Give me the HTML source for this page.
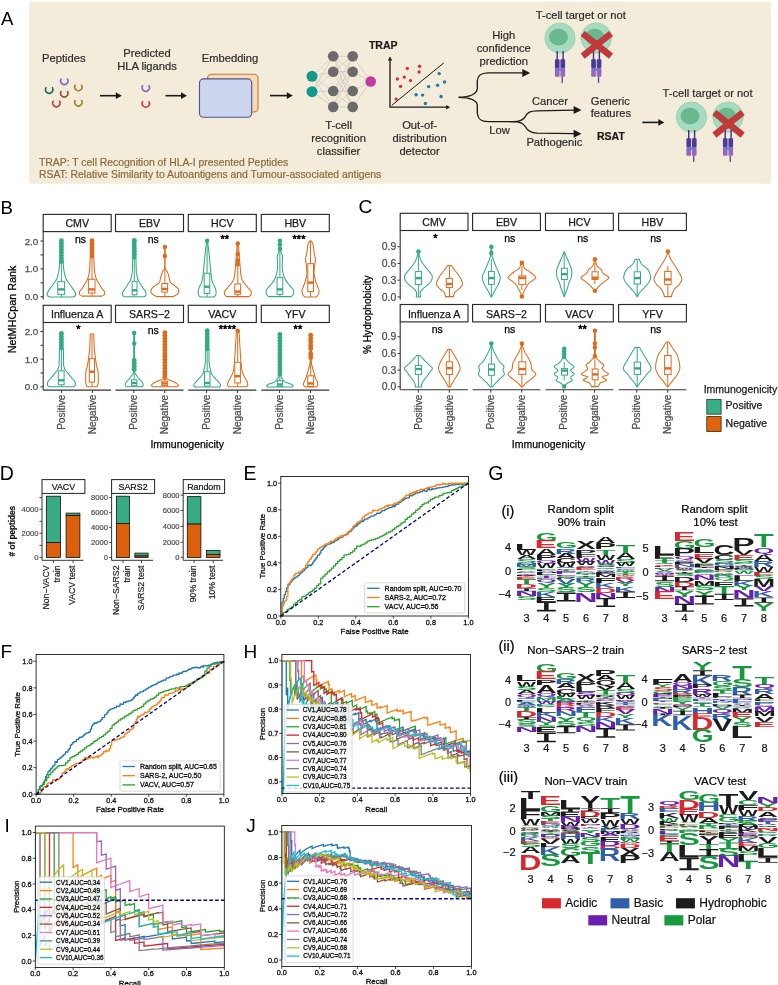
<!DOCTYPE html>
<html><head><meta charset="utf-8"><style>
html,body{margin:0;padding:0;background:#fff;width:778px;height:985px;overflow:hidden}
svg{display:block}
text{font-family:"Liberation Sans", sans-serif}
</style></head><body>
<svg style="will-change:transform" width="778" height="985" viewBox="0 0 778 985">
<text x="0.90" y="24.80" font-size="18.6" fill="#000">A</text>
<rect x="29.2" y="1.6" width="741.9" height="182.2" rx="2.2" fill="#f4ecda"/>
<text x="63.80" y="61.80" font-size="11.2" fill="#2b2b2b" text-anchor="middle" stroke="#2b2b2b" stroke-width="0.2">Peptides</text>
<text x="147.00" y="57.00" font-size="11.2" fill="#2b2b2b" text-anchor="middle" stroke="#2b2b2b" stroke-width="0.2">Predicted</text>
<text x="147.00" y="70.00" font-size="11.2" fill="#2b2b2b" text-anchor="middle" stroke="#2b2b2b" stroke-width="0.2">HLA ligands</text>
<text x="230.00" y="62.00" font-size="11.2" fill="#2b2b2b" text-anchor="middle" stroke="#2b2b2b" stroke-width="0.2">Embedding</text>
<path d="M52.40,87.65 A3.7,3.7 0 1 1 46.00,87.65" fill="none" stroke="#1f6e5a" stroke-width="1.55" stroke-linecap="round"/>
<path d="M67.50,78.95 A3.7,3.7 0 1 1 61.10,78.95" fill="none" stroke="#8a62c2" stroke-width="1.55" stroke-linecap="round"/>
<path d="M81.60,85.05 A3.7,3.7 0 1 1 75.20,85.05" fill="none" stroke="#b37730" stroke-width="1.55" stroke-linecap="round"/>
<path d="M67.50,91.45 A3.7,3.7 0 1 1 61.10,91.45" fill="none" stroke="#99582a" stroke-width="1.55" stroke-linecap="round"/>
<path d="M59.60,101.15 A3.7,3.7 0 1 1 53.20,101.15" fill="none" stroke="#cc3b45" stroke-width="1.55" stroke-linecap="round"/>
<path d="M81.60,100.45 A3.7,3.7 0 1 1 75.20,100.45" fill="none" stroke="#9c8529" stroke-width="1.55" stroke-linecap="round"/>
<path d="M149.00,85.75 A3.7,3.7 0 1 1 142.60,85.75" fill="none" stroke="#8a62c2" stroke-width="1.55" stroke-linecap="round"/>
<path d="M149.00,101.55 A3.7,3.7 0 1 1 142.60,101.55" fill="none" stroke="#cc3b45" stroke-width="1.55" stroke-linecap="round"/>
<line x1="100" y1="95.7" x2="116.3" y2="95.7" stroke="#1a1a1a" stroke-width="1.6"/><path d="M121.8,95.7 L115.8,92.3 L115.8,99.10000000000001 Z" fill="#1a1a1a"/>
<line x1="165.5" y1="95.7" x2="181.5" y2="95.7" stroke="#1a1a1a" stroke-width="1.6"/><path d="M187,95.7 L181,92.3 L181,99.10000000000001 Z" fill="#1a1a1a"/>
<line x1="270" y1="95.6" x2="287.3" y2="95.6" stroke="#1a1a1a" stroke-width="1.6"/><path d="M292.8,95.6 L286.8,92.19999999999999 L286.8,99.0 Z" fill="#1a1a1a"/>
<line x1="642.3" y1="122.4" x2="658.8" y2="122.4" stroke="#1a1a1a" stroke-width="1.6"/><path d="M664.3,122.4 L658.3,119.0 L658.3,125.80000000000001 Z" fill="#1a1a1a"/>
<rect x="207.5" y="74.3" width="50.5" height="37.7" rx="4" fill="#f7dbb5" stroke="#b87a3c" stroke-width="1.1"/>
<rect x="199.5" y="78.9" width="52.2" height="38.3" rx="4" fill="#cdd5ee" stroke="#4a5592" stroke-width="1.1"/>
<line x1="312" y1="76.3" x2="333.2" y2="56.3" stroke="#c4c0bb" stroke-width="0.6"/>
<line x1="312" y1="76.3" x2="333.2" y2="71.7" stroke="#c4c0bb" stroke-width="0.6"/>
<line x1="312" y1="76.3" x2="333.2" y2="91" stroke="#c4c0bb" stroke-width="0.6"/>
<line x1="312" y1="76.3" x2="333.2" y2="106.9" stroke="#c4c0bb" stroke-width="0.6"/>
<line x1="312" y1="91.7" x2="333.2" y2="56.3" stroke="#c4c0bb" stroke-width="0.6"/>
<line x1="312" y1="91.7" x2="333.2" y2="71.7" stroke="#c4c0bb" stroke-width="0.6"/>
<line x1="312" y1="91.7" x2="333.2" y2="91" stroke="#c4c0bb" stroke-width="0.6"/>
<line x1="312" y1="91.7" x2="333.2" y2="106.9" stroke="#c4c0bb" stroke-width="0.6"/>
<line x1="333.2" y1="56.3" x2="352.7" y2="56.3" stroke="#c4c0bb" stroke-width="0.6"/>
<line x1="333.2" y1="56.3" x2="352.7" y2="71.7" stroke="#c4c0bb" stroke-width="0.6"/>
<line x1="333.2" y1="56.3" x2="352.7" y2="91" stroke="#c4c0bb" stroke-width="0.6"/>
<line x1="333.2" y1="56.3" x2="352.7" y2="106.9" stroke="#c4c0bb" stroke-width="0.6"/>
<line x1="333.2" y1="71.7" x2="352.7" y2="56.3" stroke="#c4c0bb" stroke-width="0.6"/>
<line x1="333.2" y1="71.7" x2="352.7" y2="71.7" stroke="#c4c0bb" stroke-width="0.6"/>
<line x1="333.2" y1="71.7" x2="352.7" y2="91" stroke="#c4c0bb" stroke-width="0.6"/>
<line x1="333.2" y1="71.7" x2="352.7" y2="106.9" stroke="#c4c0bb" stroke-width="0.6"/>
<line x1="333.2" y1="91" x2="352.7" y2="56.3" stroke="#c4c0bb" stroke-width="0.6"/>
<line x1="333.2" y1="91" x2="352.7" y2="71.7" stroke="#c4c0bb" stroke-width="0.6"/>
<line x1="333.2" y1="91" x2="352.7" y2="91" stroke="#c4c0bb" stroke-width="0.6"/>
<line x1="333.2" y1="91" x2="352.7" y2="106.9" stroke="#c4c0bb" stroke-width="0.6"/>
<line x1="333.2" y1="106.9" x2="352.7" y2="56.3" stroke="#c4c0bb" stroke-width="0.6"/>
<line x1="333.2" y1="106.9" x2="352.7" y2="71.7" stroke="#c4c0bb" stroke-width="0.6"/>
<line x1="333.2" y1="106.9" x2="352.7" y2="91" stroke="#c4c0bb" stroke-width="0.6"/>
<line x1="333.2" y1="106.9" x2="352.7" y2="106.9" stroke="#c4c0bb" stroke-width="0.6"/>
<line x1="352.7" y1="56.3" x2="370.7" y2="81.5" stroke="#c4c0bb" stroke-width="0.6"/>
<line x1="352.7" y1="71.7" x2="370.7" y2="81.5" stroke="#c4c0bb" stroke-width="0.6"/>
<line x1="352.7" y1="91" x2="370.7" y2="81.5" stroke="#c4c0bb" stroke-width="0.6"/>
<line x1="352.7" y1="106.9" x2="370.7" y2="81.5" stroke="#c4c0bb" stroke-width="0.6"/>
<circle cx="312" cy="76.3" r="5.5" fill="#12998c"/>
<circle cx="312" cy="91.7" r="5.5" fill="#12998c"/>
<circle cx="333.2" cy="56.3" r="5.3" fill="#6b6b6b"/>
<circle cx="333.2" cy="71.7" r="5.3" fill="#6b6b6b"/>
<circle cx="333.2" cy="91" r="5.3" fill="#6b6b6b"/>
<circle cx="333.2" cy="106.9" r="5.3" fill="#6b6b6b"/>
<circle cx="352.7" cy="56.3" r="5.3" fill="#6b6b6b"/>
<circle cx="352.7" cy="71.7" r="5.3" fill="#6b6b6b"/>
<circle cx="352.7" cy="91" r="5.3" fill="#6b6b6b"/>
<circle cx="352.7" cy="106.9" r="5.3" fill="#6b6b6b"/>
<circle cx="370.7" cy="81.5" r="5.3" fill="#c4399f"/>
<text x="338.60" y="129.20" font-size="11.2" fill="#2b2b2b" text-anchor="middle" stroke="#2b2b2b" stroke-width="0.2">T-cell</text>
<text x="338.60" y="141.90" font-size="11.2" fill="#2b2b2b" text-anchor="middle" stroke="#2b2b2b" stroke-width="0.2">recognition</text>
<text x="338.60" y="154.60" font-size="11.2" fill="#2b2b2b" text-anchor="middle" stroke="#2b2b2b" stroke-width="0.2">classifier</text>
<text x="383.20" y="48.90" font-size="10.5" fill="#1a1a1a" text-anchor="middle" font-weight="bold" stroke="#1a1a1a" stroke-width="0.2">TRAP</text>
<path d="M390,59 V107.2 H448" fill="none" stroke="#1a1a1a" stroke-width="1.3"/>
<path d="M390,56.6 l-2.2,4 h4.4 z M450.2,107.2 l-4,-2.2 v4.4 z" fill="#1a1a1a"/>
<line x1="391.8" y1="105.3" x2="443.9" y2="62.8" stroke="#1a1a1a" stroke-width="1"/>
<circle cx="407.3" cy="68.5" r="1.7" fill="#d8303a"/>
<circle cx="419.6" cy="66.2" r="1.7" fill="#d8303a"/>
<circle cx="419.1" cy="72" r="1.7" fill="#d8303a"/>
<circle cx="397.4" cy="79" r="1.7" fill="#d8303a"/>
<circle cx="404.3" cy="77.1" r="1.7" fill="#d8303a"/>
<circle cx="410.5" cy="80.6" r="1.7" fill="#d8303a"/>
<circle cx="400.6" cy="86.4" r="1.7" fill="#d8303a"/>
<circle cx="396.2" cy="99.1" r="1.7" fill="#d8303a"/>
<circle cx="439.2" cy="73.6" r="1.7" fill="#1a78b4"/>
<circle cx="444.6" cy="82" r="1.7" fill="#1a78b4"/>
<circle cx="437.6" cy="85.2" r="1.7" fill="#1a78b4"/>
<circle cx="428.6" cy="86.6" r="1.7" fill="#1a78b4"/>
<circle cx="416.1" cy="94.7" r="1.7" fill="#1a78b4"/>
<circle cx="422.6" cy="95.1" r="1.7" fill="#1a78b4"/>
<circle cx="441.1" cy="96.5" r="1.7" fill="#1a78b4"/>
<circle cx="425.4" cy="103.5" r="1.7" fill="#1a78b4"/>
<text x="419.60" y="129.20" font-size="11.2" fill="#2b2b2b" text-anchor="middle" stroke="#2b2b2b" stroke-width="0.2">Out-of-</text>
<text x="419.60" y="141.90" font-size="11.2" fill="#2b2b2b" text-anchor="middle" stroke="#2b2b2b" stroke-width="0.2">distribution</text>
<text x="419.60" y="154.60" font-size="11.2" fill="#2b2b2b" text-anchor="middle" stroke="#2b2b2b" stroke-width="0.2">detector</text>
<path d="M458.6,97.3 C468,97.1 476.6,95.5 477.3,88.5 L477.3,81 C477.6,75.5 480.5,73.1 488,72.9 L524,72.9" fill="none" stroke="#1a1a1a" stroke-width="1.35"/>
<path d="M530.2,72.9 L522.3,68.9 L522.3,76.9 Z" fill="#1a1a1a"/>
<path d="M458.6,97.3 C468,97.5 476.6,99.2 477.3,105 L477.3,113 C477.8,119.3 481,121.6 488,121.7 L513.3,121.7 C520,121.6 523.5,119.8 525.5,116.3 C527.5,112.5 530,110.9 537,110.8 L575,110.2" fill="none" stroke="#1a1a1a" stroke-width="1.35"/>
<path d="M581.5,110.1 L573.6,106.1 L573.6,114.1 Z" fill="#1a1a1a"/>
<path d="M513.3,121.7 C520,121.8 523.2,123.3 525.2,126.5 C527.3,130.3 530,132.9 537,133.2 L575,133.6" fill="none" stroke="#1a1a1a" stroke-width="1.35"/>
<path d="M581.5,133.7 L573.6,129.7 L573.6,137.7 Z" fill="#1a1a1a"/>
<text x="503.70" y="39.30" font-size="11.2" fill="#2b2b2b" text-anchor="middle" stroke="#2b2b2b" stroke-width="0.2">High</text>
<text x="503.70" y="52.00" font-size="11.2" fill="#2b2b2b" text-anchor="middle" stroke="#2b2b2b" stroke-width="0.2">confidence</text>
<text x="503.70" y="65.20" font-size="11.2" fill="#2b2b2b" text-anchor="middle" stroke="#2b2b2b" stroke-width="0.2">prediction</text>
<text x="532.00" y="104.60" font-size="11.2" fill="#2b2b2b" stroke="#2b2b2b" stroke-width="0.2">Cancer</text>
<text x="489.30" y="134.20" font-size="11.2" fill="#2b2b2b" stroke="#2b2b2b" stroke-width="0.2">Low</text>
<text x="526.40" y="145.80" font-size="11.2" fill="#2b2b2b" stroke="#2b2b2b" stroke-width="0.2">Pathogenic</text>
<text x="590.70" y="104.60" font-size="11.2" fill="#2b2b2b" stroke="#2b2b2b" stroke-width="0.2">Generic</text>
<text x="590.70" y="116.80" font-size="11.2" fill="#2b2b2b" stroke="#2b2b2b" stroke-width="0.2">features</text>
<text x="597.00" y="140.00" font-size="10.5" fill="#1a1a1a" font-weight="bold" stroke="#1a1a1a" stroke-width="0.2">RSAT</text>
<text x="580.80" y="19.00" font-size="11.2" fill="#2b2b2b" text-anchor="middle" stroke="#2b2b2b" stroke-width="0.2">T-cell target or not</text>
<text x="707.60" y="97.40" font-size="11.2" fill="#2b2b2b" text-anchor="middle" stroke="#2b2b2b" stroke-width="0.2">T-cell target or not</text>
<circle cx="560" cy="38.1" r="15.2" fill="#a7dbc0" stroke="#8cc4a8" stroke-width="0.6"/><ellipse cx="558.5" cy="37.1" rx="9.5" ry="8.4" fill="#6ab98e"/><rect x="556.5" y="51.0" width="1.4" height="9" fill="#3d2f85"/><rect x="562.4" y="51.0" width="1.4" height="9" fill="#3d2f85"/><rect x="554.9" y="59.2" width="4.7" height="8.8" rx="0.8" fill="#4b3a98"/><rect x="560.4" y="59.2" width="4.7" height="8.8" rx="0.8" fill="#4b3a98"/><rect x="554.9" y="68.0" width="4.7" height="8.7" rx="0.8" fill="#9468bf"/><rect x="560.4" y="68.0" width="4.7" height="8.7" rx="0.8" fill="#9468bf"/><ellipse cx="560" cy="69.5" rx="2.2" ry="1.2" fill="#3f8fd8"/><rect x="561.6" y="76.7" width="1.3" height="6.2" fill="#5a3e9e"/>
<circle cx="596.3" cy="38.1" r="15.2" fill="#a7dbc0" stroke="#8cc4a8" stroke-width="0.6"/><ellipse cx="594.8" cy="37.1" rx="9.5" ry="8.4" fill="#6ab98e"/><rect x="592.8" y="51.0" width="1.4" height="9" fill="#3d2f85"/><rect x="598.7" y="51.0" width="1.4" height="9" fill="#3d2f85"/><rect x="591.2" y="59.2" width="4.7" height="8.8" rx="0.8" fill="#4b3a98"/><rect x="596.7" y="59.2" width="4.7" height="8.8" rx="0.8" fill="#4b3a98"/><rect x="591.2" y="68.0" width="4.7" height="8.7" rx="0.8" fill="#9468bf"/><rect x="596.7" y="68.0" width="4.7" height="8.7" rx="0.8" fill="#9468bf"/><ellipse cx="596.3" cy="69.5" rx="2.2" ry="1.2" fill="#3f8fd8"/><rect x="597.9" y="76.7" width="1.3" height="6.2" fill="#5a3e9e"/><path d="M582.6999999999999,33.5 L611.0,56.1 M611.0,33.5 L582.6999999999999,56.1" stroke="#c0393b" stroke-width="6.5" stroke-linecap="butt"/>
<circle cx="691.5" cy="117.1" r="15.2" fill="#a7dbc0" stroke="#8cc4a8" stroke-width="0.6"/><ellipse cx="690.0" cy="116.1" rx="9.5" ry="8.4" fill="#6ab98e"/><rect x="688.0" y="130.0" width="1.4" height="9" fill="#3d2f85"/><rect x="693.9" y="130.0" width="1.4" height="9" fill="#3d2f85"/><rect x="686.4" y="138.2" width="4.7" height="8.8" rx="0.8" fill="#4b3a98"/><rect x="691.9" y="138.2" width="4.7" height="8.8" rx="0.8" fill="#4b3a98"/><rect x="686.4" y="147.0" width="4.7" height="8.7" rx="0.8" fill="#9468bf"/><rect x="691.9" y="147.0" width="4.7" height="8.7" rx="0.8" fill="#9468bf"/><ellipse cx="691.5" cy="148.5" rx="2.2" ry="1.2" fill="#3f8fd8"/><rect x="693.1" y="155.7" width="1.3" height="6.2" fill="#5a3e9e"/>
<circle cx="728" cy="117.1" r="15.2" fill="#a7dbc0" stroke="#8cc4a8" stroke-width="0.6"/><ellipse cx="726.5" cy="116.1" rx="9.5" ry="8.4" fill="#6ab98e"/><rect x="724.5" y="130.0" width="1.4" height="9" fill="#3d2f85"/><rect x="730.4" y="130.0" width="1.4" height="9" fill="#3d2f85"/><rect x="722.9" y="138.2" width="4.7" height="8.8" rx="0.8" fill="#4b3a98"/><rect x="728.4" y="138.2" width="4.7" height="8.8" rx="0.8" fill="#4b3a98"/><rect x="722.9" y="147.0" width="4.7" height="8.7" rx="0.8" fill="#9468bf"/><rect x="728.4" y="147.0" width="4.7" height="8.7" rx="0.8" fill="#9468bf"/><ellipse cx="728" cy="148.5" rx="2.2" ry="1.2" fill="#3f8fd8"/><rect x="729.6" y="155.7" width="1.3" height="6.2" fill="#5a3e9e"/><path d="M714.4,112.5 L742.7,135.1 M742.7,112.5 L714.4,135.1" stroke="#c0393b" stroke-width="6.5" stroke-linecap="butt"/>
<text x="39.00" y="166.10" font-size="10.4" fill="#8b6a3a" stroke="#8b6a3a" stroke-width="0.2">TRAP: T cell Recognition of HLA-I presented Peptides</text>
<text x="39.00" y="177.90" font-size="10.4" fill="#8b6a3a" stroke="#8b6a3a" stroke-width="0.2">RSAT: Relative Similarity to Autoantigens and Tumour-associated antigens</text>
<text x="0.50" y="213.50" font-size="18.6" fill="#000">B</text>
<text x="358.60" y="213.20" font-size="19.2" fill="#000">C</text>
<rect x="43.20" y="214.40" width="68.00" height="17.20" fill="#fff" stroke="#2a2a2a" stroke-width="1.15"/>
<text x="77.20" y="227.30" font-size="10.6" fill="#1a1a1a" text-anchor="middle" stroke="#1a1a1a" stroke-width="0.25">CMV</text>
<rect x="43.20" y="305.30" width="68.00" height="17.20" fill="#fff" stroke="#2a2a2a" stroke-width="1.15"/>
<text x="77.20" y="318.20" font-size="10.6" fill="#1a1a1a" text-anchor="middle" stroke="#1a1a1a" stroke-width="0.25">Influenza A</text>
<rect x="115.50" y="214.40" width="68.00" height="17.20" fill="#fff" stroke="#2a2a2a" stroke-width="1.15"/>
<text x="149.50" y="227.30" font-size="10.6" fill="#1a1a1a" text-anchor="middle" stroke="#1a1a1a" stroke-width="0.25">EBV</text>
<rect x="115.50" y="305.30" width="68.00" height="17.20" fill="#fff" stroke="#2a2a2a" stroke-width="1.15"/>
<text x="149.50" y="318.20" font-size="10.6" fill="#1a1a1a" text-anchor="middle" stroke="#1a1a1a" stroke-width="0.25">SARS−2</text>
<rect x="188.30" y="214.40" width="68.00" height="17.20" fill="#fff" stroke="#2a2a2a" stroke-width="1.15"/>
<text x="222.30" y="227.30" font-size="10.6" fill="#1a1a1a" text-anchor="middle" stroke="#1a1a1a" stroke-width="0.25">HCV</text>
<rect x="188.30" y="305.30" width="68.00" height="17.20" fill="#fff" stroke="#2a2a2a" stroke-width="1.15"/>
<text x="222.30" y="318.20" font-size="10.6" fill="#1a1a1a" text-anchor="middle" stroke="#1a1a1a" stroke-width="0.25">VACV</text>
<rect x="261.30" y="214.40" width="68.00" height="17.20" fill="#fff" stroke="#2a2a2a" stroke-width="1.15"/>
<text x="295.30" y="227.30" font-size="10.6" fill="#1a1a1a" text-anchor="middle" stroke="#1a1a1a" stroke-width="0.25">HBV</text>
<rect x="261.30" y="305.30" width="68.00" height="17.20" fill="#fff" stroke="#2a2a2a" stroke-width="1.15"/>
<text x="295.30" y="318.20" font-size="10.6" fill="#1a1a1a" text-anchor="middle" stroke="#1a1a1a" stroke-width="0.25">YFV</text>
<line x1="43.2" y1="231.6" x2="43.2" y2="299.6" stroke="#333" stroke-width="1.1"/>
<line x1="40.5" y1="296.80" x2="43.2" y2="296.80" stroke="#333" stroke-width="1"/>
<text x="38.30" y="300.30" font-size="9.8" fill="#4d4d4d" text-anchor="end" stroke="#4d4d4d" stroke-width="0.25">0.0</text>
<line x1="40.5" y1="282.85" x2="43.2" y2="282.85" stroke="#333" stroke-width="1"/>
<line x1="40.5" y1="268.90" x2="43.2" y2="268.90" stroke="#333" stroke-width="1"/>
<text x="38.30" y="272.40" font-size="9.8" fill="#4d4d4d" text-anchor="end" stroke="#4d4d4d" stroke-width="0.25">1.0</text>
<line x1="40.5" y1="254.95" x2="43.2" y2="254.95" stroke="#333" stroke-width="1"/>
<line x1="40.5" y1="241.00" x2="43.2" y2="241.00" stroke="#333" stroke-width="1"/>
<text x="38.30" y="244.50" font-size="9.8" fill="#4d4d4d" text-anchor="end" stroke="#4d4d4d" stroke-width="0.25">2.0</text>
<line x1="43.2" y1="322.5" x2="43.2" y2="390.1" stroke="#333" stroke-width="1.1"/>
<line x1="40.5" y1="386.80" x2="43.2" y2="386.80" stroke="#333" stroke-width="1"/>
<text x="38.30" y="390.30" font-size="9.8" fill="#4d4d4d" text-anchor="end" stroke="#4d4d4d" stroke-width="0.25">0.0</text>
<line x1="40.5" y1="372.98" x2="43.2" y2="372.98" stroke="#333" stroke-width="1"/>
<line x1="40.5" y1="359.15" x2="43.2" y2="359.15" stroke="#333" stroke-width="1"/>
<text x="38.30" y="362.65" font-size="9.8" fill="#4d4d4d" text-anchor="end" stroke="#4d4d4d" stroke-width="0.25">1.0</text>
<line x1="40.5" y1="345.32" x2="43.2" y2="345.32" stroke="#333" stroke-width="1"/>
<line x1="40.5" y1="331.50" x2="43.2" y2="331.50" stroke="#333" stroke-width="1"/>
<text x="38.30" y="335.00" font-size="9.8" fill="#4d4d4d" text-anchor="end" stroke="#4d4d4d" stroke-width="0.25">2.0</text>
<line x1="43.20" y1="390.1" x2="111.20" y2="390.1" stroke="#333" stroke-width="1.1"/>
<line x1="61.50" y1="390.1" x2="61.50" y2="393" stroke="#333" stroke-width="1"/>
<text x="65.00" y="394.80" font-size="10" fill="#4d4d4d" text-anchor="end" transform="rotate(-90 65.00 394.80)" stroke="#4d4d4d" stroke-width="0.25">Positive</text>
<line x1="92.40" y1="390.1" x2="92.40" y2="393" stroke="#333" stroke-width="1"/>
<text x="95.90" y="394.80" font-size="10" fill="#4d4d4d" text-anchor="end" transform="rotate(-90 95.90 394.80)" stroke="#4d4d4d" stroke-width="0.25">Negative</text>
<line x1="115.50" y1="390.1" x2="183.50" y2="390.1" stroke="#333" stroke-width="1.1"/>
<line x1="133.80" y1="390.1" x2="133.80" y2="393" stroke="#333" stroke-width="1"/>
<text x="137.30" y="394.80" font-size="10" fill="#4d4d4d" text-anchor="end" transform="rotate(-90 137.30 394.80)" stroke="#4d4d4d" stroke-width="0.25">Positive</text>
<line x1="164.70" y1="390.1" x2="164.70" y2="393" stroke="#333" stroke-width="1"/>
<text x="168.20" y="394.80" font-size="10" fill="#4d4d4d" text-anchor="end" transform="rotate(-90 168.20 394.80)" stroke="#4d4d4d" stroke-width="0.25">Negative</text>
<line x1="188.30" y1="390.1" x2="256.30" y2="390.1" stroke="#333" stroke-width="1.1"/>
<line x1="206.60" y1="390.1" x2="206.60" y2="393" stroke="#333" stroke-width="1"/>
<text x="210.10" y="394.80" font-size="10" fill="#4d4d4d" text-anchor="end" transform="rotate(-90 210.10 394.80)" stroke="#4d4d4d" stroke-width="0.25">Positive</text>
<line x1="237.50" y1="390.1" x2="237.50" y2="393" stroke="#333" stroke-width="1"/>
<text x="241.00" y="394.80" font-size="10" fill="#4d4d4d" text-anchor="end" transform="rotate(-90 241.00 394.80)" stroke="#4d4d4d" stroke-width="0.25">Negative</text>
<line x1="261.30" y1="390.1" x2="329.30" y2="390.1" stroke="#333" stroke-width="1.1"/>
<line x1="279.60" y1="390.1" x2="279.60" y2="393" stroke="#333" stroke-width="1"/>
<text x="283.10" y="394.80" font-size="10" fill="#4d4d4d" text-anchor="end" transform="rotate(-90 283.10 394.80)" stroke="#4d4d4d" stroke-width="0.25">Positive</text>
<line x1="310.50" y1="390.1" x2="310.50" y2="393" stroke="#333" stroke-width="1"/>
<text x="314.00" y="394.80" font-size="10" fill="#4d4d4d" text-anchor="end" transform="rotate(-90 314.00 394.80)" stroke="#4d4d4d" stroke-width="0.25">Negative</text>
<text x="16.30" y="309.40" font-size="10.8" fill="#000" text-anchor="middle" transform="rotate(-90 16.30 309.40)" stroke="#000" stroke-width="0.25">NetMHCpan Rank</text>
<text x="187.20" y="448.20" font-size="10.5" fill="#000" text-anchor="middle" stroke="#000" stroke-width="0.25">Immunogenicity</text>
<text x="80.50" y="242.70" font-size="10.5" fill="#000" text-anchor="middle" stroke="#000" stroke-width="0.25">ns</text>
<text x="153.20" y="242.70" font-size="10.5" fill="#000" text-anchor="middle" stroke="#000" stroke-width="0.25">ns</text>
<text x="224.80" y="242.80" font-size="11" fill="#000" text-anchor="middle" stroke="#000" stroke-width="0.55">**</text>
<text x="299.00" y="242.80" font-size="11" fill="#000" text-anchor="middle" stroke="#000" stroke-width="0.55">***</text>
<text x="78.40" y="332.80" font-size="11" fill="#000" text-anchor="middle" stroke="#000" stroke-width="0.55">*</text>
<text x="153.20" y="333.50" font-size="10.5" fill="#000" text-anchor="middle" stroke="#000" stroke-width="0.25">ns</text>
<text x="227.40" y="333.30" font-size="11" fill="#000" text-anchor="middle" stroke="#000" stroke-width="0.55">****</text>
<text x="297.90" y="333.30" font-size="11" fill="#000" text-anchor="middle" stroke="#000" stroke-width="0.55">**</text>
<path d="M61.5,240.8 61.8,242.1 61.8,243.4 61.9,244.6 61.9,245.9 62.0,247.2 62.0,248.5 62.0,249.7 62.0,251.0 62.0,252.3 62.1,253.6 62.1,254.9 62.1,256.1 62.2,257.4 62.3,258.7 62.5,260.0 63.0,261.2 63.2,262.5 63.3,263.8 63.4,265.1 63.5,266.4 63.6,267.6 63.7,268.9 63.9,270.2 64.1,271.5 64.3,272.7 64.6,274.0 64.9,275.3 65.2,276.6 65.6,277.9 66.1,279.1 66.9,280.4 67.8,281.7 68.8,283.0 69.7,284.3 70.6,285.5 71.5,286.8 72.4,288.1 73.2,289.4 74.1,290.6 74.9,291.9 75.4,293.2 75.8,294.5 75.3,295.8 73.1,297.0 49.7,297.0 47.5,295.8 47.0,294.5 47.4,293.2 47.9,291.9 48.7,290.6 49.6,289.4 50.4,288.1 51.3,286.8 52.2,285.5 53.1,284.3 54.0,283.0 55.0,281.7 55.9,280.4 56.7,279.1 57.2,277.9 57.6,276.6 57.9,275.3 58.2,274.0 58.5,272.7 58.7,271.5 58.9,270.2 59.1,268.9 59.2,267.6 59.3,266.4 59.4,265.1 59.5,263.8 59.6,262.5 59.8,261.2 60.3,260.0 60.5,258.7 60.6,257.4 60.7,256.1 60.7,254.9 60.7,253.6 60.8,252.3 60.8,251.0 60.8,249.7 60.8,248.5 60.8,247.2 60.9,245.9 60.9,244.6 61.0,243.4 61.0,242.1 61.3,240.8Z" fill="none" stroke="#33a985" stroke-width="1.05" stroke-linejoin="round"/>
<line x1="61.40" y1="261.50" x2="61.40" y2="281.70" stroke="#33a985" stroke-width="1"/>
<line x1="61.40" y1="294.30" x2="61.40" y2="297.00" stroke="#33a985" stroke-width="1"/>
<rect x="57.80" y="281.70" width="6.80" height="12.60" fill="#fff" stroke="#33a985" stroke-width="1"/>
<line x1="57.80" y1="289.40" x2="64.60" y2="289.40" stroke="#33a985" stroke-width="2.4"/>
<circle cx="61.40" cy="240.80" r="2.45" fill="#33a985"/>
<circle cx="61.40" cy="243.75" r="2.45" fill="#33a985"/>
<circle cx="61.40" cy="246.71" r="2.45" fill="#33a985"/>
<circle cx="61.40" cy="249.67" r="2.45" fill="#33a985"/>
<circle cx="61.40" cy="252.62" r="2.45" fill="#33a985"/>
<circle cx="61.40" cy="255.58" r="2.45" fill="#33a985"/>
<circle cx="61.40" cy="258.54" r="2.45" fill="#33a985"/>
<circle cx="61.40" cy="261.49" r="2.45" fill="#33a985"/>
<path d="M92.1,240.8 92.4,242.1 92.5,243.3 92.5,244.6 92.6,245.8 92.6,247.1 92.6,248.3 92.6,249.6 92.7,250.9 92.7,252.1 92.8,253.4 92.9,254.6 93.3,255.9 93.6,257.1 93.8,258.4 93.9,259.7 94.0,260.9 94.0,262.2 94.1,263.4 94.1,264.7 94.2,265.9 94.3,267.2 94.3,268.5 94.4,269.7 94.6,271.0 94.7,272.2 94.9,273.5 95.2,274.8 95.5,276.0 95.8,277.3 96.2,278.5 96.6,279.8 97.3,281.0 98.1,282.3 98.9,283.6 99.7,284.8 100.4,286.1 101.2,287.3 102.0,288.6 103.1,289.8 104.2,291.1 104.6,292.4 104.6,293.6 104.3,294.9 101.9,296.1 82.1,296.1 79.7,294.9 79.4,293.6 79.4,292.4 79.8,291.1 80.9,289.8 82.0,288.6 82.8,287.3 83.6,286.1 84.3,284.8 85.1,283.6 85.9,282.3 86.7,281.0 87.4,279.8 87.8,278.5 88.2,277.3 88.5,276.0 88.8,274.8 89.1,273.5 89.3,272.2 89.4,271.0 89.6,269.7 89.7,268.5 89.7,267.2 89.8,265.9 89.9,264.7 89.9,263.4 90.0,262.2 90.0,260.9 90.1,259.7 90.2,258.4 90.4,257.1 90.7,255.9 91.1,254.6 91.2,253.4 91.3,252.1 91.3,250.9 91.4,249.6 91.4,248.3 91.4,247.1 91.4,245.8 91.5,244.6 91.5,243.3 91.6,242.1 91.9,240.8Z" fill="none" stroke="#de6a1c" stroke-width="1.05" stroke-linejoin="round"/>
<line x1="92.00" y1="257.00" x2="92.00" y2="279.30" stroke="#de6a1c" stroke-width="1"/>
<line x1="92.00" y1="293.00" x2="92.00" y2="296.10" stroke="#de6a1c" stroke-width="1"/>
<rect x="88.40" y="279.30" width="6.60" height="13.70" fill="#fff" stroke="#de6a1c" stroke-width="1"/>
<line x1="88.40" y1="289.40" x2="95.00" y2="289.40" stroke="#de6a1c" stroke-width="2.4"/>
<circle cx="92.00" cy="240.80" r="2.45" fill="#de6a1c"/>
<circle cx="92.00" cy="243.86" r="2.45" fill="#de6a1c"/>
<circle cx="92.00" cy="246.92" r="2.45" fill="#de6a1c"/>
<circle cx="92.00" cy="249.97" r="2.45" fill="#de6a1c"/>
<circle cx="92.00" cy="253.03" r="2.45" fill="#de6a1c"/>
<circle cx="92.00" cy="256.09" r="2.45" fill="#de6a1c"/>
<path d="M134.4,240.3 134.7,241.6 134.7,242.9 134.8,244.2 134.8,245.5 134.9,246.8 134.9,248.0 134.9,249.3 134.9,250.6 135.0,251.9 135.0,253.2 135.1,254.5 135.1,255.7 135.3,257.0 135.8,258.3 136.0,259.6 136.0,260.9 136.1,262.1 136.1,263.4 136.1,264.7 136.1,266.0 136.2,267.3 136.2,268.6 136.2,269.8 136.3,271.1 136.4,272.4 136.6,273.7 136.8,275.0 137.1,276.2 137.4,277.5 137.7,278.8 138.1,280.1 138.8,281.4 139.7,282.7 140.6,283.9 141.3,285.2 142.1,286.5 142.9,287.8 143.7,289.1 144.7,290.4 145.6,291.6 146.0,292.9 146.0,294.2 145.9,295.5 144.2,296.8 124.4,296.8 122.7,295.5 122.6,294.2 122.6,292.9 123.0,291.6 123.9,290.4 124.9,289.1 125.7,287.8 126.5,286.5 127.3,285.2 128.0,283.9 128.9,282.7 129.8,281.4 130.5,280.1 130.9,278.8 131.2,277.5 131.5,276.2 131.8,275.0 132.0,273.7 132.2,272.4 132.3,271.1 132.4,269.8 132.4,268.6 132.4,267.3 132.5,266.0 132.5,264.7 132.5,263.4 132.5,262.1 132.6,260.9 132.6,259.6 132.8,258.3 133.3,257.0 133.5,255.7 133.5,254.5 133.6,253.2 133.6,251.9 133.7,250.6 133.7,249.3 133.7,248.0 133.7,246.8 133.8,245.5 133.8,244.2 133.9,242.9 133.9,241.6 134.2,240.3Z" fill="none" stroke="#33a985" stroke-width="1.05" stroke-linejoin="round"/>
<line x1="134.30" y1="258.00" x2="134.30" y2="281.30" stroke="#33a985" stroke-width="1"/>
<line x1="134.30" y1="294.80" x2="134.30" y2="296.60" stroke="#33a985" stroke-width="1"/>
<rect x="132.10" y="281.30" width="4.90" height="13.50" fill="#fff" stroke="#33a985" stroke-width="1"/>
<line x1="132.10" y1="290.30" x2="137.00" y2="290.30" stroke="#33a985" stroke-width="2.4"/>
<circle cx="134.30" cy="240.35" r="2.45" fill="#33a985"/>
<circle cx="134.30" cy="243.12" r="2.45" fill="#33a985"/>
<circle cx="134.30" cy="245.90" r="2.45" fill="#33a985"/>
<circle cx="134.30" cy="248.67" r="2.45" fill="#33a985"/>
<circle cx="134.30" cy="251.44" r="2.45" fill="#33a985"/>
<circle cx="134.30" cy="254.22" r="2.45" fill="#33a985"/>
<circle cx="134.30" cy="256.99" r="2.45" fill="#33a985"/>
<path d="M165.0,247.1 165.2,248.2 165.2,249.3 165.2,250.5 165.2,251.6 165.2,252.7 165.2,253.8 165.2,255.0 165.2,256.1 165.1,257.2 165.1,258.3 165.1,259.5 165.1,260.6 165.1,261.7 165.1,262.8 165.1,264.0 165.1,265.1 165.1,266.2 165.1,267.3 165.2,268.5 165.8,269.6 166.6,270.7 167.4,271.8 167.8,273.0 168.2,274.1 168.5,275.2 168.8,276.3 169.1,277.5 169.3,278.6 169.6,279.7 169.8,280.8 170.2,282.0 171.0,283.1 172.6,284.2 174.2,285.3 175.6,286.5 177.0,287.6 178.1,288.7 178.5,289.8 178.8,291.0 178.8,292.1 178.3,293.2 177.1,294.3 175.5,295.5 173.0,296.6 156.8,296.6 154.3,295.5 152.7,294.3 151.5,293.2 151.0,292.1 151.0,291.0 151.3,289.8 151.7,288.7 152.8,287.6 154.2,286.5 155.6,285.3 157.2,284.2 158.8,283.1 159.6,282.0 160.0,280.8 160.2,279.7 160.5,278.6 160.7,277.5 161.0,276.3 161.3,275.2 161.6,274.1 162.0,273.0 162.4,271.8 163.2,270.7 164.0,269.6 164.6,268.5 164.7,267.3 164.7,266.2 164.7,265.1 164.7,264.0 164.7,262.8 164.7,261.7 164.7,260.6 164.7,259.5 164.7,258.3 164.7,257.2 164.6,256.1 164.6,255.0 164.6,253.8 164.6,252.7 164.6,251.6 164.6,250.5 164.6,249.3 164.6,248.2 164.8,247.1Z" fill="none" stroke="#de6a1c" stroke-width="1.05" stroke-linejoin="round"/>
<line x1="164.90" y1="267.80" x2="164.90" y2="283.50" stroke="#de6a1c" stroke-width="1"/>
<line x1="164.90" y1="292.10" x2="164.90" y2="296.60" stroke="#de6a1c" stroke-width="1"/>
<rect x="161.80" y="283.50" width="5.80" height="8.60" fill="#fff" stroke="#de6a1c" stroke-width="1"/>
<line x1="161.80" y1="288.90" x2="167.60" y2="288.90" stroke="#de6a1c" stroke-width="2.4"/>
<circle cx="164.90" cy="247.10" r="2.25" fill="#de6a1c"/>
<circle cx="164.90" cy="256.09" r="2.25" fill="#de6a1c"/>
<path d="M207.5,241.7 207.7,243.0 207.9,244.2 208.1,245.5 208.3,246.7 208.4,248.0 208.6,249.2 208.7,250.5 208.8,251.8 209.0,253.0 209.1,254.3 209.2,255.5 209.3,256.8 209.5,258.0 209.6,259.3 209.7,260.6 209.8,261.8 210.0,263.1 210.1,264.3 210.2,265.6 210.3,266.8 210.4,268.1 210.6,269.4 210.7,270.6 210.8,271.9 210.9,273.1 211.1,274.4 211.2,275.7 211.4,276.9 211.6,278.2 211.8,279.4 212.1,280.7 212.4,281.9 212.9,283.2 213.6,284.5 214.3,285.7 214.8,287.0 215.3,288.2 215.7,289.5 215.9,290.7 216.1,292.0 216.1,293.3 215.8,294.5 215.3,295.8 213.8,297.0 200.4,297.0 198.9,295.8 198.4,294.5 198.1,293.3 198.1,292.0 198.3,290.7 198.5,289.5 198.9,288.2 199.4,287.0 199.9,285.7 200.6,284.5 201.3,283.2 201.8,281.9 202.1,280.7 202.4,279.4 202.6,278.2 202.8,276.9 203.0,275.7 203.1,274.4 203.3,273.1 203.4,271.9 203.5,270.6 203.6,269.4 203.8,268.1 203.9,266.8 204.0,265.6 204.1,264.3 204.2,263.1 204.4,261.8 204.5,260.6 204.6,259.3 204.7,258.0 204.9,256.8 205.0,255.5 205.1,254.3 205.2,253.0 205.4,251.8 205.5,250.5 205.6,249.2 205.8,248.0 205.9,246.7 206.1,245.5 206.3,244.2 206.5,243.0 206.7,241.7Z" fill="none" stroke="#33a985" stroke-width="1.05" stroke-linejoin="round"/>
<line x1="207.10" y1="241.50" x2="207.10" y2="273.20" stroke="#33a985" stroke-width="1"/>
<line x1="207.10" y1="293.40" x2="207.10" y2="297.00" stroke="#33a985" stroke-width="1"/>
<rect x="204.20" y="273.20" width="5.60" height="20.20" fill="#fff" stroke="#33a985" stroke-width="1"/>
<line x1="204.20" y1="286.70" x2="209.80" y2="286.70" stroke="#33a985" stroke-width="2.4"/>
<circle cx="207.10" cy="240.80" r="2.25" fill="#33a985"/>
<path d="M238.5,245.3 238.6,246.5 238.7,247.6 238.7,248.8 238.8,250.0 238.9,251.1 239.0,252.3 239.0,253.5 239.1,254.6 239.2,255.8 239.3,257.0 239.4,258.1 239.5,259.3 239.6,260.4 239.7,261.6 239.8,262.8 239.9,263.9 240.0,265.1 240.1,266.3 240.2,267.4 240.3,268.6 240.4,269.8 240.5,270.9 240.6,272.1 240.7,273.3 240.9,274.4 241.0,275.6 241.3,276.8 241.5,277.9 241.8,279.1 242.3,280.3 242.9,281.4 243.8,282.6 244.8,283.8 245.7,284.9 246.7,286.1 247.6,287.3 248.5,288.4 249.6,289.6 250.7,290.8 251.3,291.9 251.2,293.1 251.0,294.3 250.4,295.4 249.0,296.6 226.6,296.6 225.2,295.4 224.6,294.3 224.4,293.1 224.3,291.9 224.9,290.8 226.0,289.6 227.1,288.4 228.0,287.3 228.9,286.1 229.9,284.9 230.8,283.8 231.8,282.6 232.7,281.4 233.3,280.3 233.8,279.1 234.1,277.9 234.3,276.8 234.6,275.6 234.7,274.4 234.9,273.3 235.0,272.1 235.1,270.9 235.2,269.8 235.3,268.6 235.4,267.4 235.5,266.3 235.6,265.1 235.7,263.9 235.8,262.8 235.9,261.6 236.0,260.4 236.1,259.3 236.2,258.1 236.3,257.0 236.4,255.8 236.5,254.6 236.6,253.5 236.6,252.3 236.7,251.1 236.8,250.0 236.9,248.8 236.9,247.6 237.0,246.5 237.1,245.3Z" fill="none" stroke="#de6a1c" stroke-width="1.05" stroke-linejoin="round"/>
<line x1="237.80" y1="245.00" x2="237.80" y2="284.00" stroke="#de6a1c" stroke-width="1"/>
<line x1="237.80" y1="294.30" x2="237.80" y2="296.60" stroke="#de6a1c" stroke-width="1"/>
<rect x="234.80" y="284.00" width="5.80" height="10.30" fill="#fff" stroke="#de6a1c" stroke-width="1"/>
<line x1="234.80" y1="291.60" x2="240.60" y2="291.60" stroke="#de6a1c" stroke-width="2.4"/>
<circle cx="237.80" cy="243.50" r="2.25" fill="#de6a1c"/>
<circle cx="237.80" cy="254.29" r="2.25" fill="#de6a1c"/>
<circle cx="237.80" cy="260.59" r="2.25" fill="#de6a1c"/>
<circle cx="237.80" cy="264.19" r="2.25" fill="#de6a1c"/>
<path d="M280.0,240.8 280.3,242.1 280.5,243.3 280.6,244.6 280.7,245.9 280.8,247.1 280.8,248.4 280.8,249.7 280.8,250.9 281.1,252.2 281.5,253.5 282.1,254.7 282.5,256.0 282.6,257.3 282.6,258.5 282.5,259.8 282.4,261.1 282.3,262.4 282.2,263.6 282.2,264.9 282.2,266.2 282.2,267.4 282.3,268.7 282.5,270.0 282.7,271.2 282.9,272.5 283.2,273.8 283.5,275.0 283.9,276.3 284.4,277.6 284.9,278.8 285.7,280.1 286.5,281.4 287.4,282.6 288.4,283.9 289.5,285.2 290.5,286.4 291.6,287.7 292.7,289.0 293.6,290.2 293.8,291.5 293.7,292.8 293.5,294.0 292.7,295.3 291.1,296.6 268.7,296.6 267.1,295.3 266.3,294.0 266.1,292.8 266.0,291.5 266.2,290.2 267.1,289.0 268.2,287.7 269.3,286.4 270.3,285.2 271.4,283.9 272.4,282.6 273.3,281.4 274.1,280.1 274.9,278.8 275.4,277.6 275.9,276.3 276.3,275.0 276.6,273.8 276.9,272.5 277.1,271.2 277.3,270.0 277.5,268.7 277.6,267.4 277.6,266.2 277.6,264.9 277.6,263.6 277.5,262.4 277.4,261.1 277.3,259.8 277.2,258.5 277.2,257.3 277.3,256.0 277.7,254.7 278.3,253.5 278.7,252.2 279.0,250.9 279.0,249.7 279.0,248.4 279.0,247.1 279.1,245.9 279.2,244.6 279.3,243.3 279.5,242.1 279.8,240.8Z" fill="none" stroke="#33a985" stroke-width="1.05" stroke-linejoin="round"/>
<line x1="279.90" y1="251.00" x2="279.90" y2="277.70" stroke="#33a985" stroke-width="1"/>
<line x1="279.90" y1="294.30" x2="279.90" y2="296.60" stroke="#33a985" stroke-width="1"/>
<rect x="277.00" y="277.70" width="5.80" height="16.60" fill="#fff" stroke="#33a985" stroke-width="1"/>
<line x1="277.00" y1="289.40" x2="282.80" y2="289.40" stroke="#33a985" stroke-width="2.4"/>
<circle cx="279.90" cy="240.80" r="2.25" fill="#33a985"/>
<circle cx="279.90" cy="244.40" r="2.25" fill="#33a985"/>
<circle cx="279.90" cy="248.90" r="2.25" fill="#33a985"/>
<path d="M310.9,240.8 312.0,242.1 312.7,243.4 313.0,244.6 313.3,245.9 313.4,247.2 313.6,248.5 313.7,249.7 313.9,251.0 314.1,252.3 314.3,253.6 314.6,254.9 314.9,256.1 315.2,257.4 315.4,258.7 315.4,260.0 315.3,261.2 315.1,262.5 314.9,263.8 314.7,265.1 314.5,266.4 314.4,267.6 314.3,268.9 314.2,270.2 314.1,271.5 314.1,272.7 314.1,274.0 314.3,275.3 314.5,276.6 314.8,277.9 315.1,279.1 315.5,280.4 315.8,281.7 316.3,283.0 316.8,284.3 317.3,285.5 317.7,286.8 318.2,288.1 318.7,289.4 319.0,290.6 319.0,291.9 318.7,293.2 318.3,294.5 317.4,295.8 315.9,297.0 305.1,297.0 303.6,295.8 302.7,294.5 302.3,293.2 302.0,291.9 302.0,290.6 302.3,289.4 302.8,288.1 303.3,286.8 303.7,285.5 304.2,284.3 304.7,283.0 305.2,281.7 305.5,280.4 305.9,279.1 306.2,277.9 306.5,276.6 306.7,275.3 306.9,274.0 306.9,272.7 306.9,271.5 306.8,270.2 306.7,268.9 306.6,267.6 306.5,266.4 306.3,265.1 306.1,263.8 305.9,262.5 305.7,261.2 305.6,260.0 305.6,258.7 305.8,257.4 306.1,256.1 306.4,254.9 306.7,253.6 306.9,252.3 307.1,251.0 307.3,249.7 307.4,248.5 307.6,247.2 307.7,245.9 308.0,244.6 308.3,243.4 309.0,242.1 310.1,240.8Z" fill="none" stroke="#de6a1c" stroke-width="1.05" stroke-linejoin="round"/>
<line x1="310.50" y1="241.50" x2="310.50" y2="263.70" stroke="#de6a1c" stroke-width="1"/>
<line x1="310.50" y1="291.60" x2="310.50" y2="296.80" stroke="#de6a1c" stroke-width="1"/>
<rect x="307.80" y="263.70" width="5.70" height="27.90" fill="#fff" stroke="#de6a1c" stroke-width="1"/>
<line x1="307.80" y1="282.60" x2="313.50" y2="282.60" stroke="#de6a1c" stroke-width="2.4"/>
<path d="M61.5,333.5 61.8,334.7 61.8,335.9 61.9,337.1 61.9,338.3 62.0,339.5 62.0,340.8 62.0,342.0 62.0,343.2 62.1,344.4 62.2,345.6 62.2,346.8 62.5,348.0 63.3,349.2 63.4,350.4 63.4,351.7 63.5,352.9 63.5,354.1 63.5,355.3 63.5,356.5 63.5,357.7 63.5,358.9 63.5,360.1 63.6,361.3 63.6,362.6 63.6,363.8 63.6,365.0 63.8,366.2 64.2,367.4 64.6,368.6 65.2,369.8 66.0,371.0 67.0,372.2 68.1,373.4 69.1,374.7 70.1,375.9 71.1,377.1 72.0,378.3 73.1,379.5 74.2,380.7 75.0,381.9 75.3,383.1 75.3,384.3 75.2,385.6 73.5,386.8 49.3,386.8 47.6,385.6 47.5,384.3 47.5,383.1 47.8,381.9 48.6,380.7 49.7,379.5 50.8,378.3 51.7,377.1 52.7,375.9 53.7,374.7 54.7,373.4 55.8,372.2 56.8,371.0 57.6,369.8 58.2,368.6 58.6,367.4 59.0,366.2 59.2,365.0 59.2,363.8 59.2,362.6 59.2,361.3 59.3,360.1 59.3,358.9 59.3,357.7 59.3,356.5 59.3,355.3 59.3,354.1 59.3,352.9 59.4,351.7 59.4,350.4 59.5,349.2 60.3,348.0 60.6,346.8 60.6,345.6 60.7,344.4 60.8,343.2 60.8,342.0 60.8,340.8 60.8,339.5 60.9,338.3 60.9,337.1 61.0,335.9 61.0,334.7 61.3,333.5Z" fill="none" stroke="#33a985" stroke-width="1.05" stroke-linejoin="round"/>
<line x1="61.40" y1="349.00" x2="61.40" y2="370.80" stroke="#33a985" stroke-width="1"/>
<line x1="61.40" y1="384.80" x2="61.40" y2="386.60" stroke="#33a985" stroke-width="1"/>
<rect x="58.30" y="370.80" width="5.80" height="14.00" fill="#fff" stroke="#33a985" stroke-width="1"/>
<line x1="58.30" y1="380.30" x2="64.10" y2="380.30" stroke="#33a985" stroke-width="2.4"/>
<circle cx="61.40" cy="333.50" r="2.45" fill="#33a985"/>
<circle cx="61.40" cy="336.38" r="2.45" fill="#33a985"/>
<circle cx="61.40" cy="339.25" r="2.45" fill="#33a985"/>
<circle cx="61.40" cy="342.13" r="2.45" fill="#33a985"/>
<circle cx="61.40" cy="345.01" r="2.45" fill="#33a985"/>
<circle cx="61.40" cy="347.89" r="2.45" fill="#33a985"/>
<path d="M93.8,333.9 93.8,335.1 93.8,336.3 93.8,337.5 93.9,338.7 93.9,339.9 94.0,341.1 94.0,342.3 94.1,343.5 94.1,344.7 94.2,346.0 94.3,347.2 94.3,348.4 94.4,349.6 94.5,350.8 94.7,352.0 94.8,353.2 95.0,354.4 95.1,355.6 95.2,356.8 95.4,358.0 95.6,359.2 95.7,360.4 95.9,361.6 96.1,362.8 96.3,364.0 96.5,365.2 96.8,366.4 97.1,367.6 97.4,368.8 97.7,370.0 98.0,371.2 98.2,372.4 98.3,373.6 98.3,374.8 98.3,376.0 98.3,377.2 98.3,378.4 98.3,379.6 98.3,380.8 98.3,382.0 98.1,383.2 97.9,384.4 97.6,385.6 96.9,386.8 87.1,386.8 86.4,385.6 86.1,384.4 85.9,383.2 85.7,382.0 85.7,380.8 85.7,379.6 85.7,378.4 85.7,377.2 85.7,376.0 85.7,374.8 85.7,373.6 85.8,372.4 86.0,371.2 86.3,370.0 86.6,368.8 86.9,367.6 87.2,366.4 87.5,365.2 87.7,364.0 87.9,362.8 88.1,361.6 88.3,360.4 88.4,359.2 88.6,358.0 88.8,356.8 88.9,355.6 89.0,354.4 89.2,353.2 89.3,352.0 89.5,350.8 89.6,349.6 89.7,348.4 89.7,347.2 89.8,346.0 89.9,344.7 89.9,343.5 90.0,342.3 90.0,341.1 90.1,339.9 90.1,338.7 90.2,337.5 90.2,336.3 90.2,335.1 90.2,333.9Z" fill="none" stroke="#de6a1c" stroke-width="1.05" stroke-linejoin="round"/>
<line x1="92.00" y1="334.50" x2="92.00" y2="358.70" stroke="#de6a1c" stroke-width="1"/>
<line x1="92.00" y1="382.10" x2="92.00" y2="386.60" stroke="#de6a1c" stroke-width="1"/>
<rect x="89.30" y="358.70" width="5.20" height="23.40" fill="#fff" stroke="#de6a1c" stroke-width="1"/>
<line x1="89.30" y1="371.70" x2="94.50" y2="371.70" stroke="#de6a1c" stroke-width="2.4"/>
<path d="M134.3,333.0 134.5,334.3 134.5,335.5 134.5,336.7 134.6,337.9 134.6,339.2 134.6,340.4 134.6,341.6 134.6,342.8 134.6,344.0 134.6,345.3 134.6,346.5 134.6,347.7 134.6,348.9 134.6,350.1 134.6,351.4 134.6,352.6 134.6,353.8 134.6,355.0 134.6,356.2 134.6,357.5 134.6,358.7 134.6,359.9 134.6,361.1 134.6,362.3 134.6,363.6 134.6,364.8 134.6,366.0 134.6,367.2 134.6,368.5 134.6,369.7 134.6,370.9 134.6,372.1 135.0,373.3 135.9,374.6 136.9,375.8 137.8,377.0 138.7,378.2 139.6,379.4 140.8,380.7 142.1,381.9 142.8,383.1 143.1,384.3 143.1,385.5 142.3,386.8 126.1,386.8 125.3,385.5 125.3,384.3 125.6,383.1 126.3,381.9 127.6,380.7 128.8,379.4 129.7,378.2 130.6,377.0 131.5,375.8 132.5,374.6 133.4,373.3 133.8,372.1 133.8,370.9 133.8,369.7 133.8,368.5 133.8,367.2 133.8,366.0 133.8,364.8 133.8,363.6 133.8,362.3 133.8,361.1 133.8,359.9 133.8,358.7 133.8,357.5 133.8,356.2 133.8,355.0 133.8,353.8 133.8,352.6 133.8,351.4 133.8,350.1 133.8,348.9 133.8,347.7 133.8,346.5 133.8,345.3 133.8,344.0 133.8,342.8 133.8,341.6 133.8,340.4 133.8,339.2 133.8,337.9 133.9,336.7 133.9,335.5 133.9,334.3 134.1,333.0Z" fill="none" stroke="#33a985" stroke-width="1.05" stroke-linejoin="round"/>
<line x1="134.20" y1="333.00" x2="134.20" y2="379.80" stroke="#33a985" stroke-width="1"/>
<line x1="134.20" y1="385.70" x2="134.20" y2="386.60" stroke="#33a985" stroke-width="1"/>
<rect x="131.60" y="379.80" width="5.30" height="5.90" fill="#fff" stroke="#33a985" stroke-width="1"/>
<line x1="131.60" y1="383.00" x2="136.90" y2="383.00" stroke="#33a985" stroke-width="2.4"/>
<circle cx="134.20" cy="333.05" r="2.25" fill="#33a985"/>
<circle cx="134.20" cy="343.39" r="2.25" fill="#33a985"/>
<circle cx="134.20" cy="360.49" r="2.45" fill="#33a985"/>
<circle cx="134.20" cy="363.49" r="2.45" fill="#33a985"/>
<circle cx="134.20" cy="366.49" r="2.45" fill="#33a985"/>
<circle cx="134.20" cy="369.49" r="2.45" fill="#33a985"/>
<path d="M165.0,332.6 165.2,333.8 165.2,335.1 165.2,336.3 165.3,337.5 165.3,338.8 165.3,340.0 165.3,341.2 165.3,342.4 165.3,343.7 165.3,344.9 165.3,346.1 165.3,347.4 165.3,348.6 165.3,349.8 165.3,351.1 165.3,352.3 165.3,353.5 165.3,354.8 165.3,356.0 165.3,357.2 165.3,358.4 165.3,359.7 165.3,360.9 165.3,362.1 165.3,363.4 165.3,364.6 165.3,365.8 165.3,367.1 165.3,368.3 165.3,369.5 165.3,370.8 165.3,372.0 165.3,373.2 165.3,374.5 165.3,375.7 165.3,376.9 165.6,378.1 167.8,379.4 170.8,380.6 173.5,381.8 176.3,383.1 177.8,384.3 178.4,385.5 177.0,386.8 152.8,386.8 151.4,385.5 152.0,384.3 153.5,383.1 156.3,381.8 159.0,380.6 162.0,379.4 164.2,378.1 164.5,376.9 164.5,375.7 164.5,374.5 164.5,373.2 164.5,372.0 164.5,370.8 164.5,369.5 164.5,368.3 164.5,367.1 164.5,365.8 164.5,364.6 164.5,363.4 164.5,362.1 164.5,360.9 164.5,359.7 164.5,358.4 164.5,357.2 164.5,356.0 164.5,354.8 164.5,353.5 164.5,352.3 164.5,351.1 164.5,349.8 164.5,348.6 164.5,347.4 164.5,346.1 164.5,344.9 164.5,343.7 164.5,342.4 164.5,341.2 164.5,340.0 164.5,338.8 164.5,337.5 164.6,336.3 164.6,335.1 164.6,333.8 164.8,332.6Z" fill="none" stroke="#de6a1c" stroke-width="1.05" stroke-linejoin="round"/>
<line x1="164.90" y1="378.00" x2="164.90" y2="381.20" stroke="#de6a1c" stroke-width="1"/>
<line x1="164.90" y1="385.70" x2="164.90" y2="386.60" stroke="#de6a1c" stroke-width="1"/>
<rect x="161.80" y="381.20" width="5.80" height="4.50" fill="#fff" stroke="#de6a1c" stroke-width="1"/>
<line x1="161.80" y1="383.50" x2="167.60" y2="383.50" stroke="#de6a1c" stroke-width="2.4"/>
<circle cx="164.90" cy="332.60" r="2.45" fill="#de6a1c"/>
<circle cx="164.90" cy="335.60" r="2.45" fill="#de6a1c"/>
<circle cx="164.90" cy="338.60" r="2.45" fill="#de6a1c"/>
<circle cx="164.90" cy="341.59" r="2.45" fill="#de6a1c"/>
<circle cx="164.90" cy="344.59" r="2.45" fill="#de6a1c"/>
<circle cx="164.90" cy="347.59" r="2.45" fill="#de6a1c"/>
<circle cx="164.90" cy="350.59" r="2.45" fill="#de6a1c"/>
<circle cx="164.90" cy="353.59" r="2.45" fill="#de6a1c"/>
<circle cx="164.90" cy="356.59" r="2.45" fill="#de6a1c"/>
<circle cx="164.90" cy="359.59" r="2.45" fill="#de6a1c"/>
<circle cx="164.90" cy="362.59" r="2.45" fill="#de6a1c"/>
<circle cx="164.90" cy="365.59" r="2.45" fill="#de6a1c"/>
<circle cx="164.90" cy="368.59" r="2.45" fill="#de6a1c"/>
<circle cx="164.90" cy="371.59" r="2.45" fill="#de6a1c"/>
<circle cx="164.90" cy="374.59" r="2.45" fill="#de6a1c"/>
<circle cx="164.90" cy="377.59" r="2.45" fill="#de6a1c"/>
<path d="M207.3,330.8 207.6,332.1 207.6,333.4 207.7,334.6 207.7,335.9 207.8,337.2 207.8,338.5 207.8,339.7 207.8,341.0 207.8,342.3 207.9,343.6 207.9,344.9 208.0,346.1 208.1,347.4 208.6,348.7 209.0,350.0 209.0,351.2 209.0,352.5 209.0,353.8 209.0,355.1 209.0,356.4 209.0,357.6 209.0,358.9 209.0,360.2 209.0,361.5 209.1,362.7 209.3,364.0 209.5,365.3 209.7,366.6 210.0,367.9 210.3,369.1 210.6,370.4 210.9,371.7 211.3,373.0 211.8,374.3 212.7,375.5 213.8,376.8 215.0,378.1 216.1,379.4 217.3,380.6 218.5,381.9 219.5,383.2 220.4,384.5 220.6,385.8 219.3,387.0 195.1,387.0 193.8,385.8 194.0,384.5 194.9,383.2 195.9,381.9 197.1,380.6 198.3,379.4 199.4,378.1 200.6,376.8 201.7,375.5 202.6,374.3 203.1,373.0 203.5,371.7 203.8,370.4 204.1,369.1 204.4,367.9 204.7,366.6 204.9,365.3 205.1,364.0 205.3,362.7 205.4,361.5 205.4,360.2 205.4,358.9 205.4,357.6 205.4,356.4 205.4,355.1 205.4,353.8 205.4,352.5 205.4,351.2 205.4,350.0 205.8,348.7 206.3,347.4 206.4,346.1 206.5,344.9 206.5,343.6 206.6,342.3 206.6,341.0 206.6,339.7 206.6,338.5 206.6,337.2 206.7,335.9 206.7,334.6 206.8,333.4 206.8,332.1 207.1,330.8Z" fill="none" stroke="#33a985" stroke-width="1.05" stroke-linejoin="round"/>
<line x1="207.20" y1="349.00" x2="207.20" y2="371.70" stroke="#33a985" stroke-width="1"/>
<line x1="207.20" y1="386.10" x2="207.20" y2="386.80" stroke="#33a985" stroke-width="1"/>
<rect x="204.50" y="371.70" width="5.50" height="14.40" fill="#fff" stroke="#33a985" stroke-width="1"/>
<line x1="204.50" y1="383.00" x2="210.00" y2="383.00" stroke="#33a985" stroke-width="2.4"/>
<circle cx="207.20" cy="330.80" r="2.45" fill="#33a985"/>
<circle cx="207.20" cy="333.80" r="2.45" fill="#33a985"/>
<circle cx="207.20" cy="336.80" r="2.45" fill="#33a985"/>
<circle cx="207.20" cy="339.79" r="2.45" fill="#33a985"/>
<circle cx="207.20" cy="342.79" r="2.45" fill="#33a985"/>
<circle cx="207.20" cy="345.79" r="2.45" fill="#33a985"/>
<circle cx="207.20" cy="348.79" r="2.45" fill="#33a985"/>
<path d="M239.0,331.7 239.1,332.9 239.2,334.2 239.3,335.5 239.3,336.7 239.4,338.0 239.5,339.2 239.6,340.5 239.6,341.7 239.7,343.0 239.8,344.2 239.9,345.5 239.9,346.7 240.0,348.0 240.1,349.2 240.2,350.5 240.2,351.7 240.3,353.0 240.4,354.2 240.5,355.5 240.6,356.7 240.7,358.0 240.7,359.2 240.8,360.5 240.9,361.7 241.0,363.0 241.1,364.2 241.3,365.5 241.4,366.7 241.5,368.0 241.7,369.2 242.0,370.5 242.3,371.7 242.7,373.0 243.2,374.2 243.8,375.5 244.4,376.8 245.1,378.0 245.8,379.3 246.5,380.5 247.2,381.8 247.6,383.0 247.7,384.3 247.8,385.5 246.7,386.8 228.7,386.8 227.6,385.5 227.7,384.3 227.8,383.0 228.2,381.8 228.9,380.5 229.6,379.3 230.3,378.0 231.0,376.8 231.6,375.5 232.2,374.2 232.7,373.0 233.1,371.7 233.4,370.5 233.7,369.2 233.9,368.0 234.0,366.7 234.1,365.5 234.3,364.2 234.4,363.0 234.5,361.7 234.6,360.5 234.7,359.2 234.7,358.0 234.8,356.7 234.9,355.5 235.0,354.2 235.1,353.0 235.2,351.7 235.2,350.5 235.3,349.2 235.4,348.0 235.5,346.7 235.5,345.5 235.6,344.2 235.7,343.0 235.8,341.7 235.8,340.5 235.9,339.2 236.0,338.0 236.1,336.7 236.1,335.5 236.2,334.2 236.3,332.9 236.4,331.7Z" fill="none" stroke="#de6a1c" stroke-width="1.05" stroke-linejoin="round"/>
<line x1="237.70" y1="332.00" x2="237.70" y2="362.30" stroke="#de6a1c" stroke-width="1"/>
<line x1="237.70" y1="383.00" x2="237.70" y2="386.60" stroke="#de6a1c" stroke-width="1"/>
<rect x="234.80" y="362.30" width="5.60" height="20.70" fill="#fff" stroke="#de6a1c" stroke-width="1"/>
<line x1="234.80" y1="376.20" x2="240.40" y2="376.20" stroke="#de6a1c" stroke-width="2.4"/>
<circle cx="237.70" cy="330.80" r="2.25" fill="#de6a1c"/>
<path d="M280.0,334.4 280.2,335.6 280.2,336.8 280.2,338.0 280.3,339.2 280.3,340.4 280.3,341.6 280.3,342.8 280.3,344.0 280.3,345.2 280.3,346.4 280.3,347.6 280.3,348.8 280.3,349.9 280.3,351.1 280.3,352.3 280.3,353.5 280.3,354.7 280.3,355.9 280.3,357.1 280.3,358.3 280.3,359.5 280.3,360.7 280.3,361.9 280.3,363.1 280.3,364.3 280.3,365.5 280.3,366.7 280.3,367.9 280.3,369.1 280.3,370.3 280.3,371.5 280.3,372.7 280.3,373.9 280.5,375.1 281.0,376.3 281.6,377.5 282.2,378.7 283.0,379.9 284.1,381.1 285.6,382.2 289.2,383.4 292.1,384.6 293.4,385.8 292.0,387.0 267.8,387.0 266.4,385.8 267.7,384.6 270.6,383.4 274.2,382.2 275.7,381.1 276.8,379.9 277.6,378.7 278.2,377.5 278.8,376.3 279.3,375.1 279.5,373.9 279.5,372.7 279.5,371.5 279.5,370.3 279.5,369.1 279.5,367.9 279.5,366.7 279.5,365.5 279.5,364.3 279.5,363.1 279.5,361.9 279.5,360.7 279.5,359.5 279.5,358.3 279.5,357.1 279.5,355.9 279.5,354.7 279.5,353.5 279.5,352.3 279.5,351.1 279.5,349.9 279.5,348.8 279.5,347.6 279.5,346.4 279.5,345.2 279.5,344.0 279.5,342.8 279.5,341.6 279.5,340.4 279.5,339.2 279.6,338.0 279.6,336.8 279.6,335.6 279.8,334.4Z" fill="none" stroke="#33a985" stroke-width="1.05" stroke-linejoin="round"/>
<line x1="279.90" y1="374.00" x2="279.90" y2="380.70" stroke="#33a985" stroke-width="1"/>
<line x1="279.90" y1="386.50" x2="279.90" y2="387.00" stroke="#33a985" stroke-width="1"/>
<rect x="277.20" y="380.70" width="5.40" height="5.80" fill="#fff" stroke="#33a985" stroke-width="1"/>
<line x1="277.20" y1="384.50" x2="282.60" y2="384.50" stroke="#33a985" stroke-width="2.4"/>
<circle cx="279.90" cy="334.40" r="2.45" fill="#33a985"/>
<circle cx="279.90" cy="337.44" r="2.45" fill="#33a985"/>
<circle cx="279.90" cy="340.49" r="2.45" fill="#33a985"/>
<circle cx="279.90" cy="343.53" r="2.45" fill="#33a985"/>
<circle cx="279.90" cy="346.58" r="2.45" fill="#33a985"/>
<circle cx="279.90" cy="349.62" r="2.45" fill="#33a985"/>
<circle cx="279.90" cy="352.67" r="2.45" fill="#33a985"/>
<circle cx="279.90" cy="355.71" r="2.45" fill="#33a985"/>
<circle cx="279.90" cy="358.76" r="2.45" fill="#33a985"/>
<circle cx="279.90" cy="361.80" r="2.45" fill="#33a985"/>
<circle cx="279.90" cy="364.85" r="2.45" fill="#33a985"/>
<circle cx="279.90" cy="367.90" r="2.45" fill="#33a985"/>
<circle cx="279.90" cy="370.94" r="2.45" fill="#33a985"/>
<circle cx="279.90" cy="373.99" r="2.45" fill="#33a985"/>
<path d="M310.8,335.3 311.0,336.5 311.0,337.6 311.1,338.8 311.1,340.0 311.1,341.2 311.1,342.4 311.1,343.5 311.1,344.7 311.1,345.9 311.1,347.1 311.1,348.2 311.1,349.4 311.1,350.6 311.1,351.8 311.1,352.9 311.1,354.1 311.1,355.3 311.1,356.5 311.1,357.6 311.1,358.8 311.1,360.0 311.2,361.2 311.3,362.3 311.5,363.5 311.7,364.7 312.0,365.9 312.3,367.0 312.6,368.2 312.9,369.4 313.2,370.6 313.6,371.7 314.0,372.9 314.3,374.1 314.7,375.3 315.0,376.5 315.3,377.6 315.8,378.8 316.4,380.0 317.1,381.2 317.5,382.3 317.8,383.5 317.9,384.7 317.4,385.9 316.1,387.0 305.3,387.0 304.0,385.9 303.5,384.7 303.6,383.5 303.9,382.3 304.3,381.2 305.0,380.0 305.6,378.8 306.1,377.6 306.4,376.5 306.7,375.3 307.1,374.1 307.4,372.9 307.8,371.7 308.2,370.6 308.5,369.4 308.8,368.2 309.1,367.0 309.4,365.9 309.7,364.7 309.9,363.5 310.1,362.3 310.2,361.2 310.3,360.0 310.3,358.8 310.3,357.6 310.3,356.5 310.3,355.3 310.3,354.1 310.3,352.9 310.3,351.8 310.3,350.6 310.3,349.4 310.3,348.2 310.3,347.1 310.3,345.9 310.3,344.7 310.3,343.5 310.3,342.4 310.3,341.2 310.3,340.0 310.3,338.8 310.4,337.6 310.4,336.5 310.6,335.3Z" fill="none" stroke="#de6a1c" stroke-width="1.05" stroke-linejoin="round"/>
<line x1="310.70" y1="360.00" x2="310.70" y2="375.80" stroke="#de6a1c" stroke-width="1"/>
<line x1="310.70" y1="386.50" x2="310.70" y2="387.00" stroke="#de6a1c" stroke-width="1"/>
<rect x="307.80" y="375.80" width="5.80" height="10.70" fill="#fff" stroke="#de6a1c" stroke-width="1"/>
<line x1="307.80" y1="383.40" x2="313.60" y2="383.40" stroke="#de6a1c" stroke-width="2.4"/>
<circle cx="310.70" cy="335.30" r="2.45" fill="#de6a1c"/>
<circle cx="310.70" cy="338.67" r="2.45" fill="#de6a1c"/>
<circle cx="310.70" cy="342.04" r="2.45" fill="#de6a1c"/>
<circle cx="310.70" cy="345.42" r="2.45" fill="#de6a1c"/>
<circle cx="310.70" cy="348.79" r="2.45" fill="#de6a1c"/>
<circle cx="310.7" cy="353.29" r="2.3" fill="#de6a1c"/>
<circle cx="310.7" cy="355.54" r="2.3" fill="#de6a1c"/>
<circle cx="310.7" cy="357.79" r="2.3" fill="#de6a1c"/>
<rect x="400.20" y="213.30" width="67.80" height="17.20" fill="#fff" stroke="#2a2a2a" stroke-width="1.15"/>
<text x="434.10" y="226.20" font-size="10.6" fill="#1a1a1a" text-anchor="middle" stroke="#1a1a1a" stroke-width="0.25">CMV</text>
<rect x="400.20" y="304.50" width="67.80" height="17.40" fill="#fff" stroke="#2a2a2a" stroke-width="1.15"/>
<text x="434.10" y="317.50" font-size="10.6" fill="#1a1a1a" text-anchor="middle" stroke="#1a1a1a" stroke-width="0.25">Influenza A</text>
<rect x="472.60" y="213.30" width="67.80" height="17.20" fill="#fff" stroke="#2a2a2a" stroke-width="1.15"/>
<text x="506.50" y="226.20" font-size="10.6" fill="#1a1a1a" text-anchor="middle" stroke="#1a1a1a" stroke-width="0.25">EBV</text>
<rect x="472.60" y="304.50" width="67.80" height="17.40" fill="#fff" stroke="#2a2a2a" stroke-width="1.15"/>
<text x="506.50" y="317.50" font-size="10.6" fill="#1a1a1a" text-anchor="middle" stroke="#1a1a1a" stroke-width="0.25">SARS−2</text>
<rect x="545.50" y="213.30" width="67.80" height="17.20" fill="#fff" stroke="#2a2a2a" stroke-width="1.15"/>
<text x="579.40" y="226.20" font-size="10.6" fill="#1a1a1a" text-anchor="middle" stroke="#1a1a1a" stroke-width="0.25">HCV</text>
<rect x="545.50" y="304.50" width="67.80" height="17.40" fill="#fff" stroke="#2a2a2a" stroke-width="1.15"/>
<text x="579.40" y="317.50" font-size="10.6" fill="#1a1a1a" text-anchor="middle" stroke="#1a1a1a" stroke-width="0.25">VACV</text>
<rect x="618.60" y="213.30" width="67.80" height="17.20" fill="#fff" stroke="#2a2a2a" stroke-width="1.15"/>
<text x="652.50" y="226.20" font-size="10.6" fill="#1a1a1a" text-anchor="middle" stroke="#1a1a1a" stroke-width="0.25">HBV</text>
<rect x="618.60" y="304.50" width="67.80" height="17.40" fill="#fff" stroke="#2a2a2a" stroke-width="1.15"/>
<text x="652.50" y="317.50" font-size="10.6" fill="#1a1a1a" text-anchor="middle" stroke="#1a1a1a" stroke-width="0.25">YFV</text>
<line x1="400.2" y1="230.5" x2="400.2" y2="299.7" stroke="#333" stroke-width="1.1"/>
<line x1="397.5" y1="296.90" x2="400.2" y2="296.90" stroke="#333" stroke-width="1"/>
<text x="396.30" y="300.50" font-size="10.4" fill="#4d4d4d" text-anchor="end" stroke="#4d4d4d" stroke-width="0.25">0.0</text>
<line x1="397.5" y1="280.16" x2="400.2" y2="280.16" stroke="#333" stroke-width="1"/>
<text x="396.30" y="283.76" font-size="10.4" fill="#4d4d4d" text-anchor="end" stroke="#4d4d4d" stroke-width="0.25">0.3</text>
<line x1="397.5" y1="263.42" x2="400.2" y2="263.42" stroke="#333" stroke-width="1"/>
<text x="396.30" y="267.02" font-size="10.4" fill="#4d4d4d" text-anchor="end" stroke="#4d4d4d" stroke-width="0.25">0.6</text>
<line x1="397.5" y1="246.68" x2="400.2" y2="246.68" stroke="#333" stroke-width="1"/>
<text x="396.30" y="250.28" font-size="10.4" fill="#4d4d4d" text-anchor="end" stroke="#4d4d4d" stroke-width="0.25">0.9</text>
<line x1="400.2" y1="321.9" x2="400.2" y2="389.8" stroke="#333" stroke-width="1.1"/>
<line x1="397.5" y1="386.80" x2="400.2" y2="386.80" stroke="#333" stroke-width="1"/>
<text x="396.30" y="390.40" font-size="10.4" fill="#4d4d4d" text-anchor="end" stroke="#4d4d4d" stroke-width="0.25">0.0</text>
<line x1="397.5" y1="370.12" x2="400.2" y2="370.12" stroke="#333" stroke-width="1"/>
<text x="396.30" y="373.72" font-size="10.4" fill="#4d4d4d" text-anchor="end" stroke="#4d4d4d" stroke-width="0.25">0.3</text>
<line x1="397.5" y1="353.44" x2="400.2" y2="353.44" stroke="#333" stroke-width="1"/>
<text x="396.30" y="357.04" font-size="10.4" fill="#4d4d4d" text-anchor="end" stroke="#4d4d4d" stroke-width="0.25">0.6</text>
<line x1="397.5" y1="336.76" x2="400.2" y2="336.76" stroke="#333" stroke-width="1"/>
<text x="396.30" y="340.36" font-size="10.4" fill="#4d4d4d" text-anchor="end" stroke="#4d4d4d" stroke-width="0.25">0.9</text>
<line x1="400.20" y1="389.8" x2="468.00" y2="389.8" stroke="#333" stroke-width="1.1"/>
<line x1="418.40" y1="389.8" x2="418.40" y2="392.7" stroke="#333" stroke-width="1"/>
<text x="421.90" y="394.60" font-size="10" fill="#4d4d4d" text-anchor="end" transform="rotate(-90 421.90 394.60)" stroke="#4d4d4d" stroke-width="0.25">Positive</text>
<line x1="449.30" y1="389.8" x2="449.30" y2="392.7" stroke="#333" stroke-width="1"/>
<text x="452.80" y="394.60" font-size="10" fill="#4d4d4d" text-anchor="end" transform="rotate(-90 452.80 394.60)" stroke="#4d4d4d" stroke-width="0.25">Negative</text>
<line x1="472.60" y1="389.8" x2="540.40" y2="389.8" stroke="#333" stroke-width="1.1"/>
<line x1="490.80" y1="389.8" x2="490.80" y2="392.7" stroke="#333" stroke-width="1"/>
<text x="494.30" y="394.60" font-size="10" fill="#4d4d4d" text-anchor="end" transform="rotate(-90 494.30 394.60)" stroke="#4d4d4d" stroke-width="0.25">Positive</text>
<line x1="521.70" y1="389.8" x2="521.70" y2="392.7" stroke="#333" stroke-width="1"/>
<text x="525.20" y="394.60" font-size="10" fill="#4d4d4d" text-anchor="end" transform="rotate(-90 525.20 394.60)" stroke="#4d4d4d" stroke-width="0.25">Negative</text>
<line x1="545.50" y1="389.8" x2="613.30" y2="389.8" stroke="#333" stroke-width="1.1"/>
<line x1="563.70" y1="389.8" x2="563.70" y2="392.7" stroke="#333" stroke-width="1"/>
<text x="567.20" y="394.60" font-size="10" fill="#4d4d4d" text-anchor="end" transform="rotate(-90 567.20 394.60)" stroke="#4d4d4d" stroke-width="0.25">Positive</text>
<line x1="594.60" y1="389.8" x2="594.60" y2="392.7" stroke="#333" stroke-width="1"/>
<text x="598.10" y="394.60" font-size="10" fill="#4d4d4d" text-anchor="end" transform="rotate(-90 598.10 394.60)" stroke="#4d4d4d" stroke-width="0.25">Negative</text>
<line x1="618.60" y1="389.8" x2="686.40" y2="389.8" stroke="#333" stroke-width="1.1"/>
<line x1="636.80" y1="389.8" x2="636.80" y2="392.7" stroke="#333" stroke-width="1"/>
<text x="640.30" y="394.60" font-size="10" fill="#4d4d4d" text-anchor="end" transform="rotate(-90 640.30 394.60)" stroke="#4d4d4d" stroke-width="0.25">Positive</text>
<line x1="667.70" y1="389.8" x2="667.70" y2="392.7" stroke="#333" stroke-width="1"/>
<text x="671.20" y="394.60" font-size="10" fill="#4d4d4d" text-anchor="end" transform="rotate(-90 671.20 394.60)" stroke="#4d4d4d" stroke-width="0.25">Negative</text>
<text x="370.60" y="314.70" font-size="10.1" fill="#000" text-anchor="middle" transform="rotate(-90 370.60 314.70)" stroke="#000" stroke-width="0.25">% Hydrophobicity</text>
<text x="548.60" y="447.90" font-size="10.5" fill="#000" text-anchor="middle" stroke="#000" stroke-width="0.25">Immunogenicity</text>
<text x="435.30" y="241.60" font-size="11" fill="#000" text-anchor="middle" stroke="#000" stroke-width="0.55">*</text>
<text x="509.80" y="241.80" font-size="10.5" fill="#000" text-anchor="middle" stroke="#000" stroke-width="0.25">ns</text>
<text x="582.70" y="241.80" font-size="10.5" fill="#000" text-anchor="middle" stroke="#000" stroke-width="0.25">ns</text>
<text x="655.80" y="241.80" font-size="10.5" fill="#000" text-anchor="middle" stroke="#000" stroke-width="0.25">ns</text>
<text x="437.30" y="333.00" font-size="10.5" fill="#000" text-anchor="middle" stroke="#000" stroke-width="0.25">ns</text>
<text x="509.80" y="333.00" font-size="10.5" fill="#000" text-anchor="middle" stroke="#000" stroke-width="0.25">ns</text>
<text x="655.80" y="333.00" font-size="10.5" fill="#000" text-anchor="middle" stroke="#000" stroke-width="0.25">ns</text>
<text x="582.50" y="332.80" font-size="11" fill="#000" text-anchor="middle" stroke="#000" stroke-width="0.55">**</text>
<path d="M418.8,253.4 419.1,254.4 419.3,255.4 419.6,256.4 419.9,257.4 420.2,258.4 420.6,259.3 421.0,260.3 421.5,261.3 422.0,262.3 422.7,263.3 423.4,264.3 424.2,265.3 424.9,266.3 425.7,267.3 426.5,268.3 427.4,269.3 428.1,270.3 428.9,271.2 429.7,272.2 430.6,273.2 431.3,274.2 431.9,275.2 432.3,276.2 432.3,277.2 432.2,278.2 431.9,279.2 431.5,280.2 431.1,281.2 430.4,282.2 429.5,283.1 428.4,284.1 427.2,285.1 426.1,286.1 425.0,287.1 423.7,288.1 422.6,289.1 421.7,290.1 421.0,291.1 420.4,292.1 420.2,293.1 420.2,294.1 420.3,295.0 420.4,296.0 420.6,297.0 416.2,297.0 416.4,296.0 416.5,295.0 416.6,294.1 416.6,293.1 416.4,292.1 415.8,291.1 415.1,290.1 414.2,289.1 413.1,288.1 411.8,287.1 410.7,286.1 409.6,285.1 408.4,284.1 407.3,283.1 406.4,282.2 405.7,281.2 405.3,280.2 404.9,279.2 404.6,278.2 404.5,277.2 404.5,276.2 404.9,275.2 405.5,274.2 406.2,273.2 407.1,272.2 407.9,271.2 408.7,270.3 409.4,269.3 410.3,268.3 411.1,267.3 411.9,266.3 412.6,265.3 413.4,264.3 414.1,263.3 414.8,262.3 415.3,261.3 415.8,260.3 416.2,259.3 416.6,258.4 416.9,257.4 417.2,256.4 417.5,255.4 417.7,254.4 418.0,253.4Z" fill="none" stroke="#33a985" stroke-width="1.05" stroke-linejoin="round"/>
<line x1="418.40" y1="253.50" x2="418.40" y2="271.60" stroke="#33a985" stroke-width="1"/>
<line x1="418.40" y1="284.40" x2="418.40" y2="297.00" stroke="#33a985" stroke-width="1"/>
<rect x="415.30" y="271.60" width="6.30" height="12.80" fill="#fff" stroke="#33a985" stroke-width="1"/>
<line x1="415.30" y1="278.10" x2="421.60" y2="278.10" stroke="#33a985" stroke-width="2.4"/>
<circle cx="418.40" cy="251.59" r="2.25" fill="#33a985"/>
<path d="M451.3,265.4 451.8,266.1 452.2,266.8 452.7,267.5 453.2,268.2 453.7,268.9 454.3,269.6 454.8,270.3 455.3,271.0 455.9,271.7 456.5,272.5 457.1,273.2 457.7,273.9 458.2,274.6 458.7,275.3 459.2,276.0 459.7,276.7 460.1,277.4 460.5,278.1 460.9,278.8 461.2,279.6 461.5,280.3 461.8,281.0 462.1,281.7 462.3,282.4 462.5,283.1 462.5,283.8 462.5,284.5 462.2,285.2 461.7,285.9 461.1,286.6 460.4,287.4 459.8,288.1 459.1,288.8 458.3,289.5 457.4,290.2 456.4,290.9 455.6,291.6 454.9,292.3 454.4,293.0 454.2,293.7 453.9,294.5 453.7,295.2 453.6,295.9 453.5,296.6 445.5,296.6 445.4,295.9 445.3,295.2 445.1,294.5 444.8,293.7 444.6,293.0 444.1,292.3 443.4,291.6 442.6,290.9 441.6,290.2 440.7,289.5 439.9,288.8 439.2,288.1 438.6,287.4 437.9,286.6 437.3,285.9 436.8,285.2 436.5,284.5 436.5,283.8 436.5,283.1 436.7,282.4 436.9,281.7 437.2,281.0 437.5,280.3 437.8,279.6 438.1,278.8 438.5,278.1 438.9,277.4 439.3,276.7 439.8,276.0 440.3,275.3 440.8,274.6 441.3,273.9 441.9,273.2 442.5,272.5 443.1,271.7 443.7,271.0 444.2,270.3 444.7,269.6 445.3,268.9 445.8,268.2 446.3,267.5 446.8,266.8 447.2,266.1 447.7,265.4Z" fill="none" stroke="#de6a1c" stroke-width="1.05" stroke-linejoin="round"/>
<line x1="449.50" y1="265.40" x2="449.50" y2="278.40" stroke="#de6a1c" stroke-width="1"/>
<line x1="449.50" y1="287.60" x2="449.50" y2="296.60" stroke="#de6a1c" stroke-width="1"/>
<rect x="446.30" y="278.40" width="6.10" height="9.20" fill="#fff" stroke="#de6a1c" stroke-width="1"/>
<line x1="446.30" y1="284.00" x2="452.40" y2="284.00" stroke="#de6a1c" stroke-width="2.4"/>
<path d="M491.4,246.6 491.6,247.8 491.7,248.9 491.7,250.1 491.7,251.2 491.7,252.4 491.7,253.5 491.8,254.7 492.0,255.8 492.4,257.0 492.8,258.1 493.2,259.2 493.6,260.4 494.1,261.5 494.5,262.7 494.9,263.8 495.4,265.0 495.8,266.1 496.3,267.3 496.8,268.4 497.4,269.5 497.9,270.7 498.3,271.8 498.8,273.0 499.3,274.1 499.8,275.3 500.1,276.4 500.3,277.6 500.2,278.7 500.0,279.9 499.6,281.0 499.2,282.1 498.8,283.3 498.3,284.4 497.7,285.6 497.1,286.7 496.4,287.9 495.6,289.0 495.0,290.2 494.4,291.3 493.8,292.5 493.2,293.6 492.7,294.7 492.1,295.9 491.5,297.0 491.1,297.0 490.5,295.9 489.9,294.7 489.4,293.6 488.8,292.5 488.2,291.3 487.6,290.2 487.0,289.0 486.2,287.9 485.5,286.7 484.9,285.6 484.3,284.4 483.8,283.3 483.4,282.1 483.0,281.0 482.6,279.9 482.4,278.7 482.3,277.6 482.5,276.4 482.8,275.3 483.3,274.1 483.8,273.0 484.3,271.8 484.7,270.7 485.2,269.5 485.8,268.4 486.3,267.3 486.8,266.1 487.2,265.0 487.7,263.8 488.1,262.7 488.5,261.5 489.0,260.4 489.4,259.2 489.8,258.1 490.2,257.0 490.6,255.8 490.8,254.7 490.9,253.5 490.9,252.4 490.9,251.2 490.9,250.1 490.9,248.9 491.0,247.8 491.2,246.6Z" fill="none" stroke="#33a985" stroke-width="1.05" stroke-linejoin="round"/>
<line x1="491.30" y1="259.00" x2="491.30" y2="271.40" stroke="#33a985" stroke-width="1"/>
<line x1="491.30" y1="284.40" x2="491.30" y2="296.50" stroke="#33a985" stroke-width="1"/>
<rect x="488.50" y="271.40" width="5.80" height="13.00" fill="#fff" stroke="#33a985" stroke-width="1"/>
<line x1="488.50" y1="278.10" x2="494.30" y2="278.10" stroke="#33a985" stroke-width="2.4"/>
<circle cx="491.30" cy="246.65" r="2.25" fill="#33a985"/>
<circle cx="491.30" cy="252.94" r="2.25" fill="#33a985"/>
<path d="M523.2,264.2 523.3,264.9 523.4,265.7 523.6,266.4 523.9,267.1 524.2,267.9 524.8,268.6 525.8,269.3 527.0,270.1 528.3,270.8 529.3,271.6 530.3,272.3 531.3,273.0 532.2,273.8 533.1,274.5 533.9,275.2 534.7,276.0 535.4,276.7 535.8,277.4 535.7,278.2 534.9,278.9 533.7,279.7 532.7,280.4 531.7,281.1 530.7,281.9 529.7,282.6 528.8,283.3 528.1,284.1 527.6,284.8 527.1,285.5 526.7,286.3 526.3,287.0 525.9,287.7 525.5,288.5 525.1,289.2 524.7,290.0 524.3,290.7 523.9,291.4 523.6,292.2 523.3,292.9 523.0,293.6 522.8,294.4 522.6,295.1 522.5,295.8 522.3,296.6 521.5,296.6 521.3,295.8 521.2,295.1 521.0,294.4 520.8,293.6 520.5,292.9 520.2,292.2 519.9,291.4 519.5,290.7 519.1,290.0 518.7,289.2 518.3,288.5 517.9,287.7 517.5,287.0 517.1,286.3 516.7,285.5 516.2,284.8 515.7,284.1 515.0,283.3 514.1,282.6 513.1,281.9 512.1,281.1 511.1,280.4 510.1,279.7 508.9,278.9 508.1,278.2 508.0,277.4 508.4,276.7 509.1,276.0 509.9,275.2 510.7,274.5 511.6,273.8 512.5,273.0 513.5,272.3 514.5,271.6 515.5,270.8 516.8,270.1 518.0,269.3 519.0,268.6 519.6,267.9 519.9,267.1 520.2,266.4 520.4,265.7 520.5,264.9 520.6,264.2Z" fill="none" stroke="#de6a1c" stroke-width="1.05" stroke-linejoin="round"/>
<line x1="521.90" y1="266.00" x2="521.90" y2="275.90" stroke="#de6a1c" stroke-width="1"/>
<line x1="521.90" y1="284.40" x2="521.90" y2="290.00" stroke="#de6a1c" stroke-width="1"/>
<rect x="518.80" y="275.90" width="7.00" height="8.50" fill="#fff" stroke="#de6a1c" stroke-width="1"/>
<line x1="518.80" y1="277.90" x2="525.80" y2="277.90" stroke="#de6a1c" stroke-width="2.4"/>
<circle cx="521.90" cy="262.84" r="2.25" fill="#de6a1c"/>
<circle cx="521.90" cy="296.58" r="2.25" fill="#de6a1c"/>
<path d="M564.5,252.0 564.9,253.1 565.3,254.1 565.7,255.1 566.1,256.1 566.5,257.1 566.9,258.1 567.4,259.1 567.9,260.1 568.3,261.2 568.8,262.2 569.2,263.2 569.6,264.2 570.0,265.2 570.4,266.2 570.8,267.2 571.2,268.2 571.5,269.3 571.8,270.3 571.8,271.3 571.8,272.3 571.8,273.3 571.7,274.3 571.6,275.3 571.5,276.3 571.3,277.4 570.9,278.4 570.5,279.4 569.9,280.4 569.5,281.4 569.1,282.4 568.8,283.4 568.5,284.4 568.2,285.4 567.9,286.5 567.7,287.5 567.3,288.5 567.0,289.5 566.6,290.5 566.2,291.5 565.8,292.5 565.4,293.5 565.0,294.6 564.7,295.6 564.4,296.6 564.0,296.6 563.7,295.6 563.4,294.6 563.0,293.5 562.6,292.5 562.2,291.5 561.8,290.5 561.4,289.5 561.1,288.5 560.7,287.5 560.5,286.5 560.2,285.4 559.9,284.4 559.6,283.4 559.3,282.4 558.9,281.4 558.5,280.4 557.9,279.4 557.5,278.4 557.1,277.4 556.9,276.3 556.8,275.3 556.7,274.3 556.6,273.3 556.6,272.3 556.6,271.3 556.6,270.3 556.9,269.3 557.2,268.2 557.6,267.2 558.0,266.2 558.4,265.2 558.8,264.2 559.2,263.2 559.6,262.2 560.1,261.2 560.5,260.1 561.0,259.1 561.5,258.1 561.9,257.1 562.3,256.1 562.7,255.1 563.1,254.1 563.5,253.1 563.9,252.0Z" fill="none" stroke="#33a985" stroke-width="1.05" stroke-linejoin="round"/>
<line x1="564.20" y1="253.00" x2="564.20" y2="268.20" stroke="#33a985" stroke-width="1"/>
<line x1="564.20" y1="279.50" x2="564.20" y2="296.00" stroke="#33a985" stroke-width="1"/>
<rect x="561.50" y="268.20" width="5.80" height="11.30" fill="#fff" stroke="#33a985" stroke-width="1"/>
<line x1="561.50" y1="274.10" x2="567.30" y2="274.10" stroke="#33a985" stroke-width="2.4"/>
<path d="M595.3,259.7 595.4,260.4 595.5,261.1 595.6,261.8 595.8,262.6 596.0,263.3 596.3,264.0 596.6,264.7 596.9,265.4 597.2,266.1 597.9,266.8 598.8,267.6 599.8,268.3 600.7,269.0 601.3,269.7 601.7,270.4 602.0,271.1 602.3,271.9 602.6,272.6 603.1,273.3 603.9,274.0 605.0,274.7 606.3,275.4 607.5,276.2 608.4,276.9 608.8,277.6 608.6,278.3 608.0,279.0 607.0,279.7 605.9,280.4 604.9,281.2 604.1,281.9 603.2,282.6 602.3,283.3 601.4,284.0 600.5,284.7 599.7,285.5 599.0,286.2 598.3,286.9 597.7,287.6 597.1,288.3 596.5,289.0 596.0,289.8 595.6,290.5 595.2,291.2 594.6,291.2 594.2,290.5 593.8,289.8 593.3,289.0 592.7,288.3 592.1,287.6 591.5,286.9 590.8,286.2 590.1,285.5 589.3,284.7 588.4,284.0 587.5,283.3 586.6,282.6 585.7,281.9 584.9,281.2 583.9,280.4 582.8,279.7 581.8,279.0 581.2,278.3 581.0,277.6 581.4,276.9 582.3,276.2 583.5,275.4 584.8,274.7 585.9,274.0 586.7,273.3 587.2,272.6 587.5,271.9 587.8,271.1 588.1,270.4 588.5,269.7 589.1,269.0 590.0,268.3 591.0,267.6 591.9,266.8 592.6,266.1 592.9,265.4 593.2,264.7 593.5,264.0 593.8,263.3 594.0,262.6 594.2,261.8 594.3,261.1 594.4,260.4 594.5,259.7Z" fill="none" stroke="#de6a1c" stroke-width="1.05" stroke-linejoin="round"/>
<line x1="594.90" y1="263.00" x2="594.90" y2="271.80" stroke="#de6a1c" stroke-width="1"/>
<line x1="594.90" y1="279.50" x2="594.90" y2="284.00" stroke="#de6a1c" stroke-width="1"/>
<rect x="592.00" y="271.80" width="6.10" height="7.70" fill="#fff" stroke="#de6a1c" stroke-width="1"/>
<line x1="592.00" y1="277.70" x2="598.10" y2="277.70" stroke="#de6a1c" stroke-width="2.4"/>
<circle cx="594.90" cy="259.24" r="2.25" fill="#de6a1c"/>
<circle cx="594.90" cy="290.73" r="2.25" fill="#de6a1c"/>
<path d="M639.4,259.2 639.6,260.1 639.9,260.9 640.2,261.8 640.7,262.6 641.2,263.5 641.8,264.3 642.6,265.2 643.7,266.0 645.0,266.9 646.1,267.7 647.0,268.6 647.7,269.4 648.3,270.3 648.8,271.1 649.3,272.0 649.7,272.8 649.9,273.7 650.2,274.5 650.4,275.4 650.6,276.2 650.7,277.1 650.7,277.9 650.5,278.8 650.2,279.6 649.8,280.5 649.4,281.3 648.9,282.2 648.4,283.0 647.8,283.9 647.0,284.7 646.3,285.6 645.5,286.4 644.7,287.2 643.9,288.1 643.1,288.9 642.3,289.8 641.5,290.6 640.7,291.5 639.9,292.3 639.3,293.2 638.8,294.0 638.2,294.9 637.8,295.7 637.4,296.6 637.0,296.6 636.6,295.7 636.2,294.9 635.6,294.0 635.1,293.2 634.5,292.3 633.7,291.5 632.9,290.6 632.1,289.8 631.3,288.9 630.5,288.1 629.7,287.2 628.9,286.4 628.1,285.6 627.4,284.7 626.6,283.9 626.0,283.0 625.5,282.2 625.0,281.3 624.6,280.5 624.2,279.6 623.9,278.8 623.7,277.9 623.7,277.1 623.8,276.2 624.0,275.4 624.2,274.5 624.5,273.7 624.7,272.8 625.1,272.0 625.6,271.1 626.1,270.3 626.7,269.4 627.4,268.6 628.3,267.7 629.4,266.9 630.7,266.0 631.8,265.2 632.6,264.3 633.2,263.5 633.7,262.6 634.2,261.8 634.5,260.9 634.8,260.1 635.0,259.2Z" fill="none" stroke="#33a985" stroke-width="1.05" stroke-linejoin="round"/>
<line x1="637.20" y1="259.50" x2="637.20" y2="271.80" stroke="#33a985" stroke-width="1"/>
<line x1="637.20" y1="284.00" x2="637.20" y2="296.50" stroke="#33a985" stroke-width="1"/>
<rect x="634.20" y="271.80" width="6.30" height="12.20" fill="#fff" stroke="#33a985" stroke-width="1"/>
<line x1="634.20" y1="278.10" x2="640.50" y2="278.10" stroke="#33a985" stroke-width="2.4"/>
<path d="M668.3,253.4 668.7,254.4 669.1,255.4 669.5,256.3 669.9,257.3 670.4,258.3 670.9,259.3 671.4,260.3 672.0,261.2 672.6,262.2 673.3,263.2 673.9,264.2 674.6,265.2 675.2,266.2 675.8,267.1 676.4,268.1 677.0,269.1 677.6,270.1 678.1,271.1 678.7,272.0 679.3,273.0 679.9,274.0 680.4,275.0 680.9,276.0 681.3,277.0 681.6,277.9 681.8,278.9 681.8,279.9 681.5,280.9 681.0,281.9 680.4,282.8 679.7,283.8 678.9,284.8 677.9,285.8 676.8,286.8 675.7,287.7 674.9,288.7 674.2,289.7 673.5,290.7 673.0,291.7 672.5,292.7 672.2,293.6 671.9,294.6 671.6,295.6 671.5,296.6 664.3,296.6 664.2,295.6 663.9,294.6 663.6,293.6 663.3,292.7 662.8,291.7 662.3,290.7 661.6,289.7 660.9,288.7 660.1,287.7 659.0,286.8 657.9,285.8 656.9,284.8 656.1,283.8 655.4,282.8 654.8,281.9 654.3,280.9 654.0,279.9 654.0,278.9 654.2,277.9 654.5,277.0 654.9,276.0 655.4,275.0 655.9,274.0 656.5,273.0 657.1,272.0 657.7,271.1 658.2,270.1 658.8,269.1 659.4,268.1 660.0,267.1 660.6,266.2 661.2,265.2 661.9,264.2 662.5,263.2 663.2,262.2 663.8,261.2 664.4,260.3 664.9,259.3 665.4,258.3 665.9,257.3 666.3,256.3 666.7,255.4 667.1,254.4 667.5,253.4Z" fill="none" stroke="#de6a1c" stroke-width="1.05" stroke-linejoin="round"/>
<line x1="667.90" y1="266.00" x2="667.90" y2="271.40" stroke="#de6a1c" stroke-width="1"/>
<line x1="667.90" y1="284.40" x2="667.90" y2="296.60" stroke="#de6a1c" stroke-width="1"/>
<rect x="664.60" y="271.40" width="6.50" height="13.00" fill="#fff" stroke="#de6a1c" stroke-width="1"/>
<line x1="664.60" y1="279.50" x2="671.10" y2="279.50" stroke="#de6a1c" stroke-width="2.4"/>
<circle cx="667.90" cy="251.59" r="2.25" fill="#de6a1c"/>
<path d="M420.2,355.5 420.8,356.3 421.4,357.0 422.1,357.7 422.7,358.4 423.4,359.1 424.0,359.8 424.7,360.6 425.5,361.3 426.2,362.0 426.9,362.7 427.6,363.4 428.3,364.1 429.1,364.8 429.9,365.6 430.8,366.3 431.5,367.0 432.1,367.7 432.3,368.4 432.2,369.1 431.8,369.9 431.1,370.6 430.4,371.3 429.8,372.0 429.3,372.7 428.9,373.4 428.4,374.1 428.0,374.9 427.5,375.6 427.0,376.3 426.4,377.0 425.8,377.7 425.2,378.4 424.6,379.2 424.1,379.9 423.6,380.6 423.1,381.3 422.6,382.0 422.2,382.7 421.9,383.5 421.6,384.2 421.5,384.9 421.5,385.6 421.5,386.3 421.5,387.0 415.3,387.0 415.3,386.3 415.3,385.6 415.3,384.9 415.2,384.2 414.9,383.5 414.6,382.7 414.2,382.0 413.7,381.3 413.2,380.6 412.7,379.9 412.2,379.2 411.6,378.4 411.0,377.7 410.4,377.0 409.8,376.3 409.3,375.6 408.8,374.9 408.4,374.1 407.9,373.4 407.5,372.7 407.0,372.0 406.4,371.3 405.7,370.6 405.0,369.9 404.6,369.1 404.5,368.4 404.7,367.7 405.3,367.0 406.0,366.3 406.9,365.6 407.7,364.8 408.5,364.1 409.2,363.4 409.9,362.7 410.6,362.0 411.3,361.3 412.1,360.6 412.8,359.8 413.4,359.1 414.1,358.4 414.7,357.7 415.4,357.0 416.0,356.3 416.6,355.5Z" fill="none" stroke="#33a985" stroke-width="1.05" stroke-linejoin="round"/>
<line x1="418.40" y1="355.50" x2="418.40" y2="365.40" stroke="#33a985" stroke-width="1"/>
<line x1="418.40" y1="374.40" x2="418.40" y2="386.80" stroke="#33a985" stroke-width="1"/>
<rect x="415.30" y="365.40" width="6.30" height="9.00" fill="#fff" stroke="#33a985" stroke-width="1"/>
<line x1="415.30" y1="369.00" x2="421.60" y2="369.00" stroke="#33a985" stroke-width="2.4"/>
<path d="M450.6,349.2 451.2,350.1 451.7,351.0 452.2,351.8 452.7,352.7 453.2,353.5 453.8,354.4 454.3,355.3 454.8,356.1 455.3,357.0 455.8,357.8 456.4,358.7 456.9,359.5 457.4,360.4 457.9,361.3 458.2,362.1 458.6,363.0 458.9,363.8 459.2,364.7 459.5,365.6 459.8,366.4 460.0,367.3 460.1,368.1 460.1,369.0 459.9,369.9 459.6,370.7 459.2,371.6 458.7,372.4 458.2,373.3 457.8,374.1 457.3,375.0 456.8,375.9 456.2,376.7 455.7,377.6 455.1,378.4 454.5,379.3 454.0,380.2 453.4,381.0 453.0,381.9 452.5,382.7 452.0,383.6 451.5,384.5 451.1,385.3 450.6,386.2 450.2,387.0 448.4,387.0 448.0,386.2 447.5,385.3 447.1,384.5 446.6,383.6 446.1,382.7 445.6,381.9 445.2,381.0 444.6,380.2 444.1,379.3 443.5,378.4 442.9,377.6 442.4,376.7 441.8,375.9 441.3,375.0 440.8,374.1 440.4,373.3 439.9,372.4 439.4,371.6 439.0,370.7 438.7,369.9 438.5,369.0 438.5,368.1 438.6,367.3 438.8,366.4 439.1,365.6 439.4,364.7 439.7,363.8 440.0,363.0 440.4,362.1 440.7,361.3 441.2,360.4 441.7,359.5 442.2,358.7 442.8,357.8 443.3,357.0 443.8,356.1 444.3,355.3 444.8,354.4 445.4,353.5 445.9,352.7 446.4,351.8 446.9,351.0 447.4,350.1 448.0,349.2Z" fill="none" stroke="#de6a1c" stroke-width="1.05" stroke-linejoin="round"/>
<line x1="449.30" y1="349.20" x2="449.30" y2="361.80" stroke="#de6a1c" stroke-width="1"/>
<line x1="449.30" y1="374.40" x2="449.30" y2="386.80" stroke="#de6a1c" stroke-width="1"/>
<rect x="446.30" y="361.80" width="6.30" height="12.60" fill="#fff" stroke="#de6a1c" stroke-width="1"/>
<line x1="446.30" y1="368.10" x2="452.60" y2="368.10" stroke="#de6a1c" stroke-width="2.4"/>
<path d="M491.7,345.2 492.0,346.1 492.3,347.1 492.6,348.0 492.9,349.0 493.3,349.9 493.7,350.9 494.1,351.8 494.6,352.8 495.0,353.8 495.6,354.7 496.1,355.7 496.6,356.6 497.1,357.6 497.6,358.5 498.2,359.5 498.8,360.4 499.4,361.4 500.2,362.3 501.2,363.3 502.2,364.2 503.2,365.2 503.8,366.1 503.9,367.1 503.7,368.0 503.3,369.0 503.0,369.9 503.1,370.9 503.5,371.8 504.0,372.8 504.3,373.7 504.2,374.7 503.5,375.6 502.5,376.6 501.3,377.5 500.3,378.5 499.4,379.4 498.4,380.4 497.4,381.3 496.5,382.3 495.6,383.2 494.7,384.2 493.8,385.1 493.0,386.1 492.2,387.0 490.4,387.0 489.6,386.1 488.8,385.1 487.9,384.2 487.0,383.2 486.1,382.3 485.2,381.3 484.2,380.4 483.2,379.4 482.3,378.5 481.3,377.5 480.1,376.6 479.1,375.6 478.4,374.7 478.3,373.7 478.6,372.8 479.1,371.8 479.5,370.9 479.6,369.9 479.3,369.0 478.9,368.0 478.7,367.1 478.8,366.1 479.4,365.2 480.4,364.2 481.4,363.3 482.4,362.3 483.2,361.4 483.8,360.4 484.4,359.5 485.0,358.5 485.5,357.6 486.0,356.6 486.5,355.7 487.0,354.7 487.6,353.8 488.0,352.8 488.5,351.8 488.9,350.9 489.3,349.9 489.7,349.0 490.0,348.0 490.3,347.1 490.6,346.1 490.9,345.2Z" fill="none" stroke="#33a985" stroke-width="1.05" stroke-linejoin="round"/>
<line x1="491.30" y1="345.00" x2="491.30" y2="364.10" stroke="#33a985" stroke-width="1"/>
<line x1="491.30" y1="375.30" x2="491.30" y2="386.80" stroke="#33a985" stroke-width="1"/>
<rect x="488.50" y="364.10" width="6.00" height="11.20" fill="#fff" stroke="#33a985" stroke-width="1"/>
<line x1="488.50" y1="369.50" x2="494.50" y2="369.50" stroke="#33a985" stroke-width="2.4"/>
<circle cx="491.30" cy="343.39" r="2.25" fill="#33a985"/>
<path d="M522.3,345.2 522.6,346.1 522.9,347.1 523.2,348.0 523.6,349.0 523.9,349.9 524.3,350.9 524.8,351.8 525.2,352.8 525.8,353.8 526.4,354.7 527.0,355.7 527.5,356.6 528.1,357.6 528.6,358.5 529.2,359.5 529.7,360.4 530.2,361.4 530.6,362.3 530.9,363.3 531.1,364.2 531.2,365.2 531.3,366.1 531.4,367.1 531.5,368.0 531.7,369.0 532.0,369.9 532.9,370.9 534.1,371.8 535.2,372.8 535.8,373.7 535.7,374.7 535.0,375.6 534.0,376.6 532.9,377.5 531.8,378.5 530.7,379.4 529.4,380.4 528.0,381.3 526.8,382.3 525.7,383.2 524.7,384.2 523.9,385.1 523.1,386.1 522.3,387.0 521.5,387.0 520.7,386.1 519.9,385.1 519.1,384.2 518.1,383.2 517.0,382.3 515.8,381.3 514.4,380.4 513.1,379.4 512.0,378.5 510.9,377.5 509.8,376.6 508.8,375.6 508.1,374.7 508.0,373.7 508.6,372.8 509.7,371.8 510.9,370.9 511.8,369.9 512.1,369.0 512.3,368.0 512.4,367.1 512.5,366.1 512.6,365.2 512.7,364.2 512.9,363.3 513.2,362.3 513.6,361.4 514.1,360.4 514.6,359.5 515.2,358.5 515.7,357.6 516.3,356.6 516.8,355.7 517.4,354.7 518.0,353.8 518.6,352.8 519.0,351.8 519.5,350.9 519.9,349.9 520.2,349.0 520.6,348.0 520.9,347.1 521.2,346.1 521.5,345.2Z" fill="none" stroke="#de6a1c" stroke-width="1.05" stroke-linejoin="round"/>
<line x1="521.90" y1="345.00" x2="521.90" y2="361.80" stroke="#de6a1c" stroke-width="1"/>
<line x1="521.90" y1="374.40" x2="521.90" y2="386.80" stroke="#de6a1c" stroke-width="1"/>
<rect x="518.80" y="361.80" width="7.00" height="12.60" fill="#fff" stroke="#de6a1c" stroke-width="1"/>
<line x1="518.80" y1="369.00" x2="525.80" y2="369.00" stroke="#de6a1c" stroke-width="2.4"/>
<circle cx="521.90" cy="343.39" r="2.25" fill="#de6a1c"/>
<path d="M564.3,348.8 564.5,349.6 564.6,350.5 564.6,351.3 564.6,352.1 564.6,353.0 564.6,353.8 564.6,354.7 564.6,355.5 564.6,356.3 564.7,357.2 565.1,358.0 565.8,358.9 566.5,359.7 567.2,360.5 567.9,361.4 568.6,362.2 569.5,363.0 570.5,363.9 571.9,364.7 573.2,365.6 574.0,366.4 573.9,367.2 573.0,368.1 571.8,368.9 570.8,369.8 570.5,370.6 571.2,371.4 572.4,372.3 573.6,373.1 574.1,373.9 573.6,374.8 572.5,375.6 571.3,376.5 570.6,377.3 570.7,378.1 571.4,379.0 572.2,379.8 572.1,380.7 570.8,381.5 569.0,382.3 567.5,383.2 566.5,384.0 565.5,384.8 564.6,385.7 563.8,385.7 562.9,384.8 561.9,384.0 560.9,383.2 559.4,382.3 557.6,381.5 556.3,380.7 556.2,379.8 557.0,379.0 557.7,378.1 557.8,377.3 557.1,376.5 555.9,375.6 554.8,374.8 554.3,373.9 554.8,373.1 556.0,372.3 557.2,371.4 557.9,370.6 557.6,369.8 556.6,368.9 555.4,368.1 554.5,367.2 554.4,366.4 555.2,365.6 556.5,364.7 557.9,363.9 558.9,363.0 559.8,362.2 560.5,361.4 561.2,360.5 561.9,359.7 562.6,358.9 563.3,358.0 563.7,357.2 563.8,356.3 563.8,355.5 563.8,354.7 563.8,353.8 563.8,353.0 563.8,352.1 563.8,351.3 563.8,350.5 563.9,349.6 564.1,348.8Z" fill="none" stroke="#33a985" stroke-width="1.05" stroke-linejoin="round"/>
<line x1="564.20" y1="362.00" x2="564.20" y2="368.60" stroke="#33a985" stroke-width="1"/>
<line x1="564.20" y1="375.10" x2="564.20" y2="380.00" stroke="#33a985" stroke-width="1"/>
<rect x="561.50" y="368.60" width="6.00" height="6.50" fill="#fff" stroke="#33a985" stroke-width="1"/>
<line x1="561.50" y1="370.60" x2="567.50" y2="370.60" stroke="#33a985" stroke-width="2.4"/>
<circle cx="564.20" cy="348.79" r="2.25" fill="#33a985"/>
<circle cx="564.20" cy="351.49" r="2.25" fill="#33a985"/>
<circle cx="564.20" cy="354.19" r="2.25" fill="#33a985"/>
<circle cx="564.20" cy="356.89" r="2.25" fill="#33a985"/>
<circle cx="564.20" cy="386.58" r="2.25" fill="#33a985"/>
<path d="M595.0,330.8 595.2,332.1 595.2,333.3 595.3,334.6 595.3,335.9 595.3,337.1 595.3,338.4 595.3,339.7 595.3,340.9 595.3,342.2 595.3,343.5 595.3,344.7 595.3,346.0 595.3,347.3 595.3,348.5 595.3,349.8 595.3,351.1 595.3,352.4 595.3,353.6 595.4,354.9 595.8,356.2 596.4,357.4 597.3,358.7 598.2,360.0 599.3,361.2 600.8,362.5 602.9,363.8 603.9,365.0 603.4,366.3 602.5,367.6 602.1,368.8 603.3,370.1 604.9,371.4 606.9,372.6 608.6,373.9 607.2,375.2 602.3,376.4 603.0,377.7 605.2,379.0 606.6,380.2 604.1,381.5 600.5,382.8 599.5,384.0 598.8,385.3 598.5,386.6 591.3,386.6 591.0,385.3 590.3,384.0 589.3,382.8 585.7,381.5 583.2,380.2 584.6,379.0 586.8,377.7 587.5,376.4 582.6,375.2 581.2,373.9 582.9,372.6 584.9,371.4 586.5,370.1 587.7,368.8 587.3,367.6 586.4,366.3 585.9,365.0 586.9,363.8 589.0,362.5 590.5,361.2 591.6,360.0 592.5,358.7 593.4,357.4 594.0,356.2 594.4,354.9 594.5,353.6 594.5,352.4 594.5,351.1 594.5,349.8 594.5,348.5 594.5,347.3 594.5,346.0 594.5,344.7 594.5,343.5 594.5,342.2 594.5,340.9 594.5,339.7 594.5,338.4 594.5,337.1 594.5,335.9 594.5,334.6 594.6,333.3 594.6,332.1 594.8,330.8Z" fill="none" stroke="#de6a1c" stroke-width="1.05" stroke-linejoin="round"/>
<line x1="594.90" y1="356.00" x2="594.90" y2="369.00" stroke="#de6a1c" stroke-width="1"/>
<line x1="594.90" y1="379.80" x2="594.90" y2="386.50" stroke="#de6a1c" stroke-width="1"/>
<rect x="592.20" y="369.00" width="5.90" height="10.80" fill="#fff" stroke="#de6a1c" stroke-width="1"/>
<line x1="592.20" y1="374.40" x2="598.10" y2="374.40" stroke="#de6a1c" stroke-width="2.4"/>
<circle cx="594.90" cy="330.80" r="2.25" fill="#de6a1c"/>
<circle cx="594.90" cy="343.39" r="2.25" fill="#de6a1c"/>
<circle cx="594.90" cy="347.44" r="2.25" fill="#de6a1c"/>
<circle cx="594.90" cy="355.99" r="2.25" fill="#de6a1c"/>
<path d="M639.4,347.4 640.0,348.3 640.5,349.2 641.1,350.1 641.6,351.0 642.2,351.9 642.7,352.8 643.2,353.7 643.8,354.6 644.3,355.5 644.8,356.4 645.3,357.3 645.9,358.2 646.4,359.1 646.9,360.0 647.3,360.9 647.9,361.8 648.5,362.7 649.1,363.6 649.7,364.5 650.2,365.4 650.6,366.3 650.9,367.2 651.1,368.1 651.1,369.0 650.7,369.9 650.0,370.8 649.2,371.7 648.3,372.6 647.5,373.5 646.7,374.4 646.0,375.3 645.3,376.2 644.6,377.1 643.9,378.0 643.1,378.9 642.4,379.8 641.6,380.7 640.9,381.6 640.2,382.5 639.6,383.4 639.0,384.3 638.4,385.2 637.9,386.1 637.4,387.0 637.0,387.0 636.5,386.1 636.0,385.2 635.4,384.3 634.8,383.4 634.2,382.5 633.5,381.6 632.8,380.7 632.0,379.8 631.3,378.9 630.5,378.0 629.8,377.1 629.1,376.2 628.4,375.3 627.7,374.4 626.9,373.5 626.1,372.6 625.2,371.7 624.4,370.8 623.7,369.9 623.3,369.0 623.3,368.1 623.5,367.2 623.8,366.3 624.2,365.4 624.7,364.5 625.3,363.6 625.9,362.7 626.5,361.8 627.1,360.9 627.5,360.0 628.0,359.1 628.5,358.2 629.1,357.3 629.6,356.4 630.1,355.5 630.6,354.6 631.2,353.7 631.7,352.8 632.2,351.9 632.8,351.0 633.3,350.1 633.9,349.2 634.4,348.3 635.0,347.4Z" fill="none" stroke="#33a985" stroke-width="1.05" stroke-linejoin="round"/>
<line x1="637.20" y1="347.40" x2="637.20" y2="362.10" stroke="#33a985" stroke-width="1"/>
<line x1="637.20" y1="374.40" x2="637.20" y2="386.80" stroke="#33a985" stroke-width="1"/>
<rect x="634.20" y="362.10" width="6.30" height="12.30" fill="#fff" stroke="#33a985" stroke-width="1"/>
<line x1="634.20" y1="368.40" x2="640.50" y2="368.40" stroke="#33a985" stroke-width="2.4"/>
<path d="M669.0,342.0 669.7,343.1 670.3,344.1 670.9,345.1 671.5,346.1 672.1,347.2 672.7,348.2 673.4,349.2 674.1,350.2 674.8,351.2 675.5,352.3 676.2,353.3 676.9,354.3 677.4,355.3 677.7,356.4 678.0,357.4 678.3,358.4 678.6,359.4 678.9,360.4 679.1,361.5 679.3,362.5 679.5,363.5 679.6,364.5 679.7,365.6 679.8,366.6 679.8,367.6 679.8,368.6 679.5,369.7 679.2,370.7 678.7,371.7 678.2,372.7 677.7,373.7 677.2,374.8 676.5,375.8 675.8,376.8 674.9,377.8 674.1,378.9 673.2,379.9 672.4,380.9 671.7,381.9 670.9,382.9 670.1,384.0 669.4,385.0 668.6,386.0 667.9,387.0 667.5,387.0 666.8,386.0 666.0,385.0 665.3,384.0 664.5,382.9 663.7,381.9 663.0,380.9 662.2,379.9 661.3,378.9 660.5,377.8 659.6,376.8 658.9,375.8 658.2,374.8 657.7,373.7 657.2,372.7 656.7,371.7 656.2,370.7 655.9,369.7 655.6,368.6 655.6,367.6 655.6,366.6 655.7,365.6 655.8,364.5 655.9,363.5 656.1,362.5 656.3,361.5 656.5,360.4 656.8,359.4 657.1,358.4 657.4,357.4 657.7,356.4 658.0,355.3 658.5,354.3 659.2,353.3 659.9,352.3 660.6,351.2 661.3,350.2 662.0,349.2 662.7,348.2 663.3,347.2 663.9,346.1 664.5,345.1 665.1,344.1 665.7,343.1 666.4,342.0Z" fill="none" stroke="#de6a1c" stroke-width="1.05" stroke-linejoin="round"/>
<line x1="667.70" y1="342.00" x2="667.70" y2="355.50" stroke="#de6a1c" stroke-width="1"/>
<line x1="667.70" y1="374.40" x2="667.70" y2="386.80" stroke="#de6a1c" stroke-width="1"/>
<rect x="664.60" y="355.50" width="6.50" height="18.90" fill="#fff" stroke="#de6a1c" stroke-width="1"/>
<line x1="664.60" y1="368.40" x2="671.10" y2="368.40" stroke="#de6a1c" stroke-width="2.4"/>
<text x="703.70" y="392.60" font-size="10.5" fill="#1a1a1a" stroke="#1a1a1a" stroke-width="0.25">Immunogenicity</text>
<rect x="706.8" y="399.4" width="14.3" height="14.8" fill="#37ae86" stroke="#2d4a3e" stroke-width="0.9"/>
<rect x="706.8" y="416.6" width="14.3" height="14.8" fill="#e0650f" stroke="#4a2c18" stroke-width="0.9"/>
<text x="725.60" y="409.40" font-size="10.5" fill="#1a1a1a" stroke="#1a1a1a" stroke-width="0.25">Positive</text>
<text x="725.60" y="426.80" font-size="10.5" fill="#1a1a1a" stroke="#1a1a1a" stroke-width="0.25">Negative</text>
<text x="-0.20" y="479.80" font-size="19.5" fill="#000">D</text>
<rect x="42.0" y="479.6" width="42.9" height="13.8" fill="#fff" stroke="#222" stroke-width="1"/>
<text x="63.45" y="489.80" font-size="8.9" fill="#111" text-anchor="middle" stroke="#111" stroke-width="0.2">VACV</text>
<line x1="42.0" y1="493.4" x2="42.0" y2="560.3" stroke="#333" stroke-width="1"/>
<line x1="42.0" y1="560.3" x2="83.4" y2="560.3" stroke="#333" stroke-width="1"/>
<line x1="39.5" y1="557.4" x2="42.0" y2="557.4" stroke="#333" stroke-width="0.9"/>
<text x="38.40" y="560.10" font-size="7.6" fill="#4d4d4d" text-anchor="end" stroke="#4d4d4d" stroke-width="0.2">0</text>
<line x1="39.5" y1="533.3" x2="42.0" y2="533.3" stroke="#333" stroke-width="0.9"/>
<text x="38.40" y="536.00" font-size="7.6" fill="#4d4d4d" text-anchor="end" stroke="#4d4d4d" stroke-width="0.2">2000</text>
<line x1="39.5" y1="509.3" x2="42.0" y2="509.3" stroke="#333" stroke-width="0.9"/>
<text x="38.40" y="512.00" font-size="7.6" fill="#4d4d4d" text-anchor="end" stroke="#4d4d4d" stroke-width="0.2">4000</text>
<line x1="39.5" y1="545.4" x2="42.0" y2="545.4" stroke="#333" stroke-width="0.9"/>
<line x1="39.5" y1="521.3" x2="42.0" y2="521.3" stroke="#333" stroke-width="0.9"/>
<line x1="39.5" y1="497.6" x2="42.0" y2="497.6" stroke="#333" stroke-width="0.9"/>
<rect x="46.4" y="496.2" width="14.0" height="46.3" fill="#37ab84" stroke="#111" stroke-width="0.8"/>
<rect x="46.4" y="542.5" width="14.0" height="15.1" fill="#dc5f0c" stroke="#111" stroke-width="0.8"/>
<line x1="53.4" y1="560.3" x2="53.4" y2="563" stroke="#333" stroke-width="0.9"/>
<rect x="66.1" y="513.1" width="13.8" height="2.4" fill="#37ab84" stroke="#111" stroke-width="0.8"/>
<rect x="66.1" y="515.5" width="13.8" height="42.1" fill="#dc5f0c" stroke="#111" stroke-width="0.8"/>
<line x1="73.0" y1="560.3" x2="73.0" y2="563" stroke="#333" stroke-width="0.9"/>
<text x="49.10" y="565.50" font-size="8.7" fill="#222" text-anchor="end" transform="rotate(-90 49.10 565.50)" stroke="#222" stroke-width="0.2">Non−VACV</text>
<text x="59.90" y="565.50" font-size="8.7" fill="#222" text-anchor="end" transform="rotate(-90 59.90 565.50)" stroke="#222" stroke-width="0.2">train</text>
<text x="75.00" y="565.50" font-size="8.7" fill="#222" text-anchor="end" transform="rotate(-90 75.00 565.50)" stroke="#222" stroke-width="0.2">VACV test</text>
<rect x="111.6" y="479.6" width="43.0" height="13.8" fill="#fff" stroke="#222" stroke-width="1"/>
<text x="133.10" y="489.80" font-size="8.9" fill="#111" text-anchor="middle" stroke="#111" stroke-width="0.2">SARS2</text>
<line x1="111.6" y1="493.4" x2="111.6" y2="560.3" stroke="#333" stroke-width="1"/>
<line x1="111.6" y1="560.3" x2="153.1" y2="560.3" stroke="#333" stroke-width="1"/>
<line x1="109.1" y1="557.4" x2="111.6" y2="557.4" stroke="#333" stroke-width="0.9"/>
<text x="108.00" y="560.10" font-size="7.6" fill="#4d4d4d" text-anchor="end" stroke="#4d4d4d" stroke-width="0.2">0</text>
<line x1="109.1" y1="542.4" x2="111.6" y2="542.4" stroke="#333" stroke-width="0.9"/>
<text x="108.00" y="545.10" font-size="7.6" fill="#4d4d4d" text-anchor="end" stroke="#4d4d4d" stroke-width="0.2">2000</text>
<line x1="109.1" y1="527.3" x2="111.6" y2="527.3" stroke="#333" stroke-width="0.9"/>
<text x="108.00" y="530.00" font-size="7.6" fill="#4d4d4d" text-anchor="end" stroke="#4d4d4d" stroke-width="0.2">4000</text>
<line x1="109.1" y1="512.7" x2="111.6" y2="512.7" stroke="#333" stroke-width="0.9"/>
<text x="108.00" y="515.40" font-size="7.6" fill="#4d4d4d" text-anchor="end" stroke="#4d4d4d" stroke-width="0.2">6000</text>
<line x1="109.1" y1="497.6" x2="111.6" y2="497.6" stroke="#333" stroke-width="0.9"/>
<text x="108.00" y="500.30" font-size="7.6" fill="#4d4d4d" text-anchor="end" stroke="#4d4d4d" stroke-width="0.2">8000</text>
<rect x="116.5" y="496.2" width="13.0" height="27.2" fill="#37ab84" stroke="#111" stroke-width="0.8"/>
<rect x="116.5" y="523.4" width="13.0" height="34.2" fill="#dc5f0c" stroke="#111" stroke-width="0.8"/>
<line x1="123.0" y1="560.3" x2="123.0" y2="563" stroke="#333" stroke-width="0.9"/>
<rect x="134.9" y="553.1" width="13.2" height="2.9" fill="#37ab84" stroke="#111" stroke-width="0.8"/>
<rect x="134.9" y="556.0" width="13.2" height="1.6" fill="#dc5f0c" stroke="#111" stroke-width="0.8"/>
<line x1="141.5" y1="560.3" x2="141.5" y2="563" stroke="#333" stroke-width="0.9"/>
<text x="118.70" y="565.50" font-size="8.7" fill="#222" text-anchor="end" transform="rotate(-90 118.70 565.50)" stroke="#222" stroke-width="0.2">Non−SARS2</text>
<text x="129.50" y="565.50" font-size="8.7" fill="#222" text-anchor="end" transform="rotate(-90 129.50 565.50)" stroke="#222" stroke-width="0.2">train</text>
<text x="143.50" y="565.50" font-size="8.7" fill="#222" text-anchor="end" transform="rotate(-90 143.50 565.50)" stroke="#222" stroke-width="0.2">SARS2 test</text>
<rect x="183.2" y="479.6" width="41.4" height="13.8" fill="#fff" stroke="#222" stroke-width="1"/>
<text x="203.90" y="489.80" font-size="8.9" fill="#111" text-anchor="middle" stroke="#111" stroke-width="0.2">Random</text>
<line x1="183.2" y1="493.4" x2="183.2" y2="560.3" stroke="#333" stroke-width="1"/>
<line x1="183.2" y1="560.3" x2="223.1" y2="560.3" stroke="#333" stroke-width="1"/>
<line x1="180.7" y1="557.3" x2="183.2" y2="557.3" stroke="#333" stroke-width="0.9"/>
<text x="179.60" y="560.00" font-size="7.6" fill="#4d4d4d" text-anchor="end" stroke="#4d4d4d" stroke-width="0.2">0</text>
<line x1="180.7" y1="542.3" x2="183.2" y2="542.3" stroke="#333" stroke-width="0.9"/>
<text x="179.60" y="545.00" font-size="7.6" fill="#4d4d4d" text-anchor="end" stroke="#4d4d4d" stroke-width="0.2">2000</text>
<line x1="180.7" y1="526.5" x2="183.2" y2="526.5" stroke="#333" stroke-width="0.9"/>
<text x="179.60" y="529.20" font-size="7.6" fill="#4d4d4d" text-anchor="end" stroke="#4d4d4d" stroke-width="0.2">4000</text>
<line x1="180.7" y1="510.5" x2="183.2" y2="510.5" stroke="#333" stroke-width="0.9"/>
<text x="179.60" y="513.20" font-size="7.6" fill="#4d4d4d" text-anchor="end" stroke="#4d4d4d" stroke-width="0.2">6000</text>
<line x1="180.7" y1="495.2" x2="183.2" y2="495.2" stroke="#333" stroke-width="0.9"/>
<text x="179.60" y="497.90" font-size="7.6" fill="#4d4d4d" text-anchor="end" stroke="#4d4d4d" stroke-width="0.2">8000</text>
<rect x="187.3" y="496.6" width="13.6" height="27.5" fill="#37ab84" stroke="#111" stroke-width="0.8"/>
<rect x="187.3" y="524.1" width="13.6" height="33.5" fill="#dc5f0c" stroke="#111" stroke-width="0.8"/>
<line x1="194.10000000000002" y1="560.3" x2="194.10000000000002" y2="563" stroke="#333" stroke-width="0.9"/>
<rect x="206.5" y="550.6" width="13.5" height="3.9" fill="#37ab84" stroke="#111" stroke-width="0.8"/>
<rect x="206.5" y="554.5" width="13.5" height="3.1" fill="#dc5f0c" stroke="#111" stroke-width="0.8"/>
<line x1="213.25" y1="560.3" x2="213.25" y2="563" stroke="#333" stroke-width="0.9"/>
<text x="196.10" y="565.50" font-size="8.7" fill="#222" text-anchor="end" transform="rotate(-90 196.10 565.50)" stroke="#222" stroke-width="0.2">90% train</text>
<text x="215.20" y="565.50" font-size="8.7" fill="#222" text-anchor="end" transform="rotate(-90 215.20 565.50)" stroke="#222" stroke-width="0.2">10% test</text>
<text x="14.90" y="531.20" font-size="8.2" fill="#111" text-anchor="middle" font-weight="bold" transform="rotate(-90 14.90 531.20)" stroke="#111" stroke-width="0.2"># of peptides</text>
<text x="243.60" y="479.90" font-size="19.5" fill="#000">E</text>
<rect x="280.8" y="476.5" width="187.60" height="139.50" fill="#fff"/>
<path d="M280.8,616.0 282.0,616.0 282.0,602.0 283.2,602.0 283.2,598.3 284.3,598.3 284.3,594.7 285.5,594.7 285.5,591.6 286.7,591.6 286.7,587.6 287.9,587.6 287.9,585.2 289.1,585.2 289.1,584.2 290.2,584.2 290.2,582.2 291.4,582.2 291.4,580.8 292.6,580.8 292.6,579.3 293.8,579.3 293.8,578.5 295.0,578.5 295.0,577.3 296.1,577.3 296.1,577.0 297.3,577.0 297.3,575.9 298.5,575.9 298.5,575.1 299.7,575.1 299.7,573.5 300.9,573.5 300.9,572.6 302.0,572.6 302.0,571.5 303.2,571.5 303.2,570.6 304.4,570.6 304.4,569.2 305.6,569.2 305.6,568.1 306.8,568.1 306.8,567.3 307.9,567.3 307.9,565.6 309.1,565.6 309.1,564.8 310.3,564.8 310.3,565.6 311.5,565.6 311.5,564.3 312.7,564.3 312.7,562.3 313.8,562.3 313.8,560.9 315.0,560.9 315.0,559.1 316.2,559.1 316.2,557.6 317.4,557.6 317.4,555.2 318.6,555.2 318.6,555.1 319.7,555.1 319.7,553.1 320.9,553.1 320.9,550.4 322.1,550.4 322.1,549.4 323.3,549.4 323.3,547.7 324.5,547.7 324.5,546.7 325.6,546.7 325.6,545.7 326.8,545.7 326.8,544.4 328.0,544.4 328.0,544.0 329.2,544.0 329.2,544.1 330.4,544.1 330.4,543.4 331.5,543.4 331.5,542.7 332.7,542.7 332.7,542.6 333.9,542.6 333.9,541.5 335.1,541.5 335.1,540.7 336.3,540.7 336.3,540.0 337.4,540.0 337.4,539.6 338.6,539.6 338.6,538.3 339.8,538.3 339.8,537.5 341.0,537.5 341.0,537.0 342.2,537.0 342.2,536.9 343.3,536.9 343.3,535.4 344.5,535.4 344.5,535.3 345.7,535.3 345.7,534.0 346.9,534.0 346.9,534.2 348.1,534.2 348.1,532.3 349.2,532.3 349.2,531.6 350.4,531.6 350.4,531.1 351.6,531.1 351.6,529.5 352.8,529.5 352.8,528.2 354.0,528.2 354.0,526.9 355.1,526.9 355.1,526.3 356.3,526.3 356.3,525.5 357.5,525.5 357.5,524.0 358.7,524.0 358.7,523.4 359.9,523.4 359.9,522.1 361.0,522.1 361.0,521.0 362.2,521.0 362.2,521.5 363.4,521.5 363.4,520.1 364.6,520.1 364.6,519.1 365.8,519.1 365.8,519.2 366.9,519.2 366.9,518.8 368.1,518.8 368.1,517.5 369.3,517.5 369.3,517.1 370.5,517.1 370.5,516.2 371.7,516.2 371.7,516.2 372.8,516.2 372.8,516.1 374.0,516.1 374.0,514.9 375.2,514.9 375.2,514.5 376.4,514.5 376.4,513.4 377.5,513.4 377.5,513.1 378.7,513.1 378.7,513.4 379.9,513.4 379.9,512.6 381.1,512.6 381.1,511.1 382.3,511.1 382.3,510.6 383.4,510.6 383.4,510.6 384.6,510.6 384.6,509.8 385.8,509.8 385.8,509.0 387.0,509.0 387.0,508.5 388.2,508.5 388.2,507.8 389.3,507.8 389.3,507.6 390.5,507.6 390.5,507.3 391.7,507.3 391.7,506.9 392.9,506.9 392.9,505.6 394.1,505.6 394.1,506.5 395.2,506.5 395.2,504.8 396.4,504.8 396.4,504.0 397.6,504.0 397.6,504.0 398.8,504.0 398.8,502.4 400.0,502.4 400.0,502.2 401.1,502.2 401.1,500.8 402.3,500.8 402.3,500.5 403.5,500.5 403.5,499.4 404.7,499.4 404.7,498.5 405.9,498.5 405.9,498.2 407.0,498.2 407.0,498.0 408.2,498.0 408.2,497.7 409.4,497.7 409.4,495.6 410.6,495.6 410.6,495.9 411.8,495.9 411.8,495.5 412.9,495.5 412.9,494.6 414.1,494.6 414.1,494.1 415.3,494.1 415.3,493.1 416.5,493.1 416.5,493.1 417.7,493.1 417.7,492.6 418.8,492.6 418.8,492.5 420.0,492.5 420.0,491.5 421.2,491.5 421.2,491.7 422.4,491.7 422.4,490.6 423.6,490.6 423.6,489.9 424.7,489.9 424.7,491.1 425.9,491.1 425.9,491.3 427.1,491.3 427.1,489.7 428.3,489.7 428.3,488.5 429.5,488.5 429.5,489.9 430.6,489.9 430.6,489.8 431.8,489.8 431.8,488.7 433.0,488.7 433.0,489.2 434.2,489.2 434.2,488.8 435.4,488.8 435.4,488.5 436.5,488.5 436.5,487.8 437.7,487.8 437.7,488.0 438.9,488.0 438.9,487.5 440.1,487.5 440.1,487.5 441.3,487.5 441.3,487.5 442.4,487.5 442.4,487.1 443.6,487.1 443.6,487.1 444.8,487.1 444.8,486.4 446.0,486.4 446.0,486.7 447.2,486.7 447.2,486.4 448.3,486.4 448.3,485.0 449.5,485.0 449.5,485.5 450.7,485.5 450.7,485.2 451.9,485.2 451.9,484.7 453.1,484.7 453.1,485.0 454.2,485.0 454.2,484.8 455.4,484.8 455.4,484.3 456.6,484.3 456.6,484.2 457.8,484.2 457.8,484.7 459.0,484.7 459.0,483.7 460.1,483.7 460.1,484.2 461.3,484.2 461.3,484.3 462.5,484.3 462.5,484.1 463.7,484.1 463.7,483.8 464.9,483.8 464.9,483.1 466.0,483.1 466.0,483.9 467.2,483.9 467.2,483.2 468.4,483.2 468.4,483.1" fill="none" stroke="#1f77b4" stroke-width="1.25" stroke-linejoin="round"/>
<path d="M280.8,616.0 282.0,616.0 282.0,606.6 283.2,606.6 283.2,603.9 284.3,603.9 284.3,601.1 285.5,601.1 285.5,600.2 286.7,600.2 286.7,596.3 287.9,596.3 287.9,584.2 289.1,584.2 289.1,583.2 290.2,583.2 290.2,581.0 291.4,581.0 291.4,579.6 292.6,579.6 292.6,578.3 293.8,578.3 293.8,575.4 295.0,575.4 295.0,573.7 296.1,573.7 296.1,573.2 297.3,573.2 297.3,573.0 298.5,573.0 298.5,572.1 299.7,572.1 299.7,571.9 300.9,571.9 300.9,570.8 302.0,570.8 302.0,570.2 303.2,570.2 303.2,568.7 304.4,568.7 304.4,568.0 305.6,568.0 305.6,565.4 306.8,565.4 306.8,563.8 307.9,563.8 307.9,561.7 309.1,561.7 309.1,559.8 310.3,559.8 310.3,558.9 311.5,558.9 311.5,556.5 312.7,556.5 312.7,554.3 313.8,554.3 313.8,554.5 315.0,554.5 315.0,552.9 316.2,552.9 316.2,551.3 317.4,551.3 317.4,549.2 318.6,549.2 318.6,548.7 319.7,548.7 319.7,547.5 320.9,547.5 320.9,546.8 322.1,546.8 322.1,546.2 323.3,546.2 323.3,545.4 324.5,545.4 324.5,544.9 325.6,544.9 325.6,543.8 326.8,543.8 326.8,544.1 328.0,544.1 328.0,543.2 329.2,543.2 329.2,542.3 330.4,542.3 330.4,541.0 331.5,541.0 331.5,541.5 332.7,541.5 332.7,541.0 333.9,541.0 333.9,540.1 335.1,540.1 335.1,538.7 336.3,538.7 336.3,538.6 337.4,538.6 337.4,537.3 338.6,537.3 338.6,538.1 339.8,538.1 339.8,536.0 341.0,536.0 341.0,535.6 342.2,535.6 342.2,536.5 343.3,536.5 343.3,535.4 344.5,535.4 344.5,534.7 345.7,534.7 345.7,534.9 346.9,534.9 346.9,533.4 348.1,533.4 348.1,531.4 349.2,531.4 349.2,531.0 350.4,531.0 350.4,529.8 351.6,529.8 351.6,528.6 352.8,528.6 352.8,526.6 354.0,526.6 354.0,525.7 355.1,525.7 355.1,524.6 356.3,524.6 356.3,523.4 357.5,523.4 357.5,522.0 358.7,522.0 358.7,521.7 359.9,521.7 359.9,520.8 361.0,520.8 361.0,520.2 362.2,520.2 362.2,517.5 363.4,517.5 363.4,517.0 364.6,517.0 364.6,515.3 365.8,515.3 365.8,515.0 366.9,515.0 366.9,514.3 368.1,514.3 368.1,513.1 369.3,513.1 369.3,512.8 370.5,512.8 370.5,512.8 371.7,512.8 371.7,512.0 372.8,512.0 372.8,510.2 374.0,510.2 374.0,510.7 375.2,510.7 375.2,510.4 376.4,510.4 376.4,510.6 377.5,510.6 377.5,510.5 378.7,510.5 378.7,509.2 379.9,509.2 379.9,509.0 381.1,509.0 381.1,508.7 382.3,508.7 382.3,507.8 383.4,507.8 383.4,507.6 384.6,507.6 384.6,506.5 385.8,506.5 385.8,505.7 387.0,505.7 387.0,506.3 388.2,506.3 388.2,504.9 389.3,504.9 389.3,505.5 390.5,505.5 390.5,504.8 391.7,504.8 391.7,504.9 392.9,504.9 392.9,504.2 394.1,504.2 394.1,503.4 395.2,503.4 395.2,503.1 396.4,503.1 396.4,502.6 397.6,502.6 397.6,502.0 398.8,502.0 398.8,501.4 400.0,501.4 400.0,501.1 401.1,501.1 401.1,499.7 402.3,499.7 402.3,498.6 403.5,498.6 403.5,497.5 404.7,497.5 404.7,496.8 405.9,496.8 405.9,495.2 407.0,495.2 407.0,495.4 408.2,495.4 408.2,495.1 409.4,495.1 409.4,493.4 410.6,493.4 410.6,494.2 411.8,494.2 411.8,492.7 412.9,492.7 412.9,492.9 414.1,492.9 414.1,491.7 415.3,491.7 415.3,492.4 416.5,492.4 416.5,490.7 417.7,490.7 417.7,490.9 418.8,490.9 418.8,490.9 420.0,490.9 420.0,489.3 421.2,489.3 421.2,489.4 422.4,489.4 422.4,489.3 423.6,489.3 423.6,489.3 424.7,489.3 424.7,488.7 425.9,488.7 425.9,488.3 427.1,488.3 427.1,487.6 428.3,487.6 428.3,487.2 429.5,487.2 429.5,487.5 430.6,487.5 430.6,487.1 431.8,487.1 431.8,486.7 433.0,486.7 433.0,486.7 434.2,486.7 434.2,486.0 435.4,486.0 435.4,485.4 436.5,485.4 436.5,484.7 437.7,484.7 437.7,484.3 438.9,484.3 438.9,485.1 440.1,485.1 440.1,484.3 441.3,484.3 441.3,484.6 442.4,484.6 442.4,483.3 443.6,483.3 443.6,484.1 444.8,484.1 444.8,483.7 446.0,483.7 446.0,484.3 447.2,484.3 447.2,484.1 448.3,484.1 448.3,483.4 449.5,483.4 449.5,483.6 450.7,483.6 450.7,483.1 451.9,483.1 451.9,483.9 453.1,483.9 453.1,483.1 454.2,483.1 454.2,483.6 455.4,483.6 455.4,483.1 456.6,483.1 456.6,483.3 457.8,483.3 457.8,483.1 459.0,483.1 459.0,483.8 460.1,483.8 460.1,483.1 461.3,483.1 461.3,483.6 462.5,483.6 462.5,483.4 463.7,483.4 463.7,483.1 464.9,483.1 464.9,483.3 466.0,483.3 466.0,483.1 467.2,483.1 467.2,483.1 468.4,483.1 468.4,483.1" fill="none" stroke="#ff7f0e" stroke-width="1.25" stroke-linejoin="round"/>
<path d="M280.8,616.0 282.9,616.0 282.9,612.7 285.0,612.7 285.0,611.8 287.1,611.8 287.1,609.5 289.2,609.5 289.2,608.3 291.3,608.3 291.3,606.8 293.4,606.8 293.4,604.4 295.6,604.4 295.6,602.6 297.7,602.6 297.7,600.6 299.8,600.6 299.8,599.3 301.9,599.3 301.9,596.7 304.0,596.7 304.0,596.0 306.1,596.0 306.1,594.5 308.2,594.5 308.2,592.9 310.3,592.9 310.3,591.5 312.4,591.5 312.4,590.1 314.5,590.1 314.5,588.1 316.6,588.1 316.6,585.7 318.7,585.7 318.7,583.8 320.8,583.8 320.8,578.1 323.0,578.1 323.0,576.1 325.1,576.1 325.1,574.2 327.2,574.2 327.2,571.9 329.3,571.9 329.3,570.0 331.4,570.0 331.4,568.1 333.5,568.1 333.5,565.9 335.6,565.9 335.6,563.7 337.7,563.7 337.7,561.2 339.8,561.2 339.8,559.7 341.9,559.7 341.9,557.5 344.0,557.5 344.0,555.0 346.1,555.0 346.1,554.7 348.3,554.7 348.3,554.1 350.4,554.1 350.4,552.6 352.5,552.6 352.5,551.2 354.6,551.2 354.6,548.7 356.7,548.7 356.7,546.0 358.8,546.0 358.8,546.4 360.9,546.4 360.9,544.8 363.0,544.8 363.0,544.0 365.1,544.0 365.1,542.9 367.2,542.9 367.2,541.1 369.3,541.1 369.3,540.3 371.4,540.3 371.4,539.8 373.5,539.8 373.5,539.3 375.7,539.3 375.7,538.4 377.8,538.4 377.8,537.9 379.9,537.9 379.9,536.7 382.0,536.7 382.0,535.5 384.1,535.5 384.1,534.4 386.2,534.4 386.2,532.9 388.3,532.9 388.3,532.0 390.4,532.0 390.4,531.0 392.5,531.0 392.5,529.3 394.6,529.3 394.6,527.8 396.7,527.8 396.7,526.4 398.8,526.4 398.8,525.1 400.9,525.1 400.9,523.1 403.1,523.1 403.1,522.0 405.2,522.0 405.2,519.3 407.3,519.3 407.3,517.5 409.4,517.5 409.4,516.3 411.5,516.3 411.5,514.0 413.6,514.0 413.6,512.5 415.7,512.5 415.7,510.2 417.8,510.2 417.8,508.9 419.9,508.9 419.9,506.5 422.0,506.5 422.0,504.6 424.1,504.6 424.1,503.2 426.2,503.2 426.2,502.8 428.4,502.8 428.4,501.0 430.5,501.0 430.5,499.4 432.6,499.4 432.6,498.4 434.7,498.4 434.7,497.1 436.8,497.1 436.8,497.0 438.9,497.0 438.9,495.7 441.0,495.7 441.0,495.0 443.1,495.0 443.1,493.3 445.2,493.3 445.2,493.0 447.3,493.0 447.3,492.5 449.4,492.5 449.4,492.4 451.5,492.4 451.5,490.5 453.6,490.5 453.6,489.7 455.8,489.7 455.8,488.6 457.9,488.6 457.9,487.4 460.0,487.4 460.0,486.6 462.1,486.6 462.1,485.9 464.2,485.9 464.2,485.1 466.3,485.1 466.3,484.2 468.4,484.2 468.4,483.1" fill="none" stroke="#2ca02c" stroke-width="1.25" stroke-linejoin="round"/>
<path d="M280.8,616.0 468.4,483.1" fill="none" stroke="#00007f" stroke-width="1.3" stroke-linejoin="round" stroke-dasharray="3.6,2.2"/>
<rect x="364.6" y="582.7" width="100.2" height="30.3" rx="1.8" fill="#fff" fill-opacity="0.8" stroke="#d0d0d0" stroke-width="0.8"/>
<line x1="367.1" y1="588.30" x2="379.6" y2="588.30" stroke="#1f77b4" stroke-width="1.3"/>
<text x="384.60" y="590.80" font-size="7.0" fill="#111" stroke="#111" stroke-width="0.3">Random split, AUC=0.70</text>
<line x1="367.1" y1="597.50" x2="379.6" y2="597.50" stroke="#ff7f0e" stroke-width="1.3"/>
<text x="384.60" y="600.00" font-size="7.0" fill="#111" stroke="#111" stroke-width="0.3">SARS-2, AUC=0.72</text>
<line x1="367.1" y1="606.70" x2="379.6" y2="606.70" stroke="#2ca02c" stroke-width="1.3"/>
<text x="384.60" y="609.20" font-size="7.0" fill="#111" stroke="#111" stroke-width="0.3">VACV, AUC=0.56</text>
<rect x="280.8" y="476.5" width="187.60" height="139.50" fill="none" stroke="#000" stroke-width="0.8"/>
<line x1="280.80" y1="616.0" x2="280.80" y2="618.6" stroke="#000" stroke-width="0.7"/>
<text x="280.80" y="624.60" font-size="7.3" fill="#111" text-anchor="middle" stroke="#111" stroke-width="0.3">0.0</text>
<line x1="278.2" y1="616.00" x2="280.8" y2="616.00" stroke="#000" stroke-width="0.7"/>
<text x="277.20" y="618.70" font-size="7.3" fill="#111" text-anchor="end" stroke="#111" stroke-width="0.3">0.0</text>
<line x1="318.32" y1="616.0" x2="318.32" y2="618.6" stroke="#000" stroke-width="0.7"/>
<text x="318.32" y="624.60" font-size="7.3" fill="#111" text-anchor="middle" stroke="#111" stroke-width="0.3">0.2</text>
<line x1="278.2" y1="589.43" x2="280.8" y2="589.43" stroke="#000" stroke-width="0.7"/>
<text x="277.20" y="592.13" font-size="7.3" fill="#111" text-anchor="end" stroke="#111" stroke-width="0.3">0.2</text>
<line x1="355.84" y1="616.0" x2="355.84" y2="618.6" stroke="#000" stroke-width="0.7"/>
<text x="355.84" y="624.60" font-size="7.3" fill="#111" text-anchor="middle" stroke="#111" stroke-width="0.3">0.4</text>
<line x1="278.2" y1="562.86" x2="280.8" y2="562.86" stroke="#000" stroke-width="0.7"/>
<text x="277.20" y="565.56" font-size="7.3" fill="#111" text-anchor="end" stroke="#111" stroke-width="0.3">0.4</text>
<line x1="393.36" y1="616.0" x2="393.36" y2="618.6" stroke="#000" stroke-width="0.7"/>
<text x="393.36" y="624.60" font-size="7.3" fill="#111" text-anchor="middle" stroke="#111" stroke-width="0.3">0.6</text>
<line x1="278.2" y1="536.29" x2="280.8" y2="536.29" stroke="#000" stroke-width="0.7"/>
<text x="277.20" y="538.99" font-size="7.3" fill="#111" text-anchor="end" stroke="#111" stroke-width="0.3">0.6</text>
<line x1="430.88" y1="616.0" x2="430.88" y2="618.6" stroke="#000" stroke-width="0.7"/>
<text x="430.88" y="624.60" font-size="7.3" fill="#111" text-anchor="middle" stroke="#111" stroke-width="0.3">0.8</text>
<line x1="278.2" y1="509.71" x2="280.8" y2="509.71" stroke="#000" stroke-width="0.7"/>
<text x="277.20" y="512.41" font-size="7.3" fill="#111" text-anchor="end" stroke="#111" stroke-width="0.3">0.8</text>
<line x1="468.40" y1="616.0" x2="468.40" y2="618.6" stroke="#000" stroke-width="0.7"/>
<text x="468.40" y="624.60" font-size="7.3" fill="#111" text-anchor="middle" stroke="#111" stroke-width="0.3">1.0</text>
<line x1="278.2" y1="483.14" x2="280.8" y2="483.14" stroke="#000" stroke-width="0.7"/>
<text x="277.20" y="485.84" font-size="7.3" fill="#111" text-anchor="end" stroke="#111" stroke-width="0.3">1.0</text>
<text x="264.50" y="546.25" font-size="7.9" fill="#111" text-anchor="middle" transform="rotate(-90 264.50 546.25)" stroke="#111" stroke-width="0.3">True Positive Rate</text>
<text x="374.60" y="633.60" font-size="7.9" fill="#111" text-anchor="middle" stroke="#111" stroke-width="0.3">False Positive Rate</text>
<text x="0.60" y="657.90" font-size="19" fill="#000">F</text>
<path d="M36.1,794.2 37.3,794.2 37.3,792.1 38.5,792.1 38.5,789.4 39.6,789.4 39.6,786.6 40.8,786.6 40.8,785.5 42.0,785.5 42.0,785.0 43.2,785.0 43.2,782.7 44.4,782.7 44.4,780.2 45.5,780.2 45.5,776.7 46.7,776.7 46.7,774.5 47.9,774.5 47.9,771.9 49.1,771.9 49.1,770.7 50.3,770.7 50.3,768.9 51.5,768.9 51.5,767.9 52.6,767.9 52.6,766.1 53.8,766.1 53.8,765.2 55.0,765.2 55.0,761.7 56.2,761.7 56.2,762.3 57.4,762.3 57.4,759.6 58.5,759.6 58.5,759.0 59.7,759.0 59.7,758.0 60.9,758.0 60.9,757.0 62.1,757.0 62.1,756.1 63.3,756.1 63.3,754.8 64.4,754.8 64.4,754.0 65.6,754.0 65.6,751.9 66.8,751.9 66.8,752.0 68.0,752.0 68.0,749.8 69.2,749.8 69.2,748.3 70.4,748.3 70.4,745.2 71.5,745.2 71.5,744.1 72.7,744.1 72.7,742.6 73.9,742.6 73.9,741.6 75.1,741.6 75.1,741.6 76.3,741.6 76.3,739.7 77.4,739.7 77.4,739.3 78.6,739.3 78.6,738.1 79.8,738.1 79.8,737.2 81.0,737.2 81.0,737.3 82.2,737.3 82.2,736.3 83.3,736.3 83.3,735.2 84.5,735.2 84.5,734.0 85.7,734.0 85.7,733.2 86.9,733.2 86.9,733.2 88.1,733.2 88.1,732.4 89.3,732.4 89.3,731.7 90.4,731.7 90.4,729.0 91.6,729.0 91.6,726.1 92.8,726.1 92.8,724.3 94.0,724.3 94.0,722.8 95.2,722.8 95.2,723.4 96.3,723.4 96.3,722.7 97.5,722.7 97.5,721.8 98.7,721.8 98.7,721.9 99.9,721.9 99.9,720.9 101.1,720.9 101.1,719.4 102.2,719.4 102.2,717.7 103.4,717.7 103.4,717.3 104.6,717.3 104.6,714.7 105.8,714.7 105.8,714.1 107.0,714.1 107.0,712.4 108.1,712.4 108.1,710.7 109.3,710.7 109.3,709.9 110.5,709.9 110.5,709.1 111.7,709.1 111.7,708.9 112.9,708.9 112.9,708.4 114.1,708.4 114.1,707.7 115.2,707.7 115.2,707.7 116.4,707.7 116.4,706.1 117.6,706.1 117.6,706.4 118.8,706.4 118.8,706.0 120.0,706.0 120.0,703.9 121.1,703.9 121.1,704.3 122.3,704.3 122.3,704.2 123.5,704.2 123.5,702.2 124.7,702.2 124.7,702.6 125.9,702.6 125.9,701.4 127.0,701.4 127.0,701.7 128.2,701.7 128.2,700.8 129.4,700.8 129.4,700.9 130.6,700.9 130.6,700.4 131.8,700.4 131.8,699.4 133.0,699.4 133.0,698.2 134.1,698.2 134.1,696.7 135.3,696.7 135.3,694.9 136.5,694.9 136.5,695.4 137.7,695.4 137.7,693.4 138.9,693.4 138.9,693.1 140.0,693.1 140.0,691.9 141.2,691.9 141.2,691.9 142.4,691.9 142.4,691.3 143.6,691.3 143.6,690.4 144.8,690.4 144.8,690.0 145.9,690.0 145.9,688.9 147.1,688.9 147.1,688.6 148.3,688.6 148.3,687.1 149.5,687.1 149.5,687.0 150.7,687.0 150.7,686.4 151.9,686.4 151.9,685.4 153.0,685.4 153.0,685.1 154.2,685.1 154.2,684.7 155.4,684.7 155.4,684.2 156.6,684.2 156.6,683.6 157.8,683.6 157.8,682.4 158.9,682.4 158.9,682.0 160.1,682.0 160.1,681.6 161.3,681.6 161.3,680.8 162.5,680.8 162.5,680.8 163.7,680.8 163.7,679.8 164.8,679.8 164.8,680.1 166.0,680.1 166.0,678.2 167.2,678.2 167.2,678.2 168.4,678.2 168.4,677.6 169.6,677.6 169.6,676.9 170.7,676.9 170.7,676.7 171.9,676.7 171.9,676.3 173.1,676.3 173.1,675.1 174.3,675.1 174.3,675.1 175.5,675.1 175.5,675.1 176.7,675.1 176.7,674.0 177.8,674.0 177.8,674.7 179.0,674.7 179.0,672.8 180.2,672.8 180.2,673.3 181.4,673.3 181.4,672.8 182.6,672.8 182.6,671.5 183.7,671.5 183.7,671.2 184.9,671.2 184.9,671.6 186.1,671.6 186.1,670.8 187.3,670.8 187.3,670.0 188.5,670.0 188.5,669.1 189.6,669.1 189.6,669.4 190.8,669.4 190.8,668.6 192.0,668.6 192.0,667.7 193.2,667.7 193.2,667.9 194.4,667.9 194.4,667.4 195.6,667.4 195.6,667.2 196.7,667.2 196.7,667.8 197.9,667.8 197.9,667.5 199.1,667.5 199.1,668.1 200.3,668.1 200.3,666.8 201.5,666.8 201.5,666.0 202.6,666.0 202.6,667.0 203.8,667.0 203.8,665.7 205.0,665.7 205.0,665.7 206.2,665.7 206.2,666.1 207.4,666.1 207.4,665.7 208.5,665.7 208.5,665.2 209.7,665.2 209.7,665.2 210.9,665.2 210.9,664.4 212.1,664.4 212.1,663.8 213.3,663.8 213.3,663.1 214.5,663.1 214.5,662.6 215.6,662.6 215.6,663.1 216.8,663.1 216.8,662.2 218.0,662.2 218.0,662.7 219.2,662.7 219.2,662.2 220.4,662.2 220.4,661.7 221.5,661.7 221.5,661.7 222.7,661.7 222.7,661.5 223.9,661.5 223.9,661.2" fill="none" stroke="#1f77b4" stroke-width="1.25" stroke-linejoin="round"/>
<path d="M36.1,794.2 37.3,794.2 37.3,794.2 38.5,794.2 38.5,794.2 39.6,794.2 39.6,793.2 40.8,793.2 40.8,791.7 42.0,791.7 42.0,788.9 43.2,788.9 43.2,787.2 44.4,787.2 44.4,786.6 45.5,786.6 45.5,786.0 46.7,786.0 46.7,784.2 47.9,784.2 47.9,782.8 49.1,782.8 49.1,782.9 50.3,782.9 50.3,783.1 51.5,783.1 51.5,782.1 52.6,782.1 52.6,779.7 53.8,779.7 53.8,780.2 55.0,780.2 55.0,781.0 56.2,781.0 56.2,779.4 57.4,779.4 57.4,779.7 58.5,779.7 58.5,778.8 59.7,778.8 59.7,778.2 60.9,778.2 60.9,776.3 62.1,776.3 62.1,773.4 63.3,773.4 63.3,772.3 64.4,772.3 64.4,771.6 65.6,771.6 65.6,769.9 66.8,769.9 66.8,768.6 68.0,768.6 68.0,769.2 69.2,769.2 69.2,767.4 70.4,767.4 70.4,767.1 71.5,767.1 71.5,765.8 72.7,765.8 72.7,765.7 73.9,765.7 73.9,764.3 75.1,764.3 75.1,763.9 76.3,763.9 76.3,763.5 77.4,763.5 77.4,763.6 78.6,763.6 78.6,762.6 79.8,762.6 79.8,762.6 81.0,762.6 81.0,762.0 82.2,762.0 82.2,759.8 83.3,759.8 83.3,759.5 84.5,759.5 84.5,757.6 85.7,757.6 85.7,757.7 86.9,757.7 86.9,759.2 88.1,759.2 88.1,757.4 89.3,757.4 89.3,758.0 90.4,758.0 90.4,757.1 91.6,757.1 91.6,757.0 92.8,757.0 92.8,758.2 94.0,758.2 94.0,757.0 95.2,757.0 95.2,756.9 96.3,756.9 96.3,756.0 97.5,756.0 97.5,757.3 98.7,757.3 98.7,755.5 99.9,755.5 99.9,755.8 101.1,755.8 101.1,754.3 102.2,754.3 102.2,753.6 103.4,753.6 103.4,751.6 104.6,751.6 104.6,751.9 105.8,751.9 105.8,750.3 107.0,750.3 107.0,751.2 108.1,751.2 108.1,750.8 109.3,750.8 109.3,748.5 110.5,748.5 110.5,745.4 111.7,745.4 111.7,740.9 112.9,740.9 112.9,739.7 114.1,739.7 114.1,740.5 115.2,740.5 115.2,739.8 116.4,739.8 116.4,739.7 117.6,739.7 117.6,739.0 118.8,739.0 118.8,739.0 120.0,739.0 120.0,738.3 121.1,738.3 121.1,737.4 122.3,737.4 122.3,737.0 123.5,737.0 123.5,736.9 124.7,736.9 124.7,733.9 125.9,733.9 125.9,733.6 127.0,733.6 127.0,732.4 128.2,732.4 128.2,731.9 129.4,731.9 129.4,729.9 130.6,729.9 130.6,729.6 131.8,729.6 131.8,728.9 133.0,728.9 133.0,727.1 134.1,727.1 134.1,723.3 135.3,723.3 135.3,721.5 136.5,721.5 136.5,718.9 137.7,718.9 137.7,716.4 138.9,716.4 138.9,717.0 140.0,717.0 140.0,715.8 141.2,715.8 141.2,715.0 142.4,715.0 142.4,714.7 143.6,714.7 143.6,713.7 144.8,713.7 144.8,712.0 145.9,712.0 145.9,712.4 147.1,712.4 147.1,712.1 148.3,712.1 148.3,711.4 149.5,711.4 149.5,709.1 150.7,709.1 150.7,708.1 151.9,708.1 151.9,706.6 153.0,706.6 153.0,706.3 154.2,706.3 154.2,705.6 155.4,705.6 155.4,705.0 156.6,705.0 156.6,704.1 157.8,704.1 157.8,702.9 158.9,702.9 158.9,701.9 160.1,701.9 160.1,700.2 161.3,700.2 161.3,697.7 162.5,697.7 162.5,697.3 163.7,697.3 163.7,697.5 164.8,697.5 164.8,694.6 166.0,694.6 166.0,695.0 167.2,695.0 167.2,695.2 168.4,695.2 168.4,693.4 169.6,693.4 169.6,693.4 170.7,693.4 170.7,693.3 171.9,693.3 171.9,692.9 173.1,692.9 173.1,692.6 174.3,692.6 174.3,691.5 175.5,691.5 175.5,690.3 176.7,690.3 176.7,690.8 177.8,690.8 177.8,689.9 179.0,689.9 179.0,688.6 180.2,688.6 180.2,690.3 181.4,690.3 181.4,688.9 182.6,688.9 182.6,689.0 183.7,689.0 183.7,689.1 184.9,689.1 184.9,688.5 186.1,688.5 186.1,687.2 187.3,687.2 187.3,686.2 188.5,686.2 188.5,686.1 189.6,686.1 189.6,685.0 190.8,685.0 190.8,683.9 192.0,683.9 192.0,683.4 193.2,683.4 193.2,682.2 194.4,682.2 194.4,681.6 195.6,681.6 195.6,680.8 196.7,680.8 196.7,679.1 197.9,679.1 197.9,679.1 199.1,679.1 199.1,678.6 200.3,678.6 200.3,677.5 201.5,677.5 201.5,677.8 202.6,677.8 202.6,676.7 203.8,676.7 203.8,675.2 205.0,675.2 205.0,674.6 206.2,674.6 206.2,673.3 207.4,673.3 207.4,673.3 208.5,673.3 208.5,673.1 209.7,673.1 209.7,669.6 210.9,669.6 210.9,669.0 212.1,669.0 212.1,669.3 213.3,669.3 213.3,666.5 214.5,666.5 214.5,666.5 215.6,666.5 215.6,667.1 216.8,667.1 216.8,665.5 218.0,665.5 218.0,664.9 219.2,664.9 219.2,662.8 220.4,662.8 220.4,663.8 221.5,663.8 221.5,662.7 222.7,662.7 222.7,662.1 223.9,662.1 223.9,661.2" fill="none" stroke="#ff7f0e" stroke-width="1.25" stroke-linejoin="round"/>
<path d="M36.1,794.2 38.2,794.2 38.2,789.6 40.3,789.6 40.3,786.0 42.4,786.0 42.4,784.4 44.5,784.4 44.5,780.8 46.7,780.8 46.7,777.6 48.8,777.6 48.8,774.6 50.9,774.6 50.9,772.2 53.0,772.2 53.0,769.9 55.1,769.9 55.1,768.1 57.2,768.1 57.2,766.0 59.3,766.0 59.3,765.6 61.4,765.6 61.4,765.5 63.5,765.5 63.5,765.0 65.6,765.0 65.6,762.8 67.8,762.8 67.8,760.7 69.9,760.7 69.9,757.8 72.0,757.8 72.0,756.6 74.1,756.6 74.1,755.5 76.2,755.5 76.2,754.4 78.3,754.4 78.3,752.3 80.4,752.3 80.4,751.2 82.5,751.2 82.5,749.6 84.6,749.6 84.6,747.8 86.7,747.8 86.7,746.2 88.9,746.2 88.9,745.2 91.0,745.2 91.0,743.7 93.1,743.7 93.1,741.7 95.2,741.7 95.2,740.7 97.3,740.7 97.3,738.8 99.4,738.8 99.4,737.7 101.5,737.7 101.5,736.4 103.6,736.4 103.6,734.8 105.7,734.8 105.7,732.8 107.8,732.8 107.8,731.2 110.0,731.2 110.0,728.3 112.1,728.3 112.1,725.1 114.2,725.1 114.2,723.5 116.3,723.5 116.3,722.1 118.4,722.1 118.4,720.2 120.5,720.2 120.5,718.9 122.6,718.9 122.6,717.8 124.7,717.8 124.7,716.0 126.8,716.0 126.8,715.2 128.9,715.2 128.9,713.7 131.1,713.7 131.1,712.1 133.2,712.1 133.2,710.4 135.3,710.4 135.3,709.8 137.4,709.8 137.4,708.6 139.5,708.6 139.5,707.7 141.6,707.7 141.6,706.3 143.7,706.3 143.7,703.8 145.8,703.8 145.8,701.8 147.9,701.8 147.9,700.5 150.0,700.5 150.0,699.2 152.2,699.2 152.2,698.3 154.3,698.3 154.3,697.1 156.4,697.1 156.4,695.1 158.5,695.1 158.5,693.1 160.6,693.1 160.6,692.4 162.7,692.4 162.7,691.6 164.8,691.6 164.8,690.8 166.9,690.8 166.9,690.4 169.0,690.4 169.0,689.7 171.1,689.7 171.1,688.8 173.3,688.8 173.3,688.9 175.4,688.9 175.4,687.8 177.5,687.8 177.5,688.0 179.6,688.0 179.6,686.9 181.7,686.9 181.7,686.6 183.8,686.6 183.8,686.3 185.9,686.3 185.9,685.6 188.0,685.6 188.0,684.2 190.1,684.2 190.1,683.3 192.2,683.3 192.2,682.0 194.4,682.0 194.4,681.0 196.5,681.0 196.5,679.3 198.6,679.3 198.6,678.4 200.7,678.4 200.7,677.0 202.8,677.0 202.8,675.7 204.9,675.7 204.9,671.0 207.0,671.0 207.0,668.2 209.1,668.2 209.1,666.2 211.2,666.2 211.2,664.2 213.3,664.2 213.3,664.1 215.5,664.1 215.5,663.8 217.6,663.8 217.6,662.8 219.7,662.8 219.7,662.4 221.8,662.4 221.8,661.6 223.9,661.6 223.9,661.2" fill="none" stroke="#2ca02c" stroke-width="1.25" stroke-linejoin="round"/>
<path d="M36.1,794.2 223.9,661.2" fill="none" stroke="#00007f" stroke-width="1.3" stroke-linejoin="round" stroke-dasharray="3.6,2.2"/>
<rect x="120.0" y="760.9" width="100.2" height="30.3" rx="1.8" fill="#fff" fill-opacity="0.8" stroke="#d0d0d0" stroke-width="0.8"/>
<line x1="122.5" y1="766.50" x2="135.0" y2="766.50" stroke="#1f77b4" stroke-width="1.3"/>
<text x="140.00" y="769.00" font-size="7.0" fill="#111" stroke="#111" stroke-width="0.3">Random split, AUC=0.65</text>
<line x1="122.5" y1="775.70" x2="135.0" y2="775.70" stroke="#ff7f0e" stroke-width="1.3"/>
<text x="140.00" y="778.20" font-size="7.0" fill="#111" stroke="#111" stroke-width="0.3">SARS-2, AUC=0.50</text>
<line x1="122.5" y1="784.90" x2="135.0" y2="784.90" stroke="#2ca02c" stroke-width="1.3"/>
<text x="140.00" y="787.40" font-size="7.0" fill="#111" stroke="#111" stroke-width="0.3">VACV, AUC=0.57</text>
<rect x="36.1" y="654.6" width="187.80" height="139.60" fill="none" stroke="#000" stroke-width="0.8"/>
<line x1="36.10" y1="794.2" x2="36.10" y2="796.8000000000001" stroke="#000" stroke-width="0.7"/>
<text x="36.10" y="802.80" font-size="7.3" fill="#111" text-anchor="middle" stroke="#111" stroke-width="0.3">0.0</text>
<line x1="33.5" y1="794.20" x2="36.1" y2="794.20" stroke="#000" stroke-width="0.7"/>
<text x="32.50" y="796.90" font-size="7.3" fill="#111" text-anchor="end" stroke="#111" stroke-width="0.3">0.0</text>
<line x1="73.66" y1="794.2" x2="73.66" y2="796.8000000000001" stroke="#000" stroke-width="0.7"/>
<text x="73.66" y="802.80" font-size="7.3" fill="#111" text-anchor="middle" stroke="#111" stroke-width="0.3">0.2</text>
<line x1="33.5" y1="767.61" x2="36.1" y2="767.61" stroke="#000" stroke-width="0.7"/>
<text x="32.50" y="770.31" font-size="7.3" fill="#111" text-anchor="end" stroke="#111" stroke-width="0.3">0.2</text>
<line x1="111.22" y1="794.2" x2="111.22" y2="796.8000000000001" stroke="#000" stroke-width="0.7"/>
<text x="111.22" y="802.80" font-size="7.3" fill="#111" text-anchor="middle" stroke="#111" stroke-width="0.3">0.4</text>
<line x1="33.5" y1="741.02" x2="36.1" y2="741.02" stroke="#000" stroke-width="0.7"/>
<text x="32.50" y="743.72" font-size="7.3" fill="#111" text-anchor="end" stroke="#111" stroke-width="0.3">0.4</text>
<line x1="148.78" y1="794.2" x2="148.78" y2="796.8000000000001" stroke="#000" stroke-width="0.7"/>
<text x="148.78" y="802.80" font-size="7.3" fill="#111" text-anchor="middle" stroke="#111" stroke-width="0.3">0.6</text>
<line x1="33.5" y1="714.43" x2="36.1" y2="714.43" stroke="#000" stroke-width="0.7"/>
<text x="32.50" y="717.13" font-size="7.3" fill="#111" text-anchor="end" stroke="#111" stroke-width="0.3">0.6</text>
<line x1="186.34" y1="794.2" x2="186.34" y2="796.8000000000001" stroke="#000" stroke-width="0.7"/>
<text x="186.34" y="802.80" font-size="7.3" fill="#111" text-anchor="middle" stroke="#111" stroke-width="0.3">0.8</text>
<line x1="33.5" y1="687.84" x2="36.1" y2="687.84" stroke="#000" stroke-width="0.7"/>
<text x="32.50" y="690.54" font-size="7.3" fill="#111" text-anchor="end" stroke="#111" stroke-width="0.3">0.8</text>
<line x1="223.90" y1="794.2" x2="223.90" y2="796.8000000000001" stroke="#000" stroke-width="0.7"/>
<text x="223.90" y="802.80" font-size="7.3" fill="#111" text-anchor="middle" stroke="#111" stroke-width="0.3">1.0</text>
<line x1="33.5" y1="661.25" x2="36.1" y2="661.25" stroke="#000" stroke-width="0.7"/>
<text x="32.50" y="663.95" font-size="7.3" fill="#111" text-anchor="end" stroke="#111" stroke-width="0.3">1.0</text>
<text x="19.80" y="724.40" font-size="7.9" fill="#111" text-anchor="middle" transform="rotate(-90 19.80 724.40)" stroke="#111" stroke-width="0.3">True Positive Rate</text>
<text x="130.00" y="811.80" font-size="7.9" fill="#111" text-anchor="middle" stroke="#111" stroke-width="0.3">False Positive Rate</text>
<text x="488.20" y="479.60" font-size="19.5" fill="#000">G</text>
<text x="501.50" y="515.70" font-size="14.5" fill="#000" stroke="#000" stroke-width="0.2">(i)</text>
<text x="498.40" y="651.10" font-size="14.5" fill="#000" stroke="#000" stroke-width="0.2">(ii)</text>
<text x="498.70" y="782.10" font-size="14.5" fill="#000" stroke="#000" stroke-width="0.2">(iii)</text>
<text x="580.70" y="513.20" font-size="11.4" fill="#000" text-anchor="middle" stroke="#000" stroke-width="0.2">Random split</text>
<text x="581.50" y="525.80" font-size="11.4" fill="#000" text-anchor="middle" stroke="#000" stroke-width="0.2">90% train</text>
<text x="714.40" y="513.20" font-size="11.4" fill="#000" text-anchor="middle" stroke="#000" stroke-width="0.2">Random split</text>
<text x="715.50" y="525.80" font-size="11.4" fill="#000" text-anchor="middle" stroke="#000" stroke-width="0.2">10% test</text>
<text x="575.70" y="653.70" font-size="11.4" fill="#000" text-anchor="middle" stroke="#000" stroke-width="0.2">Non−SARS−2 train</text>
<text x="714.40" y="653.70" font-size="11.4" fill="#000" text-anchor="middle" stroke="#000" stroke-width="0.2">SARS−2 test</text>
<text x="585.90" y="784.90" font-size="11.4" fill="#000" text-anchor="middle" stroke="#000" stroke-width="0.2">Non−VACV train</text>
<text x="720.20" y="784.70" font-size="11.4" fill="#000" text-anchor="middle" stroke="#000" stroke-width="0.2">VACV test</text>
<text font-size="1000" font-weight="bold" fill="#1c1a1a" transform="matrix(0.03683 0 0 0.00916 514.6 550.2)">L</text>
<text font-size="1000" font-weight="bold" fill="#1c1a1a" transform="matrix(0.02007 0 0 0.00727 517.1 555.2)">W</text>
<text font-size="1000" font-weight="bold" fill="#1c1a1a" transform="matrix(0.02817 0 0 0.00581 516.4 559.2)">A</text>
<text font-size="1000" font-weight="bold" fill="#17993d" transform="matrix(0.03155 0 0 0.00508 516.2 562.8)">S</text>
<text font-size="1000" font-weight="bold" fill="#2f5fa8" transform="matrix(0.03215 0 0 0.00233 514.9 564.4)">N</text>
<text font-size="1000" font-weight="bold" fill="#1c1a1a" transform="matrix(0.02703 0 0 0.00140 515.3 565.4)">M</text>
<text font-size="1000" font-weight="bold" fill="#2f5fa8" transform="matrix(0.02703 0 0 0.00290 515.3 567.4)">M</text>
<text font-size="1000" font-weight="bold" fill="#17993d" transform="matrix(0.03155 0 0 0.00265 516.2 569.2)">S</text>
<text font-size="1000" font-weight="bold" fill="#1c1a1a" transform="matrix(0.03683 0 0 0.00158 514.6 570.3)">L</text>
<text font-size="1000" font-weight="bold" fill="#17993d" transform="matrix(0.02893 0 0 0.00191 516.9 571.6)">V</text>
<text font-size="1000" font-weight="bold" fill="#2f5fa8" transform="matrix(0.03082 0 0 0.00216 515.0 573.1)">D</text>
<text font-size="1000" font-weight="bold" fill="#d8282e" transform="matrix(0.02982 0 0 0.00232 516.6 574.7)">Y</text>
<path d="M517.10,574.71h18.90v0.30h-7.18v0.34h7.18v0.30h-18.90v-0.30h7.18v-0.34h-7.18z" fill="#6a1fb0"/>
<text font-size="1000" font-weight="bold" fill="#1c1a1a" transform="matrix(0.02977 0 0 0.00097 515.1 576.3)">R</text>
<text font-size="1000" font-weight="bold" fill="#d8282e" transform="matrix(0.02982 0 0 0.00127 516.6 577.2)">Y</text>
<text font-size="1000" font-weight="bold" fill="#d8282e" transform="matrix(0.03369 0 0 0.00392 514.8 579.9)">E</text>
<text font-size="1000" font-weight="bold" fill="#17993d" transform="matrix(0.03210 0 0 0.00654 516.7 584.4)">T</text>
<text font-size="1000" font-weight="bold" fill="#d8282e" transform="matrix(0.03082 0 0 0.00567 515.0 588.3)">D</text>
<path d="M517.10,588.30h18.90v0.46h-7.18v1.97h7.18v0.46h-18.90v-0.46h7.18v-1.97h-7.18z" fill="#1c1a1a"/>
<text font-size="1000" font-weight="bold" fill="#6a1fb0" transform="matrix(0.03215 0 0 0.00712 514.9 596.1)">N</text>
<text font-size="1000" font-weight="bold" fill="#17993d" transform="matrix(0.03155 0 0 0.00579 516.2 600.1)">S</text>
<text font-size="1000" font-weight="bold" fill="#17993d" transform="matrix(0.02801 0 0 0.01088 535.8 540.7)">G</text>
<text font-size="1000" font-weight="bold" fill="#d8282e" transform="matrix(0.03369 0 0 0.01105 534.6 548.4)">E</text>
<text font-size="1000" font-weight="bold" fill="#1c1a1a" transform="matrix(0.02817 0 0 0.00916 536.2 554.7)">A</text>
<text font-size="1000" font-weight="bold" fill="#1c1a1a" transform="matrix(0.03340 0 0 0.00785 534.7 560.1)">P</text>
<text font-size="1000" font-weight="bold" fill="#6a1fb0" transform="matrix(0.02720 0 0 0.00402 535.8 562.9)">Q</text>
<text font-size="1000" font-weight="bold" fill="#1c1a1a" transform="matrix(0.02007 0 0 0.00654 536.9 568.2)">W</text>
<text font-size="1000" font-weight="bold" fill="#17993d" transform="matrix(0.03369 0 0 0.00234 534.6 569.8)">E</text>
<text font-size="1000" font-weight="bold" fill="#1c1a1a" transform="matrix(0.03683 0 0 0.00203 534.4 571.2)">L</text>
<text font-size="1000" font-weight="bold" fill="#6a1fb0" transform="matrix(0.02817 0 0 0.00132 536.2 572.1)">A</text>
<text font-size="1000" font-weight="bold" fill="#1c1a1a" transform="matrix(0.03215 0 0 0.00134 534.7 573.0)">N</text>
<text font-size="1000" font-weight="bold" fill="#1c1a1a" transform="matrix(0.03683 0 0 0.00280 534.4 575.0)">L</text>
<text font-size="1000" font-weight="bold" fill="#17993d" transform="matrix(0.02982 0 0 0.00149 536.4 576.0)">Y</text>
<path d="M536.90,575.99h18.90v0.31h-7.18v1.33h7.18v0.31h-18.90v-0.31h7.18v-1.33h-7.18z" fill="#6a1fb0"/>
<text font-size="1000" font-weight="bold" fill="#17993d" transform="matrix(0.03369 0 0 0.00154 534.6 579.0)">E</text>
<text font-size="1000" font-weight="bold" fill="#6a1fb0" transform="matrix(0.02720 0 0 0.00402 535.8 581.8)">Q</text>
<text font-size="1000" font-weight="bold" fill="#17993d" transform="matrix(0.02982 0 0 0.00785 536.4 588.0)">Y</text>
<text font-size="1000" font-weight="bold" fill="#17993d" transform="matrix(0.03155 0 0 0.00551 536.0 591.8)">S</text>
<text font-size="1000" font-weight="bold" fill="#2f5fa8" transform="matrix(0.02926 0 0 0.00741 534.9 597.0)">K</text>
<text font-size="1000" font-weight="bold" fill="#1c1a1a" transform="matrix(0.03369 0 0 0.00654 534.6 601.5)">E</text>
<path d="M536.90,601.50h18.90v1.58h-7.18v6.73h7.18v1.58h-18.90v-1.58h7.18v-6.73h-7.18z" fill="#1c1a1a"/>
<text font-size="1000" font-weight="bold" fill="#17993d" transform="matrix(0.02801 0 0 0.00890 555.6 548.3)">G</text>
<text font-size="1000" font-weight="bold" fill="#2f5fa8" transform="matrix(0.02977 0 0 0.00785 554.7 553.8)">R</text>
<text font-size="1000" font-weight="bold" fill="#1c1a1a" transform="matrix(0.02817 0 0 0.00654 556.0 558.3)">A</text>
<text font-size="1000" font-weight="bold" fill="#1c1a1a" transform="matrix(0.02891 0 0 0.00636 555.5 562.7)">C</text>
<text font-size="1000" font-weight="bold" fill="#1c1a1a" transform="matrix(0.02007 0 0 0.00654 556.7 567.3)">W</text>
<text font-size="1000" font-weight="bold" fill="#2f5fa8" transform="matrix(0.02720 0 0 0.00158 555.6 568.4)">Q</text>
<text font-size="1000" font-weight="bold" fill="#1c1a1a" transform="matrix(0.02801 0 0 0.00166 555.6 569.9)">G</text>
<text font-size="1000" font-weight="bold" fill="#17993d" transform="matrix(0.03210 0 0 0.00177 556.3 571.1)">T</text>
<text font-size="1000" font-weight="bold" fill="#17993d" transform="matrix(0.03683 0 0 0.00122 554.2 572.0)">L</text>
<text font-size="1000" font-weight="bold" fill="#6a1fb0" transform="matrix(0.03725 0 0 0.00315 554.2 574.1)">F</text>
<text font-size="1000" font-weight="bold" fill="#6a1fb0" transform="matrix(0.03369 0 0 0.00228 554.4 575.7)">E</text>
<text font-size="1000" font-weight="bold" fill="#17993d" transform="matrix(0.02801 0 0 0.00119 555.6 576.5)">G</text>
<text font-size="1000" font-weight="bold" fill="#1c1a1a" transform="matrix(0.03155 0 0 0.00139 555.8 577.5)">S</text>
<text font-size="1000" font-weight="bold" fill="#1c1a1a" transform="matrix(0.02926 0 0 0.00217 554.7 579.0)">K</text>
<text font-size="1000" font-weight="bold" fill="#2f5fa8" transform="matrix(0.02893 0 0 0.00654 556.5 583.5)">V</text>
<text font-size="1000" font-weight="bold" fill="#17993d" transform="matrix(0.02982 0 0 0.00654 556.2 588.0)">Y</text>
<text font-size="1000" font-weight="bold" fill="#17993d" transform="matrix(0.03155 0 0 0.00636 555.8 592.4)">S</text>
<path d="M556.70,592.50h18.90v1.44h-7.18v6.12h7.18v1.44h-18.90v-1.44h7.18v-6.12h-7.18z" fill="#1c1a1a"/>
<text font-size="1000" font-weight="bold" fill="#1c1a1a" transform="matrix(0.02910 0 0 0.01047 576.2 549.3)">X</text>
<text font-size="1000" font-weight="bold" fill="#1c1a1a" transform="matrix(0.03340 0 0 0.00610 574.3 553.5)">P</text>
<text font-size="1000" font-weight="bold" fill="#1c1a1a" transform="matrix(0.03725 0 0 0.00581 574.0 557.5)">F</text>
<text font-size="1000" font-weight="bold" fill="#6a1fb0" transform="matrix(0.02007 0 0 0.00581 576.5 561.5)">W</text>
<text font-size="1000" font-weight="bold" fill="#1c1a1a" transform="matrix(0.02007 0 0 0.00509 576.5 565.0)">W</text>
<text font-size="1000" font-weight="bold" fill="#2f5fa8" transform="matrix(0.03155 0 0 0.00237 575.6 566.7)">S</text>
<text font-size="1000" font-weight="bold" fill="#1c1a1a" transform="matrix(0.02893 0 0 0.00241 576.3 568.3)">V</text>
<text font-size="1000" font-weight="bold" fill="#d8282e" transform="matrix(0.03369 0 0 0.00284 574.2 570.3)">E</text>
<text font-size="1000" font-weight="bold" fill="#1c1a1a" transform="matrix(0.02982 0 0 0.00220 576.0 571.8)">Y</text>
<text font-size="1000" font-weight="bold" fill="#17993d" transform="matrix(0.03340 0 0 0.00132 574.3 572.7)">P</text>
<text font-size="1000" font-weight="bold" fill="#2f5fa8" transform="matrix(0.02703 0 0 0.00129 574.7 573.6)">M</text>
<text font-size="1000" font-weight="bold" fill="#17993d" transform="matrix(0.03210 0 0 0.00236 576.1 575.2)">T</text>
<text font-size="1000" font-weight="bold" fill="#1c1a1a" transform="matrix(0.03210 0 0 0.00183 576.1 576.5)">T</text>
<text font-size="1000" font-weight="bold" fill="#17993d" transform="matrix(0.02982 0 0 0.00096 576.0 577.1)">Y</text>
<path d="M576.50,577.14h18.90v0.30h-7.18v0.26h7.18v0.30h-18.90v-0.30h7.18v-0.26h-7.18z" fill="#17993d"/>
<text font-size="1000" font-weight="bold" fill="#2f5fa8" transform="matrix(0.02977 0 0 0.00538 574.5 581.7)">R</text>
<text font-size="1000" font-weight="bold" fill="#17993d" transform="matrix(0.02982 0 0 0.00785 576.0 587.1)">Y</text>
<text font-size="1000" font-weight="bold" fill="#17993d" transform="matrix(0.03155 0 0 0.00763 575.6 592.4)">S</text>
<text font-size="1000" font-weight="bold" fill="#6a1fb0" transform="matrix(0.03215 0 0 0.01308 574.3 601.5)">N</text>
<text font-size="1000" font-weight="bold" fill="#1c1a1a" transform="matrix(0.02817 0 0 0.00843 595.6 543.0)">A</text>
<text font-size="1000" font-weight="bold" fill="#1c1a1a" transform="matrix(0.03340 0 0 0.00916 594.1 549.3)">P</text>
<text font-size="1000" font-weight="bold" fill="#17993d" transform="matrix(0.03210 0 0 0.00785 595.9 554.7)">T</text>
<text font-size="1000" font-weight="bold" fill="#1c1a1a" transform="matrix(0.02007 0 0 0.00785 596.3 560.1)">W</text>
<text font-size="1000" font-weight="bold" fill="#6a1fb0" transform="matrix(0.02007 0 0 0.00654 596.3 564.6)">W</text>
<text font-size="1000" font-weight="bold" fill="#17993d" transform="matrix(0.03155 0 0 0.00255 595.4 566.4)">S</text>
<text font-size="1000" font-weight="bold" fill="#1c1a1a" transform="matrix(0.03155 0 0 0.00092 595.4 567.0)">S</text>
<text font-size="1000" font-weight="bold" fill="#17993d" transform="matrix(0.02720 0 0 0.00240 595.2 568.7)">Q</text>
<text font-size="1000" font-weight="bold" fill="#2f5fa8" transform="matrix(0.02801 0 0 0.00203 595.2 570.6)">G</text>
<text font-size="1000" font-weight="bold" fill="#6a1fb0" transform="matrix(0.02720 0 0 0.00129 595.2 571.5)">Q</text>
<text font-size="1000" font-weight="bold" fill="#17993d" transform="matrix(0.03210 0 0 0.00170 595.9 573.0)">T</text>
<text font-size="1000" font-weight="bold" fill="#1c1a1a" transform="matrix(0.03725 0 0 0.00265 593.8 574.8)">F</text>
<text font-size="1000" font-weight="bold" fill="#1c1a1a" transform="matrix(0.02703 0 0 0.00304 594.5 576.9)">M</text>
<text font-size="1000" font-weight="bold" fill="#1c1a1a" transform="matrix(0.03340 0 0 0.00047 594.1 577.2)">P</text>
<text font-size="1000" font-weight="bold" fill="#1c1a1a" transform="matrix(0.03725 0 0 0.00785 593.8 582.6)">F</text>
<text font-size="1000" font-weight="bold" fill="#2f5fa8" transform="matrix(0.02926 0 0 0.00785 594.3 588.0)">K</text>
<text font-size="1000" font-weight="bold" fill="#d8282e" transform="matrix(0.03082 0 0 0.00654 594.2 592.5)">D</text>
<text font-size="1000" font-weight="bold" fill="#6a1fb0" transform="matrix(0.03215 0 0 0.00785 594.1 597.9)">N</text>
<path d="M596.30,597.90h18.90v1.44h-7.18v6.12h7.18v1.44h-18.90v-1.44h7.18v-6.12h-7.18z" fill="#1c1a1a"/>
<text font-size="1000" font-weight="bold" fill="#17993d" transform="matrix(0.03210 0 0 0.01047 615.7 552.9)">T</text>
<text font-size="1000" font-weight="bold" fill="#1c1a1a" transform="matrix(0.02817 0 0 0.00916 615.4 559.2)">A</text>
<text font-size="1000" font-weight="bold" fill="#17993d" transform="matrix(0.03155 0 0 0.00508 615.2 562.8)">S</text>
<text font-size="1000" font-weight="bold" fill="#1c1a1a" transform="matrix(0.02007 0 0 0.00523 616.1 566.4)">W</text>
<text font-size="1000" font-weight="bold" fill="#2f5fa8" transform="matrix(0.03725 0 0 0.00185 613.6 567.7)">F</text>
<path d="M616.10,567.67h18.90v0.30h-7.18v0.02h7.18v0.30h-18.90v-0.30h7.18v-0.02h-7.18z" fill="#2f5fa8"/>
<text font-size="1000" font-weight="bold" fill="#6a1fb0" transform="matrix(0.02801 0 0 0.00201 615.0 569.7)">G</text>
<text font-size="1000" font-weight="bold" fill="#17993d" transform="matrix(0.02007 0 0 0.00140 616.1 570.7)">W</text>
<text font-size="1000" font-weight="bold" fill="#17993d" transform="matrix(0.02007 0 0 0.00129 616.1 571.6)">W</text>
<path d="M616.10,571.56h18.90v0.34h-7.18v1.44h7.18v0.34h-18.90v-0.34h7.18v-1.44h-7.18z" fill="#17993d"/>
<text font-size="1000" font-weight="bold" fill="#d8282e" transform="matrix(0.03210 0 0 0.00150 615.7 574.7)">T</text>
<text font-size="1000" font-weight="bold" fill="#17993d" transform="matrix(0.02007 0 0 0.00191 616.1 576.0)">W</text>
<text font-size="1000" font-weight="bold" fill="#2f5fa8" transform="matrix(0.02982 0 0 0.00171 615.6 577.2)">Y</text>
<text font-size="1000" font-weight="bold" fill="#d8282e" transform="matrix(0.02977 0 0 0.00392 614.1 579.9)">R</text>
<text font-size="1000" font-weight="bold" fill="#6a1fb0" transform="matrix(0.02893 0 0 0.00392 615.9 582.6)">V</text>
<text font-size="1000" font-weight="bold" fill="#17993d" transform="matrix(0.02982 0 0 0.00523 615.6 586.2)">Y</text>
<text font-size="1000" font-weight="bold" fill="#2f5fa8" transform="matrix(0.02926 0 0 0.00785 614.1 591.6)">K</text>
<path d="M616.10,591.60h18.90v1.01h-7.18v4.28h7.18v1.01h-18.90v-1.01h7.18v-4.28h-7.18z" fill="#1c1a1a"/>
<text x="511.00" y="551.40" font-size="11" fill="#111" text-anchor="end" stroke="#111" stroke-width="0.2">4</text>
<text x="511.00" y="575.30" font-size="11" fill="#111" text-anchor="end" stroke="#111" stroke-width="0.2">0</text>
<text x="511.00" y="598.20" font-size="11" fill="#111" text-anchor="end" stroke="#111" stroke-width="0.2">−4</text>
<text x="526.55" y="622.00" font-size="11" fill="#111" text-anchor="middle" stroke="#111" stroke-width="0.2">3</text>
<text x="546.35" y="622.00" font-size="11" fill="#111" text-anchor="middle" stroke="#111" stroke-width="0.2">4</text>
<text x="566.15" y="622.00" font-size="11" fill="#111" text-anchor="middle" stroke="#111" stroke-width="0.2">5</text>
<text x="585.95" y="622.00" font-size="11" fill="#111" text-anchor="middle" stroke="#111" stroke-width="0.2">6</text>
<text x="605.75" y="622.00" font-size="11" fill="#111" text-anchor="middle" stroke="#111" stroke-width="0.2">7</text>
<text x="625.55" y="622.00" font-size="11" fill="#111" text-anchor="middle" stroke="#111" stroke-width="0.2">8</text>
<text font-size="1000" font-weight="bold" fill="#1c1a1a" transform="matrix(0.03702 0 0 0.01250 652.6 555.1)">L</text>
<text font-size="1000" font-weight="bold" fill="#1c1a1a" transform="matrix(0.03387 0 0 0.00523 652.8 558.7)">E</text>
<text font-size="1000" font-weight="bold" fill="#17993d" transform="matrix(0.03227 0 0 0.00260 654.7 560.5)">T</text>
<text font-size="1000" font-weight="bold" fill="#17993d" transform="matrix(0.03227 0 0 0.00291 654.7 562.5)">T</text>
<text font-size="1000" font-weight="bold" fill="#17993d" transform="matrix(0.02735 0 0 0.00232 654.0 564.1)">Q</text>
<text font-size="1000" font-weight="bold" fill="#d8282e" transform="matrix(0.02735 0 0 0.00160 654.0 565.7)">Q</text>
<text font-size="1000" font-weight="bold" fill="#6a1fb0" transform="matrix(0.03745 0 0 0.00146 652.6 567.0)">F</text>
<text font-size="1000" font-weight="bold" fill="#6a1fb0" transform="matrix(0.03745 0 0 0.00254 652.6 568.8)">F</text>
<text font-size="1000" font-weight="bold" fill="#17993d" transform="matrix(0.02908 0 0 0.00313 654.9 570.9)">V</text>
<text font-size="1000" font-weight="bold" fill="#1c1a1a" transform="matrix(0.02908 0 0 0.00134 654.9 571.8)">V</text>
<text font-size="1000" font-weight="bold" fill="#2f5fa8" transform="matrix(0.02908 0 0 0.00137 654.9 572.8)">V</text>
<text font-size="1000" font-weight="bold" fill="#6a1fb0" transform="matrix(0.02717 0 0 0.00113 653.3 573.5)">M</text>
<text font-size="1000" font-weight="bold" fill="#6a1fb0" transform="matrix(0.02017 0 0 0.00199 655.1 574.9)">W</text>
<text font-size="1000" font-weight="bold" fill="#d8282e" transform="matrix(0.03227 0 0 0.00128 654.7 575.8)">T</text>
<path d="M655.10,575.80h19.00v0.86h-7.22v3.67h7.22v0.86h-19.00v-0.86h7.22v-3.67h-7.22z" fill="#1c1a1a"/>
<text font-size="1000" font-weight="bold" fill="#17993d" transform="matrix(0.03171 0 0 0.00763 654.2 586.5)">S</text>
<text font-size="1000" font-weight="bold" fill="#6a1fb0" transform="matrix(0.03232 0 0 0.00785 652.9 592.0)">N</text>
<text font-size="1000" font-weight="bold" fill="#d8282e" transform="matrix(0.03387 0 0 0.01047 652.8 599.2)">E</text>
<text font-size="1000" font-weight="bold" fill="#d8282e" transform="matrix(0.03387 0 0 0.01192 672.7 541.2)">E</text>
<text font-size="1000" font-weight="bold" fill="#17993d" transform="matrix(0.02816 0 0 0.01073 673.8 548.7)">G</text>
<text font-size="1000" font-weight="bold" fill="#1c1a1a" transform="matrix(0.03357 0 0 0.01047 672.7 556.0)">P</text>
<text font-size="1000" font-weight="bold" fill="#6a1fb0" transform="matrix(0.02735 0 0 0.00402 673.8 558.8)">Q</text>
<text font-size="1000" font-weight="bold" fill="#6a1fb0" transform="matrix(0.02832 0 0 0.00196 674.2 560.9)">A</text>
<text font-size="1000" font-weight="bold" fill="#1c1a1a" transform="matrix(0.02816 0 0 0.00126 673.8 561.8)">G</text>
<text font-size="1000" font-weight="bold" fill="#2f5fa8" transform="matrix(0.03171 0 0 0.00178 674.0 563.1)">S</text>
<text font-size="1000" font-weight="bold" fill="#1c1a1a" transform="matrix(0.03357 0 0 0.00257 672.7 564.9)">P</text>
<text font-size="1000" font-weight="bold" fill="#2f5fa8" transform="matrix(0.03232 0 0 0.00300 672.8 566.9)">N</text>
<text font-size="1000" font-weight="bold" fill="#d8282e" transform="matrix(0.03745 0 0 0.00209 672.4 568.4)">F</text>
<text font-size="1000" font-weight="bold" fill="#1c1a1a" transform="matrix(0.02017 0 0 0.00098 674.9 569.0)">W</text>
<text font-size="1000" font-weight="bold" fill="#1c1a1a" transform="matrix(0.03171 0 0 0.00142 674.0 570.0)">S</text>
<text font-size="1000" font-weight="bold" fill="#1c1a1a" transform="matrix(0.02998 0 0 0.00131 674.4 570.9)">Y</text>
<text font-size="1000" font-weight="bold" fill="#1c1a1a" transform="matrix(0.03227 0 0 0.00225 674.6 572.5)">T</text>
<text font-size="1000" font-weight="bold" fill="#1c1a1a" transform="matrix(0.02735 0 0 0.00188 673.8 573.8)">Q</text>
<text font-size="1000" font-weight="bold" fill="#17993d" transform="matrix(0.03171 0 0 0.00297 674.0 576.2)">S</text>
<text font-size="1000" font-weight="bold" fill="#6a1fb0" transform="matrix(0.02941 0 0 0.00193 673.0 577.6)">K</text>
<text font-size="1000" font-weight="bold" fill="#1c1a1a" transform="matrix(0.03098 0 0 0.00654 672.9 582.1)">D</text>
<text font-size="1000" font-weight="bold" fill="#d8282e" transform="matrix(0.03098 0 0 0.00654 672.9 586.6)">D</text>
<path d="M674.95,586.60h19.00v0.58h-7.22v2.45h7.22v0.58h-19.00v-0.58h7.22v-2.45h-7.22z" fill="#1c1a1a"/>
<text font-size="1000" font-weight="bold" fill="#17993d" transform="matrix(0.02998 0 0 0.00916 674.4 596.5)">Y</text>
<text font-size="1000" font-weight="bold" fill="#6a1fb0" transform="matrix(0.03232 0 0 0.01047 672.8 603.7)">N</text>
<path d="M674.95,603.70h19.00v1.30h-7.22v5.51h7.22v1.30h-19.00v-1.30h7.22v-5.51h-7.22z" fill="#1c1a1a"/>
<text font-size="1000" font-weight="bold" fill="#17993d" transform="matrix(0.02816 0 0 0.01017 693.6 546.9)">G</text>
<text font-size="1000" font-weight="bold" fill="#1c1a1a" transform="matrix(0.03702 0 0 0.00916 692.3 553.3)">L</text>
<text font-size="1000" font-weight="bold" fill="#d8282e" transform="matrix(0.03387 0 0 0.00785 692.5 558.7)">E</text>
<text font-size="1000" font-weight="bold" fill="#1c1a1a" transform="matrix(0.02908 0 0 0.00654 694.6 563.2)">V</text>
<text font-size="1000" font-weight="bold" fill="#17993d" transform="matrix(0.02816 0 0 0.00128 693.6 564.1)">G</text>
<text font-size="1000" font-weight="bold" fill="#d8282e" transform="matrix(0.02832 0 0 0.00096 694.1 564.8)">A</text>
<text font-size="1000" font-weight="bold" fill="#1c1a1a" transform="matrix(0.03745 0 0 0.00286 692.3 566.7)">F</text>
<path d="M694.80,566.74h19.00v0.30h-7.22v0.54h7.22v0.30h-19.00v-0.30h7.22v-0.54h-7.22z" fill="#1c1a1a"/>
<text font-size="1000" font-weight="bold" fill="#2f5fa8" transform="matrix(0.02908 0 0 0.00233 694.6 569.5)">V</text>
<text font-size="1000" font-weight="bold" fill="#2f5fa8" transform="matrix(0.02816 0 0 0.00156 693.6 570.6)">G</text>
<path d="M694.80,570.58h19.00v0.30h-7.22v0.21h7.22v0.30h-19.00v-0.30h7.22v-0.21h-7.22z" fill="#2f5fa8"/>
<text font-size="1000" font-weight="bold" fill="#17993d" transform="matrix(0.03387 0 0 0.00292 692.5 573.4)">E</text>
<text font-size="1000" font-weight="bold" fill="#6a1fb0" transform="matrix(0.02017 0 0 0.00218 694.8 574.9)">W</text>
<text font-size="1000" font-weight="bold" fill="#6a1fb0" transform="matrix(0.03232 0 0 0.00785 692.6 580.3)">N</text>
<text font-size="1000" font-weight="bold" fill="#1c1a1a" transform="matrix(0.02717 0 0 0.00785 693.0 585.7)">M</text>
<text font-size="1000" font-weight="bold" fill="#17993d" transform="matrix(0.03171 0 0 0.00636 693.9 590.1)">S</text>
<text font-size="1000" font-weight="bold" fill="#17993d" transform="matrix(0.02998 0 0 0.00785 694.3 595.6)">Y</text>
<path d="M694.80,595.60h19.00v1.44h-7.22v6.12h7.22v1.44h-19.00v-1.44h7.22v-6.12h-7.22z" fill="#1c1a1a"/>
<text font-size="1000" font-weight="bold" fill="#1c1a1a" transform="matrix(0.02906 0 0 0.01525 713.5 555.0)">C</text>
<text font-size="1000" font-weight="bold" fill="#1c1a1a" transform="matrix(0.02906 0 0 0.00636 713.5 559.5)">C</text>
<text font-size="1000" font-weight="bold" fill="#17993d" transform="matrix(0.03171 0 0 0.00508 713.7 563.2)">S</text>
<text font-size="1000" font-weight="bold" fill="#6a1fb0" transform="matrix(0.03387 0 0 0.00110 712.4 564.0)">E</text>
<text font-size="1000" font-weight="bold" fill="#2f5fa8" transform="matrix(0.02816 0 0 0.00271 713.5 565.8)">G</text>
<text font-size="1000" font-weight="bold" fill="#2f5fa8" transform="matrix(0.02735 0 0 0.00126 713.5 566.7)">Q</text>
<text font-size="1000" font-weight="bold" fill="#1c1a1a" transform="matrix(0.03232 0 0 0.00295 712.5 569.0)">N</text>
<text font-size="1000" font-weight="bold" fill="#1c1a1a" transform="matrix(0.03387 0 0 0.00093 712.4 569.7)">E</text>
<text font-size="1000" font-weight="bold" fill="#d8282e" transform="matrix(0.02816 0 0 0.00212 713.5 571.1)">G</text>
<text font-size="1000" font-weight="bold" fill="#17993d" transform="matrix(0.02993 0 0 0.00175 712.6 572.4)">R</text>
<text font-size="1000" font-weight="bold" fill="#1c1a1a" transform="matrix(0.02832 0 0 0.00240 713.9 574.0)">A</text>
<path d="M714.65,574.03h19.00v0.30h-7.22v0.61h7.22v0.30h-19.00v-0.30h7.22v-0.61h-7.22z" fill="#6a1fb0"/>
<text font-size="1000" font-weight="bold" fill="#17993d" transform="matrix(0.02993 0 0 0.00280 712.6 577.2)">R</text>
<text font-size="1000" font-weight="bold" fill="#1c1a1a" transform="matrix(0.02816 0 0 0.00061 713.5 577.6)">G</text>
<text font-size="1000" font-weight="bold" fill="#17993d" transform="matrix(0.02735 0 0 0.00402 713.5 580.4)">Q</text>
<text font-size="1000" font-weight="bold" fill="#1c1a1a" transform="matrix(0.03387 0 0 0.00785 712.4 586.6)">E</text>
<text font-size="1000" font-weight="bold" fill="#17993d" transform="matrix(0.03227 0 0 0.01047 714.3 593.8)">T</text>
<path d="M714.65,593.80h19.00v1.01h-7.22v4.28h7.22v1.01h-19.00v-1.01h7.22v-4.28h-7.22z" fill="#1c1a1a"/>
<text font-size="1000" font-weight="bold" fill="#1c1a1a" transform="matrix(0.03357 0 0 0.01701 732.3 549.7)">P</text>
<text font-size="1000" font-weight="bold" fill="#1c1a1a" transform="matrix(0.02908 0 0 0.00785 734.3 555.1)">V</text>
<text font-size="1000" font-weight="bold" fill="#d8282e" transform="matrix(0.03387 0 0 0.00654 732.2 559.6)">E</text>
<text font-size="1000" font-weight="bold" fill="#17993d" transform="matrix(0.03171 0 0 0.00508 733.6 563.2)">S</text>
<text font-size="1000" font-weight="bold" fill="#17993d" transform="matrix(0.03098 0 0 0.00145 732.4 564.2)">D</text>
<text font-size="1000" font-weight="bold" fill="#2f5fa8" transform="matrix(0.03227 0 0 0.00194 734.1 565.5)">T</text>
<text font-size="1000" font-weight="bold" fill="#1c1a1a" transform="matrix(0.02735 0 0 0.00171 733.4 566.7)">Q</text>
<text font-size="1000" font-weight="bold" fill="#1c1a1a" transform="matrix(0.02017 0 0 0.00105 734.5 567.8)">W</text>
<text font-size="1000" font-weight="bold" fill="#1c1a1a" transform="matrix(0.03357 0 0 0.00118 732.3 568.6)">P</text>
<text font-size="1000" font-weight="bold" fill="#1c1a1a" transform="matrix(0.03357 0 0 0.00106 732.3 569.3)">P</text>
<text font-size="1000" font-weight="bold" fill="#2f5fa8" transform="matrix(0.02717 0 0 0.00158 732.7 570.4)">M</text>
<path d="M734.50,570.41h19.00v0.30h-7.22v0.99h7.22v0.30h-19.00v-0.30h7.22v-0.99h-7.22z" fill="#17993d"/>
<text font-size="1000" font-weight="bold" fill="#17993d" transform="matrix(0.02017 0 0 0.00293 734.5 574.0)">W</text>
<text font-size="1000" font-weight="bold" fill="#6a1fb0" transform="matrix(0.03387 0 0 0.00253 732.2 575.8)">E</text>
<text font-size="1000" font-weight="bold" fill="#1c1a1a" transform="matrix(0.03702 0 0 0.00785 732.0 581.2)">L</text>
<text font-size="1000" font-weight="bold" fill="#2f5fa8" transform="matrix(0.02941 0 0 0.00654 732.5 585.7)">K</text>
<text font-size="1000" font-weight="bold" fill="#17993d" transform="matrix(0.02998 0 0 0.00654 734.0 590.2)">Y</text>
<text font-size="1000" font-weight="bold" fill="#6a1fb0" transform="matrix(0.03232 0 0 0.01177 732.3 598.3)">N</text>
<path d="M734.50,598.30h19.00v1.30h-7.22v5.51h7.22v1.30h-19.00v-1.30h7.22v-5.51h-7.22z" fill="#1c1a1a"/>
<text font-size="1000" font-weight="bold" fill="#17993d" transform="matrix(0.03227 0 0 0.01890 754.0 547.0)">T</text>
<text font-size="1000" font-weight="bold" fill="#6a1fb0" transform="matrix(0.02735 0 0 0.00804 753.2 552.6)">Q</text>
<text font-size="1000" font-weight="bold" fill="#1c1a1a" transform="matrix(0.02832 0 0 0.00916 753.6 560.5)">A</text>
<text font-size="1000" font-weight="bold" fill="#2f5fa8" transform="matrix(0.02993 0 0 0.00916 752.3 566.8)">R</text>
<text font-size="1000" font-weight="bold" fill="#1c1a1a" transform="matrix(0.02017 0 0 0.00785 754.3 572.2)">W</text>
<text font-size="1000" font-weight="bold" fill="#d8282e" transform="matrix(0.03745 0 0 0.00523 751.8 575.8)">F</text>
<text font-size="1000" font-weight="bold" fill="#17993d" transform="matrix(0.03171 0 0 0.00508 753.4 579.4)">S</text>
<text font-size="1000" font-weight="bold" fill="#1c1a1a" transform="matrix(0.02717 0 0 0.01047 752.5 586.6)">M</text>
<text font-size="1000" font-weight="bold" fill="#6a1fb0" transform="matrix(0.02908 0 0 0.00654 754.2 591.1)">V</text>
<text font-size="1000" font-weight="bold" fill="#2f5fa8" transform="matrix(0.02941 0 0 0.00916 752.4 597.4)">K</text>
<path d="M754.35,597.40h19.00v0.86h-7.22v3.67h7.22v0.86h-19.00v-0.86h7.22v-3.67h-7.22z" fill="#1c1a1a"/>
<text font-size="1000" font-weight="bold" fill="#17993d" transform="matrix(0.02998 0 0 0.01177 753.8 610.9)">Y</text>
<text x="648.60" y="551.80" font-size="11" fill="#111" text-anchor="end" stroke="#111" stroke-width="0.2">5</text>
<text x="648.60" y="576.10" font-size="11" fill="#111" text-anchor="end" stroke="#111" stroke-width="0.2">0</text>
<text x="648.60" y="600.40" font-size="11" fill="#111" text-anchor="end" stroke="#111" stroke-width="0.2">−5</text>
<text x="664.60" y="622.00" font-size="11" fill="#111" text-anchor="middle" stroke="#111" stroke-width="0.2">3</text>
<text x="684.45" y="622.00" font-size="11" fill="#111" text-anchor="middle" stroke="#111" stroke-width="0.2">4</text>
<text x="704.30" y="622.00" font-size="11" fill="#111" text-anchor="middle" stroke="#111" stroke-width="0.2">5</text>
<text x="724.15" y="622.00" font-size="11" fill="#111" text-anchor="middle" stroke="#111" stroke-width="0.2">6</text>
<text x="744.00" y="622.00" font-size="11" fill="#111" text-anchor="middle" stroke="#111" stroke-width="0.2">7</text>
<text x="763.85" y="622.00" font-size="11" fill="#111" text-anchor="middle" stroke="#111" stroke-width="0.2">8</text>
<text font-size="1000" font-weight="bold" fill="#1c1a1a" transform="matrix(0.03683 0 0 0.00858 514.6 681.1)">L</text>
<text font-size="1000" font-weight="bold" fill="#1c1a1a" transform="matrix(0.02007 0 0 0.00785 517.1 686.5)">W</text>
<text font-size="1000" font-weight="bold" fill="#17993d" transform="matrix(0.03155 0 0 0.00508 516.2 690.1)">S</text>
<text font-size="1000" font-weight="bold" fill="#1c1a1a" transform="matrix(0.02817 0 0 0.00523 516.4 693.7)">A</text>
<text font-size="1000" font-weight="bold" fill="#6a1fb0" transform="matrix(0.02720 0 0 0.00402 516.0 696.5)">Q</text>
<text font-size="1000" font-weight="bold" fill="#2f5fa8" transform="matrix(0.02720 0 0 0.00206 516.0 698.7)">Q</text>
<text font-size="1000" font-weight="bold" fill="#1c1a1a" transform="matrix(0.03683 0 0 0.00244 514.6 700.8)">L</text>
<text font-size="1000" font-weight="bold" fill="#2f5fa8" transform="matrix(0.03683 0 0 0.00208 514.6 702.3)">L</text>
<text font-size="1000" font-weight="bold" fill="#17993d" transform="matrix(0.02893 0 0 0.00132 516.9 703.2)">V</text>
<text font-size="1000" font-weight="bold" fill="#2f5fa8" transform="matrix(0.02817 0 0 0.00261 516.4 705.0)">A</text>
<path d="M517.10,704.95h18.90v0.30h-7.18v0.20h7.18v0.30h-18.90v-0.30h7.18v-0.20h-7.18z" fill="#2f5fa8"/>
<text font-size="1000" font-weight="bold" fill="#6a1fb0" transform="matrix(0.02007 0 0 0.00210 517.1 707.2)">W</text>
<text font-size="1000" font-weight="bold" fill="#17993d" transform="matrix(0.03210 0 0 0.00523 516.7 710.8)">T</text>
<text font-size="1000" font-weight="bold" fill="#d8282e" transform="matrix(0.03082 0 0 0.00916 515.0 717.1)">D</text>
<path d="M517.10,717.10h18.90v0.43h-7.18v1.84h7.18v0.43h-18.90v-0.43h7.18v-1.84h-7.18z" fill="#1c1a1a"/>
<text font-size="1000" font-weight="bold" fill="#17993d" transform="matrix(0.03155 0 0 0.00636 516.2 724.2)">S</text>
<text font-size="1000" font-weight="bold" fill="#17993d" transform="matrix(0.03155 0 0 0.00381 516.2 727.0)">S</text>
<text font-size="1000" font-weight="bold" fill="#6a1fb0" transform="matrix(0.03215 0 0 0.00654 514.9 731.5)">N</text>
<text font-size="1000" font-weight="bold" fill="#17993d" transform="matrix(0.02801 0 0 0.01144 535.8 672.0)">G</text>
<text font-size="1000" font-weight="bold" fill="#d8282e" transform="matrix(0.03369 0 0 0.01047 534.6 679.3)">E</text>
<text font-size="1000" font-weight="bold" fill="#1c1a1a" transform="matrix(0.03340 0 0 0.00785 534.7 684.7)">P</text>
<text font-size="1000" font-weight="bold" fill="#1c1a1a" transform="matrix(0.02817 0 0 0.01177 536.2 692.8)">A</text>
<text font-size="1000" font-weight="bold" fill="#6a1fb0" transform="matrix(0.02720 0 0 0.00413 535.8 695.7)">Q</text>
<text font-size="1000" font-weight="bold" fill="#2f5fa8" transform="matrix(0.02801 0 0 0.00310 535.8 698.7)">G</text>
<text font-size="1000" font-weight="bold" fill="#17993d" transform="matrix(0.02703 0 0 0.00268 535.1 700.5)">M</text>
<text font-size="1000" font-weight="bold" fill="#2f5fa8" transform="matrix(0.02007 0 0 0.00236 536.9 702.2)">W</text>
<text font-size="1000" font-weight="bold" fill="#6a1fb0" transform="matrix(0.02007 0 0 0.00263 536.9 704.0)">W</text>
<text font-size="1000" font-weight="bold" fill="#17993d" transform="matrix(0.02977 0 0 0.00191 534.9 705.3)">R</text>
<text font-size="1000" font-weight="bold" fill="#2f5fa8" transform="matrix(0.03683 0 0 0.00095 534.4 705.9)">L</text>
<text font-size="1000" font-weight="bold" fill="#17993d" transform="matrix(0.02720 0 0 0.00141 535.8 706.9)">Q</text>
<text font-size="1000" font-weight="bold" fill="#1c1a1a" transform="matrix(0.03683 0 0 0.00785 534.4 712.6)">L</text>
<text font-size="1000" font-weight="bold" fill="#2f5fa8" transform="matrix(0.02926 0 0 0.00654 534.9 717.1)">K</text>
<text font-size="1000" font-weight="bold" fill="#6a1fb0" transform="matrix(0.03215 0 0 0.00654 534.7 721.6)">N</text>
<text font-size="1000" font-weight="bold" fill="#17993d" transform="matrix(0.02982 0 0 0.00523 536.4 725.2)">Y</text>
<text font-size="1000" font-weight="bold" fill="#17993d" transform="matrix(0.03155 0 0 0.00381 536.0 727.9)">S</text>
<text font-size="1000" font-weight="bold" fill="#1c1a1a" transform="matrix(0.03369 0 0 0.00654 534.6 732.4)">E</text>
<path d="M536.90,732.40h18.90v1.58h-7.18v6.73h7.18v1.58h-18.90v-1.58h7.18v-6.73h-7.18z" fill="#1c1a1a"/>
<text font-size="1000" font-weight="bold" fill="#17993d" transform="matrix(0.02801 0 0 0.00946 555.6 679.2)">G</text>
<text font-size="1000" font-weight="bold" fill="#2f5fa8" transform="matrix(0.02977 0 0 0.00654 554.7 683.8)">R</text>
<text font-size="1000" font-weight="bold" fill="#1c1a1a" transform="matrix(0.02817 0 0 0.00654 556.0 688.3)">A</text>
<text font-size="1000" font-weight="bold" fill="#1c1a1a" transform="matrix(0.02891 0 0 0.00763 555.5 693.6)">C</text>
<text font-size="1000" font-weight="bold" fill="#1c1a1a" transform="matrix(0.02007 0 0 0.00523 556.7 697.3)">W</text>
<text font-size="1000" font-weight="bold" fill="#17993d" transform="matrix(0.03683 0 0 0.00255 554.2 699.1)">L</text>
<text font-size="1000" font-weight="bold" fill="#17993d" transform="matrix(0.02817 0 0 0.00280 556.0 701.0)">A</text>
<text font-size="1000" font-weight="bold" fill="#2f5fa8" transform="matrix(0.02703 0 0 0.00119 554.9 701.8)">M</text>
<text font-size="1000" font-weight="bold" fill="#6a1fb0" transform="matrix(0.02977 0 0 0.00318 554.7 704.0)">R</text>
<text font-size="1000" font-weight="bold" fill="#d8282e" transform="matrix(0.02977 0 0 0.00279 554.7 705.9)">R</text>
<text font-size="1000" font-weight="bold" fill="#d8282e" transform="matrix(0.02926 0 0 0.00116 554.7 706.7)">K</text>
<text font-size="1000" font-weight="bold" fill="#1c1a1a" transform="matrix(0.02720 0 0 0.00055 555.6 707.1)">Q</text>
<text font-size="1000" font-weight="bold" fill="#6a1fb0" transform="matrix(0.02977 0 0 0.00523 554.7 710.8)">R</text>
<text font-size="1000" font-weight="bold" fill="#2f5fa8" transform="matrix(0.03215 0 0 0.00785 554.5 716.2)">N</text>
<text font-size="1000" font-weight="bold" fill="#17993d" transform="matrix(0.02982 0 0 0.00785 556.2 721.6)">Y</text>
<text font-size="1000" font-weight="bold" fill="#17993d" transform="matrix(0.03155 0 0 0.00636 555.8 726.0)">S</text>
<path d="M556.70,726.10h18.90v1.15h-7.18v4.90h7.18v1.15h-18.90v-1.15h7.18v-4.90h-7.18z" fill="#1c1a1a"/>
<text font-size="1000" font-weight="bold" fill="#1c1a1a" transform="matrix(0.02910 0 0 0.01177 576.2 682.0)">X</text>
<text font-size="1000" font-weight="bold" fill="#1c1a1a" transform="matrix(0.03340 0 0 0.00654 574.3 686.5)">P</text>
<text font-size="1000" font-weight="bold" fill="#1c1a1a" transform="matrix(0.03683 0 0 0.00785 574.0 691.9)">L</text>
<text font-size="1000" font-weight="bold" fill="#6a1fb0" transform="matrix(0.03155 0 0 0.00508 575.6 695.5)">S</text>
<text font-size="1000" font-weight="bold" fill="#1c1a1a" transform="matrix(0.02007 0 0 0.00523 576.5 699.1)">W</text>
<text font-size="1000" font-weight="bold" fill="#2f5fa8" transform="matrix(0.02982 0 0 0.00221 576.0 700.6)">Y</text>
<text font-size="1000" font-weight="bold" fill="#d8282e" transform="matrix(0.03369 0 0 0.00132 574.2 701.5)">E</text>
<path d="M576.50,701.52h18.90v0.30h-7.18v0.35h7.18v0.30h-18.90v-0.30h7.18v-0.35h-7.18z" fill="#1c1a1a"/>
<text font-size="1000" font-weight="bold" fill="#1c1a1a" transform="matrix(0.03340 0 0 0.00197 574.3 703.8)">P</text>
<text font-size="1000" font-weight="bold" fill="#6a1fb0" transform="matrix(0.02926 0 0 0.00160 574.5 704.9)">K</text>
<text font-size="1000" font-weight="bold" fill="#1c1a1a" transform="matrix(0.02893 0 0 0.00193 576.3 706.3)">V</text>
<text font-size="1000" font-weight="bold" fill="#d8282e" transform="matrix(0.02893 0 0 0.00137 576.3 707.2)">V</text>
<text font-size="1000" font-weight="bold" fill="#2f5fa8" transform="matrix(0.03725 0 0 0.00654 574.0 711.7)">F</text>
<text font-size="1000" font-weight="bold" fill="#17993d" transform="matrix(0.03210 0 0 0.00785 576.1 717.1)">T</text>
<text font-size="1000" font-weight="bold" fill="#17993d" transform="matrix(0.02720 0 0 0.00603 575.4 721.3)">Q</text>
<text font-size="1000" font-weight="bold" fill="#17993d" transform="matrix(0.03155 0 0 0.00508 575.6 726.1)">S</text>
<text font-size="1000" font-weight="bold" fill="#6a1fb0" transform="matrix(0.03215 0 0 0.00916 574.3 732.4)">N</text>
<text font-size="1000" font-weight="bold" fill="#1c1a1a" transform="matrix(0.03340 0 0 0.00916 594.1 675.7)">P</text>
<text font-size="1000" font-weight="bold" fill="#1c1a1a" transform="matrix(0.02817 0 0 0.00654 595.6 680.2)">A</text>
<text font-size="1000" font-weight="bold" fill="#1c1a1a" transform="matrix(0.02720 0 0 0.00704 595.2 685.1)">Q</text>
<text font-size="1000" font-weight="bold" fill="#1c1a1a" transform="matrix(0.02893 0 0 0.00523 596.1 690.1)">V</text>
<text font-size="1000" font-weight="bold" fill="#17993d" transform="matrix(0.03210 0 0 0.00523 595.9 693.7)">T</text>
<path d="M596.30,693.70h18.90v0.30h-7.18v0.39h7.18v0.30h-18.90v-0.30h7.18v-0.39h-7.18z" fill="#17993d"/>
<text font-size="1000" font-weight="bold" fill="#1c1a1a" transform="matrix(0.03082 0 0 0.00140 594.2 695.7)">D</text>
<text font-size="1000" font-weight="bold" fill="#1c1a1a" transform="matrix(0.02977 0 0 0.00204 594.3 697.1)">R</text>
<text font-size="1000" font-weight="bold" fill="#17993d" transform="matrix(0.03210 0 0 0.00128 595.9 697.9)">T</text>
<path d="M596.30,697.95h18.90v0.30h-7.18v0.29h7.18v0.30h-18.90v-0.30h7.18v-0.29h-7.18z" fill="#6a1fb0"/>
<text font-size="1000" font-weight="bold" fill="#1c1a1a" transform="matrix(0.02817 0 0 0.00149 595.6 699.9)">A</text>
<text font-size="1000" font-weight="bold" fill="#6a1fb0" transform="matrix(0.03082 0 0 0.00207 594.2 701.3)">D</text>
<text font-size="1000" font-weight="bold" fill="#2f5fa8" transform="matrix(0.02982 0 0 0.00212 595.8 702.7)">Y</text>
<text font-size="1000" font-weight="bold" fill="#1c1a1a" transform="matrix(0.02926 0 0 0.00290 594.3 704.7)">K</text>
<text font-size="1000" font-weight="bold" fill="#d8282e" transform="matrix(0.03683 0 0 0.00119 593.8 705.6)">L</text>
<text font-size="1000" font-weight="bold" fill="#1c1a1a" transform="matrix(0.02977 0 0 0.00306 594.3 707.7)">R</text>
<text font-size="1000" font-weight="bold" fill="#17993d" transform="matrix(0.03725 0 0 0.00062 593.8 708.1)">F</text>
<text font-size="1000" font-weight="bold" fill="#1c1a1a" transform="matrix(0.03725 0 0 0.00523 593.8 711.7)">F</text>
<text font-size="1000" font-weight="bold" fill="#d8282e" transform="matrix(0.03082 0 0 0.00785 594.2 717.1)">D</text>
<text font-size="1000" font-weight="bold" fill="#2f5fa8" transform="matrix(0.02926 0 0 0.00654 594.3 721.6)">K</text>
<text font-size="1000" font-weight="bold" fill="#6a1fb0" transform="matrix(0.03215 0 0 0.00916 594.1 727.9)">N</text>
<path d="M596.30,727.90h18.90v1.58h-7.18v6.73h7.18v1.58h-18.90v-1.58h7.18v-6.73h-7.18z" fill="#1c1a1a"/>
<text font-size="1000" font-weight="bold" fill="#17993d" transform="matrix(0.03210 0 0 0.01047 615.7 682.9)">T</text>
<text font-size="1000" font-weight="bold" fill="#1c1a1a" transform="matrix(0.02817 0 0 0.00916 615.4 689.2)">A</text>
<text font-size="1000" font-weight="bold" fill="#17993d" transform="matrix(0.03155 0 0 0.00508 615.2 692.8)">S</text>
<text font-size="1000" font-weight="bold" fill="#6a1fb0" transform="matrix(0.02720 0 0 0.00302 615.0 694.9)">Q</text>
<text font-size="1000" font-weight="bold" fill="#1c1a1a" transform="matrix(0.02007 0 0 0.00523 616.1 699.1)">W</text>
<text font-size="1000" font-weight="bold" fill="#d8282e" transform="matrix(0.02007 0 0 0.00203 616.1 700.5)">W</text>
<text font-size="1000" font-weight="bold" fill="#6a1fb0" transform="matrix(0.03340 0 0 0.00097 613.9 701.2)">P</text>
<text font-size="1000" font-weight="bold" fill="#1c1a1a" transform="matrix(0.02893 0 0 0.00103 615.9 701.9)">V</text>
<path d="M616.10,701.87h18.90v0.30h-7.18v0.74h7.18v0.30h-18.90v-0.30h7.18v-0.74h-7.18z" fill="#2f5fa8"/>
<path d="M616.10,703.21h18.90v0.31h-7.18v1.31h7.18v0.31h-18.90v-0.31h7.18v-1.31h-7.18z" fill="#2f5fa8"/>
<text font-size="1000" font-weight="bold" fill="#6a1fb0" transform="matrix(0.02893 0 0 0.00252 615.9 706.9)">V</text>
<path d="M616.10,706.87h18.90v0.30h-7.18v-0.27h7.18v0.30h-18.90v-0.30h7.18v0.27h-7.18z" fill="#1c1a1a"/>
<text font-size="1000" font-weight="bold" fill="#d8282e" transform="matrix(0.03369 0 0 0.00392 613.8 709.9)">E</text>
<text font-size="1000" font-weight="bold" fill="#6a1fb0" transform="matrix(0.02893 0 0 0.00654 615.9 714.4)">V</text>
<text font-size="1000" font-weight="bold" fill="#17993d" transform="matrix(0.02982 0 0 0.00523 615.6 718.0)">Y</text>
<text font-size="1000" font-weight="bold" fill="#2f5fa8" transform="matrix(0.02926 0 0 0.00916 614.1 724.3)">K</text>
<path d="M616.10,724.30h18.90v1.01h-7.18v4.28h7.18v1.01h-18.90v-1.01h7.18v-4.28h-7.18z" fill="#1c1a1a"/>
<text x="511.00" y="683.50" font-size="11" fill="#111" text-anchor="end" stroke="#111" stroke-width="0.2">4</text>
<text x="511.00" y="705.70" font-size="11" fill="#111" text-anchor="end" stroke="#111" stroke-width="0.2">0</text>
<text x="511.00" y="728.40" font-size="11" fill="#111" text-anchor="end" stroke="#111" stroke-width="0.2">−4</text>
<text x="526.55" y="752.20" font-size="11" fill="#111" text-anchor="middle" stroke="#111" stroke-width="0.2">3</text>
<text x="546.35" y="752.20" font-size="11" fill="#111" text-anchor="middle" stroke="#111" stroke-width="0.2">4</text>
<text x="566.15" y="752.20" font-size="11" fill="#111" text-anchor="middle" stroke="#111" stroke-width="0.2">5</text>
<text x="585.95" y="752.20" font-size="11" fill="#111" text-anchor="middle" stroke="#111" stroke-width="0.2">6</text>
<text x="605.75" y="752.20" font-size="11" fill="#111" text-anchor="middle" stroke="#111" stroke-width="0.2">7</text>
<text x="625.55" y="752.20" font-size="11" fill="#111" text-anchor="middle" stroke="#111" stroke-width="0.2">8</text>
<text font-size="1000" font-weight="bold" fill="#1c1a1a" transform="matrix(0.03745 0 0 0.00916 650.8 684.7)">F</text>
<text font-size="1000" font-weight="bold" fill="#17993d" transform="matrix(0.02998 0 0 0.00392 652.8 687.4)">Y</text>
<text font-size="1000" font-weight="bold" fill="#d8282e" transform="matrix(0.03171 0 0 0.00508 652.4 691.0)">S</text>
<text font-size="1000" font-weight="bold" fill="#17993d" transform="matrix(0.02816 0 0 0.00381 652.1 693.7)">G</text>
<text font-size="1000" font-weight="bold" fill="#1c1a1a" transform="matrix(0.02735 0 0 0.00097 652.2 694.4)">Q</text>
<text font-size="1000" font-weight="bold" fill="#6a1fb0" transform="matrix(0.03357 0 0 0.00301 651.1 696.6)">P</text>
<path d="M653.30,696.64h19.00v0.30h-7.22v0.53h7.22v0.30h-19.00v-0.30h7.22v-0.53h-7.22z" fill="#1c1a1a"/>
<text font-size="1000" font-weight="bold" fill="#1c1a1a" transform="matrix(0.02717 0 0 0.00207 651.5 699.2)">M</text>
<text font-size="1000" font-weight="bold" fill="#2f5fa8" transform="matrix(0.03702 0 0 0.00312 650.8 701.3)">L</text>
<text font-size="1000" font-weight="bold" fill="#2f5fa8" transform="matrix(0.03227 0 0 0.00153 652.9 702.4)">T</text>
<text font-size="1000" font-weight="bold" fill="#d8282e" transform="matrix(0.03745 0 0 0.00251 650.8 704.1)">F</text>
<text font-size="1000" font-weight="bold" fill="#17993d" transform="matrix(0.02816 0 0 0.00183 652.1 705.4)">G</text>
<text font-size="1000" font-weight="bold" fill="#17993d" transform="matrix(0.02832 0 0 0.00248 652.6 707.1)">A</text>
<path d="M653.30,707.11h19.00v0.30h-7.22v1.07h7.22v0.30h-19.00v-0.30h7.22v-1.07h-7.22z" fill="#1c1a1a"/>
<text font-size="1000" font-weight="bold" fill="#1c1a1a" transform="matrix(0.03098 0 0 0.00032 651.2 709.0)">D</text>
<text font-size="1000" font-weight="bold" fill="#6a1fb0" transform="matrix(0.03232 0 0 0.00654 651.1 713.5)">N</text>
<path d="M653.30,713.50h19.00v0.30h-7.22v1.20h7.22v0.30h-19.00v-0.30h7.22v-1.20h-7.22z" fill="#1c1a1a"/>
<text font-size="1000" font-weight="bold" fill="#2f5fa8" transform="matrix(0.02941 0 0 0.01570 651.3 726.1)">K</text>
<text font-size="1000" font-weight="bold" fill="#1c1a1a" transform="matrix(0.02832 0 0 0.01047 672.4 682.0)">A</text>
<text font-size="1000" font-weight="bold" fill="#6a1fb0" transform="matrix(0.02735 0 0 0.00402 672.0 684.8)">Q</text>
<text font-size="1000" font-weight="bold" fill="#6a1fb0" transform="matrix(0.03232 0 0 0.00523 671.0 689.2)">N</text>
<text font-size="1000" font-weight="bold" fill="#2f5fa8" transform="matrix(0.02993 0 0 0.00654 671.1 693.7)">R</text>
<text font-size="1000" font-weight="bold" fill="#d8282e" transform="matrix(0.03387 0 0 0.00392 670.9 696.4)">E</text>
<text font-size="1000" font-weight="bold" fill="#1c1a1a" transform="matrix(0.03357 0 0 0.00256 670.9 698.2)">P</text>
<text font-size="1000" font-weight="bold" fill="#17993d" transform="matrix(0.03357 0 0 0.00310 670.9 700.3)">P</text>
<text font-size="1000" font-weight="bold" fill="#17993d" transform="matrix(0.03387 0 0 0.00255 670.9 702.1)">E</text>
<text font-size="1000" font-weight="bold" fill="#17993d" transform="matrix(0.02998 0 0 0.00257 672.6 703.8)">Y</text>
<text font-size="1000" font-weight="bold" fill="#d8282e" transform="matrix(0.02735 0 0 0.00167 672.0 705.0)">Q</text>
<text font-size="1000" font-weight="bold" fill="#6a1fb0" transform="matrix(0.02717 0 0 0.00096 671.3 706.0)">M</text>
<text font-size="1000" font-weight="bold" fill="#1c1a1a" transform="matrix(0.03387 0 0 0.00178 670.9 707.2)">E</text>
<text font-size="1000" font-weight="bold" fill="#17993d" transform="matrix(0.02998 0 0 0.00523 672.6 710.8)">Y</text>
<path d="M673.15,710.80h19.00v0.72h-7.22v3.06h7.22v0.72h-19.00v-0.72h7.22v-3.06h-7.22z" fill="#1c1a1a"/>
<text font-size="1000" font-weight="bold" fill="#2f5fa8" transform="matrix(0.02941 0 0 0.02093 671.2 729.7)">K</text>
<text font-size="1000" font-weight="bold" fill="#17993d" transform="matrix(0.02998 0 0 0.01177 692.5 670.3)">Y</text>
<path d="M693.00,670.30h19.00v0.86h-7.22v3.67h7.22v0.86h-19.00v-0.86h7.22v-3.67h-7.22z" fill="#1c1a1a"/>
<text font-size="1000" font-weight="bold" fill="#2f5fa8" transform="matrix(0.02941 0 0 0.01308 691.0 684.7)">K</text>
<text font-size="1000" font-weight="bold" fill="#1c1a1a" transform="matrix(0.03357 0 0 0.00523 690.8 688.3)">P</text>
<text font-size="1000" font-weight="bold" fill="#6a1fb0" transform="matrix(0.02993 0 0 0.00785 691.0 693.7)">R</text>
<text font-size="1000" font-weight="bold" fill="#1c1a1a" transform="matrix(0.02908 0 0 0.00225 692.8 695.2)">V</text>
<text font-size="1000" font-weight="bold" fill="#1c1a1a" transform="matrix(0.02017 0 0 0.00292 693.0 697.3)">W</text>
<path d="M693.00,697.26h19.00v0.30h-7.22v0.73h7.22v0.30h-19.00v-0.30h7.22v-0.73h-7.22z" fill="#6a1fb0"/>
<text font-size="1000" font-weight="bold" fill="#2f5fa8" transform="matrix(0.03357 0 0 0.00216 690.8 700.1)">P</text>
<text font-size="1000" font-weight="bold" fill="#2f5fa8" transform="matrix(0.03745 0 0 0.00196 690.5 701.4)">F</text>
<text font-size="1000" font-weight="bold" fill="#6a1fb0" transform="matrix(0.02816 0 0 0.00238 691.8 703.1)">G</text>
<text font-size="1000" font-weight="bold" fill="#17993d" transform="matrix(0.02735 0 0 0.00140 691.9 704.1)">Q</text>
<text font-size="1000" font-weight="bold" fill="#17993d" transform="matrix(0.03227 0 0 0.00260 692.6 706.1)">T</text>
<text font-size="1000" font-weight="bold" fill="#17993d" transform="matrix(0.02735 0 0 0.00119 691.9 707.0)">Q</text>
<text font-size="1000" font-weight="bold" fill="#2f5fa8" transform="matrix(0.03232 0 0 0.00916 690.8 713.5)">H</text>
<text font-size="1000" font-weight="bold" fill="#d8282e" transform="matrix(0.03387 0 0 0.00523 690.7 717.1)">E</text>
<text font-size="1000" font-weight="bold" fill="#d8282e" transform="matrix(0.03098 0 0 0.01831 690.9 729.7)">D</text>
<text font-size="1000" font-weight="bold" fill="#17993d" transform="matrix(0.02816 0 0 0.01780 691.8 742.1)">G</text>
<text font-size="1000" font-weight="bold" fill="#2f5fa8" transform="matrix(0.02993 0 0 0.00916 710.8 681.1)">R</text>
<text font-size="1000" font-weight="bold" fill="#17993d" transform="matrix(0.02816 0 0 0.00763 711.7 686.4)">G</text>
<text font-size="1000" font-weight="bold" fill="#17993d" transform="matrix(0.03171 0 0 0.00508 711.9 690.1)">S</text>
<path d="M712.85,690.10h19.00v0.58h-7.22v2.45h7.22v0.58h-19.00v-0.58h7.22v-2.45h-7.22z" fill="#17993d"/>
<text font-size="1000" font-weight="bold" fill="#1c1a1a" transform="matrix(0.03702 0 0 0.00523 710.4 697.3)">L</text>
<text font-size="1000" font-weight="bold" fill="#2f5fa8" transform="matrix(0.03357 0 0 0.00166 710.6 698.4)">P</text>
<text font-size="1000" font-weight="bold" fill="#2f5fa8" transform="matrix(0.03702 0 0 0.00176 710.4 699.7)">L</text>
<path d="M712.85,699.65h19.00v0.30h-7.22v0.72h7.22v0.30h-19.00v-0.30h7.22v-0.72h-7.22z" fill="#6a1fb0"/>
<text font-size="1000" font-weight="bold" fill="#2f5fa8" transform="matrix(0.03232 0 0 0.00095 710.7 701.6)">N</text>
<text font-size="1000" font-weight="bold" fill="#17993d" transform="matrix(0.02941 0 0 0.00222 710.9 703.1)">K</text>
<text font-size="1000" font-weight="bold" fill="#6a1fb0" transform="matrix(0.03357 0 0 0.00242 710.6 704.8)">P</text>
<text font-size="1000" font-weight="bold" fill="#1c1a1a" transform="matrix(0.03232 0 0 0.00185 710.7 706.1)">N</text>
<text font-size="1000" font-weight="bold" fill="#17993d" transform="matrix(0.02816 0 0 0.00151 711.7 707.1)">G</text>
<text font-size="1000" font-weight="bold" fill="#17993d" transform="matrix(0.02908 0 0 0.00268 712.7 709.0)">V</text>
<text font-size="1000" font-weight="bold" fill="#6a1fb0" transform="matrix(0.02735 0 0 0.00503 711.7 712.5)">Q</text>
<text font-size="1000" font-weight="bold" fill="#2f5fa8" transform="matrix(0.02993 0 0 0.00916 710.8 719.8)">R</text>
<text font-size="1000" font-weight="bold" fill="#1c1a1a" transform="matrix(0.02908 0 0 0.01570 712.7 730.6)">V</text>
<text font-size="1000" font-weight="bold" fill="#17993d" transform="matrix(0.03227 0 0 0.01962 732.3 680.2)">T</text>
<text font-size="1000" font-weight="bold" fill="#17993d" transform="matrix(0.03171 0 0 0.01017 731.8 687.3)">S</text>
<text font-size="1000" font-weight="bold" fill="#2f5fa8" transform="matrix(0.02993 0 0 0.01047 730.7 694.6)">R</text>
<path d="M732.70,694.60h19.00v0.58h-7.22v2.45h7.22v0.58h-19.00v-0.58h7.22v-2.45h-7.22z" fill="#1c1a1a"/>
<text font-size="1000" font-weight="bold" fill="#6a1fb0" transform="matrix(0.02717 0 0 0.00191 730.9 699.5)">M</text>
<text font-size="1000" font-weight="bold" fill="#2f5fa8" transform="matrix(0.03702 0 0 0.00308 730.2 701.6)">L</text>
<text font-size="1000" font-weight="bold" fill="#2f5fa8" transform="matrix(0.03702 0 0 0.00175 730.2 702.8)">L</text>
<text font-size="1000" font-weight="bold" fill="#6a1fb0" transform="matrix(0.02832 0 0 0.00202 732.0 704.2)">A</text>
<text font-size="1000" font-weight="bold" fill="#1c1a1a" transform="matrix(0.02832 0 0 0.00104 732.0 704.9)">A</text>
<path d="M732.70,704.94h19.00v0.30h-7.22v0.79h7.22v0.30h-19.00v-0.30h7.22v-0.79h-7.22z" fill="#1c1a1a"/>
<text font-size="1000" font-weight="bold" fill="#2f5fa8" transform="matrix(0.02908 0 0 0.00185 732.5 707.6)">V</text>
<text font-size="1000" font-weight="bold" fill="#2f5fa8" transform="matrix(0.03745 0 0 0.00197 730.2 709.0)">F</text>
<text font-size="1000" font-weight="bold" fill="#1c1a1a" transform="matrix(0.02717 0 0 0.00523 730.9 712.6)">M</text>
<text font-size="1000" font-weight="bold" fill="#d8282e" transform="matrix(0.03387 0 0 0.00654 730.4 717.1)">E</text>
<text font-size="1000" font-weight="bold" fill="#17993d" transform="matrix(0.02998 0 0 0.00654 732.2 721.6)">Y</text>
<text font-size="1000" font-weight="bold" fill="#17993d" transform="matrix(0.03171 0 0 0.00763 731.8 726.9)">S</text>
<text font-size="1000" font-weight="bold" fill="#1c1a1a" transform="matrix(0.03702 0 0 0.01570 730.2 737.8)">L</text>
<text font-size="1000" font-weight="bold" fill="#17993d" transform="matrix(0.03227 0 0 0.01047 754.6 684.7)">T</text>
<text font-size="1000" font-weight="bold" fill="#6a1fb0" transform="matrix(0.02735 0 0 0.00503 753.9 688.2)">Q</text>
<text font-size="1000" font-weight="bold" fill="#2f5fa8" transform="matrix(0.02993 0 0 0.00654 753.0 693.7)">R</text>
<text font-size="1000" font-weight="bold" fill="#1c1a1a" transform="matrix(0.02832 0 0 0.00785 754.3 699.1)">A</text>
<text font-size="1000" font-weight="bold" fill="#17993d" transform="matrix(0.03745 0 0 0.00194 752.5 700.4)">F</text>
<text font-size="1000" font-weight="bold" fill="#1c1a1a" transform="matrix(0.03702 0 0 0.00134 752.5 701.4)">L</text>
<text font-size="1000" font-weight="bold" fill="#1c1a1a" transform="matrix(0.03745 0 0 0.00252 752.5 703.1)">F</text>
<text font-size="1000" font-weight="bold" fill="#2f5fa8" transform="matrix(0.03357 0 0 0.00258 752.8 704.9)">P</text>
<text font-size="1000" font-weight="bold" fill="#6a1fb0" transform="matrix(0.02832 0 0 0.00191 754.3 706.2)">A</text>
<text font-size="1000" font-weight="bold" fill="#6a1fb0" transform="matrix(0.02735 0 0 0.00111 753.9 706.9)">Q</text>
<text font-size="1000" font-weight="bold" fill="#6a1fb0" transform="matrix(0.02717 0 0 0.00654 753.2 711.7)">M</text>
<text font-size="1000" font-weight="bold" fill="#1c1a1a" transform="matrix(0.02717 0 0 0.00654 753.2 716.2)">M</text>
<text font-size="1000" font-weight="bold" fill="#1c1a1a" transform="matrix(0.02908 0 0 0.00785 754.8 721.6)">V</text>
<text font-size="1000" font-weight="bold" fill="#d8282e" transform="matrix(0.03387 0 0 0.00785 752.7 727.0)">E</text>
<text x="647.60" y="683.20" font-size="11" fill="#111" text-anchor="end" stroke="#111" stroke-width="0.2">4</text>
<text x="647.60" y="705.70" font-size="11" fill="#111" text-anchor="end" stroke="#111" stroke-width="0.2">0</text>
<text x="647.60" y="728.20" font-size="11" fill="#111" text-anchor="end" stroke="#111" stroke-width="0.2">−4</text>
<text x="662.80" y="752.20" font-size="11" fill="#111" text-anchor="middle" stroke="#111" stroke-width="0.2">3</text>
<text x="682.65" y="752.20" font-size="11" fill="#111" text-anchor="middle" stroke="#111" stroke-width="0.2">4</text>
<text x="702.50" y="752.20" font-size="11" fill="#111" text-anchor="middle" stroke="#111" stroke-width="0.2">5</text>
<text x="722.35" y="752.20" font-size="11" fill="#111" text-anchor="middle" stroke="#111" stroke-width="0.2">6</text>
<text x="742.20" y="752.20" font-size="11" fill="#111" text-anchor="middle" stroke="#111" stroke-width="0.2">7</text>
<text x="764.50" y="752.20" font-size="11" fill="#111" text-anchor="middle" stroke="#111" stroke-width="0.2">8</text>
<text font-size="1000" font-weight="bold" fill="#1c1a1a" transform="matrix(0.03227 0 0 0.01090 520.7 798.9)">T</text>
<text font-size="1000" font-weight="bold" fill="#1c1a1a" transform="matrix(0.03702 0 0 0.01628 518.6 810.1)">L</text>
<text font-size="1000" font-weight="bold" fill="#1c1a1a" transform="matrix(0.03745 0 0 0.01221 518.6 818.5)">F</text>
<text font-size="1000" font-weight="bold" fill="#1c1a1a" transform="matrix(0.02017 0 0 0.00945 521.1 825.0)">W</text>
<text font-size="1000" font-weight="bold" fill="#1c1a1a" transform="matrix(0.02832 0 0 0.00175 520.4 826.2)">A</text>
<text font-size="1000" font-weight="bold" fill="#17993d" transform="matrix(0.02816 0 0 0.00192 519.9 827.5)">G</text>
<text font-size="1000" font-weight="bold" fill="#d8282e" transform="matrix(0.02993 0 0 0.00234 519.1 829.2)">R</text>
<text font-size="1000" font-weight="bold" fill="#1c1a1a" transform="matrix(0.02017 0 0 0.00154 521.1 830.2)">W</text>
<text font-size="1000" font-weight="bold" fill="#17993d" transform="matrix(0.02941 0 0 0.00147 519.1 831.2)">K</text>
<text font-size="1000" font-weight="bold" fill="#6a1fb0" transform="matrix(0.02735 0 0 0.00205 520.0 832.7)">Q</text>
<text font-size="1000" font-weight="bold" fill="#17993d" transform="matrix(0.02993 0 0 0.00133 519.1 834.0)">R</text>
<text font-size="1000" font-weight="bold" fill="#17993d" transform="matrix(0.02993 0 0 0.00266 519.1 835.8)">R</text>
<text font-size="1000" font-weight="bold" fill="#6a1fb0" transform="matrix(0.02908 0 0 0.00185 520.9 837.1)">V</text>
<text font-size="1000" font-weight="bold" fill="#2f5fa8" transform="matrix(0.02941 0 0 0.00538 519.1 840.8)">K</text>
<text font-size="1000" font-weight="bold" fill="#d8282e" transform="matrix(0.03387 0 0 0.00407 518.8 843.6)">E</text>
<text font-size="1000" font-weight="bold" fill="#17993d" transform="matrix(0.03171 0 0 0.00523 520.2 847.2)">S</text>
<text font-size="1000" font-weight="bold" fill="#1c1a1a" transform="matrix(0.02832 0 0 0.00814 520.4 852.9)">A</text>
<text font-size="1000" font-weight="bold" fill="#d8282e" transform="matrix(0.03098 0 0 0.02297 519.0 869.7)">D</text>
<text font-size="1000" font-weight="bold" fill="#d8282e" transform="matrix(0.03387 0 0 0.01352 538.7 805.4)">E</text>
<text font-size="1000" font-weight="bold" fill="#17993d" transform="matrix(0.02816 0 0 0.00918 539.8 811.8)">G</text>
<text font-size="1000" font-weight="bold" fill="#1c1a1a" transform="matrix(0.02717 0 0 0.00552 539.2 815.7)">M</text>
<text font-size="1000" font-weight="bold" fill="#17993d" transform="matrix(0.03171 0 0 0.00523 540.1 819.3)">S</text>
<text font-size="1000" font-weight="bold" fill="#17993d" transform="matrix(0.03227 0 0 0.00262 540.6 821.2)">T</text>
<text font-size="1000" font-weight="bold" fill="#d8282e" transform="matrix(0.03387 0 0 0.00407 538.7 824.0)">E</text>
<text font-size="1000" font-weight="bold" fill="#2f5fa8" transform="matrix(0.02816 0 0 0.00258 539.8 825.8)">G</text>
<text font-size="1000" font-weight="bold" fill="#17993d" transform="matrix(0.02017 0 0 0.00167 541.0 827.0)">W</text>
<text font-size="1000" font-weight="bold" fill="#1c1a1a" transform="matrix(0.02832 0 0 0.00201 540.3 828.4)">A</text>
<text font-size="1000" font-weight="bold" fill="#1c1a1a" transform="matrix(0.02832 0 0 0.00190 540.3 829.7)">A</text>
<text font-size="1000" font-weight="bold" fill="#1c1a1a" transform="matrix(0.02816 0 0 0.00116 539.8 830.5)">G</text>
<path d="M541.00,830.49h19.00v0.30h-7.22v0.45h7.22v0.30h-19.00v-0.30h7.22v-0.45h-7.22z" fill="#1c1a1a"/>
<text font-size="1000" font-weight="bold" fill="#1c1a1a" transform="matrix(0.02998 0 0 0.00130 540.5 832.4)">Y</text>
<path d="M541.00,832.44h19.00v0.30h-7.22v0.76h7.22v0.30h-19.00v-0.30h7.22v-0.76h-7.22z" fill="#17993d"/>
<text font-size="1000" font-weight="bold" fill="#1c1a1a" transform="matrix(0.03171 0 0 0.00122 540.1 834.6)">S</text>
<text font-size="1000" font-weight="bold" fill="#6a1fb0" transform="matrix(0.03098 0 0 0.00272 538.9 836.5)">D</text>
<text font-size="1000" font-weight="bold" fill="#17993d" transform="matrix(0.02017 0 0 0.00182 541.0 837.8)">W</text>
<text font-size="1000" font-weight="bold" fill="#d8282e" transform="matrix(0.03232 0 0 0.00178 538.8 839.0)">N</text>
<text font-size="1000" font-weight="bold" fill="#1c1a1a" transform="matrix(0.02908 0 0 0.00669 540.8 843.6)">V</text>
<text font-size="1000" font-weight="bold" fill="#1c1a1a" transform="matrix(0.03702 0 0 0.00538 538.5 847.3)">L</text>
<text font-size="1000" font-weight="bold" fill="#2f5fa8" transform="matrix(0.02941 0 0 0.01090 539.0 854.8)">K</text>
<text font-size="1000" font-weight="bold" fill="#17993d" transform="matrix(0.03171 0 0 0.01582 540.1 865.8)">S</text>
<text font-size="1000" font-weight="bold" fill="#1c1a1a" transform="matrix(0.03702 0 0 0.01352 558.4 809.1)">L</text>
<path d="M560.90,809.10h19.00v0.45h-7.22v1.90h7.22v0.45h-19.00v-0.45h7.22v-1.90h-7.22z" fill="#1c1a1a"/>
<text font-size="1000" font-weight="bold" fill="#1c1a1a" transform="matrix(0.03387 0 0 0.00683 558.6 816.6)">E</text>
<text font-size="1000" font-weight="bold" fill="#6a1fb0" transform="matrix(0.03232 0 0 0.00814 558.7 822.2)">N</text>
<text font-size="1000" font-weight="bold" fill="#1c1a1a" transform="matrix(0.02017 0 0 0.00538 560.9 825.9)">W</text>
<text font-size="1000" font-weight="bold" fill="#6a1fb0" transform="matrix(0.02993 0 0 0.00295 558.9 827.9)">R</text>
<text font-size="1000" font-weight="bold" fill="#6a1fb0" transform="matrix(0.03171 0 0 0.00096 560.0 828.6)">S</text>
<text font-size="1000" font-weight="bold" fill="#1c1a1a" transform="matrix(0.02816 0 0 0.00259 559.7 830.4)">G</text>
<text font-size="1000" font-weight="bold" fill="#1c1a1a" transform="matrix(0.03171 0 0 0.00300 560.0 832.5)">S</text>
<path d="M560.90,832.57h19.00v0.30h-7.22v0.50h7.22v0.30h-19.00v-0.30h7.22v-0.50h-7.22z" fill="#1c1a1a"/>
<text font-size="1000" font-weight="bold" fill="#d8282e" transform="matrix(0.03232 0 0 0.00091 558.7 834.3)">N</text>
<text font-size="1000" font-weight="bold" fill="#2f5fa8" transform="matrix(0.03232 0 0 0.00683 558.7 839.0)">H</text>
<text font-size="1000" font-weight="bold" fill="#1c1a1a" transform="matrix(0.02017 0 0 0.00669 560.9 843.6)">W</text>
<text font-size="1000" font-weight="bold" fill="#17993d" transform="matrix(0.03171 0 0 0.00664 560.0 848.2)">S</text>
<text font-size="1000" font-weight="bold" fill="#17993d" transform="matrix(0.02816 0 0 0.01045 559.7 855.6)">G</text>
<text font-size="1000" font-weight="bold" fill="#1c1a1a" transform="matrix(0.02832 0 0 0.01090 560.2 863.2)">A</text>
<text font-size="1000" font-weight="bold" fill="#1c1a1a" transform="matrix(0.02998 0 0 0.01628 580.3 808.2)">Y</text>
<path d="M580.80,808.20h19.00v0.45h-7.22v1.90h7.22v0.45h-19.00v-0.45h7.22v-1.90h-7.22z" fill="#1c1a1a"/>
<text font-size="1000" font-weight="bold" fill="#d8282e" transform="matrix(0.03098 0 0 0.00814 578.7 816.6)">D</text>
<text font-size="1000" font-weight="bold" fill="#1c1a1a" transform="matrix(0.02906 0 0 0.00395 579.6 819.4)">C</text>
<text font-size="1000" font-weight="bold" fill="#1c1a1a" transform="matrix(0.02017 0 0 0.00538 580.8 823.1)">W</text>
<text font-size="1000" font-weight="bold" fill="#6a1fb0" transform="matrix(0.02717 0 0 0.00230 579.0 824.7)">M</text>
<text font-size="1000" font-weight="bold" fill="#d8282e" transform="matrix(0.03702 0 0 0.00245 578.3 826.4)">L</text>
<text font-size="1000" font-weight="bold" fill="#17993d" transform="matrix(0.03227 0 0 0.00229 580.4 827.9)">T</text>
<text font-size="1000" font-weight="bold" fill="#6a1fb0" transform="matrix(0.02832 0 0 0.00206 580.1 829.4)">A</text>
<text font-size="1000" font-weight="bold" fill="#17993d" transform="matrix(0.03171 0 0 0.00242 579.9 831.0)">S</text>
<text font-size="1000" font-weight="bold" fill="#17993d" transform="matrix(0.02998 0 0 0.00285 580.3 833.0)">Y</text>
<text font-size="1000" font-weight="bold" fill="#1c1a1a" transform="matrix(0.03357 0 0 0.00054 578.6 833.4)">P</text>
<text font-size="1000" font-weight="bold" fill="#6a1fb0" transform="matrix(0.03232 0 0 0.00538 578.6 837.1)">N</text>
<text font-size="1000" font-weight="bold" fill="#17993d" transform="matrix(0.03171 0 0 0.00650 579.9 841.6)">S</text>
<text font-size="1000" font-weight="bold" fill="#17993d" transform="matrix(0.02816 0 0 0.00664 579.6 846.3)">G</text>
<text font-size="1000" font-weight="bold" fill="#17993d" transform="matrix(0.03171 0 0 0.00918 579.9 852.8)">S</text>
<text font-size="1000" font-weight="bold" fill="#17993d" transform="matrix(0.03227 0 0 0.01628 580.4 864.1)">T</text>
<text font-size="1000" font-weight="bold" fill="#17993d" transform="matrix(0.03227 0 0 0.01483 600.3 808.2)">T</text>
<path d="M600.70,808.20h19.00v0.75h-7.22v3.20h7.22v0.75h-19.00v-0.75h7.22v-3.20h-7.22z" fill="#1c1a1a"/>
<text font-size="1000" font-weight="bold" fill="#1c1a1a" transform="matrix(0.03357 0 0 0.00945 598.5 819.4)">P</text>
<text font-size="1000" font-weight="bold" fill="#1c1a1a" transform="matrix(0.02017 0 0 0.00945 600.7 825.9)">W</text>
<text font-size="1000" font-weight="bold" fill="#17993d" transform="matrix(0.02832 0 0 0.00130 600.0 826.8)">A</text>
<text font-size="1000" font-weight="bold" fill="#1c1a1a" transform="matrix(0.02908 0 0 0.00303 600.5 828.9)">V</text>
<text font-size="1000" font-weight="bold" fill="#2f5fa8" transform="matrix(0.03357 0 0 0.00296 598.5 830.9)">P</text>
<text font-size="1000" font-weight="bold" fill="#1c1a1a" transform="matrix(0.03232 0 0 0.00181 598.5 832.2)">N</text>
<text font-size="1000" font-weight="bold" fill="#1c1a1a" transform="matrix(0.02717 0 0 0.00270 598.9 834.0)">M</text>
<text font-size="1000" font-weight="bold" fill="#6a1fb0" transform="matrix(0.02832 0 0 0.00273 600.0 835.9)">A</text>
<text font-size="1000" font-weight="bold" fill="#d8282e" transform="matrix(0.02832 0 0 0.00043 600.0 836.2)">A</text>
<text font-size="1000" font-weight="bold" fill="#1c1a1a" transform="matrix(0.03387 0 0 0.00799 598.4 841.7)">E</text>
<text font-size="1000" font-weight="bold" fill="#6a1fb0" transform="matrix(0.03098 0 0 0.00683 598.6 846.4)">D</text>
<text font-size="1000" font-weight="bold" fill="#d8282e" transform="matrix(0.03098 0 0 0.00407 598.6 849.2)">D</text>
<text font-size="1000" font-weight="bold" fill="#2f5fa8" transform="matrix(0.02993 0 0 0.01759 598.7 861.3)">R</text>
<text font-size="1000" font-weight="bold" fill="#17993d" transform="matrix(0.03227 0 0 0.02311 620.2 812.9)">T</text>
<text font-size="1000" font-weight="bold" fill="#2f5fa8" transform="matrix(0.02993 0 0 0.00814 618.6 818.5)">R</text>
<text font-size="1000" font-weight="bold" fill="#1c1a1a" transform="matrix(0.02017 0 0 0.00799 620.6 824.0)">W</text>
<text font-size="1000" font-weight="bold" fill="#6a1fb0" transform="matrix(0.03098 0 0 0.00683 618.5 828.7)">D</text>
<text font-size="1000" font-weight="bold" fill="#6a1fb0" transform="matrix(0.02832 0 0 0.00150 619.9 829.7)">A</text>
<text font-size="1000" font-weight="bold" fill="#1c1a1a" transform="matrix(0.02908 0 0 0.00117 620.4 830.5)">V</text>
<text font-size="1000" font-weight="bold" fill="#1c1a1a" transform="matrix(0.03745 0 0 0.00207 618.1 832.0)">F</text>
<text font-size="1000" font-weight="bold" fill="#1c1a1a" transform="matrix(0.02993 0 0 0.00215 618.6 833.4)">R</text>
<path d="M620.60,833.44h19.00v0.30h-7.22v0.44h7.22v0.30h-19.00v-0.30h7.22v-0.44h-7.22z" fill="#2f5fa8"/>
<text font-size="1000" font-weight="bold" fill="#6a1fb0" transform="matrix(0.02717 0 0 0.00229 618.8 836.1)">M</text>
<text font-size="1000" font-weight="bold" fill="#2f5fa8" transform="matrix(0.02908 0 0 0.00193 620.4 837.4)">V</text>
<text font-size="1000" font-weight="bold" fill="#6a1fb0" transform="matrix(0.03232 0 0 0.00155 618.4 838.5)">N</text>
<text font-size="1000" font-weight="bold" fill="#17993d" transform="matrix(0.03357 0 0 0.00259 618.4 840.2)">P</text>
<text font-size="1000" font-weight="bold" fill="#17993d" transform="matrix(0.02017 0 0 0.00256 620.6 842.0)">W</text>
<text font-size="1000" font-weight="bold" fill="#d8282e" transform="matrix(0.03232 0 0 0.00093 618.4 842.6)">N</text>
<text font-size="1000" font-weight="bold" fill="#6a1fb0" transform="matrix(0.02832 0 0 0.00253 619.9 844.4)">A</text>
<text font-size="1000" font-weight="bold" fill="#17993d" transform="matrix(0.02017 0 0 0.00018 620.6 844.5)">W</text>
<text font-size="1000" font-weight="bold" fill="#d8282e" transform="matrix(0.03098 0 0 0.00552 618.5 848.3)">D</text>
<text font-size="1000" font-weight="bold" fill="#1c1a1a" transform="matrix(0.02926 0 0 0.01076 620.3 855.7)">X</text>
<text font-size="1000" font-weight="bold" fill="#1c1a1a" transform="matrix(0.03357 0 0 0.01090 618.4 863.2)">P</text>
<text x="515.50" y="812.10" font-size="11" fill="#111" text-anchor="end" stroke="#111" stroke-width="0.2">2</text>
<text x="515.50" y="834.50" font-size="11" fill="#111" text-anchor="end" stroke="#111" stroke-width="0.2">0</text>
<text x="515.50" y="855.90" font-size="11" fill="#111" text-anchor="end" stroke="#111" stroke-width="0.2">−2</text>
<text x="530.60" y="882.60" font-size="11" fill="#111" text-anchor="middle" stroke="#111" stroke-width="0.2">3</text>
<text x="550.50" y="882.60" font-size="11" fill="#111" text-anchor="middle" stroke="#111" stroke-width="0.2">4</text>
<text x="570.40" y="882.60" font-size="11" fill="#111" text-anchor="middle" stroke="#111" stroke-width="0.2">5</text>
<text x="590.30" y="882.60" font-size="11" fill="#111" text-anchor="middle" stroke="#111" stroke-width="0.2">6</text>
<text x="610.20" y="882.60" font-size="11" fill="#111" text-anchor="middle" stroke="#111" stroke-width="0.2">7</text>
<text x="630.10" y="882.60" font-size="11" fill="#111" text-anchor="middle" stroke="#111" stroke-width="0.2">8</text>
<text font-size="1000" font-weight="bold" fill="#6a1fb0" transform="matrix(0.02763 0 0 0.00503 658.7 804.8)">Q</text>
<text font-size="1000" font-weight="bold" fill="#d8282e" transform="matrix(0.03025 0 0 0.00407 657.8 808.6)">R</text>
<text font-size="1000" font-weight="bold" fill="#2f5fa8" transform="matrix(0.03422 0 0 0.00538 657.5 812.3)">E</text>
<text font-size="1000" font-weight="bold" fill="#1c1a1a" transform="matrix(0.02972 0 0 0.00799 657.8 817.8)">K</text>
<text font-size="1000" font-weight="bold" fill="#17993d" transform="matrix(0.02038 0 0 0.00538 659.8 821.5)">W</text>
<text font-size="1000" font-weight="bold" fill="#1c1a1a" transform="matrix(0.02972 0 0 0.00287 657.8 823.5)">K</text>
<text font-size="1000" font-weight="bold" fill="#1c1a1a" transform="matrix(0.03422 0 0 0.00158 657.5 824.6)">E</text>
<text font-size="1000" font-weight="bold" fill="#1c1a1a" transform="matrix(0.03260 0 0 0.00138 659.4 825.5)">T</text>
<text font-size="1000" font-weight="bold" fill="#17993d" transform="matrix(0.02862 0 0 0.00102 659.1 826.2)">A</text>
<text font-size="1000" font-weight="bold" fill="#d8282e" transform="matrix(0.03741 0 0 0.00137 657.3 827.2)">L</text>
<text font-size="1000" font-weight="bold" fill="#17993d" transform="matrix(0.03393 0 0 0.00151 657.5 828.2)">P</text>
<text font-size="1000" font-weight="bold" fill="#1c1a1a" transform="matrix(0.03131 0 0 0.00205 657.7 829.6)">D</text>
<text font-size="1000" font-weight="bold" fill="#17993d" transform="matrix(0.02763 0 0 0.00225 658.7 831.2)">Q</text>
<text font-size="1000" font-weight="bold" fill="#6a1fb0" transform="matrix(0.03741 0 0 0.00274 657.3 833.5)">L</text>
<text font-size="1000" font-weight="bold" fill="#2f5fa8" transform="matrix(0.02763 0 0 0.00222 658.7 835.1)">Q</text>
<text font-size="1000" font-weight="bold" fill="#17993d" transform="matrix(0.03422 0 0 0.00089 657.5 836.1)">E</text>
<text font-size="1000" font-weight="bold" fill="#1c1a1a" transform="matrix(0.03131 0 0 0.00014 657.7 836.2)">D</text>
<text font-size="1000" font-weight="bold" fill="#d8282e" transform="matrix(0.03422 0 0 0.00669 657.5 840.8)">E</text>
<text font-size="1000" font-weight="bold" fill="#1c1a1a" transform="matrix(0.03260 0 0 0.00392 659.4 843.5)">T</text>
<text font-size="1000" font-weight="bold" fill="#17993d" transform="matrix(0.03260 0 0 0.01206 659.4 851.8)">T</text>
<text font-size="1000" font-weight="bold" fill="#1c1a1a" transform="matrix(0.02862 0 0 0.01337 659.1 861.0)">A</text>
<text font-size="1000" font-weight="bold" fill="#17993d" transform="matrix(0.02845 0 0 0.01299 678.3 800.2)">G</text>
<text font-size="1000" font-weight="bold" fill="#d8282e" transform="matrix(0.03131 0 0 0.01206 677.4 808.6)">D</text>
<text font-size="1000" font-weight="bold" fill="#d8282e" transform="matrix(0.03422 0 0 0.00930 677.2 815.0)">E</text>
<text font-size="1000" font-weight="bold" fill="#1c1a1a" transform="matrix(0.02038 0 0 0.01076 679.5 822.4)">W</text>
<text font-size="1000" font-weight="bold" fill="#17993d" transform="matrix(0.02939 0 0 0.00149 679.3 823.4)">V</text>
<text font-size="1000" font-weight="bold" fill="#d8282e" transform="matrix(0.03785 0 0 0.00193 677.0 824.7)">F</text>
<text font-size="1000" font-weight="bold" fill="#17993d" transform="matrix(0.02972 0 0 0.00162 677.5 825.9)">K</text>
<text font-size="1000" font-weight="bold" fill="#1c1a1a" transform="matrix(0.03205 0 0 0.00119 678.6 826.7)">S</text>
<text font-size="1000" font-weight="bold" fill="#17993d" transform="matrix(0.02862 0 0 0.00219 678.8 828.2)">A</text>
<text font-size="1000" font-weight="bold" fill="#17993d" transform="matrix(0.03029 0 0 0.00238 679.0 829.9)">Y</text>
<text font-size="1000" font-weight="bold" fill="#6a1fb0" transform="matrix(0.03266 0 0 0.00220 677.3 831.4)">N</text>
<text font-size="1000" font-weight="bold" fill="#17993d" transform="matrix(0.03393 0 0 0.00274 677.2 833.2)">P</text>
<text font-size="1000" font-weight="bold" fill="#17993d" transform="matrix(0.03422 0 0 0.00022 677.2 833.4)">E</text>
<text font-size="1000" font-weight="bold" fill="#17993d" transform="matrix(0.03205 0 0 0.01695 678.6 845.2)">S</text>
<text font-size="1000" font-weight="bold" fill="#1c1a1a" transform="matrix(0.03741 0 0 0.01730 677.0 857.3)">L</text>
<path d="M679.50,857.30h19.20v2.06h-7.30v8.77h7.30v2.06h-19.20v-2.06h7.30v-8.77h-7.30z" fill="#1c1a1a"/>
<text font-size="1000" font-weight="bold" fill="#17993d" transform="matrix(0.02845 0 0 0.01299 698.0 803.0)">G</text>
<text font-size="1000" font-weight="bold" fill="#2f5fa8" transform="matrix(0.03266 0 0 0.01206 697.0 811.4)">H</text>
<text font-size="1000" font-weight="bold" fill="#d8282e" transform="matrix(0.03131 0 0 0.00930 697.1 817.8)">D</text>
<text font-size="1000" font-weight="bold" fill="#1c1a1a" transform="matrix(0.02862 0 0 0.00799 698.5 823.3)">A</text>
<text font-size="1000" font-weight="bold" fill="#6a1fb0" transform="matrix(0.03260 0 0 0.00126 698.8 824.2)">T</text>
<text font-size="1000" font-weight="bold" fill="#17993d" transform="matrix(0.03260 0 0 0.00277 698.8 826.1)">T</text>
<text font-size="1000" font-weight="bold" fill="#17993d" transform="matrix(0.03025 0 0 0.00258 697.2 827.8)">R</text>
<text font-size="1000" font-weight="bold" fill="#17993d" transform="matrix(0.03393 0 0 0.00150 696.9 828.9)">P</text>
<text font-size="1000" font-weight="bold" fill="#17993d" transform="matrix(0.03741 0 0 0.00247 696.7 830.6)">L</text>
<text font-size="1000" font-weight="bold" fill="#d8282e" transform="matrix(0.03785 0 0 0.00112 696.7 831.3)">F</text>
<text font-size="1000" font-weight="bold" fill="#1c1a1a" transform="matrix(0.03785 0 0 0.00111 696.7 832.1)">F</text>
<text font-size="1000" font-weight="bold" fill="#d8282e" transform="matrix(0.03260 0 0 0.00128 698.8 833.0)">T</text>
<path d="M699.20,832.99h19.20v0.30h-7.30v0.07h7.30v0.30h-19.20v-0.30h7.30v-0.07h-7.30z" fill="#17993d"/>
<text font-size="1000" font-weight="bold" fill="#d8282e" transform="matrix(0.03422 0 0 0.00132 696.9 834.6)">E</text>
<text font-size="1000" font-weight="bold" fill="#1c1a1a" transform="matrix(0.03422 0 0 0.00104 696.9 835.3)">E</text>
<text font-size="1000" font-weight="bold" fill="#2f5fa8" transform="matrix(0.03029 0 0 0.00134 698.7 836.2)">Y</text>
<text font-size="1000" font-weight="bold" fill="#1c1a1a" transform="matrix(0.03029 0 0 0.01061 698.7 843.5)">Y</text>
<text font-size="1000" font-weight="bold" fill="#17993d" transform="matrix(0.03260 0 0 0.00799 698.8 849.0)">T</text>
<path d="M699.20,849.00h19.20v1.18h-7.30v5.03h7.30v1.18h-19.20v-1.18h7.30v-5.03h-7.30z" fill="#1c1a1a"/>
<text font-size="1000" font-weight="bold" fill="#17993d" transform="matrix(0.03205 0 0 0.01822 698.3 869.1)">S</text>
<text font-size="1000" font-weight="bold" fill="#1c1a1a" transform="matrix(0.03260 0 0 0.01730 718.5 805.8)">T</text>
<text font-size="1000" font-weight="bold" fill="#1c1a1a" transform="matrix(0.02038 0 0 0.01206 718.9 814.1)">W</text>
<text font-size="1000" font-weight="bold" fill="#17993d" transform="matrix(0.02937 0 0 0.00523 717.7 817.7)">C</text>
<text font-size="1000" font-weight="bold" fill="#17993d" transform="matrix(0.02845 0 0 0.00650 717.7 822.3)">G</text>
<text font-size="1000" font-weight="bold" fill="#1c1a1a" transform="matrix(0.03131 0 0 0.00189 716.8 823.7)">D</text>
<text font-size="1000" font-weight="bold" fill="#2f5fa8" transform="matrix(0.03260 0 0 0.00169 718.5 824.9)">T</text>
<text font-size="1000" font-weight="bold" fill="#2f5fa8" transform="matrix(0.03029 0 0 0.00114 718.4 825.7)">Y</text>
<path d="M718.90,825.65h19.20v0.30h-7.30v0.50h7.30v0.30h-19.20v-0.30h7.30v-0.50h-7.30z" fill="#1c1a1a"/>
<text font-size="1000" font-weight="bold" fill="#1c1a1a" transform="matrix(0.03785 0 0 0.00290 716.4 828.7)">F</text>
<text font-size="1000" font-weight="bold" fill="#17993d" transform="matrix(0.03260 0 0 0.00193 718.5 830.1)">T</text>
<text font-size="1000" font-weight="bold" fill="#1c1a1a" transform="matrix(0.02845 0 0 0.00122 717.7 830.9)">G</text>
<text font-size="1000" font-weight="bold" fill="#1c1a1a" transform="matrix(0.03029 0 0 0.00153 718.4 832.0)">Y</text>
<text font-size="1000" font-weight="bold" fill="#17993d" transform="matrix(0.03205 0 0 0.00114 718.0 832.8)">S</text>
<text font-size="1000" font-weight="bold" fill="#1c1a1a" transform="matrix(0.02972 0 0 0.00087 716.9 833.4)">K</text>
<text font-size="1000" font-weight="bold" fill="#1c1a1a" transform="matrix(0.03422 0 0 0.00669 716.6 838.0)">E</text>
<text font-size="1000" font-weight="bold" fill="#17993d" transform="matrix(0.03029 0 0 0.00669 718.4 842.6)">Y</text>
<path d="M718.90,842.60h19.20v1.02h-7.30v4.35h7.30v1.02h-19.20v-1.02h7.30v-4.35h-7.30z" fill="#17993d"/>
<text font-size="1000" font-weight="bold" fill="#17993d" transform="matrix(0.03205 0 0 0.01045 718.0 856.3)">S</text>
<text font-size="1000" font-weight="bold" fill="#6a1fb0" transform="matrix(0.03266 0 0 0.01599 716.7 867.4)">N</text>
<text font-size="1000" font-weight="bold" fill="#1c1a1a" transform="matrix(0.02939 0 0 0.01250 738.4 800.3)">V</text>
<text font-size="1000" font-weight="bold" fill="#17993d" transform="matrix(0.02937 0 0 0.00650 737.4 804.8)">C</text>
<text font-size="1000" font-weight="bold" fill="#1c1a1a" transform="matrix(0.03785 0 0 0.00799 736.1 810.4)">F</text>
<text font-size="1000" font-weight="bold" fill="#1c1a1a" transform="matrix(0.02038 0 0 0.00814 738.6 816.0)">W</text>
<text font-size="1000" font-weight="bold" fill="#2f5fa8" transform="matrix(0.03025 0 0 0.00669 736.6 820.6)">R</text>
<text font-size="1000" font-weight="bold" fill="#17993d" transform="matrix(0.03260 0 0 0.00095 738.2 821.3)">T</text>
<text font-size="1000" font-weight="bold" fill="#17993d" transform="matrix(0.03393 0 0 0.00263 736.3 823.1)">P</text>
<text font-size="1000" font-weight="bold" fill="#17993d" transform="matrix(0.02862 0 0 0.00263 737.9 824.9)">A</text>
<text font-size="1000" font-weight="bold" fill="#1c1a1a" transform="matrix(0.03131 0 0 0.00294 736.5 826.9)">D</text>
<text font-size="1000" font-weight="bold" fill="#1c1a1a" transform="matrix(0.02746 0 0 0.00258 736.8 828.7)">M</text>
<text font-size="1000" font-weight="bold" fill="#6a1fb0" transform="matrix(0.03029 0 0 0.00120 738.1 829.5)">Y</text>
<text font-size="1000" font-weight="bold" fill="#1c1a1a" transform="matrix(0.02972 0 0 0.00305 736.6 831.6)">K</text>
<text font-size="1000" font-weight="bold" fill="#1c1a1a" transform="matrix(0.03785 0 0 0.00253 736.1 833.3)">F</text>
<text font-size="1000" font-weight="bold" fill="#6a1fb0" transform="matrix(0.03422 0 0 0.00313 736.3 835.5)">E</text>
<text font-size="1000" font-weight="bold" fill="#1c1a1a" transform="matrix(0.03025 0 0 0.00117 736.6 836.3)">R</text>
<text font-size="1000" font-weight="bold" fill="#17993d" transform="matrix(0.02746 0 0 0.00109 736.8 837.0)">M</text>
<text font-size="1000" font-weight="bold" fill="#d8282e" transform="matrix(0.02746 0 0 0.00140 736.8 838.0)">M</text>
<text font-size="1000" font-weight="bold" fill="#2f5fa8" transform="matrix(0.02972 0 0 0.00669 736.6 842.6)">K</text>
<text font-size="1000" font-weight="bold" fill="#d8282e" transform="matrix(0.03422 0 0 0.00538 736.3 846.3)">E</text>
<text font-size="1000" font-weight="bold" fill="#1c1a1a" transform="matrix(0.02746 0 0 0.00669 736.8 850.9)">M</text>
<text font-size="1000" font-weight="bold" fill="#17993d" transform="matrix(0.03205 0 0 0.00523 737.7 854.5)">S</text>
<text font-size="1000" font-weight="bold" fill="#1c1a1a" transform="matrix(0.03741 0 0 0.01061 736.1 861.9)">L</text>
<text font-size="1000" font-weight="bold" fill="#17993d" transform="matrix(0.03260 0 0 0.01076 738.2 869.3)">T</text>
<text font-size="1000" font-weight="bold" fill="#6a1fb0" transform="matrix(0.03266 0 0 0.00930 756.1 803.1)">N</text>
<text font-size="1000" font-weight="bold" fill="#17993d" transform="matrix(0.03029 0 0 0.00669 757.8 807.7)">Y</text>
<text font-size="1000" font-weight="bold" fill="#d8282e" transform="matrix(0.03131 0 0 0.00538 756.2 811.4)">D</text>
<text font-size="1000" font-weight="bold" fill="#1c1a1a" transform="matrix(0.02862 0 0 0.00799 757.6 816.9)">A</text>
<text font-size="1000" font-weight="bold" fill="#1c1a1a" transform="matrix(0.03205 0 0 0.00223 757.4 818.5)">S</text>
<text font-size="1000" font-weight="bold" fill="#17993d" transform="matrix(0.02746 0 0 0.00219 756.5 820.0)">M</text>
<text font-size="1000" font-weight="bold" fill="#6a1fb0" transform="matrix(0.03422 0 0 0.00259 756.0 821.8)">E</text>
<text font-size="1000" font-weight="bold" fill="#2f5fa8" transform="matrix(0.03260 0 0 0.00319 757.9 824.0)">T</text>
<text font-size="1000" font-weight="bold" fill="#2f5fa8" transform="matrix(0.03025 0 0 0.00183 756.3 825.2)">R</text>
<text font-size="1000" font-weight="bold" fill="#1c1a1a" transform="matrix(0.02763 0 0 0.00226 757.2 826.8)">Q</text>
<text font-size="1000" font-weight="bold" fill="#d8282e" transform="matrix(0.03029 0 0 0.00193 757.8 828.6)">Y</text>
<text font-size="1000" font-weight="bold" fill="#d8282e" transform="matrix(0.03266 0 0 0.00307 756.1 830.7)">N</text>
<text font-size="1000" font-weight="bold" fill="#17993d" transform="matrix(0.03741 0 0 0.00182 755.8 831.9)">L</text>
<text font-size="1000" font-weight="bold" fill="#17993d" transform="matrix(0.02763 0 0 0.00202 757.2 833.3)">Q</text>
<text font-size="1000" font-weight="bold" fill="#17993d" transform="matrix(0.03422 0 0 0.00177 756.0 835.0)">E</text>
<text font-size="1000" font-weight="bold" fill="#2f5fa8" transform="matrix(0.03025 0 0 0.00120 756.3 835.8)">R</text>
<text font-size="1000" font-weight="bold" fill="#6a1fb0" transform="matrix(0.02763 0 0 0.00046 757.2 836.1)">Q</text>
<text font-size="1000" font-weight="bold" fill="#1c1a1a" transform="matrix(0.02939 0 0 0.00930 758.1 842.6)">V</text>
<text font-size="1000" font-weight="bold" fill="#17993d" transform="matrix(0.02845 0 0 0.00777 757.1 848.0)">G</text>
<text font-size="1000" font-weight="bold" fill="#1c1a1a" transform="matrix(0.03741 0 0 0.01337 755.8 857.3)">L</text>
<path d="M758.30,857.30h19.20v0.88h-7.30v3.74h7.30v0.88h-19.20v-0.88h7.30v-3.74h-7.30z" fill="#1c1a1a"/>
<text x="654.00" y="810.70" font-size="11" fill="#111" text-anchor="end" stroke="#111" stroke-width="0.2">3</text>
<text x="654.00" y="833.60" font-size="11" fill="#111" text-anchor="end" stroke="#111" stroke-width="0.2">0</text>
<text x="654.00" y="856.60" font-size="11" fill="#111" text-anchor="end" stroke="#111" stroke-width="0.2">−3</text>
<text x="669.40" y="882.60" font-size="11" fill="#111" text-anchor="middle" stroke="#111" stroke-width="0.2">3</text>
<text x="689.10" y="882.60" font-size="11" fill="#111" text-anchor="middle" stroke="#111" stroke-width="0.2">4</text>
<text x="708.80" y="882.60" font-size="11" fill="#111" text-anchor="middle" stroke="#111" stroke-width="0.2">5</text>
<text x="728.50" y="882.60" font-size="11" fill="#111" text-anchor="middle" stroke="#111" stroke-width="0.2">6</text>
<text x="748.20" y="882.60" font-size="11" fill="#111" text-anchor="middle" stroke="#111" stroke-width="0.2">7</text>
<text x="767.90" y="882.60" font-size="11" fill="#111" text-anchor="middle" stroke="#111" stroke-width="0.2">8</text>
<rect x="542.0" y="898.2" width="18.9" height="10.2" fill="#d8282e"/>
<text x="565.30" y="907.00" font-size="12" fill="#111" stroke="#111" stroke-width="0.2">Acidic</text>
<rect x="610.5" y="898.2" width="18.9" height="10.2" fill="#2f5fa8"/>
<text x="633.80" y="907.00" font-size="12" fill="#111" stroke="#111" stroke-width="0.2">Basic</text>
<rect x="676.0" y="898.2" width="18.9" height="10.2" fill="#1c1a1a"/>
<text x="699.30" y="907.00" font-size="12" fill="#111" stroke="#111" stroke-width="0.2">Hydrophobic</text>
<rect x="588.3" y="915.2" width="18.9" height="10.2" fill="#6a1fb0"/>
<text x="611.60" y="924.00" font-size="12" fill="#111" stroke="#111" stroke-width="0.2">Neutral</text>
<rect x="664.4" y="915.2" width="18.9" height="10.2" fill="#17993d"/>
<text x="687.70" y="924.00" font-size="12" fill="#111" stroke="#111" stroke-width="0.2">Polar</text>
<text x="243.40" y="657.90" font-size="19" fill="#000">H</text>
<svg x="281.9" y="654.4" width="188.70" height="139.20" overflow="hidden"><g transform="translate(-281.9,-654.4)">
<path d="M281.9,660.7L282.6,660.7L283.4,660.7L284.1,660.7L284.8,660.7L285.5,660.7L286.3,660.7L286.3,695.3L287.0,691.0L287.7,687.6L287.7,709.2L288.4,704.8L289.2,701.1L289.9,698.0L290.6,695.3L291.3,693.0L292.1,691.0L292.8,689.2L293.5,687.6L294.2,686.2L295.0,685.0L295.0,695.3L295.7,693.8L296.4,692.3L297.1,691.0L297.9,689.8L297.9,698.0L298.6,696.6L299.3,695.3L300.0,694.1L300.0,701.1L300.8,699.8L301.5,698.6L302.2,697.4L302.9,696.3L303.7,695.3L304.4,694.4L305.1,693.5L305.9,692.6L306.6,691.8L307.3,691.0L308.0,690.3L308.8,689.6L309.5,688.9L310.2,688.3L310.2,693.0L310.9,692.3L310.9,696.8L311.7,696.0L312.4,695.3L313.1,694.6L313.8,694.0L313.8,698.0L313.8,701.9L314.6,701.1L315.3,700.4L316.0,699.6L316.0,703.2L316.7,702.5L317.5,701.8L318.2,701.1L318.9,700.4L319.6,699.8L320.4,699.2L321.1,698.6L321.8,698.0L322.5,697.4L322.5,700.5L322.5,703.5L323.3,702.8L324.0,702.2L324.7,701.7L324.7,704.5L324.7,707.2L325.4,706.5L326.2,705.9L326.9,705.3L327.6,704.8L328.3,704.2L329.1,703.6L329.8,703.1L329.8,705.6L330.5,705.0L331.3,704.5L332.0,704.0L332.7,703.5L332.7,705.8L333.4,705.3L334.2,704.8L334.9,704.3L335.6,703.8L336.3,703.3L337.1,702.8L337.8,702.4L337.8,704.5L337.8,706.6L337.8,708.7L337.8,710.7L337.8,712.6L338.5,712.1L339.2,711.6L340.0,711.1L340.7,710.6L341.4,710.1L342.1,709.6L342.1,711.5L342.1,713.3L342.9,712.8L343.6,712.3L344.3,711.8L344.3,713.6L344.3,715.3L345.0,714.8L345.8,714.3L346.5,713.8L347.2,713.4L347.9,712.9L348.7,712.5L348.7,714.1L348.7,715.7L348.7,717.2L349.4,716.8L350.1,716.3L350.8,715.9L351.6,715.4L352.3,715.0L353.0,714.5L353.8,714.1L354.5,713.7L355.2,713.3L355.2,714.7L355.9,714.3L356.7,713.9L357.4,713.5L358.1,713.1L358.8,712.7L358.8,714.1L358.8,715.5L358.8,716.9L358.8,718.2L358.8,719.5L359.6,719.1L360.3,718.7L361.0,718.3L361.7,717.9L361.7,719.2L361.7,720.4L361.7,721.7L362.5,721.3L363.2,720.9L363.9,720.5L364.6,720.1L365.4,719.7L366.1,719.3L366.1,720.5L366.1,721.7L366.1,722.8L366.8,722.4L367.5,722.0L368.3,721.6L369.0,721.3L369.7,720.9L370.4,720.5L370.4,721.6L371.2,721.3L371.9,720.9L372.6,720.5L373.3,720.2L374.1,719.8L374.8,719.5L375.5,719.1L375.5,720.2L375.5,721.3L376.2,720.9L377.0,720.6L377.0,721.6L377.0,722.6L377.0,723.7L377.0,724.7L377.0,725.7L377.0,726.6L377.0,727.6L377.0,728.6L377.0,729.5L377.0,730.5L377.7,730.1L378.4,729.7L379.2,729.4L379.9,729.0L380.6,728.6L381.3,728.3L382.1,727.9L382.8,727.6L383.5,727.2L384.2,726.9L385.0,726.5L385.7,726.2L386.4,725.9L386.4,726.8L386.4,727.7L387.1,727.3L387.9,727.0L388.6,726.7L389.3,726.3L390.0,726.0L390.0,726.9L390.0,727.7L390.0,728.6L390.0,729.4L390.0,730.2L390.0,731.1L390.0,731.9L390.0,732.7L390.8,732.3L391.5,732.0L392.2,731.7L392.9,731.4L393.7,731.0L394.4,730.7L395.1,730.4L395.8,730.1L396.6,729.8L397.3,729.4L398.0,729.1L398.7,728.8L399.5,728.5L400.2,728.2L400.9,727.9L401.7,727.6L402.4,727.3L403.1,727.1L403.1,727.8L403.1,728.6L403.1,729.3L403.1,730.1L403.1,730.8L403.1,731.5L403.1,732.2L403.1,733.0L403.1,733.7L403.8,733.4L404.6,733.1L405.3,732.8L406.0,732.5L406.7,732.2L407.5,731.9L408.2,731.6L408.9,731.3L409.6,731.0L410.4,730.7L411.1,730.5L411.8,730.2L412.5,729.9L413.3,729.6L414.0,729.4L414.7,729.1L414.7,729.8L414.7,730.4L414.7,731.1L414.7,731.8L414.7,732.4L414.7,733.1L414.7,733.7L414.7,734.4L414.7,735.0L414.7,735.7L415.4,735.4L416.2,735.1L416.9,734.8L417.6,734.5L418.3,734.3L419.1,734.0L419.8,733.7L420.5,733.5L420.5,734.1L420.5,734.7L420.5,735.3L420.5,735.9L421.2,735.6L422.0,735.4L422.7,735.1L423.4,734.8L423.4,735.4L423.4,736.0L423.4,736.6L423.4,737.2L424.2,736.9L424.9,736.7L424.9,737.2L424.9,737.8L424.9,738.4L424.9,738.9L424.9,739.5L425.6,739.2L426.3,739.0L426.3,739.5L427.1,739.3L427.8,739.0L428.5,738.7L428.5,739.3L428.5,739.8L429.2,739.6L430.0,739.3L430.7,739.0L431.4,738.8L432.1,738.5L432.9,738.3L433.6,738.0L434.3,737.8L435.0,737.5L435.8,737.3L435.8,737.8L435.8,738.3L435.8,738.9L435.8,739.4L436.5,739.1L437.2,738.9L437.9,738.6L437.9,739.2L437.9,739.7L437.9,740.2L437.9,740.7L438.7,740.4L439.4,740.2L440.1,739.9L440.8,739.7L441.6,739.5L442.3,739.2L443.0,739.0L443.7,738.7L444.5,738.5L444.5,739.0L444.5,739.5L444.5,740.0L444.5,740.5L444.5,741.0L444.5,741.4L444.5,741.9L444.5,742.4L444.5,742.9L444.5,743.3L444.5,743.8L444.5,744.3L444.5,744.7L444.5,745.2L444.5,745.6L444.5,746.1L444.5,746.6L444.5,747.0L444.5,747.5L444.5,747.9L444.5,748.3L444.5,748.8L444.5,749.2L444.5,749.6L444.5,750.1L445.2,749.8L445.9,749.6L446.6,749.3L447.4,749.1L448.1,748.8L448.8,748.6L449.6,748.3L450.3,748.1L451.0,747.9L451.7,747.6L452.5,747.4L453.2,747.2L453.2,747.6L453.2,748.0L453.2,748.4L453.2,748.8L453.2,749.2L453.2,749.7L453.2,750.1L453.2,750.5L453.2,750.9L453.2,751.3L453.9,751.0L454.6,750.8L455.4,750.6L456.1,750.3L456.8,750.1L457.5,749.9L458.3,749.6L458.3,750.0L458.3,750.4L458.3,750.8L458.3,751.2L458.3,751.6L458.3,752.0L458.3,752.4L459.0,752.1L459.7,751.9L460.4,751.7L461.2,751.4L461.9,751.2L462.6,751.0L463.3,750.8L464.1,750.5L464.8,750.3L465.5,750.1L466.2,749.9L466.2,750.2L466.2,750.6L466.2,751.0L466.2,751.4L466.2,751.7L467.0,751.5L467.7,751.3L468.4,751.1L469.1,750.9L469.1,751.2L469.1,751.6L469.1,752.0L469.1,752.3L469.1,752.7L469.1,753.0L469.1,753.4L469.1,753.8L469.1,754.1L469.1,754.5L469.1,754.8L469.9,754.6L470.6,754.4" fill="none" stroke="#1f77b4" stroke-width="1.3" stroke-linejoin="miter"/>
<path d="M281.9,660.7L282.6,660.7L283.4,660.7L284.1,660.7L284.8,660.7L285.5,660.7L286.3,660.7L287.0,660.7L287.7,660.7L288.4,660.7L289.2,660.7L289.9,660.7L290.6,660.7L291.3,660.7L292.1,660.7L292.8,660.7L293.5,660.7L294.2,660.7L295.0,660.7L295.7,660.7L296.4,660.7L297.1,660.7L297.9,660.7L298.6,660.7L299.3,660.7L300.0,660.7L300.8,660.7L301.5,660.7L301.5,669.4L301.5,677.4L302.2,676.9L302.9,676.4L303.7,675.9L303.7,682.8L304.4,682.1L305.1,681.5L305.9,680.9L306.6,680.4L307.3,679.9L308.0,679.4L308.8,678.9L309.5,678.5L310.2,678.0L310.9,677.6L311.7,677.2L312.4,676.9L313.1,676.5L313.8,676.2L314.6,675.9L315.3,675.6L316.0,675.3L316.0,679.7L316.7,679.4L316.7,683.6L316.7,687.6L317.5,687.2L318.2,686.7L318.9,686.2L319.6,685.8L320.4,685.4L321.1,685.0L321.8,684.6L322.5,684.2L323.3,683.8L324.0,683.4L324.7,683.1L325.4,682.8L326.2,682.4L326.9,682.1L327.6,681.8L328.3,681.5L328.3,684.6L329.1,684.3L329.1,687.3L329.1,690.2L329.8,689.8L330.5,689.4L331.3,689.0L332.0,688.7L332.0,691.4L332.7,691.0L332.7,693.6L333.4,693.2L334.2,692.8L334.9,692.4L335.6,692.1L336.3,691.7L337.1,691.4L337.8,691.0L338.5,690.7L339.2,690.3L339.2,692.7L340.0,692.3L340.7,692.0L341.4,691.6L342.1,691.3L342.9,691.0L343.6,690.7L344.3,690.4L344.3,692.5L344.3,694.6L344.3,696.7L345.0,696.3L345.8,696.0L346.5,695.7L347.2,695.3L347.9,695.0L348.7,694.7L349.4,694.4L350.1,694.1L350.8,693.8L351.6,693.5L351.6,695.3L351.6,697.2L352.3,696.8L353.0,696.5L353.8,696.2L354.5,695.9L355.2,695.6L355.2,697.4L355.2,699.1L355.2,700.8L355.9,700.4L356.7,700.1L357.4,699.8L358.1,699.5L358.8,699.2L359.6,698.9L360.3,698.6L361.0,698.3L361.7,698.0L362.5,697.7L363.2,697.4L363.9,697.1L364.6,696.9L365.4,696.6L365.4,698.1L365.4,699.6L365.4,701.1L365.4,702.5L366.1,702.2L366.8,701.9L367.5,701.7L368.3,701.4L369.0,701.1L369.7,700.8L370.4,700.5L371.2,700.3L371.2,701.6L371.9,701.4L371.9,702.7L371.9,704.0L371.9,705.3L372.6,705.0L373.3,704.8L374.1,704.5L374.8,704.2L375.5,703.9L376.2,703.6L377.0,703.4L377.0,704.6L377.0,705.9L377.0,707.1L377.0,708.3L377.7,708.0L378.4,707.7L379.2,707.4L379.9,707.1L380.6,706.9L380.6,708.0L381.3,707.7L382.1,707.5L382.8,707.2L383.5,706.9L384.2,706.7L385.0,706.4L385.7,706.1L386.4,705.9L387.1,705.6L387.1,706.7L387.1,707.8L387.1,708.9L387.1,710.0L387.1,711.0L387.1,712.1L387.1,713.1L387.9,712.8L388.6,712.5L389.3,712.3L390.0,712.0L390.8,711.7L391.5,711.4L392.2,711.2L392.9,710.9L393.7,710.7L394.4,710.4L395.1,710.1L395.8,709.9L396.6,709.6L397.3,709.4L397.3,710.4L397.3,711.3L398.0,711.1L398.7,710.8L399.5,710.6L400.2,710.3L400.2,711.3L400.9,711.0L401.7,710.8L402.4,710.6L403.1,710.3L403.1,711.2L403.1,712.1L403.1,713.0L403.1,713.9L403.8,713.7L404.6,713.4L405.3,713.2L406.0,712.9L406.7,712.7L407.5,712.5L408.2,712.2L408.9,712.0L409.6,711.8L410.4,711.5L410.4,712.4L411.1,712.2L411.1,713.0L411.1,713.8L411.1,714.7L411.1,715.5L411.1,716.3L411.1,717.1L411.1,717.9L411.1,718.7L411.1,719.5L411.1,720.2L411.1,721.0L411.8,720.8L412.5,720.5L413.3,720.3L414.0,720.0L414.0,720.8L414.7,720.5L415.4,720.3L416.2,720.0L416.9,719.8L417.6,719.5L418.3,719.3L419.1,719.1L419.8,718.8L420.5,718.6L421.2,718.4L422.0,718.2L422.7,717.9L423.4,717.7L424.2,717.5L424.9,717.3L424.9,718.0L425.6,717.8L426.3,717.5L427.1,717.3L427.1,718.0L427.1,718.7L427.8,718.5L427.8,719.2L427.8,719.9L427.8,720.6L427.8,721.3L427.8,721.9L427.8,722.6L427.8,723.3L427.8,723.9L427.8,724.6L427.8,725.2L428.5,725.0L429.2,724.8L430.0,724.5L430.7,724.3L431.4,724.1L432.1,723.9L432.9,723.6L433.6,723.4L434.3,723.2L435.0,723.0L435.8,722.8L436.5,722.5L437.2,722.3L437.9,722.1L438.7,721.9L439.4,721.7L440.1,721.5L440.1,722.1L440.1,722.7L440.1,723.3L440.1,723.9L440.1,724.5L440.1,725.1L440.8,724.9L441.6,724.7L442.3,724.5L443.0,724.3L443.7,724.1L444.5,723.9L445.2,723.7L445.2,724.2L445.2,724.8L445.2,725.4L445.2,726.0L445.2,726.6L445.2,727.1L445.2,727.7L445.2,728.2L445.9,728.0L446.6,727.8L447.4,727.6L448.1,727.4L448.8,727.2L448.8,727.7L449.6,727.5L450.3,727.3L450.3,727.9L450.3,728.4L450.3,728.9L450.3,729.5L450.3,730.0L450.3,730.5L450.3,731.1L450.3,731.6L450.3,732.1L450.3,732.6L451.0,732.4L451.7,732.2L452.5,732.0L453.2,731.8L453.9,731.6L454.6,731.4L455.4,731.1L456.1,730.9L456.1,731.4L456.1,731.9L456.1,732.4L456.1,732.9L456.1,733.4L456.1,733.9L456.1,734.4L456.1,734.9L456.1,735.4L456.1,735.9L456.1,736.4L456.1,736.8L456.1,737.3L456.1,737.8L456.1,738.2L456.1,738.7L456.1,739.2L456.1,739.6L456.1,740.1L456.1,740.5L456.8,740.3L457.5,740.1L458.3,739.9L459.0,739.7L459.7,739.4L460.4,739.2L461.2,739.0L461.9,738.8L462.6,738.6L463.3,738.4L463.3,738.8L463.3,739.3L463.3,739.7L463.3,740.1L463.3,740.6L463.3,741.0L463.3,741.4L463.3,741.9L463.3,742.3L464.1,742.1L464.8,741.9L465.5,741.7L466.2,741.4L467.0,741.2L467.7,741.0L468.4,740.8L469.1,740.6L469.9,740.4L470.6,740.2" fill="none" stroke="#ff7f0e" stroke-width="1.3" stroke-linejoin="miter"/>
<path d="M281.9,660.7L282.6,660.7L283.4,660.7L284.1,660.7L284.8,660.7L285.5,660.7L286.3,660.7L287.0,660.7L287.7,660.7L288.4,660.7L289.2,660.7L289.9,660.7L289.9,680.9L290.6,679.4L290.6,695.3L291.3,693.0L292.1,691.0L292.8,689.2L293.5,687.6L294.2,686.2L295.0,685.0L295.0,695.3L295.7,693.8L296.4,692.3L297.1,691.0L297.9,689.8L298.6,688.7L299.3,687.6L300.0,686.7L300.8,685.8L301.5,685.0L302.2,684.2L302.9,683.4L302.9,690.1L303.7,689.2L304.4,688.4L305.1,687.6L305.9,686.9L306.6,686.2L307.3,685.6L308.0,685.0L308.8,684.4L309.5,683.8L310.2,683.3L310.2,688.3L310.2,693.0L310.9,692.3L311.7,691.6L312.4,691.0L313.1,690.4L313.8,689.8L314.6,689.2L315.3,688.7L316.0,688.1L316.7,687.6L317.5,687.2L318.2,686.7L318.9,686.2L319.6,685.8L320.4,685.4L320.4,689.0L321.1,688.5L321.8,688.1L322.5,687.6L323.3,687.2L324.0,686.8L324.7,686.4L324.7,689.6L325.4,689.2L326.2,688.8L326.2,691.9L326.9,691.4L327.6,691.0L328.3,690.6L328.3,693.5L329.1,693.0L329.8,692.6L330.5,692.2L331.3,691.8L331.3,694.5L331.3,697.1L331.3,699.6L331.3,702.1L331.3,704.5L332.0,704.0L332.7,703.5L333.4,703.0L334.2,702.5L334.9,702.0L335.6,701.5L336.3,701.1L337.1,700.6L337.8,700.2L338.5,699.8L339.2,699.4L340.0,699.0L340.7,698.6L341.4,698.2L341.4,700.3L341.4,702.3L341.4,704.3L342.1,703.9L342.9,703.5L343.6,703.0L344.3,702.6L345.0,702.2L345.8,701.9L346.5,701.5L346.5,703.3L347.2,702.9L347.9,702.6L348.7,702.2L349.4,701.8L350.1,701.4L350.8,701.1L351.6,700.7L352.3,700.4L352.3,702.1L352.3,703.8L352.3,705.5L352.3,707.1L353.0,706.8L353.8,706.4L354.5,706.0L355.2,705.6L355.9,705.3L356.7,704.9L356.7,706.5L356.7,708.0L356.7,709.5L357.4,709.2L358.1,708.8L358.8,708.4L359.6,708.1L360.3,707.7L360.3,709.2L361.0,708.8L361.7,708.5L362.5,708.1L363.2,707.8L363.9,707.4L364.6,707.1L365.4,706.8L366.1,706.5L366.1,707.8L366.1,709.2L366.1,710.5L366.1,711.8L366.8,711.5L367.5,711.1L367.5,712.4L367.5,713.6L368.3,713.3L369.0,713.0L369.7,712.6L369.7,713.8L370.4,713.5L371.2,713.2L371.9,712.8L372.6,712.5L373.3,712.2L374.1,711.9L374.8,711.6L374.8,712.7L374.8,713.9L374.8,715.0L375.5,714.7L376.2,714.4L377.0,714.1L377.0,715.2L377.0,716.3L377.0,717.4L377.0,718.4L377.0,719.5L377.0,720.6L377.0,721.6L377.0,722.6L377.0,723.7L377.7,723.3L378.4,723.0L379.2,722.6L379.9,722.3L380.6,721.9L381.3,721.6L382.1,721.3L382.8,720.9L383.5,720.6L384.2,720.3L385.0,720.0L385.7,719.7L386.4,719.4L387.1,719.0L387.9,718.7L388.6,718.4L389.3,718.1L390.0,717.9L390.8,717.6L391.5,717.3L392.2,717.0L392.2,717.9L392.2,718.8L392.9,718.6L393.7,718.3L394.4,718.0L394.4,718.9L394.4,719.8L394.4,720.7L395.1,720.4L395.8,720.1L396.6,719.8L397.3,719.5L398.0,719.3L398.7,719.0L398.7,719.8L399.5,719.6L399.5,720.4L399.5,721.3L399.5,722.1L399.5,722.9L399.5,723.8L399.5,724.6L399.5,725.4L399.5,726.2L399.5,727.0L399.5,727.7L399.5,728.5L399.5,729.3L399.5,730.1L399.5,730.8L400.2,730.5L400.9,730.2L401.7,729.9L402.4,729.6L403.1,729.3L403.1,730.1L403.1,730.8L403.8,730.5L404.6,730.2L405.3,729.9L406.0,729.6L406.7,729.3L407.5,729.0L408.2,728.8L408.9,728.5L409.6,728.2L410.4,727.9L411.1,727.7L411.8,727.4L412.5,727.1L413.3,726.9L414.0,726.6L414.7,726.3L415.4,726.1L415.4,726.8L415.4,727.5L415.4,728.1L415.4,728.8L415.4,729.5L415.4,730.2L415.4,730.8L416.2,730.6L416.2,731.2L416.2,731.9L416.2,732.5L416.2,733.2L416.2,733.8L416.2,734.5L416.2,735.1L416.2,735.7L416.9,735.4L417.6,735.2L418.3,734.9L419.1,734.6L419.8,734.3L420.5,734.1L421.2,733.8L422.0,733.5L422.7,733.3L423.4,733.0L424.2,732.8L424.9,732.5L424.9,733.1L424.9,733.7L424.9,734.3L424.9,734.9L424.9,735.5L424.9,736.1L424.9,736.7L424.9,737.2L424.9,737.8L424.9,738.4L424.9,738.9L424.9,739.5L424.9,740.1L425.6,739.8L426.3,739.5L427.1,739.3L427.8,739.0L428.5,738.7L429.2,738.5L430.0,738.2L430.7,738.0L431.4,737.7L432.1,737.4L432.9,737.2L433.6,736.9L434.3,736.7L434.3,737.2L434.3,737.8L434.3,738.3L434.3,738.8L434.3,739.4L434.3,739.9L434.3,740.4L434.3,740.9L434.3,741.4L435.0,741.2L435.8,740.9L436.5,740.7L437.2,740.4L437.9,740.2L438.7,739.9L439.4,739.7L440.1,739.4L440.8,739.2L441.6,739.0L442.3,738.7L443.0,738.5L443.7,738.2L444.5,738.0L445.2,737.8L445.9,737.5L445.9,738.0L445.9,738.5L445.9,739.0L445.9,739.5L445.9,740.0L445.9,740.5L445.9,741.0L445.9,741.4L445.9,741.9L445.9,742.4L445.9,742.9L445.9,743.3L445.9,743.8L446.6,743.5L447.4,743.3L448.1,743.1L448.8,742.8L449.6,742.6L450.3,742.4L451.0,742.1L451.7,741.9L452.5,741.7L453.2,741.4L453.9,741.2L454.6,741.0L455.4,740.8L455.4,741.2L455.4,741.7L455.4,742.1L455.4,742.6L455.4,743.0L455.4,743.4L456.1,743.2L456.8,743.0L457.5,742.8L458.3,742.5L459.0,742.3L459.7,742.1L460.4,741.9L461.2,741.7L461.9,741.4L462.6,741.2L462.6,741.7L463.3,741.4L463.3,741.9L464.1,741.7L464.8,741.4L464.8,741.9L465.5,741.7L466.2,741.4L466.2,741.9L466.2,742.3L466.2,742.7L466.2,743.1L466.2,743.5L466.2,743.9L466.2,744.4L466.2,744.8L466.2,745.2L466.2,745.6L466.2,746.0L466.2,746.4L466.2,746.8L466.2,747.2L466.2,747.6L466.2,747.9L466.2,748.3L466.2,748.7L466.2,749.1L466.2,749.5L466.2,749.9L466.2,750.2L466.2,750.6L466.2,751.0L466.2,751.4L466.2,751.7L466.2,752.1L466.2,752.5L466.2,752.9L466.2,753.2L466.2,753.6L466.2,753.9L466.2,754.3L466.2,754.7L466.2,755.0L467.0,754.8L467.7,754.6L468.4,754.3L469.1,754.1L469.9,753.9L470.6,753.7" fill="none" stroke="#2ca02c" stroke-width="1.3" stroke-linejoin="miter"/>
<path d="M281.9,660.7L282.6,660.7L283.4,660.7L284.1,660.7L284.8,660.7L285.5,660.7L286.3,660.7L287.0,660.7L287.7,660.7L288.4,660.7L289.2,660.7L289.9,660.7L290.6,660.7L291.3,660.7L292.1,660.7L292.8,660.7L293.5,660.7L294.2,660.7L295.0,660.7L295.7,660.7L296.4,660.7L297.1,660.7L297.9,660.7L298.6,660.7L299.3,660.7L300.0,660.7L300.8,660.7L301.5,660.7L302.2,660.7L302.9,660.7L303.7,660.7L304.4,660.7L305.1,660.7L305.9,660.7L306.6,660.7L307.3,660.7L308.0,660.7L308.8,660.7L309.5,660.7L310.2,660.7L310.9,660.7L311.7,660.7L311.7,666.5L311.7,672.0L312.4,671.7L313.1,671.5L313.8,671.3L313.8,676.2L313.8,680.9L313.8,685.4L314.6,685.0L315.3,684.5L316.0,684.0L316.7,683.6L317.5,683.2L318.2,682.8L318.9,682.4L318.9,686.2L319.6,685.8L320.4,685.4L321.1,685.0L321.8,684.6L321.8,688.1L322.5,687.6L323.3,687.2L324.0,686.8L324.0,690.1L324.0,693.3L324.7,692.8L325.4,692.3L326.2,691.9L326.9,691.4L326.9,694.4L327.6,693.9L328.3,693.5L329.1,693.0L329.8,692.6L330.5,692.2L331.3,691.8L332.0,691.4L332.0,694.0L332.7,693.6L333.4,693.2L334.2,692.8L334.2,695.3L334.9,694.9L335.6,694.5L336.3,694.1L336.3,696.5L336.3,698.8L336.3,701.1L337.1,700.6L337.8,700.2L338.5,699.8L339.2,699.4L340.0,699.0L340.7,698.6L341.4,698.2L342.1,697.8L342.1,699.9L342.9,699.5L342.9,701.5L342.9,703.5L342.9,705.4L342.9,707.3L342.9,709.2L343.6,708.7L344.3,708.3L345.0,707.8L345.8,707.4L346.5,707.0L347.2,706.5L347.9,706.1L348.7,705.7L348.7,707.5L348.7,709.2L348.7,710.8L348.7,712.5L349.4,712.0L350.1,711.6L350.8,711.2L351.6,710.8L352.3,710.4L353.0,709.9L353.8,709.6L354.5,709.2L355.2,708.8L355.9,708.4L355.9,709.9L356.7,709.5L357.4,709.2L358.1,708.8L358.8,708.4L358.8,709.9L359.6,709.5L360.3,709.2L360.3,710.6L360.3,712.0L360.3,713.4L361.0,713.0L361.7,712.6L361.7,714.0L361.7,715.3L361.7,716.6L361.7,717.9L361.7,719.2L362.5,718.8L363.2,718.4L363.9,718.0L364.6,717.6L365.4,717.2L366.1,716.9L366.8,716.5L367.5,716.1L368.3,715.8L369.0,715.4L369.7,715.1L370.4,714.7L371.2,714.4L371.9,714.0L372.6,713.7L372.6,714.9L372.6,716.0L372.6,717.2L373.3,716.8L374.1,716.5L374.8,716.2L375.5,715.8L375.5,716.9L375.5,718.0L376.2,717.7L376.2,718.8L377.0,718.4L377.7,718.1L378.4,717.8L378.4,718.8L378.4,719.9L379.2,719.6L379.2,720.6L379.2,721.6L379.2,722.6L379.2,723.6L379.2,724.6L379.9,724.2L380.6,723.9L381.3,723.6L382.1,723.2L382.8,722.9L382.8,723.8L382.8,724.8L382.8,725.7L382.8,726.7L382.8,727.6L382.8,728.5L383.5,728.1L384.2,727.8L385.0,727.4L385.7,727.1L386.4,726.8L387.1,726.4L387.9,726.1L388.6,725.8L388.6,726.7L388.6,727.5L388.6,728.4L388.6,729.2L388.6,730.1L389.3,729.7L390.0,729.4L390.8,729.1L391.5,728.8L391.5,729.6L391.5,730.4L391.5,731.2L391.5,732.0L392.2,731.7L392.9,731.4L393.7,731.0L394.4,730.7L395.1,730.4L395.8,730.1L396.6,729.8L396.6,730.5L396.6,731.3L396.6,732.1L397.3,731.8L398.0,731.4L398.7,731.1L398.7,731.9L398.7,732.6L398.7,733.4L398.7,734.1L398.7,734.8L399.5,734.5L400.2,734.2L400.9,733.9L401.7,733.6L402.4,733.3L403.1,733.0L403.8,732.7L404.6,732.4L405.3,732.1L405.3,732.8L405.3,733.5L406.0,733.2L406.7,732.9L407.5,732.6L408.2,732.3L408.2,733.0L408.2,733.7L408.2,734.3L408.2,735.0L408.2,735.7L408.2,736.3L408.2,737.0L408.2,737.6L408.9,737.3L409.6,737.0L410.4,736.7L411.1,736.5L411.8,736.2L412.5,735.9L412.5,736.5L412.5,737.1L412.5,737.8L413.3,737.5L413.3,738.1L413.3,738.7L413.3,739.3L413.3,739.9L414.0,739.6L414.7,739.4L415.4,739.1L416.2,738.8L416.9,738.5L417.6,738.2L418.3,737.9L418.3,738.5L418.3,739.1L418.3,739.7L419.1,739.4L419.1,740.0L419.1,740.6L419.8,740.3L420.5,740.0L421.2,739.7L422.0,739.5L422.7,739.2L423.4,738.9L424.2,738.6L424.9,738.4L425.6,738.1L426.3,737.8L427.1,737.6L427.8,737.3L428.5,737.1L429.2,736.8L430.0,736.5L430.0,737.1L430.0,737.7L430.0,738.2L430.0,738.8L430.0,739.3L430.0,739.8L430.0,740.4L430.0,740.9L430.0,741.4L430.7,741.2L430.7,741.7L430.7,742.2L430.7,742.7L430.7,743.3L430.7,743.8L430.7,744.3L430.7,744.8L430.7,745.3L430.7,745.8L431.4,745.5L432.1,745.2L432.9,745.0L433.6,744.7L434.3,744.5L435.0,744.2L435.8,743.9L436.5,743.7L437.2,743.4L437.9,743.2L438.7,742.9L439.4,742.7L440.1,742.4L440.8,742.2L441.6,741.9L441.6,742.4L441.6,742.9L441.6,743.4L441.6,743.8L441.6,744.3L441.6,744.8L441.6,745.3L441.6,745.7L441.6,746.2L441.6,746.6L441.6,747.1L442.3,746.8L443.0,746.6L443.7,746.4L444.5,746.1L445.2,745.9L445.9,745.6L446.6,745.4L447.4,745.1L448.1,744.9L448.8,744.6L449.6,744.4L450.3,744.2L451.0,743.9L451.7,743.7L452.5,743.5L453.2,743.2L453.9,743.0L454.6,742.8L454.6,743.2L454.6,743.7L454.6,744.1L454.6,744.5L454.6,745.0L455.4,744.7L455.4,745.2L455.4,745.6L456.1,745.4L456.8,745.1L456.8,745.6L456.8,746.0L456.8,746.4L456.8,746.8L456.8,747.2L456.8,747.7L456.8,748.1L456.8,748.5L456.8,748.9L456.8,749.3L456.8,749.7L456.8,750.1L456.8,750.5L456.8,750.9L456.8,751.3L457.5,751.1L458.3,750.8L459.0,750.6L459.7,750.4L459.7,750.7L459.7,751.1L459.7,751.5L459.7,751.9L460.4,751.7L461.2,751.4L461.2,751.8L461.2,752.2L461.2,752.6L461.2,753.0L461.9,752.7L462.6,752.5L463.3,752.3L464.1,752.1L464.1,752.4L464.1,752.8L464.1,753.2L464.1,753.5L464.8,753.3L465.5,753.1L466.2,752.9L467.0,752.6L467.7,752.4L468.4,752.2L469.1,752.0L469.9,751.7L470.6,751.5" fill="none" stroke="#d62728" stroke-width="1.3" stroke-linejoin="miter"/>
<path d="M281.9,660.7L282.6,660.7L283.4,660.7L284.1,660.7L284.8,660.7L285.5,660.7L286.3,660.7L287.0,660.7L287.7,660.7L288.4,660.7L289.2,660.7L289.9,660.7L290.6,660.7L291.3,660.7L292.1,660.7L292.8,660.7L293.5,660.7L294.2,660.7L295.0,660.7L295.7,660.7L296.4,660.7L297.1,660.7L297.9,660.7L297.9,671.3L298.6,670.8L298.6,680.1L299.3,679.4L300.0,678.7L300.8,678.0L300.8,685.8L300.8,693.0L301.5,692.0L302.2,691.0L302.9,690.1L303.7,689.2L303.7,695.3L303.7,701.1L304.4,700.0L305.1,699.0L305.9,698.0L306.6,697.1L307.3,696.2L308.0,695.3L308.0,700.2L308.8,699.3L309.5,698.4L310.2,697.6L310.9,696.8L310.9,701.1L311.7,700.3L311.7,704.3L311.7,708.2L312.4,707.3L313.1,706.4L313.8,705.6L314.6,704.8L315.3,704.0L316.0,703.2L316.7,702.5L317.5,701.8L318.2,701.1L318.2,704.4L318.2,707.6L318.2,710.7L318.9,709.9L319.6,709.2L320.4,708.4L320.4,711.3L321.1,710.6L321.8,709.9L322.5,709.2L323.3,708.5L324.0,707.8L324.0,710.5L324.0,713.1L324.0,715.6L324.7,714.9L325.4,714.2L326.2,713.5L326.9,712.8L327.6,712.2L328.3,711.6L329.1,710.9L329.1,713.2L329.8,712.6L330.5,712.0L331.3,711.4L332.0,710.8L332.0,713.0L332.0,715.1L332.0,717.2L332.0,719.3L332.7,718.6L333.4,718.0L334.2,717.4L334.2,719.4L334.2,721.3L334.9,720.6L335.6,720.0L336.3,719.4L337.1,718.8L337.8,718.3L338.5,717.7L338.5,719.5L338.5,721.3L339.2,720.7L340.0,720.1L340.7,719.6L341.4,719.0L342.1,718.5L342.1,720.2L342.9,719.6L342.9,721.3L342.9,722.9L343.6,722.3L344.3,721.8L345.0,721.3L345.8,720.7L346.5,720.2L347.2,719.7L347.9,719.2L348.7,718.8L349.4,718.3L349.4,719.8L350.1,719.3L350.8,718.8L350.8,720.3L350.8,721.7L350.8,723.2L350.8,724.5L350.8,725.9L351.6,725.4L352.3,724.9L353.0,724.4L353.0,725.8L353.8,725.3L354.5,724.8L355.2,724.4L355.9,723.9L356.7,723.4L357.4,723.0L358.1,722.6L358.8,722.1L359.6,721.7L359.6,722.9L359.6,724.2L360.3,723.8L360.3,725.0L361.0,724.5L361.0,725.7L361.0,726.9L361.0,728.1L361.0,729.2L361.0,730.4L361.0,731.5L361.0,732.6L361.0,733.7L361.0,734.8L361.7,734.3L362.5,733.8L363.2,733.4L363.9,732.9L364.6,732.5L365.4,732.0L366.1,731.6L366.8,731.2L367.5,730.7L368.3,730.3L369.0,729.9L369.7,729.5L370.4,729.1L371.2,728.7L371.9,728.3L371.9,729.3L371.9,730.3L371.9,731.3L371.9,732.3L372.6,731.9L373.3,731.5L374.1,731.1L374.8,730.7L375.5,730.3L376.2,729.9L377.0,729.5L377.7,729.2L378.4,728.8L379.2,728.4L379.9,728.1L380.6,727.7L380.6,728.6L380.6,729.5L381.3,729.2L382.1,728.8L382.8,728.5L383.5,728.1L384.2,727.8L384.2,728.7L384.2,729.6L384.2,730.4L384.2,731.3L385.0,730.9L385.7,730.6L386.4,730.3L387.1,729.9L387.9,729.6L388.6,729.2L389.3,728.9L390.0,728.6L390.8,728.2L391.5,727.9L392.2,727.6L392.9,727.3L393.7,727.0L393.7,727.8L394.4,727.5L395.1,727.2L395.1,728.0L395.1,728.8L395.1,729.6L395.1,730.4L395.1,731.2L395.8,730.8L395.8,731.6L395.8,732.4L396.6,732.1L397.3,731.8L398.0,731.4L398.7,731.1L398.7,731.9L398.7,732.6L399.5,732.3L400.2,732.0L400.9,731.7L401.7,731.4L402.4,731.1L403.1,730.8L403.8,730.5L404.6,730.2L405.3,729.9L406.0,729.6L406.7,729.3L407.5,729.0L407.5,729.8L408.2,729.5L408.9,729.2L408.9,729.9L408.9,730.6L408.9,731.3L408.9,732.0L409.6,731.7L410.4,731.4L411.1,731.2L411.8,730.9L412.5,730.6L412.5,731.3L413.3,731.0L414.0,730.7L414.0,731.4L414.0,732.1L414.7,731.8L415.4,731.5L416.2,731.2L416.9,731.0L417.6,730.7L418.3,730.4L419.1,730.2L419.8,729.9L419.8,730.6L419.8,731.2L419.8,731.8L419.8,732.5L419.8,733.1L419.8,733.7L419.8,734.3L419.8,735.0L419.8,735.6L419.8,736.2L420.5,735.9L421.2,735.6L422.0,735.4L422.7,735.1L423.4,734.8L424.2,734.6L424.9,734.3L425.6,734.1L426.3,733.8L427.1,733.5L427.1,734.1L427.1,734.7L427.1,735.3L427.1,735.9L427.1,736.4L427.1,737.0L427.1,737.6L427.1,738.1L427.1,738.7L427.8,738.4L428.5,738.2L429.2,737.9L430.0,737.7L430.7,737.4L431.4,737.1L432.1,736.9L432.9,736.6L433.6,736.4L434.3,736.1L435.0,735.9L435.8,735.7L436.5,735.4L437.2,735.2L437.9,734.9L437.9,735.5L437.9,736.0L437.9,736.5L437.9,737.1L437.9,737.6L437.9,738.1L437.9,738.6L438.7,738.4L439.4,738.1L440.1,737.9L440.8,737.7L440.8,738.2L440.8,738.7L440.8,739.2L440.8,739.7L440.8,740.2L441.6,740.0L442.3,739.7L443.0,739.5L443.0,740.0L443.0,740.5L443.0,741.0L443.0,741.4L443.0,741.9L443.0,742.4L443.0,742.9L443.0,743.4L443.0,743.8L443.0,744.3L443.0,744.8L443.0,745.2L443.0,745.7L443.0,746.1L443.0,746.6L443.0,747.1L443.0,747.5L443.0,747.9L443.7,747.7L444.5,747.5L445.2,747.2L445.9,747.0L446.6,746.7L447.4,746.5L448.1,746.2L448.8,746.0L449.6,745.7L450.3,745.5L451.0,745.3L451.7,745.0L452.5,744.8L453.2,744.6L453.9,744.3L454.6,744.1L455.4,743.9L456.1,743.6L456.8,743.4L457.5,743.2L458.3,743.0L459.0,742.8L459.0,743.2L459.0,743.6L459.0,744.0L459.7,743.8L460.4,743.6L461.2,743.4L461.2,743.8L461.2,744.2L461.2,744.6L461.2,745.1L461.2,745.5L461.9,745.3L461.9,745.7L461.9,746.1L461.9,746.5L461.9,746.9L462.6,746.7L463.3,746.4L464.1,746.2L464.1,746.6L464.1,747.0L464.1,747.4L464.1,747.8L464.1,748.2L464.1,748.6L464.1,749.0L464.8,748.8L464.8,749.2L464.8,749.5L464.8,749.9L464.8,750.3L464.8,750.7L464.8,751.1L464.8,751.5L464.8,751.8L464.8,752.2L464.8,752.6L464.8,752.9L464.8,753.3L464.8,753.7L464.8,754.0L464.8,754.4L465.5,754.2L466.2,753.9L467.0,753.7L467.7,753.5L468.4,753.3L468.4,753.6L468.4,754.0L468.4,754.3L468.4,754.7L468.4,755.0L468.4,755.4L468.4,755.7L468.4,756.1L468.4,756.4L469.1,756.2L469.9,756.0L470.6,755.8" fill="none" stroke="#9467bd" stroke-width="1.3" stroke-linejoin="miter"/>
<path d="M281.9,660.7L282.6,660.7L283.4,660.7L284.1,660.7L284.8,660.7L285.5,660.7L286.3,660.7L287.0,660.7L287.7,660.7L288.4,660.7L289.2,660.7L289.9,660.7L290.6,660.7L291.3,660.7L292.1,660.7L292.8,660.7L293.5,660.7L294.2,660.7L295.0,660.7L295.7,660.7L295.7,672.8L295.7,683.8L296.4,682.8L297.1,681.8L297.1,691.0L297.1,699.5L297.9,698.0L298.6,696.6L299.3,695.3L300.0,694.1L300.8,693.0L301.5,692.0L302.2,691.0L302.2,697.4L302.9,696.3L303.7,695.3L303.7,701.1L304.4,700.0L305.1,699.0L305.9,698.0L306.6,697.1L307.3,696.2L307.3,701.1L308.0,700.2L308.8,699.3L309.5,698.4L310.2,697.6L310.9,696.8L311.7,696.0L312.4,695.3L313.1,694.6L313.8,694.0L314.6,693.3L315.3,692.7L316.0,692.1L316.7,691.6L317.5,691.0L318.2,690.5L318.2,694.1L318.2,697.7L318.9,697.1L319.6,696.5L320.4,695.9L320.4,699.2L321.1,698.6L321.1,701.7L321.1,704.8L321.1,707.7L321.8,707.0L322.5,706.4L323.3,705.7L324.0,705.1L324.7,704.5L325.4,703.9L325.4,706.5L326.2,705.9L326.9,705.3L327.6,704.8L328.3,704.2L329.1,703.6L329.1,706.1L329.1,708.6L329.1,710.9L329.8,710.3L330.5,709.7L331.3,709.2L331.3,711.4L332.0,710.8L332.7,710.3L333.4,709.7L334.2,709.2L334.2,711.3L334.9,710.7L335.6,710.2L336.3,709.7L337.1,709.2L337.1,711.2L337.1,713.2L337.1,715.1L337.1,717.0L337.1,718.8L337.1,720.7L337.1,722.5L337.1,724.2L337.8,723.6L338.5,723.0L339.2,722.4L340.0,721.8L340.7,721.3L341.4,720.7L342.1,720.2L342.1,721.8L342.1,723.4L342.9,722.9L343.6,722.3L344.3,721.8L345.0,721.3L345.8,720.7L346.5,720.2L347.2,719.7L347.9,719.2L347.9,720.8L348.7,720.3L349.4,719.8L350.1,719.3L350.8,718.8L350.8,720.3L350.8,721.7L350.8,723.2L350.8,724.5L350.8,725.9L350.8,727.3L350.8,728.6L350.8,729.9L351.6,729.4L352.3,728.9L353.0,728.4L353.0,729.7L353.0,730.9L353.0,732.1L353.0,733.4L353.8,732.9L354.5,732.3L355.2,731.8L355.9,731.4L356.7,730.9L357.4,730.4L358.1,729.9L358.8,729.4L359.6,729.0L360.3,728.5L361.0,728.1L361.7,727.6L362.5,727.2L363.2,726.8L363.9,726.3L364.6,725.9L365.4,725.5L366.1,725.1L366.8,724.7L367.5,724.3L367.5,725.4L368.3,725.0L369.0,724.6L369.0,725.7L369.0,726.8L369.0,727.8L369.0,728.9L369.0,729.9L369.7,729.5L370.4,729.1L371.2,728.7L371.2,729.7L371.2,730.7L371.9,730.3L372.6,729.9L373.3,729.5L373.3,730.5L373.3,731.5L374.1,731.1L374.1,732.0L374.1,733.0L374.1,733.9L374.1,734.8L374.8,734.4L375.5,734.0L376.2,733.6L377.0,733.2L377.7,732.9L378.4,732.5L379.2,732.1L379.9,731.7L379.9,732.6L379.9,733.5L379.9,734.4L379.9,735.2L379.9,736.1L379.9,736.9L379.9,737.8L380.6,737.4L381.3,737.0L381.3,737.8L382.1,737.4L382.8,737.1L383.5,736.7L384.2,736.3L385.0,736.0L385.7,735.6L386.4,735.2L387.1,734.9L387.9,734.5L388.6,734.2L389.3,733.8L390.0,733.5L390.8,733.1L391.5,732.8L392.2,732.5L392.2,733.3L392.2,734.0L392.2,734.8L392.9,734.5L393.7,734.1L394.4,733.8L395.1,733.5L395.8,733.2L396.6,732.8L396.6,733.6L396.6,734.3L396.6,735.1L396.6,735.8L396.6,736.5L396.6,737.2L396.6,738.0L396.6,738.7L396.6,739.4L397.3,739.0L398.0,738.7L398.7,738.4L399.5,738.0L400.2,737.7L400.9,737.4L401.7,737.1L402.4,736.8L403.1,736.5L403.8,736.1L404.6,735.8L405.3,735.5L406.0,735.2L406.7,734.9L406.7,735.6L406.7,736.3L407.5,736.0L408.2,735.7L408.9,735.4L408.9,736.0L408.9,736.7L408.9,737.3L408.9,738.0L408.9,738.6L408.9,739.3L409.6,739.0L410.4,738.7L411.1,738.4L411.8,738.1L412.5,737.8L413.3,737.5L413.3,738.1L413.3,738.7L413.3,739.3L413.3,739.9L413.3,740.5L413.3,741.1L413.3,741.7L413.3,742.3L413.3,742.9L413.3,743.5L413.3,744.1L413.3,744.6L414.0,744.3L414.7,744.0L415.4,743.7L416.2,743.4L416.9,743.2L417.6,742.9L418.3,742.6L419.1,742.3L419.1,742.8L419.1,743.4L419.1,744.0L419.1,744.5L419.8,744.2L420.5,743.9L421.2,743.6L422.0,743.4L422.7,743.1L423.4,742.8L424.2,742.5L424.2,743.1L424.2,743.6L424.9,743.3L425.6,743.1L426.3,742.8L427.1,742.5L427.8,742.2L428.5,742.0L429.2,741.7L430.0,741.4L430.7,741.2L431.4,740.9L432.1,740.7L432.9,740.4L433.6,740.1L434.3,739.9L435.0,739.6L435.0,740.2L435.0,740.7L435.0,741.2L435.0,741.7L435.0,742.2L435.0,742.7L435.0,743.2L435.0,743.7L435.8,743.4L435.8,743.9L435.8,744.4L435.8,744.9L436.5,744.7L436.5,745.1L436.5,745.6L437.2,745.4L437.9,745.1L438.7,744.9L439.4,744.6L440.1,744.3L440.8,744.1L441.6,743.8L441.6,744.3L442.3,744.1L443.0,743.8L443.7,743.6L443.7,744.0L443.7,744.5L443.7,745.0L443.7,745.4L443.7,745.9L443.7,746.4L443.7,746.8L443.7,747.3L443.7,747.7L443.7,748.1L443.7,748.6L443.7,749.0L443.7,749.5L443.7,749.9L444.5,749.6L445.2,749.4L445.9,749.1L446.6,748.9L447.4,748.7L448.1,748.4L448.1,748.8L448.1,749.3L448.1,749.7L448.1,750.1L448.1,750.5L448.1,750.9L448.1,751.4L448.1,751.8L448.1,752.2L448.1,752.6L448.8,752.3L449.6,752.1L450.3,751.9L451.0,751.6L451.0,752.0L451.0,752.4L451.0,752.8L451.0,753.2L451.0,753.6L451.0,754.0L451.0,754.4L451.0,754.8L451.0,755.2L451.0,755.6L451.7,755.3L452.5,755.1L453.2,754.8L453.9,754.6L454.6,754.3L455.4,754.1L456.1,753.9L456.8,753.6L457.5,753.4L457.5,753.8L457.5,754.1L457.5,754.5L457.5,754.9L457.5,755.3L457.5,755.6L458.3,755.4L459.0,755.2L459.0,755.5L459.0,755.9L459.0,756.3L459.7,756.0L460.4,755.8L461.2,755.6L461.9,755.3L462.6,755.1L463.3,754.9L464.1,754.6L464.1,755.0L464.1,755.3L464.1,755.7L464.1,756.1L464.1,756.4L464.1,756.8L464.1,757.1L464.1,757.5L464.1,757.8L464.1,758.2L464.1,758.5L464.1,758.8L464.1,759.2L464.1,759.5L464.8,759.3L465.5,759.1L466.2,758.8L467.0,758.6L467.0,758.9L467.0,759.3L467.0,759.6L467.0,759.9L467.0,760.3L467.0,760.6L467.0,760.9L467.0,761.2L467.0,761.6L467.0,761.9L467.0,762.2L467.0,762.5L467.0,762.8L467.0,763.2L467.0,763.5L467.0,763.8L467.0,764.1L467.0,764.4L467.0,764.7L467.0,765.0L467.0,765.3L467.0,765.6L467.0,766.0L467.0,766.3L467.0,766.6L467.0,766.9L467.0,767.2L467.7,766.9L468.4,766.7L469.1,766.5L469.9,766.2L470.6,766.0" fill="none" stroke="#8c564b" stroke-width="1.3" stroke-linejoin="miter"/>
<path d="M281.9,660.7L282.6,660.7L283.4,660.7L284.1,660.7L284.8,660.7L285.5,660.7L286.3,660.7L287.0,660.7L287.7,660.7L288.4,660.7L289.2,660.7L289.9,660.7L290.6,660.7L291.3,660.7L292.1,660.7L292.8,660.7L293.5,660.7L294.2,660.7L295.0,660.7L295.7,660.7L296.4,660.7L297.1,660.7L297.9,660.7L298.6,660.7L299.3,660.7L300.0,660.7L300.8,660.7L301.5,660.7L302.2,660.7L302.9,660.7L303.7,660.7L304.4,660.7L304.4,668.3L304.4,675.4L304.4,682.1L305.1,681.5L305.9,680.9L306.6,680.4L306.6,686.2L307.3,685.6L308.0,685.0L308.8,684.4L308.8,689.6L309.5,688.9L310.2,688.3L310.2,693.0L310.9,692.3L311.7,691.6L312.4,691.0L312.4,695.3L312.4,699.5L312.4,703.5L313.1,702.6L313.8,701.9L314.6,701.1L315.3,700.4L316.0,699.6L316.7,699.0L317.5,698.3L318.2,697.7L318.2,701.1L318.9,700.4L319.6,699.8L320.4,699.2L320.4,702.4L321.1,701.7L321.1,704.8L321.8,704.1L322.5,703.5L323.3,702.8L324.0,702.2L324.0,705.1L324.0,707.8L324.7,707.2L324.7,709.8L325.4,709.2L326.2,708.5L326.9,707.9L326.9,710.4L326.9,712.8L327.6,712.2L328.3,711.6L329.1,710.9L329.8,710.3L330.5,709.7L331.3,709.2L331.3,711.4L332.0,710.8L332.0,713.0L332.7,712.4L333.4,711.8L333.4,713.9L333.4,716.0L334.2,715.4L334.9,714.8L334.9,716.8L334.9,718.7L335.6,718.1L336.3,717.6L336.3,719.4L336.3,721.3L337.1,720.7L337.8,720.1L338.5,719.5L339.2,718.9L340.0,718.4L340.7,717.8L341.4,717.3L342.1,716.8L342.1,718.5L342.1,720.2L342.1,721.8L342.1,723.4L342.9,722.9L343.6,722.3L344.3,721.8L344.3,723.4L345.0,722.8L345.8,722.3L346.5,721.8L347.2,721.3L347.9,720.8L348.7,720.3L349.4,719.8L350.1,719.3L350.8,718.8L350.8,720.3L350.8,721.7L350.8,723.2L350.8,724.5L350.8,725.9L350.8,727.3L351.6,726.8L352.3,726.3L353.0,725.8L353.8,725.3L354.5,724.8L355.2,724.4L355.9,723.9L356.7,723.4L357.4,723.0L358.1,722.6L358.8,722.1L359.6,721.7L360.3,721.3L361.0,720.8L361.7,720.4L361.7,721.7L361.7,722.9L361.7,724.1L361.7,725.3L362.5,724.9L362.5,726.0L362.5,727.2L362.5,728.3L363.2,727.9L363.9,727.5L364.6,727.0L365.4,726.6L366.1,726.2L366.8,725.8L367.5,725.4L367.5,726.5L367.5,727.6L367.5,728.6L367.5,729.7L367.5,730.7L367.5,731.8L367.5,732.8L367.5,733.8L367.5,734.8L367.5,735.8L367.5,736.7L368.3,736.3L369.0,735.9L369.7,735.4L370.4,735.0L371.2,734.6L371.9,734.2L372.6,733.8L373.3,733.4L374.1,733.0L374.8,732.6L375.5,732.2L376.2,731.8L377.0,731.4L377.7,731.0L378.4,730.7L379.2,730.3L379.2,731.2L379.9,730.8L380.6,730.5L381.3,730.1L382.1,729.7L382.8,729.4L383.5,729.0L384.2,728.7L385.0,728.3L385.7,728.0L386.4,727.7L387.1,727.3L387.9,727.0L387.9,727.9L387.9,728.7L388.6,728.4L389.3,728.1L390.0,727.7L390.8,727.4L390.8,728.2L390.8,729.1L390.8,729.9L390.8,730.7L390.8,731.5L390.8,732.3L391.5,732.0L392.2,731.7L392.9,731.4L393.7,731.0L394.4,730.7L395.1,730.4L395.8,730.1L396.6,729.8L396.6,730.5L396.6,731.3L396.6,732.1L396.6,732.8L396.6,733.6L396.6,734.3L396.6,735.1L396.6,735.8L397.3,735.5L398.0,735.2L398.7,734.8L399.5,734.5L399.5,735.2L399.5,735.9L400.2,735.6L400.9,735.3L401.7,735.0L402.4,734.7L403.1,734.4L403.8,734.1L404.6,733.8L404.6,734.5L404.6,735.2L404.6,735.8L404.6,736.5L404.6,737.2L405.3,736.9L406.0,736.6L406.7,736.3L407.5,736.0L408.2,735.7L408.9,735.4L408.9,736.0L408.9,736.7L408.9,737.3L409.6,737.0L410.4,736.7L411.1,736.5L411.8,736.2L412.5,735.9L413.3,735.6L414.0,735.3L414.7,735.0L415.4,734.7L416.2,734.5L416.9,734.2L417.6,733.9L418.3,733.6L419.1,733.4L419.1,734.0L419.8,733.7L419.8,734.3L419.8,735.0L419.8,735.6L419.8,736.2L419.8,736.8L419.8,737.4L419.8,738.0L419.8,738.6L419.8,739.1L419.8,739.7L419.8,740.3L419.8,740.9L419.8,741.4L420.5,741.2L421.2,740.9L422.0,740.6L422.7,740.3L423.4,740.0L424.2,739.8L424.9,739.5L425.6,739.2L426.3,739.0L427.1,738.7L427.8,738.4L428.5,738.2L429.2,737.9L430.0,737.7L430.7,737.4L431.4,737.1L431.4,737.7L431.4,738.2L431.4,738.8L431.4,739.3L431.4,739.9L431.4,740.4L432.1,740.1L432.9,739.9L432.9,740.4L432.9,740.9L432.9,741.4L432.9,742.0L433.6,741.7L434.3,741.4L435.0,741.2L435.8,740.9L436.5,740.7L437.2,740.4L437.9,740.2L438.7,739.9L439.4,739.7L440.1,739.4L440.8,739.2L441.6,739.0L442.3,738.7L442.3,739.2L442.3,739.7L442.3,740.2L442.3,740.7L442.3,741.2L442.3,741.7L442.3,742.2L442.3,742.6L442.3,743.1L442.3,743.6L442.3,744.1L442.3,744.5L442.3,745.0L442.3,745.5L442.3,745.9L442.3,746.4L443.0,746.1L443.7,745.9L444.5,745.6L445.2,745.4L445.9,745.2L445.9,745.6L445.9,746.1L445.9,746.5L445.9,747.0L445.9,747.4L445.9,747.8L445.9,748.3L445.9,748.7L445.9,749.1L446.6,748.9L447.4,748.7L448.1,748.4L448.8,748.2L449.6,747.9L450.3,747.7L451.0,747.4L451.7,747.2L452.5,747.0L453.2,746.7L453.9,746.5L454.6,746.3L455.4,746.0L456.1,745.8L456.8,745.6L457.5,745.3L458.3,745.1L458.3,745.5L458.3,746.0L458.3,746.4L458.3,746.8L458.3,747.2L458.3,747.6L458.3,748.0L458.3,748.4L458.3,748.8L459.0,748.6L459.7,748.4L460.4,748.1L461.2,747.9L461.9,747.7L462.6,747.5L463.3,747.2L464.1,747.0L464.8,746.8L465.5,746.6L465.5,747.0L465.5,747.4L465.5,747.8L465.5,748.2L465.5,748.6L465.5,748.9L465.5,749.3L465.5,749.7L465.5,750.1L465.5,750.5L465.5,750.8L465.5,751.2L465.5,751.6L465.5,752.0L465.5,752.3L465.5,752.7L465.5,753.1L465.5,753.4L466.2,753.2L467.0,753.0L467.7,752.8L467.7,753.1L467.7,753.5L468.4,753.3L469.1,753.0L469.9,752.8L469.9,753.2L469.9,753.5L469.9,753.9L469.9,754.3L469.9,754.6L469.9,755.0L469.9,755.3L469.9,755.6L469.9,756.0L469.9,756.3L469.9,756.7L469.9,757.0L469.9,757.4L469.9,757.7L469.9,758.0L469.9,758.4L469.9,758.7L469.9,759.0L469.9,759.4L469.9,759.7L469.9,760.0L469.9,760.3L469.9,760.7L469.9,761.0L469.9,761.3L469.9,761.6L469.9,761.9L469.9,762.2L469.9,762.6L469.9,762.9L469.9,763.2L469.9,763.5L469.9,763.8L469.9,764.1L469.9,764.4L469.9,764.7L469.9,765.0L469.9,765.3L469.9,765.6L469.9,765.9L469.9,766.2L469.9,766.5L470.6,766.3" fill="none" stroke="#e377c2" stroke-width="1.3" stroke-linejoin="miter"/>
<path d="M281.9,660.7L282.6,660.7L283.4,660.7L284.1,660.7L284.8,660.7L285.5,660.7L286.3,660.7L287.0,660.7L287.7,660.7L288.4,660.7L289.2,660.7L289.9,660.7L290.6,660.7L291.3,660.7L292.1,660.7L292.8,660.7L293.5,660.7L294.2,660.7L295.0,660.7L295.7,660.7L295.7,672.8L295.7,683.8L296.4,682.8L296.4,692.3L297.1,691.0L297.9,689.8L297.9,698.0L298.6,696.6L299.3,695.3L300.0,694.1L300.8,693.0L301.5,692.0L302.2,691.0L302.9,690.1L302.9,696.3L303.7,695.3L304.4,694.4L305.1,693.5L305.9,692.6L305.9,698.0L306.6,697.1L307.3,696.2L308.0,695.3L308.8,694.5L308.8,699.3L309.5,698.4L310.2,697.6L310.9,696.8L310.9,701.1L310.9,705.2L311.7,704.3L312.4,703.5L313.1,702.6L313.8,701.9L314.6,701.1L315.3,700.4L316.0,699.6L316.0,703.2L316.0,706.7L316.0,710.0L316.7,709.2L317.5,708.4L318.2,707.6L318.9,706.9L319.6,706.1L320.4,705.4L321.1,704.8L321.1,707.7L321.1,710.6L321.8,709.9L322.5,709.2L323.3,708.5L324.0,707.8L324.7,707.2L325.4,706.5L325.4,709.2L325.4,711.7L325.4,714.2L325.4,716.6L326.2,715.9L326.9,715.2L327.6,714.5L328.3,713.9L329.1,713.2L329.8,712.6L330.5,712.0L330.5,714.2L331.3,713.6L332.0,713.0L332.0,715.1L332.7,714.5L333.4,713.9L334.2,713.4L334.9,712.8L335.6,712.3L336.3,711.7L337.1,711.2L337.8,710.7L337.8,712.6L337.8,714.5L337.8,716.4L338.5,715.9L339.2,715.3L340.0,714.8L340.0,716.6L340.0,718.4L340.7,717.8L341.4,717.3L342.1,716.8L342.9,716.3L343.6,715.8L343.6,717.4L344.3,716.9L345.0,716.4L345.8,716.0L345.8,717.6L345.8,719.2L345.8,720.7L345.8,722.3L346.5,721.8L347.2,721.3L347.9,720.8L348.7,720.3L349.4,719.8L349.4,721.3L349.4,722.7L350.1,722.2L350.8,721.7L351.6,721.3L351.6,722.7L351.6,724.1L351.6,725.4L352.3,724.9L353.0,724.4L353.8,724.0L354.5,723.5L355.2,723.0L355.9,722.6L356.7,722.1L357.4,721.7L358.1,721.3L358.8,720.8L359.6,720.4L360.3,720.0L361.0,719.6L361.7,719.2L362.5,718.8L362.5,720.0L362.5,721.3L363.2,720.9L363.2,722.1L363.2,723.3L363.2,724.4L363.9,724.0L364.6,723.6L365.4,723.2L366.1,722.8L366.8,722.4L366.8,723.6L367.5,723.2L367.5,724.3L367.5,725.4L367.5,726.5L367.5,727.6L367.5,728.6L367.5,729.7L367.5,730.7L367.5,731.8L367.5,732.8L367.5,733.8L367.5,734.8L367.5,735.8L367.5,736.7L368.3,736.3L369.0,735.9L369.7,735.4L370.4,735.0L371.2,734.6L371.9,734.2L372.6,733.8L373.3,733.4L374.1,733.0L374.8,732.6L375.5,732.2L376.2,731.8L377.0,731.4L377.7,731.0L378.4,730.7L379.2,730.3L379.2,731.2L379.2,732.1L379.2,733.0L379.2,733.9L379.2,734.7L379.9,734.4L380.6,734.0L381.3,733.6L381.3,734.5L382.1,734.1L382.8,733.7L383.5,733.4L384.2,733.0L385.0,732.6L385.0,733.5L385.7,733.1L386.4,732.8L387.1,732.4L387.9,732.1L387.9,732.9L387.9,733.7L388.6,733.4L388.6,734.2L388.6,735.0L388.6,735.8L389.3,735.4L390.0,735.1L390.0,735.8L390.0,736.6L390.0,737.4L390.0,738.1L390.0,738.9L390.0,739.6L390.0,740.3L390.0,741.1L390.0,741.8L390.8,741.4L391.5,741.1L392.2,740.7L392.2,741.4L392.2,742.1L392.9,741.8L393.7,741.4L394.4,741.1L395.1,740.7L395.8,740.4L396.6,740.1L397.3,739.7L398.0,739.4L398.0,740.1L398.0,740.8L398.0,741.4L398.0,742.1L398.0,742.8L398.0,743.4L398.0,744.1L398.0,744.7L398.7,744.4L399.5,744.1L400.2,743.7L400.9,743.4L401.7,743.1L402.4,742.7L403.1,742.4L403.8,742.1L404.6,741.8L405.3,741.4L406.0,741.1L406.7,740.8L407.5,740.5L407.5,741.1L407.5,741.7L407.5,742.4L407.5,743.0L407.5,743.6L407.5,744.2L407.5,744.8L407.5,745.4L407.5,746.0L407.5,746.6L407.5,747.1L407.5,747.7L408.2,747.4L408.9,747.1L409.6,746.8L410.4,746.4L411.1,746.1L411.8,745.8L412.5,745.5L413.3,745.2L413.3,745.8L413.3,746.3L413.3,746.9L413.3,747.4L413.3,748.0L413.3,748.5L414.0,748.2L414.7,747.9L415.4,747.6L416.2,747.3L416.9,747.0L417.6,746.7L418.3,746.4L419.1,746.1L419.8,745.8L420.5,745.6L421.2,745.3L421.2,745.8L421.2,746.3L421.2,746.9L421.2,747.4L421.2,747.9L421.2,748.4L421.2,748.9L421.2,749.4L421.2,749.9L421.2,750.4L421.2,750.9L421.2,751.4L421.2,751.9L421.2,752.4L421.2,752.9L421.2,753.4L421.2,753.9L421.2,754.3L421.2,754.8L422.0,754.5L422.7,754.2L423.4,753.9L424.2,753.6L424.9,753.3L425.6,753.0L426.3,752.8L427.1,752.5L427.8,752.2L428.5,751.9L429.2,751.6L430.0,751.3L430.7,751.1L431.4,750.8L432.1,750.5L432.9,750.2L433.6,750.0L434.3,749.7L435.0,749.4L435.8,749.2L436.5,748.9L437.2,748.6L437.9,748.4L438.7,748.1L438.7,748.6L438.7,749.0L438.7,749.5L439.4,749.2L440.1,749.0L440.8,748.7L441.6,748.5L442.3,748.2L443.0,747.9L443.0,748.4L443.0,748.8L443.0,749.3L443.0,749.7L443.7,749.5L444.5,749.2L445.2,749.0L445.9,748.7L446.6,748.5L447.4,748.2L447.4,748.7L447.4,749.1L447.4,749.5L447.4,749.9L447.4,750.4L447.4,750.8L447.4,751.2L447.4,751.6L447.4,752.0L447.4,752.4L447.4,752.8L448.1,752.6L448.1,753.0L448.1,753.4L448.1,753.8L448.1,754.2L448.1,754.6L448.1,755.0L448.1,755.4L448.1,755.8L448.1,756.2L448.1,756.6L448.1,756.9L448.1,757.3L448.1,757.7L448.1,758.1L448.8,757.8L449.6,757.6L450.3,757.3L451.0,757.1L451.7,756.8L452.5,756.6L453.2,756.3L453.9,756.1L453.9,756.5L453.9,756.8L454.6,756.6L455.4,756.4L456.1,756.1L456.8,755.9L457.5,755.6L457.5,756.0L457.5,756.4L457.5,756.7L457.5,757.1L457.5,757.5L457.5,757.8L457.5,758.2L457.5,758.5L457.5,758.9L457.5,759.2L457.5,759.6L457.5,759.9L457.5,760.3L457.5,760.6L457.5,761.0L457.5,761.3L457.5,761.7L457.5,762.0L457.5,762.3L457.5,762.7L457.5,763.0L457.5,763.3L457.5,763.7L458.3,763.4L459.0,763.2L459.7,762.9L460.4,762.7L461.2,762.5L461.9,762.2L462.6,762.0L463.3,761.8L464.1,761.5L464.8,761.3L464.8,761.6L464.8,761.9L464.8,762.3L464.8,762.6L464.8,762.9L464.8,763.2L464.8,763.5L464.8,763.9L464.8,764.2L464.8,764.5L464.8,764.8L464.8,765.1L464.8,765.4L464.8,765.7L464.8,766.0L464.8,766.4L464.8,766.7L464.8,767.0L465.5,766.7L466.2,766.5L467.0,766.3L467.7,766.0L468.4,765.8L469.1,765.6L469.1,765.9L469.1,766.2L469.1,766.5L469.9,766.2L470.6,766.0" fill="none" stroke="#7f7f7f" stroke-width="1.3" stroke-linejoin="miter"/>
<path d="M281.9,660.7L282.6,660.7L283.4,660.7L284.1,660.7L284.8,660.7L285.5,660.7L286.3,660.7L287.0,660.7L287.7,660.7L288.4,660.7L289.2,660.7L289.9,660.7L290.6,660.7L290.6,679.4L291.3,678.0L291.3,693.0L292.1,691.0L292.1,703.5L292.8,701.1L293.5,699.0L294.2,697.1L295.0,695.3L295.7,693.8L296.4,692.3L297.1,691.0L297.9,689.8L298.6,688.7L299.3,687.6L300.0,686.7L300.8,685.8L301.5,685.0L301.5,692.0L302.2,691.0L302.9,690.1L302.9,696.3L303.7,695.3L304.4,694.4L305.1,693.5L305.9,692.6L306.6,691.8L306.6,697.1L307.3,696.2L308.0,695.3L308.8,694.5L308.8,699.3L309.5,698.4L310.2,697.6L310.2,701.9L310.9,701.1L311.7,700.3L312.4,699.5L313.1,698.7L313.1,702.6L313.1,706.4L313.8,705.6L314.6,704.8L315.3,704.0L316.0,703.2L316.7,702.5L317.5,701.8L318.2,701.1L318.9,700.4L318.9,703.7L319.6,703.0L319.6,706.1L319.6,709.2L319.6,712.1L319.6,714.9L319.6,717.7L320.4,716.9L321.1,716.1L321.8,715.3L322.5,714.5L323.3,713.8L324.0,713.1L324.7,712.4L325.4,711.7L325.4,714.2L326.2,713.5L326.9,712.8L327.6,712.2L328.3,711.6L329.1,710.9L329.1,713.2L329.1,715.5L329.8,714.9L329.8,717.0L329.8,719.2L330.5,718.5L331.3,717.9L332.0,717.2L332.0,719.3L332.0,721.3L332.0,723.2L332.7,722.6L333.4,721.9L334.2,721.3L334.9,720.6L335.6,720.0L336.3,719.4L337.1,718.8L337.8,718.3L337.8,720.1L338.5,719.5L338.5,721.3L338.5,723.0L338.5,724.7L338.5,726.4L339.2,725.7L340.0,725.2L340.7,724.6L341.4,724.0L341.4,725.6L341.4,727.2L342.1,726.6L342.9,726.0L343.6,725.4L343.6,727.0L343.6,728.4L343.6,729.9L343.6,731.4L343.6,732.8L344.3,732.2L345.0,731.6L345.0,733.0L345.0,734.3L345.0,735.7L345.0,737.0L345.8,736.4L346.5,735.8L347.2,735.2L347.9,734.7L348.7,734.1L349.4,733.6L350.1,733.0L350.8,732.5L351.6,731.9L352.3,731.4L352.3,732.7L352.3,733.9L352.3,735.1L353.0,734.6L353.8,734.1L354.5,733.5L355.2,733.0L355.9,732.5L356.7,732.0L357.4,731.6L358.1,731.1L358.8,730.6L359.6,730.1L359.6,731.3L359.6,732.4L359.6,733.5L359.6,734.6L359.6,735.7L359.6,736.8L359.6,737.8L359.6,738.9L360.3,738.4L361.0,737.9L361.7,737.4L362.5,737.0L363.2,736.5L363.9,736.0L364.6,735.6L365.4,735.1L366.1,734.7L366.8,734.2L366.8,735.2L366.8,736.2L367.5,735.8L368.3,735.3L369.0,734.9L369.0,735.9L369.0,736.8L369.7,736.4L370.4,736.0L371.2,735.5L371.9,735.1L371.9,736.1L371.9,737.0L371.9,737.9L371.9,738.8L371.9,739.7L371.9,740.6L371.9,741.4L371.9,742.3L372.6,741.9L373.3,741.4L374.1,741.0L374.8,740.6L375.5,740.2L376.2,739.8L377.0,739.4L377.0,740.2L377.0,741.0L377.7,740.6L378.4,740.2L378.4,741.0L378.4,741.8L378.4,742.6L379.2,742.2L379.9,741.8L380.6,741.4L381.3,741.0L382.1,740.7L382.8,740.3L383.5,739.9L384.2,739.5L385.0,739.1L385.7,738.8L386.4,738.4L387.1,738.0L387.1,738.8L387.1,739.6L387.1,740.3L387.9,740.0L388.6,739.6L389.3,739.2L390.0,738.9L390.8,738.5L391.5,738.2L392.2,737.8L392.9,737.5L392.9,738.2L392.9,738.9L392.9,739.7L392.9,740.4L392.9,741.1L392.9,741.8L392.9,742.5L392.9,743.2L392.9,743.9L392.9,744.5L392.9,745.2L392.9,745.9L392.9,746.5L392.9,747.2L392.9,747.9L392.9,748.5L393.7,748.1L394.4,747.8L395.1,747.4L395.8,747.1L396.6,746.7L397.3,746.4L398.0,746.0L398.7,745.7L399.5,745.3L400.2,745.0L400.9,744.7L401.7,744.3L402.4,744.0L403.1,743.7L403.8,743.3L404.6,743.0L404.6,743.6L404.6,744.3L404.6,744.9L404.6,745.5L404.6,746.1L404.6,746.7L405.3,746.3L406.0,746.0L406.7,745.7L407.5,745.4L408.2,745.1L408.9,744.8L408.9,745.3L408.9,745.9L408.9,746.5L408.9,747.1L408.9,747.6L408.9,748.2L409.6,747.9L410.4,747.6L411.1,747.3L411.8,747.0L412.5,746.6L413.3,746.3L414.0,746.0L414.7,745.7L414.7,746.3L414.7,746.8L414.7,747.4L414.7,747.9L414.7,748.5L414.7,749.0L415.4,748.7L416.2,748.4L416.9,748.1L417.6,747.8L418.3,747.5L419.1,747.2L419.1,747.7L419.1,748.3L419.1,748.8L419.1,749.3L419.1,749.8L419.1,750.3L419.1,750.8L419.1,751.3L419.1,751.8L419.1,752.3L419.1,752.8L419.1,753.3L419.1,753.8L419.1,754.3L419.1,754.8L419.1,755.2L419.1,755.7L419.1,756.2L419.1,756.6L419.1,757.1L419.1,757.6L419.1,758.0L419.1,758.5L419.8,758.2L420.5,757.9L421.2,757.6L422.0,757.3L422.7,757.0L423.4,756.7L424.2,756.4L424.9,756.1L425.6,755.8L426.3,755.5L427.1,755.2L427.8,754.9L428.5,754.6L429.2,754.4L430.0,754.1L430.7,753.8L431.4,753.5L432.1,753.2L432.9,753.0L432.9,753.4L432.9,753.9L432.9,754.3L433.6,754.0L434.3,753.7L435.0,753.5L435.0,753.9L435.0,754.3L435.0,754.8L435.0,755.2L435.0,755.6L435.0,756.0L435.0,756.5L435.0,756.9L435.0,757.3L435.0,757.7L435.0,758.1L435.0,758.5L435.0,758.9L435.8,758.7L436.5,758.4L437.2,758.1L437.9,757.8L438.7,757.6L439.4,757.3L440.1,757.0L440.8,756.8L441.6,756.5L442.3,756.3L442.3,756.7L442.3,757.0L442.3,757.4L442.3,757.8L442.3,758.2L442.3,758.6L442.3,759.0L442.3,759.4L443.0,759.1L443.7,758.9L444.5,758.6L445.2,758.3L445.9,758.1L446.6,757.8L447.4,757.6L448.1,757.3L448.8,757.1L449.6,756.8L450.3,756.6L451.0,756.3L451.0,756.7L451.0,757.1L451.0,757.5L451.0,757.8L451.0,758.2L451.0,758.6L451.7,758.3L452.5,758.1L453.2,757.8L453.9,757.6L454.6,757.3L455.4,757.1L456.1,756.8L456.1,757.2L456.1,757.6L456.1,757.9L456.1,758.3L456.1,758.7L456.1,759.0L456.1,759.4L456.1,759.7L456.1,760.1L456.1,760.4L456.1,760.8L456.1,761.1L456.1,761.5L456.1,761.8L456.8,761.6L456.8,761.9L456.8,762.2L456.8,762.6L457.5,762.3L458.3,762.1L458.3,762.4L458.3,762.8L458.3,763.1L459.0,762.9L459.7,762.6L459.7,762.9L459.7,763.3L460.4,763.0L461.2,762.8L461.9,762.6L462.6,762.3L463.3,762.1L463.3,762.4L463.3,762.7L463.3,763.1L464.1,762.8L464.8,762.6L465.5,762.4L465.5,762.7L466.2,762.4L467.0,762.2L467.7,762.0L467.7,762.3L467.7,762.6L467.7,762.9L467.7,763.2L467.7,763.6L467.7,763.9L467.7,764.2L467.7,764.5L467.7,764.8L467.7,765.1L467.7,765.4L467.7,765.7L467.7,766.0L467.7,766.3L467.7,766.6L467.7,766.9L467.7,767.2L467.7,767.5L467.7,767.8L467.7,768.1L467.7,768.4L468.4,768.2L469.1,767.9L469.9,767.7L469.9,768.0L469.9,768.3L469.9,768.6L469.9,768.9L469.9,769.1L469.9,769.4L469.9,769.7L469.9,770.0L469.9,770.3L469.9,770.6L469.9,770.8L469.9,771.1L469.9,771.4L470.6,771.2" fill="none" stroke="#bcbd22" stroke-width="1.3" stroke-linejoin="miter"/>
<path d="M281.9,660.7L281.9,902.8L282.6,822.1L283.4,781.8L284.1,757.6L284.8,741.4L285.5,729.9L286.3,721.3L287.0,714.5L287.7,709.2L288.4,704.8L289.2,701.1L289.9,698.0L290.6,695.3L291.3,693.0L292.1,691.0L292.8,689.2L293.5,687.6L294.2,686.2L295.0,685.0L295.7,683.8L296.4,682.8L297.1,681.8L297.9,680.9L298.6,680.1L299.3,679.4L300.0,678.7L300.8,678.0L301.5,677.4L301.5,685.0L301.5,692.0L301.5,698.6L302.2,697.4L302.2,703.5L302.9,702.2L303.7,701.1L303.7,706.5L304.4,705.3L305.1,704.2L305.9,703.1L306.6,702.1L306.6,706.9L306.6,711.4L307.3,710.3L308.0,709.2L308.8,708.1L309.5,707.1L310.2,706.1L310.9,705.2L310.9,709.2L310.9,713.0L311.7,712.0L312.4,711.0L313.1,710.1L313.8,709.2L313.8,712.6L314.6,711.7L315.3,710.8L316.0,710.0L316.7,709.2L317.5,708.4L318.2,707.6L318.9,706.9L319.6,706.1L320.4,705.4L321.1,704.8L321.8,704.1L322.5,703.5L322.5,706.4L323.3,705.7L324.0,705.1L324.7,704.5L324.7,707.2L324.7,709.8L325.4,709.2L326.2,708.5L326.9,707.9L327.6,707.3L328.3,706.7L329.1,706.1L329.1,708.6L329.1,710.9L329.1,713.2L329.1,715.5L329.1,717.7L329.8,717.0L330.5,716.4L331.3,715.8L331.3,717.9L331.3,719.9L332.0,719.3L332.7,718.6L333.4,718.0L334.2,717.4L334.9,716.8L335.6,716.2L336.3,715.6L337.1,715.1L337.1,717.0L337.1,718.8L337.8,718.3L338.5,717.7L339.2,717.2L340.0,716.6L340.7,716.1L341.4,715.6L342.1,715.0L342.9,714.5L343.6,714.0L343.6,715.8L343.6,717.4L343.6,719.1L343.6,720.7L343.6,722.3L344.3,721.8L344.3,723.4L344.3,724.9L345.0,724.3L345.8,723.8L346.5,723.3L347.2,722.8L347.9,722.3L348.7,721.8L349.4,721.3L350.1,720.8L350.8,720.3L351.6,719.8L352.3,719.4L352.3,720.8L353.0,720.3L353.0,721.7L353.0,723.1L353.0,724.4L353.0,725.8L353.0,727.1L353.8,726.6L354.5,726.1L355.2,725.7L355.9,725.2L356.7,724.7L357.4,724.3L358.1,723.8L358.1,725.1L358.1,726.3L358.1,727.5L358.1,728.7L358.1,729.9L358.8,729.4L359.6,729.0L360.3,728.5L361.0,728.1L361.7,727.6L362.5,727.2L363.2,726.8L363.9,726.3L364.6,725.9L365.4,725.5L366.1,725.1L366.8,724.7L366.8,725.8L366.8,726.9L366.8,728.0L367.5,727.6L368.3,727.2L369.0,726.8L369.7,726.4L370.4,726.0L370.4,727.0L370.4,728.1L371.2,727.7L371.9,727.3L372.6,726.9L372.6,727.9L372.6,728.9L372.6,729.9L372.6,730.9L373.3,730.5L374.1,730.1L374.8,729.7L375.5,729.3L376.2,729.0L377.0,728.6L377.7,728.2L377.7,729.2L377.7,730.1L377.7,731.0L378.4,730.7L379.2,730.3L379.9,729.9L380.6,729.5L381.3,729.2L382.1,728.8L382.8,728.5L383.5,728.1L384.2,727.8L385.0,727.4L385.7,727.1L386.4,726.8L387.1,726.4L387.1,727.3L387.9,727.0L388.6,726.7L388.6,727.5L388.6,728.4L389.3,728.1L389.3,728.9L390.0,728.6L390.8,728.2L391.5,727.9L391.5,728.8L391.5,729.6L391.5,730.4L392.2,730.1L392.2,730.9L392.9,730.6L393.7,730.2L394.4,729.9L395.1,729.6L395.8,729.3L396.6,729.0L397.3,728.7L397.3,729.4L397.3,730.2L397.3,731.0L397.3,731.8L397.3,732.5L397.3,733.3L397.3,734.0L397.3,734.7L397.3,735.5L397.3,736.2L398.0,735.9L398.7,735.6L399.5,735.2L400.2,734.9L400.9,734.6L401.7,734.3L402.4,734.0L403.1,733.7L403.8,733.4L404.6,733.1L405.3,732.8L406.0,732.5L406.7,732.2L407.5,731.9L408.2,731.6L408.9,731.3L408.9,732.0L408.9,732.7L408.9,733.4L408.9,734.0L408.9,734.7L408.9,735.4L408.9,736.0L409.6,735.7L410.4,735.4L411.1,735.2L411.8,734.9L412.5,734.6L413.3,734.3L414.0,734.0L414.7,733.7L414.7,734.4L414.7,735.0L414.7,735.7L414.7,736.3L415.4,736.0L416.2,735.7L416.9,735.4L417.6,735.2L418.3,734.9L419.1,734.6L419.8,734.3L420.5,734.1L420.5,734.7L420.5,735.3L420.5,735.9L420.5,736.5L420.5,737.1L420.5,737.7L420.5,738.3L420.5,738.9L421.2,738.6L422.0,738.3L422.7,738.0L423.4,737.8L424.2,737.5L424.9,737.2L425.6,737.0L426.3,736.7L427.1,736.4L427.8,736.2L427.8,736.8L427.8,737.3L427.8,737.9L428.5,737.6L429.2,737.4L430.0,737.1L430.0,737.7L430.0,738.2L430.0,738.8L430.0,739.3L430.0,739.8L430.0,740.4L430.0,740.9L430.0,741.4L430.0,742.0L430.0,742.5L430.7,742.2L431.4,742.0L432.1,741.7L432.9,741.4L433.6,741.2L434.3,740.9L435.0,740.7L435.8,740.4L436.5,740.2L436.5,740.7L436.5,741.2L436.5,741.7L436.5,742.2L436.5,742.7L436.5,743.2L436.5,743.7L437.2,743.4L437.9,743.2L438.7,742.9L439.4,742.7L439.4,743.2L439.4,743.6L439.4,744.1L439.4,744.6L439.4,745.1L439.4,745.5L439.4,746.0L439.4,746.5L439.4,746.9L439.4,747.4L439.4,747.9L440.1,747.6L440.8,747.4L441.6,747.1L442.3,746.8L443.0,746.6L443.7,746.4L444.5,746.1L445.2,745.9L445.9,745.6L446.6,745.4L446.6,745.8L446.6,746.3L447.4,746.0L448.1,745.8L448.1,746.2L448.8,746.0L449.6,745.7L450.3,745.5L450.3,745.9L450.3,746.4L450.3,746.8L451.0,746.6L451.7,746.3L452.5,746.1L453.2,745.9L453.9,745.6L454.6,745.4L455.4,745.2L456.1,744.9L456.8,744.7L457.5,744.5L458.3,744.3L459.0,744.0L459.7,743.8L460.4,743.6L460.4,744.0L460.4,744.4L460.4,744.9L460.4,745.3L460.4,745.7L460.4,746.1L460.4,746.5L460.4,746.9L460.4,747.3L460.4,747.7L460.4,748.1L460.4,748.5L460.4,748.9L461.2,748.7L461.2,749.1L461.2,749.5L461.2,749.9L461.9,749.7L462.6,749.4L463.3,749.2L464.1,749.0L464.8,748.8L465.5,748.6L466.2,748.3L466.2,748.7L466.2,749.1L466.2,749.5L466.2,749.9L466.2,750.2L466.2,750.6L466.2,751.0L466.2,751.4L466.2,751.7L466.2,752.1L466.2,752.5L466.2,752.9L466.2,753.2L467.0,753.0L467.7,752.8L468.4,752.5L469.1,752.3L469.9,752.1L470.6,751.9" fill="none" stroke="#17becf" stroke-width="1.3" stroke-linejoin="miter"/>
</g></svg>
<line x1="281.9" y1="788.08" x2="470.6" y2="788.08" stroke="#00007f" stroke-width="1.3" stroke-dasharray="3.6,2.2"/>
<rect x="284.6" y="704.6" width="67.4" height="87.4" rx="1.8" fill="#fff" fill-opacity="0.8" stroke="#d0d0d0" stroke-width="0.8"/>
<line x1="286.40000000000003" y1="710.00" x2="299.0" y2="710.00" stroke="#1f77b4" stroke-width="1.3"/>
<text x="302.80" y="712.30" font-size="6.4" fill="#111" stroke="#111" stroke-width="0.3">CV1,AUC=0.78</text>
<line x1="286.40000000000003" y1="718.38" x2="299.0" y2="718.38" stroke="#ff7f0e" stroke-width="1.3"/>
<text x="302.80" y="720.68" font-size="6.4" fill="#111" stroke="#111" stroke-width="0.3">CV2,AUC=0.85</text>
<line x1="286.40000000000003" y1="726.76" x2="299.0" y2="726.76" stroke="#2ca02c" stroke-width="1.3"/>
<text x="302.80" y="729.06" font-size="6.4" fill="#111" stroke="#111" stroke-width="0.3">CV3,AUC=0.81</text>
<line x1="286.40000000000003" y1="735.14" x2="299.0" y2="735.14" stroke="#d62728" stroke-width="1.3"/>
<text x="302.80" y="737.44" font-size="6.4" fill="#111" stroke="#111" stroke-width="0.3">CV4,AUC=0.80</text>
<line x1="286.40000000000003" y1="743.52" x2="299.0" y2="743.52" stroke="#9467bd" stroke-width="1.3"/>
<text x="302.80" y="745.82" font-size="6.4" fill="#111" stroke="#111" stroke-width="0.3">CV5,AUC=0.76</text>
<line x1="286.40000000000003" y1="751.90" x2="299.0" y2="751.90" stroke="#8c564b" stroke-width="1.3"/>
<text x="302.80" y="754.20" font-size="6.4" fill="#111" stroke="#111" stroke-width="0.3">CV6,AUC=0.77</text>
<line x1="286.40000000000003" y1="760.28" x2="299.0" y2="760.28" stroke="#e377c2" stroke-width="1.3"/>
<text x="302.80" y="762.58" font-size="6.4" fill="#111" stroke="#111" stroke-width="0.3">CV7,AUC=0.77</text>
<line x1="286.40000000000003" y1="768.66" x2="299.0" y2="768.66" stroke="#7f7f7f" stroke-width="1.3"/>
<text x="302.80" y="770.96" font-size="6.4" fill="#111" stroke="#111" stroke-width="0.3">CV8,AUC=0.74</text>
<line x1="286.40000000000003" y1="777.04" x2="299.0" y2="777.04" stroke="#bcbd22" stroke-width="1.3"/>
<text x="302.80" y="779.34" font-size="6.4" fill="#111" stroke="#111" stroke-width="0.3">CV9,AUC=0.73</text>
<line x1="286.40000000000003" y1="785.42" x2="299.0" y2="785.42" stroke="#17becf" stroke-width="1.3"/>
<text x="302.80" y="787.72" font-size="6.4" fill="#111" stroke="#111" stroke-width="0.3">CV10,AUC=0.75</text>
<rect x="281.9" y="654.4" width="188.70" height="139.20" fill="none" stroke="#000" stroke-width="0.8"/>
<line x1="281.90" y1="793.6" x2="281.90" y2="796.2" stroke="#000" stroke-width="0.7"/>
<text x="281.90" y="802.20" font-size="7.3" fill="#111" text-anchor="middle" stroke="#111" stroke-width="0.3">0.0</text>
<line x1="319.64" y1="793.6" x2="319.64" y2="796.2" stroke="#000" stroke-width="0.7"/>
<text x="319.64" y="802.20" font-size="7.3" fill="#111" text-anchor="middle" stroke="#111" stroke-width="0.3">0.2</text>
<line x1="357.38" y1="793.6" x2="357.38" y2="796.2" stroke="#000" stroke-width="0.7"/>
<text x="357.38" y="802.20" font-size="7.3" fill="#111" text-anchor="middle" stroke="#111" stroke-width="0.3">0.4</text>
<line x1="395.12" y1="793.6" x2="395.12" y2="796.2" stroke="#000" stroke-width="0.7"/>
<text x="395.12" y="802.20" font-size="7.3" fill="#111" text-anchor="middle" stroke="#111" stroke-width="0.3">0.6</text>
<line x1="432.86" y1="793.6" x2="432.86" y2="796.2" stroke="#000" stroke-width="0.7"/>
<text x="432.86" y="802.20" font-size="7.3" fill="#111" text-anchor="middle" stroke="#111" stroke-width="0.3">0.8</text>
<line x1="470.60" y1="793.6" x2="470.60" y2="796.2" stroke="#000" stroke-width="0.7"/>
<text x="470.60" y="802.20" font-size="7.3" fill="#111" text-anchor="middle" stroke="#111" stroke-width="0.3">1.0</text>
<line x1="279.29999999999995" y1="781.79" x2="281.9" y2="781.79" stroke="#000" stroke-width="0.7"/>
<text x="278.30" y="784.49" font-size="7.3" fill="#111" text-anchor="end" stroke="#111" stroke-width="0.3">0.5</text>
<line x1="279.29999999999995" y1="757.58" x2="281.9" y2="757.58" stroke="#000" stroke-width="0.7"/>
<text x="278.30" y="760.28" font-size="7.3" fill="#111" text-anchor="end" stroke="#111" stroke-width="0.3">0.6</text>
<line x1="279.29999999999995" y1="733.37" x2="281.9" y2="733.37" stroke="#000" stroke-width="0.7"/>
<text x="278.30" y="736.07" font-size="7.3" fill="#111" text-anchor="end" stroke="#111" stroke-width="0.3">0.7</text>
<line x1="279.29999999999995" y1="709.16" x2="281.9" y2="709.16" stroke="#000" stroke-width="0.7"/>
<text x="278.30" y="711.86" font-size="7.3" fill="#111" text-anchor="end" stroke="#111" stroke-width="0.3">0.8</text>
<line x1="279.29999999999995" y1="684.95" x2="281.9" y2="684.95" stroke="#000" stroke-width="0.7"/>
<text x="278.30" y="687.65" font-size="7.3" fill="#111" text-anchor="end" stroke="#111" stroke-width="0.3">0.9</text>
<line x1="279.29999999999995" y1="660.74" x2="281.9" y2="660.74" stroke="#000" stroke-width="0.7"/>
<text x="278.30" y="663.44" font-size="7.3" fill="#111" text-anchor="end" stroke="#111" stroke-width="0.3">1.0</text>
<text x="265.00" y="724.00" font-size="7.9" fill="#111" text-anchor="middle" transform="rotate(-90 265.00 724.00)" stroke="#111" stroke-width="0.3">Precision</text>
<text x="376.25" y="812.10" font-size="7.9" fill="#111" text-anchor="middle" stroke="#111" stroke-width="0.3">Recall</text>
<text x="4.40" y="831.70" font-size="19" fill="#000">I</text>
<svg x="35.3" y="826.1" width="189.00" height="141.40" overflow="hidden"><g transform="translate(-35.3,-826.1)">
<path d="M35.3,832.6L40.0,832.6L44.8,832.6L44.8,875.4L44.8,896.8L44.8,909.6L44.8,918.2L49.5,906.0L49.5,912.9L49.5,918.2L54.2,909.6L58.9,902.6L63.6,896.8L68.4,891.9L73.1,887.6L73.1,892.5L77.8,888.8L82.5,885.5L87.3,882.5L92.0,879.9L92.0,884.0L96.7,881.5L96.7,885.1L96.7,888.4L96.7,891.4L96.7,894.2L96.7,896.8L96.7,899.2L96.7,901.4L101.4,899.0L101.4,901.1L101.4,903.0L101.4,904.8L106.2,902.6L110.9,900.6L115.6,898.6L115.6,900.4L115.6,902.0L115.6,903.6L115.6,905.0L115.6,906.4L115.6,907.8L115.6,909.0L115.6,910.2L115.6,911.4L115.6,912.5L115.6,913.6L115.6,914.6L115.6,915.5L115.6,916.5L115.6,917.4L115.6,918.2L115.6,919.0L115.6,919.8L115.6,920.6L120.3,919.0L120.3,919.7L120.3,920.5L120.3,921.2L120.3,921.8L120.3,922.5L120.3,923.1L120.3,923.7L120.3,924.3L120.3,924.9L120.3,925.5L120.3,926.0L125.1,924.6L125.1,925.1L125.1,925.7L125.1,926.2L125.1,926.7L125.1,927.1L125.1,927.6L125.1,928.1L125.1,928.5L125.1,928.9L125.1,929.3L125.1,929.7L125.1,930.1L125.1,930.5L125.1,930.9L125.1,931.3L125.1,931.6L125.1,932.0L125.1,932.3L125.1,932.7L125.1,933.0L125.1,933.3L125.1,933.6L125.1,933.9L125.1,934.2L125.1,934.5L125.1,934.8L125.1,935.1L125.1,935.3L125.1,935.6L125.1,935.9L125.1,936.1L125.1,936.4L125.1,936.6L125.1,936.9L125.1,937.1L125.1,937.3L125.1,937.6L125.1,937.8L125.1,938.0L125.1,938.2L125.1,938.4L125.1,938.7L125.1,938.9L125.1,939.1L125.1,939.3L125.1,939.4L125.1,939.6L125.1,939.8L125.1,940.0L129.8,939.1L134.5,938.2L139.2,937.3L144.0,936.4L144.0,936.6L144.0,936.8L144.0,937.0L144.0,937.2L148.7,936.4L153.4,935.6L158.2,934.7L162.9,933.9L167.6,933.2L172.3,932.4L172.3,932.6L172.3,932.8L172.3,933.0L172.3,933.2L172.3,933.4L172.3,933.6L172.3,933.8L172.3,934.0L172.3,934.2L172.3,934.4L172.3,934.6L172.3,934.8L172.3,935.0L172.3,935.2L172.3,935.3L172.3,935.5L172.3,935.7L172.3,935.9L172.3,936.0L172.3,936.2L172.3,936.4L172.3,936.5L172.3,936.7L172.3,936.9L172.3,937.0L172.3,937.2L172.3,937.3L172.3,937.5L172.3,937.6L172.3,937.8L172.3,937.9L172.3,938.0L172.3,938.2L172.3,938.3L172.3,938.5L172.3,938.6L172.3,938.7L172.3,938.9L172.3,939.0L177.1,938.4L181.8,937.8L186.5,937.1L186.5,937.3L186.5,937.4L186.5,937.6L186.5,937.7L186.5,937.8L186.5,937.9L186.5,938.1L186.5,938.2L186.5,938.3L186.5,938.5L186.5,938.6L186.5,938.7L186.5,938.8L186.5,938.9L186.5,939.1L186.5,939.2L186.5,939.3L186.5,939.4L186.5,939.5L186.5,939.6L186.5,939.7L186.5,939.9L186.5,940.0L186.5,940.1L186.5,940.2L186.5,940.3L186.5,940.4L186.5,940.5L186.5,940.6L186.5,940.7L186.5,940.8L186.5,940.9L186.5,941.0L191.2,940.5L191.2,940.6L191.2,940.7L191.2,940.8L191.2,940.9L191.2,941.0L191.2,941.1L191.2,941.2L191.2,941.3L191.2,941.4L191.2,941.5L191.2,941.6L191.2,941.7L191.2,941.8L191.2,941.9L191.2,942.0L191.2,942.1L191.2,942.2L191.2,942.3L191.2,942.4L191.2,942.5L191.2,942.6L191.2,942.7L191.2,942.8L191.2,942.9L191.2,943.0L191.2,943.1L191.2,943.2L191.2,943.3L191.2,943.4L191.2,943.5L195.9,943.0L200.7,942.5L205.4,942.1L210.1,941.6L214.8,941.2L214.8,941.3L214.8,941.4L214.8,941.5L214.8,941.6L214.8,941.7L214.8,941.8L214.8,941.9L214.8,942.0L214.8,942.1L214.8,942.2L214.8,942.3L214.8,942.4L214.8,942.5L214.8,942.6L219.6,942.2L224.3,941.8" fill="none" stroke="#1f77b4" stroke-width="1.3" stroke-linejoin="miter"/>
<path d="M35.3,832.6L40.0,832.6L44.8,832.6L49.5,832.6L54.2,832.6L58.9,832.6L63.6,832.6L68.4,832.6L73.1,832.6L73.1,846.8L73.1,858.3L73.1,867.6L77.8,864.7L77.8,872.1L77.8,878.4L82.5,875.4L87.3,872.7L92.0,870.3L96.7,868.2L96.7,873.1L96.7,877.5L101.4,875.4L101.4,879.3L106.2,877.2L110.9,875.4L110.9,878.8L110.9,882.0L115.6,880.1L115.6,883.0L115.6,885.7L115.6,888.2L115.6,890.6L115.6,892.8L115.6,894.9L115.6,896.8L115.6,898.6L115.6,900.4L115.6,902.0L115.6,903.6L115.6,905.0L115.6,906.4L115.6,907.8L115.6,909.0L115.6,910.2L115.6,911.4L115.6,912.5L120.3,910.8L120.3,911.8L120.3,912.9L120.3,913.8L120.3,914.8L120.3,915.7L120.3,916.6L120.3,917.4L120.3,918.2L120.3,919.0L120.3,919.7L120.3,920.5L125.1,919.0L129.8,917.5L134.5,916.1L139.2,914.7L139.2,915.5L139.2,916.2L139.2,916.9L139.2,917.6L139.2,918.2L139.2,918.9L139.2,919.5L139.2,920.1L139.2,920.7L139.2,921.2L139.2,921.8L139.2,922.3L139.2,922.8L139.2,923.4L139.2,923.9L139.2,924.3L139.2,924.8L139.2,925.3L139.2,925.7L139.2,926.1L139.2,926.6L144.0,925.4L148.7,924.3L153.4,923.3L153.4,923.7L153.4,924.1L153.4,924.5L153.4,925.0L153.4,925.4L153.4,925.7L153.4,926.1L153.4,926.5L153.4,926.9L153.4,927.2L158.2,926.2L158.2,926.6L158.2,927.0L158.2,927.3L158.2,927.6L158.2,928.0L158.2,928.3L158.2,928.6L158.2,928.9L158.2,929.2L158.2,929.5L162.9,928.6L167.6,927.7L172.3,926.9L172.3,927.2L172.3,927.5L172.3,927.8L172.3,928.1L172.3,928.4L172.3,928.6L172.3,928.9L172.3,929.2L172.3,929.5L172.3,929.7L172.3,930.0L172.3,930.3L172.3,930.5L172.3,930.8L172.3,931.0L172.3,931.2L172.3,931.5L172.3,931.7L172.3,931.9L172.3,932.2L172.3,932.4L172.3,932.6L172.3,932.8L172.3,933.0L172.3,933.2L172.3,933.4L172.3,933.6L172.3,933.8L172.3,934.0L172.3,934.2L172.3,934.4L172.3,934.6L172.3,934.8L172.3,935.0L177.1,934.3L177.1,934.5L177.1,934.6L177.1,934.8L177.1,935.0L177.1,935.2L177.1,935.3L177.1,935.5L177.1,935.7L177.1,935.9L177.1,936.0L177.1,936.2L181.8,935.5L186.5,934.9L186.5,935.0L186.5,935.2L186.5,935.3L186.5,935.5L186.5,935.7L191.2,935.0L195.9,934.4L200.7,933.8L200.7,934.0L200.7,934.1L200.7,934.3L200.7,934.4L200.7,934.6L200.7,934.7L200.7,934.9L200.7,935.1L200.7,935.2L200.7,935.3L200.7,935.5L200.7,935.6L200.7,935.8L200.7,935.9L200.7,936.1L200.7,936.2L200.7,936.3L200.7,936.5L200.7,936.6L200.7,936.7L200.7,936.9L200.7,937.0L200.7,937.1L200.7,937.3L200.7,937.4L200.7,937.5L200.7,937.6L200.7,937.7L200.7,937.9L200.7,938.0L200.7,938.1L200.7,938.2L200.7,938.3L200.7,938.4L200.7,938.6L200.7,938.7L200.7,938.8L200.7,938.9L200.7,939.0L200.7,939.1L200.7,939.2L200.7,939.3L200.7,939.4L200.7,939.5L200.7,939.6L200.7,939.7L200.7,939.8L200.7,939.9L200.7,940.0L200.7,940.1L200.7,940.2L200.7,940.3L200.7,940.4L200.7,940.5L200.7,940.6L200.7,940.7L200.7,940.8L200.7,940.9L200.7,941.0L200.7,941.1L200.7,941.2L200.7,941.3L200.7,941.4L200.7,941.5L200.7,941.6L200.7,941.7L200.7,941.8L200.7,941.9L200.7,942.0L200.7,942.1L200.7,942.2L200.7,942.3L200.7,942.4L200.7,942.5L200.7,942.6L200.7,942.7L200.7,942.8L200.7,942.9L200.7,943.0L200.7,943.1L200.7,943.2L200.7,943.3L200.7,943.4L200.7,943.5L200.7,943.6L200.7,943.7L200.7,943.8L200.7,943.9L200.7,944.0L200.7,944.1L200.7,944.2L200.7,944.3L200.7,944.4L200.7,944.5L200.7,944.6L200.7,944.7L200.7,944.8L200.7,944.9L200.7,945.0L200.7,945.1L200.7,945.2L200.7,945.3L200.7,945.4L200.7,945.5L200.7,945.6L200.7,945.7L200.7,945.8L200.7,945.9L200.7,946.0L200.7,946.1L200.7,946.2L200.7,946.3L200.7,946.4L200.7,946.5L200.7,946.6L200.7,946.7L200.7,946.8L200.7,946.9L200.7,947.0L200.7,947.1L200.7,947.2L200.7,947.3L200.7,947.4L200.7,947.5L200.7,947.6L200.7,947.7L200.7,947.8L200.7,947.9L200.7,948.0L200.7,948.1L200.7,948.2L200.7,948.3L200.7,948.4L200.7,948.5L200.7,948.6L200.7,948.7L200.7,948.8L200.7,948.9L200.7,949.0L200.7,949.1L200.7,949.2L200.7,949.3L200.7,949.4L200.7,949.5L200.7,949.6L205.4,949.3L210.1,949.0L214.8,948.7L219.6,948.4L224.3,948.1" fill="none" stroke="#ff7f0e" stroke-width="1.3" stroke-linejoin="miter"/>
<path d="M35.3,832.6L40.0,832.6L44.8,832.6L49.5,832.6L54.2,832.6L54.2,858.3L54.2,875.4L54.2,887.6L54.2,896.8L54.2,903.9L54.2,909.6L54.2,914.3L58.9,907.5L63.6,901.7L63.6,906.0L63.6,909.6L68.4,904.8L73.1,900.6L77.8,896.8L82.5,893.4L87.3,890.4L92.0,887.6L92.0,891.0L92.0,894.0L96.7,891.4L96.7,894.2L101.4,891.9L106.2,889.7L106.2,892.2L106.2,894.6L106.2,896.8L106.2,898.9L110.9,896.8L110.9,898.7L115.6,896.8L115.6,898.6L115.6,900.4L115.6,902.0L120.3,900.2L120.3,901.7L125.1,900.0L125.1,901.5L125.1,902.9L125.1,904.3L125.1,905.6L129.8,903.9L129.8,905.2L134.5,903.6L134.5,904.8L134.5,906.0L134.5,907.1L134.5,908.1L134.5,909.2L134.5,910.1L134.5,911.1L139.2,909.6L139.2,910.6L139.2,911.5L139.2,912.3L139.2,913.1L144.0,911.8L144.0,912.6L144.0,913.4L144.0,914.1L144.0,914.9L144.0,915.6L144.0,916.3L144.0,916.9L148.7,915.7L153.4,914.5L153.4,915.2L153.4,915.8L153.4,916.4L153.4,917.0L153.4,917.6L153.4,918.2L153.4,918.8L153.4,919.3L153.4,919.9L153.4,920.4L153.4,920.9L153.4,921.4L153.4,921.9L153.4,922.3L153.4,922.8L153.4,923.3L153.4,923.7L153.4,924.1L153.4,924.5L158.2,923.5L162.9,922.5L167.6,921.5L167.6,921.9L167.6,922.4L167.6,922.8L167.6,923.2L167.6,923.6L172.3,922.6L177.1,921.7L181.8,920.8L181.8,921.2L181.8,921.6L181.8,922.0L181.8,922.4L181.8,922.7L181.8,923.1L181.8,923.5L181.8,923.8L181.8,924.2L181.8,924.5L181.8,924.8L181.8,925.2L181.8,925.5L181.8,925.8L181.8,926.1L181.8,926.4L181.8,926.7L181.8,927.0L181.8,927.3L181.8,927.6L186.5,926.8L186.5,927.1L186.5,927.3L186.5,927.6L186.5,927.9L186.5,928.2L186.5,928.4L186.5,928.7L186.5,928.9L186.5,929.2L186.5,929.4L186.5,929.7L186.5,929.9L186.5,930.1L186.5,930.4L186.5,930.6L186.5,930.8L186.5,931.0L186.5,931.3L186.5,931.5L186.5,931.7L186.5,931.9L186.5,932.1L186.5,932.3L191.2,931.6L195.9,930.9L200.7,930.2L205.4,929.6L205.4,929.8L205.4,930.0L205.4,930.2L205.4,930.4L205.4,930.6L205.4,930.8L205.4,931.0L205.4,931.2L205.4,931.4L205.4,931.6L205.4,931.8L205.4,932.0L205.4,932.1L210.1,931.5L214.8,930.9L219.6,930.3L219.6,930.5L219.6,930.7L219.6,930.9L219.6,931.0L219.6,931.2L219.6,931.4L219.6,931.6L224.3,931.0" fill="none" stroke="#2ca02c" stroke-width="1.3" stroke-linejoin="miter"/>
<path d="M35.3,832.6L40.0,832.6L44.8,832.6L49.5,832.6L49.5,864.7L49.5,884.0L49.5,896.8L49.5,906.0L49.5,912.9L49.5,918.2L49.5,922.5L49.5,926.0L49.5,928.9L49.5,931.4L54.2,924.3L58.9,918.2L58.9,920.9L58.9,923.3L58.9,925.4L63.6,920.5L63.6,922.5L68.4,918.2L73.1,914.3L73.1,916.4L73.1,918.2L73.1,919.9L73.1,921.5L73.1,923.0L73.1,924.3L73.1,925.6L73.1,926.8L73.1,927.9L73.1,928.9L77.8,926.0L82.5,923.3L82.5,924.3L82.5,925.4L82.5,926.3L87.3,923.9L92.0,921.5L96.7,919.3L101.4,917.2L101.4,918.2L101.4,919.2L101.4,920.2L101.4,921.1L101.4,921.9L106.2,920.0L110.9,918.2L115.6,916.5L115.6,917.4L115.6,918.2L115.6,919.0L115.6,919.8L115.6,920.6L115.6,921.3L115.6,922.0L115.6,922.7L115.6,923.4L115.6,924.0L115.6,924.6L115.6,925.2L115.6,925.8L115.6,926.4L115.6,926.9L115.6,927.4L115.6,928.0L115.6,928.4L115.6,928.9L115.6,929.4L115.6,929.8L115.6,930.3L115.6,930.7L115.6,931.1L115.6,931.5L115.6,931.9L115.6,932.3L115.6,932.7L115.6,933.0L115.6,933.4L115.6,933.7L115.6,934.1L115.6,934.4L115.6,934.7L115.6,935.0L115.6,935.3L115.6,935.6L115.6,935.9L115.6,936.2L115.6,936.5L115.6,936.8L115.6,937.0L115.6,937.3L115.6,937.6L115.6,937.8L115.6,938.1L115.6,938.3L115.6,938.5L115.6,938.8L115.6,939.0L115.6,939.2L115.6,939.4L115.6,939.6L115.6,939.8L115.6,940.0L115.6,940.2L115.6,940.4L120.3,939.4L125.1,938.4L125.1,938.7L125.1,938.9L125.1,939.1L125.1,939.3L125.1,939.4L125.1,939.6L125.1,939.8L129.8,938.9L134.5,938.0L134.5,938.2L134.5,938.4L134.5,938.6L134.5,938.7L134.5,938.9L134.5,939.1L134.5,939.3L134.5,939.5L134.5,939.6L134.5,939.8L134.5,940.0L134.5,940.1L134.5,940.3L134.5,940.5L134.5,940.6L134.5,940.8L134.5,940.9L134.5,941.1L134.5,941.2L134.5,941.4L134.5,941.5L134.5,941.6L134.5,941.8L134.5,941.9L134.5,942.0L134.5,942.2L134.5,942.3L134.5,942.4L134.5,942.6L134.5,942.7L134.5,942.8L134.5,942.9L134.5,943.1L134.5,943.2L134.5,943.3L139.2,942.6L144.0,941.9L144.0,942.0L144.0,942.1L144.0,942.2L144.0,942.3L144.0,942.5L144.0,942.6L144.0,942.7L144.0,942.8L144.0,942.9L144.0,943.0L144.0,943.1L144.0,943.2L144.0,943.4L144.0,943.5L144.0,943.6L144.0,943.7L144.0,943.8L144.0,943.9L144.0,944.0L144.0,944.1L144.0,944.2L144.0,944.3L144.0,944.4L144.0,944.5L144.0,944.6L144.0,944.7L144.0,944.8L144.0,944.9L144.0,945.0L144.0,945.1L144.0,945.2L144.0,945.3L144.0,945.4L144.0,945.5L144.0,945.6L144.0,945.7L144.0,945.8L144.0,945.9L144.0,946.0L144.0,946.1L144.0,946.2L148.7,945.6L153.4,945.1L158.2,944.5L162.9,944.0L167.6,943.4L167.6,943.5L167.6,943.6L167.6,943.7L167.6,943.8L167.6,943.9L167.6,944.0L167.6,944.1L167.6,944.2L167.6,944.3L167.6,944.4L167.6,944.5L167.6,944.6L167.6,944.7L167.6,944.8L167.6,944.9L167.6,945.0L167.6,945.1L167.6,945.2L167.6,945.3L167.6,945.4L167.6,945.5L167.6,945.6L167.6,945.7L167.6,945.8L167.6,945.9L167.6,946.0L167.6,946.1L167.6,946.2L167.6,946.3L167.6,946.4L167.6,946.5L167.6,946.6L167.6,946.7L167.6,946.8L167.6,946.9L167.6,947.0L167.6,947.1L167.6,947.2L167.6,947.3L167.6,947.4L167.6,947.5L167.6,947.6L167.6,947.7L167.6,947.8L167.6,947.9L167.6,948.0L167.6,948.1L167.6,948.2L167.6,948.3L167.6,948.4L167.6,948.5L167.6,948.6L167.6,948.7L167.6,948.8L172.3,948.4L177.1,948.0L181.8,947.6L186.5,947.3L191.2,946.9L195.9,946.5L200.7,946.1L205.4,945.7L210.1,945.4L214.8,945.0L219.6,944.6L224.3,944.3" fill="none" stroke="#d62728" stroke-width="1.3" stroke-linejoin="miter"/>
<path d="M35.3,832.6L40.0,832.6L44.8,832.6L49.5,832.6L54.2,832.6L58.9,832.6L63.6,832.6L68.4,832.6L73.1,832.6L77.8,832.6L82.5,832.6L87.3,832.6L92.0,832.6L96.7,832.6L96.7,841.7L101.4,841.1L101.4,848.6L101.4,855.2L106.2,854.0L106.2,859.6L106.2,864.7L106.2,869.3L110.9,867.6L115.6,866.1L115.6,870.0L115.6,873.7L115.6,877.0L115.6,880.1L115.6,883.0L115.6,885.7L115.6,888.2L115.6,890.6L120.3,888.8L120.3,891.0L120.3,893.0L120.3,895.0L120.3,896.8L120.3,898.5L120.3,900.2L120.3,901.7L120.3,903.2L120.3,904.6L120.3,906.0L120.3,907.3L120.3,908.5L120.3,909.6L120.3,910.8L120.3,911.8L120.3,912.9L120.3,913.8L120.3,914.8L120.3,915.7L120.3,916.6L120.3,917.4L120.3,918.2L120.3,919.0L120.3,919.7L120.3,920.5L120.3,921.2L120.3,921.8L120.3,922.5L120.3,923.1L120.3,923.7L120.3,924.3L120.3,924.9L120.3,925.5L120.3,926.0L120.3,926.5L120.3,927.0L120.3,927.5L120.3,928.0L120.3,928.5L120.3,928.9L120.3,929.4L120.3,929.8L120.3,930.2L120.3,930.6L120.3,931.0L120.3,931.4L120.3,931.8L120.3,932.1L120.3,932.5L120.3,932.8L120.3,933.2L120.3,933.5L120.3,933.8L120.3,934.2L120.3,934.5L120.3,934.8L120.3,935.1L120.3,935.3L120.3,935.6L120.3,935.9L120.3,936.2L120.3,936.4L120.3,936.7L120.3,937.0L120.3,937.2L120.3,937.4L120.3,937.7L120.3,937.9L120.3,938.1L120.3,938.4L120.3,938.6L120.3,938.8L120.3,939.0L120.3,939.2L120.3,939.4L120.3,939.6L120.3,939.8L120.3,940.0L120.3,940.2L125.1,939.3L125.1,939.4L125.1,939.6L125.1,939.8L129.8,938.9L129.8,939.1L129.8,939.3L129.8,939.5L129.8,939.6L129.8,939.8L129.8,940.0L129.8,940.2L129.8,940.3L129.8,940.5L134.5,939.6L139.2,938.8L144.0,938.0L144.0,938.1L144.0,938.3L144.0,938.5L144.0,938.7L144.0,938.8L144.0,939.0L144.0,939.2L144.0,939.3L144.0,939.5L144.0,939.6L148.7,938.9L153.4,938.1L158.2,937.4L162.9,936.6L162.9,936.8L162.9,937.0L162.9,937.1L162.9,937.3L162.9,937.4L162.9,937.6L162.9,937.8L162.9,937.9L162.9,938.1L162.9,938.2L162.9,938.4L162.9,938.5L162.9,938.7L162.9,938.8L162.9,939.0L162.9,939.1L162.9,939.2L162.9,939.4L162.9,939.5L162.9,939.6L162.9,939.8L162.9,939.9L162.9,940.0L162.9,940.1L162.9,940.3L162.9,940.4L162.9,940.5L162.9,940.6L162.9,940.8L162.9,940.9L162.9,941.0L162.9,941.1L162.9,941.2L162.9,941.3L162.9,941.4L162.9,941.6L162.9,941.7L162.9,941.8L162.9,941.9L162.9,942.0L162.9,942.1L162.9,942.2L162.9,942.3L162.9,942.4L162.9,942.5L162.9,942.6L162.9,942.7L162.9,942.8L162.9,942.9L162.9,943.0L162.9,943.1L162.9,943.2L162.9,943.3L162.9,943.4L162.9,943.5L162.9,943.6L162.9,943.7L162.9,943.8L162.9,943.9L162.9,944.0L162.9,944.1L162.9,944.2L162.9,944.3L162.9,944.4L162.9,944.5L162.9,944.6L162.9,944.7L162.9,944.8L162.9,944.9L162.9,945.0L162.9,945.1L162.9,945.2L162.9,945.3L162.9,945.4L162.9,945.5L162.9,945.6L162.9,945.7L162.9,945.8L162.9,945.9L162.9,946.0L162.9,946.1L162.9,946.2L162.9,946.3L162.9,946.4L162.9,946.5L162.9,946.6L162.9,946.7L162.9,946.8L162.9,946.9L162.9,947.0L162.9,947.1L162.9,947.2L162.9,947.3L162.9,947.4L162.9,947.5L162.9,947.6L162.9,947.7L162.9,947.8L162.9,947.9L162.9,948.0L162.9,948.1L162.9,948.2L162.9,948.3L162.9,948.4L162.9,948.5L162.9,948.6L162.9,948.7L162.9,948.8L162.9,948.9L162.9,949.0L162.9,949.1L162.9,949.2L162.9,949.3L162.9,949.4L162.9,949.5L162.9,949.6L162.9,949.7L162.9,949.8L162.9,949.9L162.9,950.0L162.9,950.1L167.6,949.8L172.3,949.4L177.1,949.0L181.8,948.7L186.5,948.3L191.2,948.0L195.9,947.6L200.7,947.3L205.4,946.9L210.1,946.6L214.8,946.2L219.6,945.9L224.3,945.5" fill="none" stroke="#9467bd" stroke-width="1.3" stroke-linejoin="miter"/>
<path d="M35.3,832.6L40.0,832.6L40.0,896.8L40.0,918.2L40.0,928.9L44.8,909.6L44.8,918.2L44.8,924.3L44.8,928.9L49.5,918.2L54.2,909.6L58.9,902.6L63.6,896.8L63.6,901.7L63.6,906.0L63.6,909.6L63.6,912.9L68.4,908.1L68.4,911.1L73.1,906.9L73.1,909.6L73.1,912.1L77.8,908.5L82.5,905.2L87.3,902.2L87.3,904.5L87.3,906.7L87.3,908.7L92.0,906.0L96.7,903.4L101.4,901.1L101.4,903.0L101.4,904.8L106.2,902.6L106.2,904.4L106.2,906.0L106.2,907.5L106.2,909.0L106.2,910.3L106.2,911.6L106.2,912.9L106.2,914.0L110.9,912.1L115.6,910.2L120.3,908.5L120.3,909.6L120.3,910.8L120.3,911.8L120.3,912.9L120.3,913.8L120.3,914.8L120.3,915.7L120.3,916.6L125.1,915.0L125.1,915.8L125.1,916.7L125.1,917.5L125.1,918.2L125.1,919.0L125.1,919.7L129.8,918.2L134.5,916.8L139.2,915.5L144.0,914.1L144.0,914.9L144.0,915.6L144.0,916.3L148.7,915.0L153.4,913.8L158.2,912.6L158.2,913.3L162.9,912.2L162.9,912.9L162.9,913.5L162.9,914.2L162.9,914.8L162.9,915.4L162.9,916.0L162.9,916.6L162.9,917.1L162.9,917.7L162.9,918.2L162.9,918.7L162.9,919.2L162.9,919.7L162.9,920.2L162.9,920.7L162.9,921.2L162.9,921.6L162.9,922.1L162.9,922.5L162.9,922.9L162.9,923.3L162.9,923.7L162.9,924.1L162.9,924.5L162.9,924.9L167.6,924.0L167.6,924.3L167.6,924.7L167.6,925.1L167.6,925.4L167.6,925.8L167.6,926.1L167.6,926.5L167.6,926.8L167.6,927.1L167.6,927.4L167.6,927.7L167.6,928.0L167.6,928.3L167.6,928.6L167.6,928.9L167.6,929.2L167.6,929.5L167.6,929.8L167.6,930.0L167.6,930.3L167.6,930.6L167.6,930.8L167.6,931.1L167.6,931.3L167.6,931.6L167.6,931.8L172.3,931.0L177.1,930.2L181.8,929.4L186.5,928.7L191.2,927.9L191.2,928.2L191.2,928.4L191.2,928.7L191.2,928.9L191.2,929.2L191.2,929.4L191.2,929.6L191.2,929.9L191.2,930.1L191.2,930.3L191.2,930.5L191.2,930.8L191.2,931.0L191.2,931.2L191.2,931.4L191.2,931.6L191.2,931.8L191.2,932.0L191.2,932.2L191.2,932.4L191.2,932.6L191.2,932.8L195.9,932.1L200.7,931.5L200.7,931.7L200.7,931.8L200.7,932.0L200.7,932.2L200.7,932.4L200.7,932.6L200.7,932.8L200.7,932.9L200.7,933.1L200.7,933.3L200.7,933.5L200.7,933.6L200.7,933.8L200.7,934.0L200.7,934.1L200.7,934.3L200.7,934.4L200.7,934.6L200.7,934.7L200.7,934.9L200.7,935.1L200.7,935.2L200.7,935.3L200.7,935.5L200.7,935.6L200.7,935.8L205.4,935.2L210.1,934.6L214.8,934.1L219.6,933.5L224.3,933.0" fill="none" stroke="#8c564b" stroke-width="1.3" stroke-linejoin="miter"/>
<path d="M35.3,832.6L40.0,832.6L44.8,832.6L49.5,832.6L54.2,832.6L58.9,832.6L63.6,832.6L68.4,832.6L73.1,832.6L77.8,832.6L82.5,832.6L87.3,832.6L92.0,832.6L96.7,832.6L96.7,841.7L96.7,849.7L96.7,856.6L96.7,862.8L101.4,861.1L106.2,859.6L110.9,858.3L110.9,863.1L110.9,867.6L110.9,871.7L110.9,875.4L110.9,878.8L110.9,882.0L110.9,884.9L110.9,887.6L115.6,885.7L120.3,884.0L125.1,882.3L129.8,880.7L129.8,883.2L129.8,885.5L129.8,887.6L129.8,889.7L129.8,891.6L134.5,890.0L139.2,888.6L139.2,890.4L139.2,892.1L139.2,893.7L139.2,895.3L139.2,896.8L144.0,895.4L148.7,894.0L148.7,895.4L148.7,896.8L148.7,898.1L148.7,899.4L148.7,900.6L148.7,901.7L148.7,902.9L148.7,903.9L148.7,905.0L148.7,906.0L148.7,906.9L148.7,907.9L148.7,908.8L153.4,907.5L158.2,906.3L162.9,905.1L162.9,906.0L162.9,906.8L162.9,907.7L162.9,908.5L162.9,909.3L162.9,910.0L162.9,910.8L162.9,911.5L162.9,912.2L162.9,912.9L162.9,913.5L162.9,914.2L162.9,914.8L162.9,915.4L162.9,916.0L162.9,916.6L162.9,917.1L162.9,917.7L162.9,918.2L162.9,918.7L162.9,919.2L162.9,919.7L162.9,920.2L162.9,920.7L162.9,921.2L162.9,921.6L162.9,922.1L162.9,922.5L162.9,922.9L167.6,921.9L172.3,921.0L172.3,921.4L172.3,921.8L172.3,922.2L172.3,922.6L172.3,923.0L172.3,923.4L172.3,923.8L172.3,924.2L172.3,924.5L172.3,924.9L177.1,924.0L181.8,923.1L181.8,923.5L181.8,923.8L181.8,924.2L181.8,924.5L181.8,924.8L181.8,925.2L181.8,925.5L181.8,925.8L181.8,926.1L186.5,925.3L191.2,924.5L191.2,924.8L191.2,925.1L191.2,925.4L195.9,924.6L200.7,923.9L200.7,924.2L200.7,924.5L200.7,924.8L200.7,925.1L200.7,925.4L200.7,925.6L200.7,925.9L200.7,926.2L200.7,926.5L200.7,926.7L200.7,927.0L200.7,927.2L200.7,927.5L200.7,927.7L200.7,928.0L200.7,928.2L200.7,928.5L200.7,928.7L200.7,928.9L200.7,929.2L200.7,929.4L200.7,929.6L200.7,929.8L200.7,930.0L200.7,930.2L200.7,930.5L200.7,930.7L200.7,930.9L200.7,931.1L200.7,931.3L200.7,931.5L200.7,931.7L200.7,931.8L200.7,932.0L200.7,932.2L200.7,932.4L200.7,932.6L200.7,932.8L200.7,932.9L200.7,933.1L200.7,933.3L200.7,933.5L200.7,933.6L200.7,933.8L200.7,934.0L200.7,934.1L200.7,934.3L200.7,934.4L200.7,934.6L200.7,934.7L200.7,934.9L200.7,935.1L200.7,935.2L200.7,935.3L200.7,935.5L200.7,935.6L200.7,935.8L205.4,935.2L210.1,934.6L214.8,934.1L214.8,934.2L214.8,934.4L214.8,934.5L214.8,934.7L214.8,934.8L214.8,934.9L214.8,935.1L214.8,935.2L214.8,935.3L214.8,935.5L214.8,935.6L214.8,935.7L214.8,935.9L214.8,936.0L214.8,936.1L214.8,936.3L214.8,936.4L214.8,936.5L214.8,936.6L219.6,936.1L224.3,935.6" fill="none" stroke="#e377c2" stroke-width="1.3" stroke-linejoin="miter"/>
<path d="M35.3,832.6L40.0,832.6L44.8,832.6L49.5,832.6L54.2,832.6L58.9,832.6L58.9,854.0L58.9,869.3L58.9,880.7L58.9,889.7L58.9,896.8L58.9,902.6L63.6,896.8L63.6,901.7L68.4,896.8L68.4,901.1L68.4,904.8L73.1,900.6L73.1,903.9L73.1,906.9L73.1,909.6L73.1,912.1L77.8,908.5L82.5,905.2L82.5,907.5L87.3,904.5L92.0,901.7L92.0,903.9L92.0,906.0L96.7,903.4L96.7,905.4L101.4,903.0L101.4,904.8L101.4,906.5L101.4,908.1L101.4,909.6L101.4,911.1L101.4,912.4L101.4,913.7L101.4,914.9L101.4,916.1L101.4,917.2L101.4,918.2L101.4,919.2L101.4,920.2L101.4,921.1L101.4,921.9L101.4,922.8L106.2,920.9L110.9,919.1L110.9,919.9L110.9,920.7L110.9,921.5L110.9,922.3L110.9,923.0L110.9,923.7L110.9,924.3L110.9,925.0L110.9,925.6L110.9,926.2L110.9,926.8L110.9,927.3L110.9,927.9L110.9,928.4L110.9,928.9L110.9,929.4L110.9,929.9L110.9,930.4L110.9,930.8L110.9,931.3L110.9,931.7L110.9,932.1L110.9,932.5L115.6,931.1L115.6,931.5L115.6,931.9L115.6,932.3L115.6,932.7L115.6,933.0L115.6,933.4L115.6,933.7L115.6,934.1L115.6,934.4L115.6,934.7L115.6,935.0L115.6,935.3L115.6,935.6L115.6,935.9L115.6,936.2L115.6,936.5L115.6,936.8L120.3,935.6L125.1,934.5L129.8,933.4L129.8,933.7L129.8,934.0L129.8,934.3L129.8,934.6L129.8,934.8L129.8,935.1L129.8,935.3L129.8,935.6L129.8,935.9L129.8,936.1L129.8,936.3L129.8,936.6L129.8,936.8L134.5,935.8L139.2,934.9L139.2,935.1L139.2,935.3L139.2,935.6L139.2,935.8L139.2,936.0L139.2,936.3L139.2,936.5L139.2,936.7L139.2,936.9L139.2,937.1L139.2,937.3L139.2,937.5L139.2,937.7L139.2,937.9L139.2,938.1L139.2,938.3L139.2,938.4L139.2,938.6L139.2,938.8L139.2,939.0L139.2,939.1L139.2,939.3L139.2,939.5L139.2,939.6L139.2,939.8L139.2,940.0L139.2,940.1L139.2,940.3L139.2,940.4L139.2,940.6L139.2,940.7L139.2,940.9L139.2,941.0L139.2,941.1L139.2,941.3L139.2,941.4L139.2,941.6L139.2,941.7L139.2,941.8L139.2,941.9L139.2,942.1L139.2,942.2L139.2,942.3L139.2,942.5L139.2,942.6L139.2,942.7L139.2,942.8L139.2,942.9L139.2,943.0L139.2,943.2L139.2,943.3L139.2,943.4L139.2,943.5L139.2,943.6L139.2,943.7L139.2,943.8L139.2,943.9L139.2,944.0L139.2,944.1L139.2,944.2L139.2,944.3L139.2,944.4L139.2,944.5L139.2,944.6L139.2,944.7L139.2,944.8L139.2,944.9L139.2,945.0L139.2,945.1L139.2,945.2L139.2,945.3L139.2,945.4L139.2,945.5L139.2,945.6L139.2,945.7L139.2,945.8L139.2,945.9L139.2,946.0L139.2,946.1L139.2,946.2L139.2,946.3L139.2,946.4L139.2,946.5L139.2,946.6L139.2,946.7L139.2,946.8L139.2,946.9L139.2,947.0L139.2,947.1L139.2,947.2L139.2,947.3L139.2,947.4L139.2,947.5L139.2,947.6L139.2,947.7L139.2,947.8L139.2,947.9L139.2,948.0L139.2,948.1L139.2,948.2L139.2,948.3L139.2,948.4L139.2,948.5L139.2,948.6L139.2,948.7L139.2,948.8L139.2,948.9L139.2,949.0L139.2,949.1L139.2,949.2L139.2,949.3L139.2,949.4L139.2,949.5L139.2,949.6L139.2,949.7L139.2,949.8L139.2,949.9L139.2,950.0L139.2,950.1L139.2,950.2L139.2,950.3L139.2,950.4L139.2,950.5L144.0,950.1L148.7,949.6L153.4,949.2L158.2,948.8L162.9,948.3L167.6,947.9L172.3,947.5L177.1,947.1L181.8,946.7L186.5,946.3L191.2,945.9L195.9,945.4L200.7,945.0L205.4,944.6L210.1,944.2L214.8,943.9L219.6,943.5L224.3,943.1" fill="none" stroke="#7f7f7f" stroke-width="1.3" stroke-linejoin="miter"/>
<path d="M35.3,832.6L40.0,832.6L44.8,832.6L44.8,875.4L44.8,896.8L49.5,884.0L54.2,875.4L58.9,869.3L63.6,864.7L63.6,875.4L63.6,884.0L68.4,879.3L73.1,875.4L77.8,872.1L82.5,869.3L82.5,875.4L87.3,872.7L92.0,870.3L92.0,875.4L92.0,879.9L92.0,884.0L92.0,887.6L92.0,891.0L92.0,894.0L92.0,896.8L92.0,899.4L92.0,901.7L92.0,903.9L92.0,906.0L92.0,907.9L92.0,909.6L96.7,907.2L96.7,908.8L96.7,910.4L96.7,911.9L96.7,913.3L96.7,914.6L101.4,912.4L101.4,913.7L101.4,914.9L101.4,916.1L101.4,917.2L101.4,918.2L101.4,919.2L106.2,917.2L110.9,915.4L115.6,913.6L120.3,911.8L120.3,912.9L120.3,913.8L120.3,914.8L125.1,913.2L129.8,911.6L129.8,912.6L129.8,913.5L134.5,912.0L134.5,912.9L134.5,913.7L134.5,914.5L139.2,913.1L139.2,913.9L144.0,912.6L148.7,911.3L148.7,912.1L148.7,912.9L148.7,913.6L148.7,914.3L148.7,915.0L148.7,915.7L148.7,916.4L148.7,917.0L148.7,917.6L148.7,918.2L148.7,918.8L148.7,919.4L148.7,919.9L153.4,918.8L153.4,919.3L153.4,919.9L153.4,920.4L153.4,920.9L153.4,921.4L153.4,921.9L158.2,920.8L158.2,921.3L158.2,921.7L158.2,922.2L158.2,922.6L158.2,923.1L158.2,923.5L158.2,923.9L158.2,924.3L158.2,924.7L158.2,925.1L158.2,925.5L158.2,925.9L158.2,926.2L158.2,926.6L158.2,927.0L158.2,927.3L158.2,927.6L158.2,928.0L158.2,928.3L158.2,928.6L158.2,928.9L158.2,929.2L158.2,929.5L158.2,929.8L158.2,930.1L158.2,930.4L158.2,930.7L158.2,931.0L158.2,931.2L158.2,931.5L158.2,931.7L158.2,932.0L158.2,932.2L158.2,932.5L158.2,932.7L158.2,933.0L158.2,933.2L158.2,933.4L158.2,933.7L158.2,933.9L158.2,934.1L158.2,934.3L158.2,934.5L158.2,934.7L158.2,934.9L158.2,935.2L158.2,935.3L158.2,935.5L158.2,935.7L158.2,935.9L158.2,936.1L158.2,936.3L158.2,936.5L158.2,936.7L158.2,936.8L158.2,937.0L158.2,937.2L158.2,937.4L158.2,937.5L158.2,937.7L158.2,937.8L162.9,937.1L167.6,936.4L172.3,935.7L177.1,935.0L181.8,934.3L186.5,933.6L191.2,933.0L191.2,933.2L191.2,933.3L191.2,933.5L191.2,933.7L191.2,933.9L191.2,934.0L191.2,934.2L191.2,934.4L191.2,934.5L191.2,934.7L191.2,934.9L191.2,935.0L191.2,935.2L191.2,935.3L191.2,935.5L191.2,935.7L191.2,935.8L191.2,936.0L191.2,936.1L191.2,936.3L191.2,936.4L191.2,936.5L191.2,936.7L191.2,936.8L191.2,937.0L191.2,937.1L191.2,937.2L191.2,937.4L191.2,937.5L191.2,937.6L191.2,937.8L191.2,937.9L191.2,938.0L191.2,938.1L191.2,938.3L191.2,938.4L191.2,938.5L191.2,938.6L191.2,938.7L191.2,938.8L191.2,939.0L191.2,939.1L191.2,939.2L191.2,939.3L191.2,939.4L191.2,939.5L191.2,939.6L191.2,939.7L191.2,939.8L191.2,940.0L191.2,940.1L191.2,940.2L191.2,940.3L191.2,940.4L191.2,940.5L191.2,940.6L191.2,940.7L191.2,940.8L195.9,940.2L200.7,939.7L205.4,939.2L210.1,938.7L214.8,938.2L219.6,937.7L224.3,937.3" fill="none" stroke="#bcbd22" stroke-width="1.3" stroke-linejoin="miter"/>
<path d="M35.3,832.6L35.3,961.0L40.0,896.8L40.0,918.2L40.0,928.9L40.0,935.3L40.0,939.6L40.0,942.7L40.0,945.0L40.0,946.8L44.8,935.3L44.8,937.7L44.8,939.6L44.8,941.3L44.8,942.7L44.8,943.9L44.8,945.0L44.8,945.9L49.5,939.6L49.5,940.8L49.5,941.8L49.5,942.7L49.5,943.5L49.5,944.3L49.5,945.0L49.5,945.6L49.5,946.2L49.5,946.8L49.5,947.3L49.5,947.8L49.5,948.2L49.5,948.6L49.5,949.0L49.5,949.4L49.5,949.7L49.5,950.0L49.5,950.3L49.5,950.6L54.2,947.5L58.9,944.6L63.6,941.8L68.4,939.1L73.1,936.6L77.8,934.2L82.5,931.8L87.3,929.6L92.0,927.5L96.7,925.5L101.4,923.6L106.2,921.7L110.9,919.9L115.6,918.2L120.3,916.6L125.1,915.0L129.8,913.5L134.5,912.0L139.2,910.6L139.2,911.5L139.2,912.3L139.2,913.1L139.2,913.9L139.2,914.7L139.2,915.5L139.2,916.2L139.2,916.9L139.2,917.6L139.2,918.2L139.2,918.9L139.2,919.5L139.2,920.1L139.2,920.7L139.2,921.2L139.2,921.8L139.2,922.3L139.2,922.8L139.2,923.4L139.2,923.9L139.2,924.3L139.2,924.8L139.2,925.3L139.2,925.7L139.2,926.1L139.2,926.6L144.0,925.4L148.7,924.3L153.4,923.3L153.4,923.7L153.4,924.1L153.4,924.5L153.4,925.0L153.4,925.4L153.4,925.7L153.4,926.1L153.4,926.5L153.4,926.9L153.4,927.2L158.2,926.2L158.2,926.6L158.2,927.0L158.2,927.3L158.2,927.6L158.2,928.0L158.2,928.3L158.2,928.6L158.2,928.9L158.2,929.2L158.2,929.5L158.2,929.8L158.2,930.1L158.2,930.4L158.2,930.7L158.2,931.0L158.2,931.2L158.2,931.5L158.2,931.7L158.2,932.0L158.2,932.2L158.2,932.5L158.2,932.7L158.2,933.0L158.2,933.2L158.2,933.4L158.2,933.7L158.2,933.9L158.2,934.1L162.9,933.3L167.6,932.5L172.3,931.7L172.3,931.9L172.3,932.2L172.3,932.4L172.3,932.6L177.1,931.8L177.1,932.1L177.1,932.3L177.1,932.5L177.1,932.7L177.1,932.9L177.1,933.1L177.1,933.3L177.1,933.5L177.1,933.7L177.1,933.9L177.1,934.1L177.1,934.3L177.1,934.5L177.1,934.6L177.1,934.8L177.1,935.0L177.1,935.2L177.1,935.3L181.8,934.7L186.5,934.0L191.2,933.3L191.2,933.5L191.2,933.7L191.2,933.9L191.2,934.0L191.2,934.2L191.2,934.4L191.2,934.5L191.2,934.7L191.2,934.9L191.2,935.0L191.2,935.2L191.2,935.3L191.2,935.5L191.2,935.7L191.2,935.8L191.2,936.0L191.2,936.1L191.2,936.3L191.2,936.4L191.2,936.5L191.2,936.7L191.2,936.8L191.2,937.0L191.2,937.1L191.2,937.2L191.2,937.4L191.2,937.5L191.2,937.6L191.2,937.8L191.2,937.9L191.2,938.0L191.2,938.1L191.2,938.3L191.2,938.4L195.9,937.8L200.7,937.3L200.7,937.4L200.7,937.5L200.7,937.6L200.7,937.7L200.7,937.9L200.7,938.0L200.7,938.1L200.7,938.2L200.7,938.3L200.7,938.4L200.7,938.6L200.7,938.7L200.7,938.8L205.4,938.3L210.1,937.7L214.8,937.2L219.6,936.7L224.3,936.2" fill="none" stroke="#17becf" stroke-width="1.3" stroke-linejoin="miter"/>
</g></svg>
<line x1="35.3" y1="900.27" x2="224.3" y2="900.27" stroke="#00007f" stroke-width="1.3" stroke-dasharray="3.6,2.2"/>
<rect x="37.9" y="876.8" width="66.5" height="87.4" rx="1.8" fill="#fff" fill-opacity="0.8" stroke="#d0d0d0" stroke-width="0.8"/>
<line x1="39.699999999999996" y1="882.20" x2="52.3" y2="882.20" stroke="#1f77b4" stroke-width="1.3"/>
<text x="56.10" y="884.50" font-size="6.4" fill="#111" stroke="#111" stroke-width="0.3">CV1,AUC=0.34</text>
<line x1="39.699999999999996" y1="890.58" x2="52.3" y2="890.58" stroke="#ff7f0e" stroke-width="1.3"/>
<text x="56.10" y="892.88" font-size="6.4" fill="#111" stroke="#111" stroke-width="0.3">CV2,AUC=0.49</text>
<line x1="39.699999999999996" y1="898.96" x2="52.3" y2="898.96" stroke="#2ca02c" stroke-width="1.3"/>
<text x="56.10" y="901.26" font-size="6.4" fill="#111" stroke="#111" stroke-width="0.3">CV3,AUC=0.47</text>
<line x1="39.699999999999996" y1="907.34" x2="52.3" y2="907.34" stroke="#d62728" stroke-width="1.3"/>
<text x="56.10" y="909.64" font-size="6.4" fill="#111" stroke="#111" stroke-width="0.3">CV4,AUC=0.24</text>
<line x1="39.699999999999996" y1="915.72" x2="52.3" y2="915.72" stroke="#9467bd" stroke-width="1.3"/>
<text x="56.10" y="918.02" font-size="6.4" fill="#111" stroke="#111" stroke-width="0.3">CV5,AUC=0.52</text>
<line x1="39.699999999999996" y1="924.10" x2="52.3" y2="924.10" stroke="#8c564b" stroke-width="1.3"/>
<text x="56.10" y="926.40" font-size="6.4" fill="#111" stroke="#111" stroke-width="0.3">CV6,AUC=0.34</text>
<line x1="39.699999999999996" y1="932.48" x2="52.3" y2="932.48" stroke="#e377c2" stroke-width="1.3"/>
<text x="56.10" y="934.78" font-size="6.4" fill="#111" stroke="#111" stroke-width="0.3">CV7,AUC=0.61</text>
<line x1="39.699999999999996" y1="940.86" x2="52.3" y2="940.86" stroke="#7f7f7f" stroke-width="1.3"/>
<text x="56.10" y="943.16" font-size="6.4" fill="#111" stroke="#111" stroke-width="0.3">CV8,AUC=0.39</text>
<line x1="39.699999999999996" y1="949.24" x2="52.3" y2="949.24" stroke="#bcbd22" stroke-width="1.3"/>
<text x="56.10" y="951.54" font-size="6.4" fill="#111" stroke="#111" stroke-width="0.3">CV9,AUC=0.44</text>
<line x1="39.699999999999996" y1="957.62" x2="52.3" y2="957.62" stroke="#17becf" stroke-width="1.3"/>
<text x="56.10" y="959.92" font-size="6.4" fill="#111" stroke="#111" stroke-width="0.3">CV10,AUC=0.36</text>
<rect x="35.3" y="826.1" width="189.00" height="141.40" fill="none" stroke="#000" stroke-width="0.8"/>
<line x1="35.30" y1="967.5" x2="35.30" y2="970.1" stroke="#000" stroke-width="0.7"/>
<text x="35.30" y="976.10" font-size="7.3" fill="#111" text-anchor="middle" stroke="#111" stroke-width="0.3">0.0</text>
<line x1="73.10" y1="967.5" x2="73.10" y2="970.1" stroke="#000" stroke-width="0.7"/>
<text x="73.10" y="976.10" font-size="7.3" fill="#111" text-anchor="middle" stroke="#111" stroke-width="0.3">0.2</text>
<line x1="110.90" y1="967.5" x2="110.90" y2="970.1" stroke="#000" stroke-width="0.7"/>
<text x="110.90" y="976.10" font-size="7.3" fill="#111" text-anchor="middle" stroke="#111" stroke-width="0.3">0.4</text>
<line x1="148.70" y1="967.5" x2="148.70" y2="970.1" stroke="#000" stroke-width="0.7"/>
<text x="148.70" y="976.10" font-size="7.3" fill="#111" text-anchor="middle" stroke="#111" stroke-width="0.3">0.6</text>
<line x1="186.50" y1="967.5" x2="186.50" y2="970.1" stroke="#000" stroke-width="0.7"/>
<text x="186.50" y="976.10" font-size="7.3" fill="#111" text-anchor="middle" stroke="#111" stroke-width="0.3">0.8</text>
<line x1="224.30" y1="967.5" x2="224.30" y2="970.1" stroke="#000" stroke-width="0.7"/>
<text x="224.30" y="976.10" font-size="7.3" fill="#111" text-anchor="middle" stroke="#111" stroke-width="0.3">1.0</text>
<line x1="32.699999999999996" y1="961.05" x2="35.3" y2="961.05" stroke="#000" stroke-width="0.7"/>
<text x="31.70" y="963.75" font-size="7.3" fill="#111" text-anchor="end" stroke="#111" stroke-width="0.3">0.0</text>
<line x1="32.699999999999996" y1="935.35" x2="35.3" y2="935.35" stroke="#000" stroke-width="0.7"/>
<text x="31.70" y="938.05" font-size="7.3" fill="#111" text-anchor="end" stroke="#111" stroke-width="0.3">0.2</text>
<line x1="32.699999999999996" y1="909.65" x2="35.3" y2="909.65" stroke="#000" stroke-width="0.7"/>
<text x="31.70" y="912.35" font-size="7.3" fill="#111" text-anchor="end" stroke="#111" stroke-width="0.3">0.4</text>
<line x1="32.699999999999996" y1="883.95" x2="35.3" y2="883.95" stroke="#000" stroke-width="0.7"/>
<text x="31.70" y="886.65" font-size="7.3" fill="#111" text-anchor="end" stroke="#111" stroke-width="0.3">0.6</text>
<line x1="32.699999999999996" y1="858.25" x2="35.3" y2="858.25" stroke="#000" stroke-width="0.7"/>
<text x="31.70" y="860.95" font-size="7.3" fill="#111" text-anchor="end" stroke="#111" stroke-width="0.3">0.8</text>
<line x1="32.699999999999996" y1="832.55" x2="35.3" y2="832.55" stroke="#000" stroke-width="0.7"/>
<text x="31.70" y="835.25" font-size="7.3" fill="#111" text-anchor="end" stroke="#111" stroke-width="0.3">1.0</text>
<text x="19.00" y="896.80" font-size="7.9" fill="#111" text-anchor="middle" transform="rotate(-90 19.00 896.80)" stroke="#111" stroke-width="0.3">Precision</text>
<text x="129.80" y="985.50" font-size="7.9" fill="#111" text-anchor="middle" stroke="#111" stroke-width="0.3">Recall</text>
<text x="246.20" y="831.50" font-size="19" fill="#000">J</text>
<svg x="281.8" y="825.4" width="189.60" height="141.10" overflow="hidden"><g transform="translate(-281.8,-825.4)">
<path d="M281.8,831.8L282.6,831.8L283.3,831.8L284.1,831.8L284.8,831.8L285.6,831.8L286.4,831.8L287.1,831.8L287.9,831.8L288.6,831.8L289.4,831.8L290.1,831.8L290.9,831.8L290.9,841.7L291.7,841.0L291.7,848.9L291.7,855.9L291.7,862.0L292.4,860.3L293.2,858.8L293.9,857.5L294.7,856.3L295.5,855.2L296.2,854.1L297.0,853.2L297.7,852.4L298.5,851.6L299.2,850.8L300.0,850.2L300.0,853.9L300.8,853.2L301.5,852.5L302.3,851.9L303.0,851.3L303.8,850.7L304.6,850.2L305.3,849.6L306.1,849.2L306.8,848.7L307.6,848.3L308.3,847.9L309.1,847.5L309.9,847.1L310.6,846.7L311.4,846.4L312.1,846.1L312.1,848.6L312.9,848.2L313.7,847.9L314.4,847.5L315.2,847.2L315.9,846.9L316.7,846.6L317.4,846.4L318.2,846.1L319.0,845.8L319.7,845.6L320.5,845.3L321.2,845.1L322.0,844.9L322.8,844.7L323.5,844.4L323.5,846.3L324.3,846.1L325.0,845.9L325.8,845.6L326.5,845.4L327.3,845.2L328.1,845.0L328.8,844.8L329.6,844.7L330.3,844.5L331.1,844.3L331.9,844.1L331.9,845.7L332.6,845.5L333.4,845.3L334.1,845.2L334.9,845.0L335.6,844.8L336.4,844.7L337.2,844.5L337.2,845.9L337.2,847.3L337.9,847.1L337.9,848.4L338.7,848.2L339.4,848.0L340.2,847.9L341.0,847.7L341.7,847.5L342.5,847.3L343.2,847.2L344.0,847.0L344.0,848.2L344.7,848.0L345.5,847.9L346.3,847.7L347.0,847.5L347.8,847.4L348.5,847.2L348.5,848.3L349.3,848.2L349.3,849.3L349.3,850.3L349.3,851.4L350.1,851.2L350.1,852.2L350.1,853.2L350.1,854.2L350.1,855.2L350.1,856.1L350.1,857.0L350.1,857.9L350.1,858.8L350.1,859.7L350.1,860.6L350.8,860.3L351.6,860.1L352.3,859.9L353.1,859.6L353.8,859.4L354.6,859.2L355.4,858.9L356.1,858.7L356.9,858.5L356.9,859.3L357.6,859.1L357.6,859.9L357.6,860.7L357.6,861.4L357.6,862.2L358.4,862.0L359.2,861.7L359.9,861.5L360.7,861.3L361.4,861.1L361.4,861.8L362.2,861.6L362.2,862.3L362.9,862.1L363.7,861.8L364.5,861.6L365.2,861.4L366.0,861.2L366.7,861.0L367.5,860.8L368.3,860.6L369.0,860.4L369.0,861.1L369.8,860.9L370.5,860.7L371.3,860.5L371.3,861.2L371.3,861.8L371.3,862.4L371.3,863.1L371.3,863.7L371.3,864.3L371.3,864.9L372.0,864.7L372.8,864.5L373.6,864.3L374.3,864.1L375.1,863.9L375.8,863.7L376.6,863.5L377.4,863.3L377.4,863.9L377.4,864.5L378.1,864.3L378.9,864.1L379.6,863.9L380.4,863.7L381.2,863.5L381.9,863.3L382.7,863.2L382.7,863.7L383.4,863.5L384.2,863.4L384.9,863.2L384.9,863.7L385.7,863.5L385.7,864.1L385.7,864.6L385.7,865.1L385.7,865.6L385.7,866.1L385.7,866.6L385.7,867.1L386.5,866.9L387.2,866.7L388.0,866.6L388.7,866.4L389.5,866.2L390.3,866.0L391.0,865.9L391.0,866.3L391.8,866.2L392.5,866.0L393.3,865.8L393.3,866.3L393.3,866.7L393.3,867.2L393.3,867.7L394.0,867.5L394.8,867.3L395.6,867.1L396.3,867.0L397.1,866.8L397.8,866.6L398.6,866.5L398.6,866.9L398.6,867.4L398.6,867.8L398.6,868.2L399.4,868.0L400.1,867.9L400.9,867.7L401.6,867.6L402.4,867.4L402.4,867.8L402.4,868.2L402.4,868.6L403.1,868.5L403.9,868.3L403.9,868.7L403.9,869.1L404.7,869.0L405.4,868.8L406.2,868.6L406.9,868.5L407.7,868.3L408.5,868.2L409.2,868.0L409.2,868.4L409.2,868.8L409.2,869.2L409.2,869.6L409.2,869.9L409.2,870.3L409.2,870.7L409.2,871.0L409.2,871.4L410.0,871.3L410.7,871.1L410.7,871.5L410.7,871.8L410.7,872.2L410.7,872.5L410.7,872.9L410.7,873.2L410.7,873.6L410.7,873.9L410.7,874.2L410.7,874.6L411.5,874.4L412.2,874.2L413.0,874.1L413.0,874.4L413.0,874.7L413.0,875.1L413.0,875.4L413.0,875.7L413.8,875.6L414.5,875.4L415.3,875.2L415.3,875.5L415.3,875.9L415.3,876.2L416.0,876.0L416.8,875.8L417.6,875.7L418.3,875.5L419.1,875.4L419.8,875.2L420.6,875.0L421.3,874.9L421.3,875.2L421.3,875.5L421.3,875.8L421.3,876.1L421.3,876.4L421.3,876.7L421.3,877.0L421.3,877.3L422.1,877.1L422.9,877.0L422.9,877.3L423.6,877.1L423.6,877.4L423.6,877.7L423.6,877.9L423.6,878.2L423.6,878.5L423.6,878.8L423.6,879.1L423.6,879.3L423.6,879.6L423.6,879.9L423.6,880.1L423.6,880.4L423.6,880.7L424.4,880.5L425.1,880.3L425.9,880.2L426.7,880.0L427.4,879.9L428.2,879.7L428.2,880.0L428.2,880.2L428.2,880.5L428.2,880.7L428.2,881.0L428.2,881.2L428.9,881.1L429.7,880.9L430.4,880.8L431.2,880.6L432.0,880.5L432.7,880.3L432.7,880.6L432.7,880.8L432.7,881.1L432.7,881.3L433.5,881.2L434.2,881.0L435.0,880.9L435.8,880.7L436.5,880.6L436.5,880.8L436.5,881.0L436.5,881.3L436.5,881.5L436.5,881.7L436.5,882.0L436.5,882.2L436.5,882.4L436.5,882.7L436.5,882.9L437.3,882.8L438.0,882.6L438.0,882.8L438.0,883.1L438.0,883.3L438.0,883.5L438.0,883.7L438.0,883.9L438.0,884.2L438.0,884.4L438.8,884.2L439.5,884.1L440.3,883.9L441.1,883.8L441.8,883.6L441.8,883.8L441.8,884.1L441.8,884.3L441.8,884.5L441.8,884.7L441.8,884.9L441.8,885.1L441.8,885.3L442.6,885.2L443.3,885.0L444.1,884.9L444.9,884.7L445.6,884.6L446.4,884.5L447.1,884.3L447.9,884.2L447.9,884.4L447.9,884.6L447.9,884.8L447.9,885.0L447.9,885.2L447.9,885.4L447.9,885.6L447.9,885.8L447.9,886.0L447.9,886.2L447.9,886.4L447.9,886.6L448.6,886.4L449.4,886.3L450.2,886.1L450.9,886.0L451.7,885.8L452.4,885.7L453.2,885.6L453.2,885.8L453.2,885.9L453.2,886.1L453.2,886.3L453.2,886.5L453.2,886.7L453.2,886.9L453.2,887.1L453.2,887.3L453.2,887.4L453.2,887.6L453.2,887.8L453.2,888.0L453.2,888.2L453.2,888.3L453.2,888.5L453.2,888.7L453.2,888.9L453.2,889.0L453.2,889.2L453.2,889.4L453.2,889.6L454.0,889.4L454.7,889.3L455.5,889.1L456.2,889.0L457.0,888.9L457.7,888.7L458.5,888.6L459.3,888.5L460.0,888.3L460.0,888.5L460.0,888.7L460.0,888.8L460.0,889.0L460.0,889.2L460.0,889.3L460.0,889.5L460.0,889.7L460.0,889.8L460.0,890.0L460.0,890.1L460.0,890.3L460.0,890.5L460.0,890.6L460.0,890.8L460.0,891.0L460.0,891.1L460.0,891.3L460.0,891.4L460.0,891.6L460.0,891.7L460.0,891.9L460.0,892.0L460.0,892.2L460.0,892.3L460.0,892.5L460.0,892.7L460.0,892.8L460.8,892.7L461.5,892.5L462.3,892.4L463.1,892.3L463.8,892.1L464.6,892.0L465.3,891.9L466.1,891.7L466.8,891.6L467.6,891.5L468.4,891.3L468.4,891.5L468.4,891.6L468.4,891.8L469.1,891.7L469.1,891.8L469.1,892.0L469.1,892.1L469.1,892.2L469.1,892.4L469.1,892.5L469.1,892.7L469.1,892.8L469.1,893.0L469.1,893.1L469.9,893.0L469.9,893.1L469.9,893.3L469.9,893.4L469.9,893.5L469.9,893.7L470.6,893.5L471.4,893.4" fill="none" stroke="#1f77b4" stroke-width="1.3" stroke-linejoin="miter"/>
<path d="M281.8,831.8L282.6,831.8L283.3,831.8L284.1,831.8L284.8,831.8L285.6,831.8L286.4,831.8L286.4,850.2L286.4,863.9L287.1,860.3L287.9,857.5L287.9,866.8L288.6,863.9L288.6,871.3L289.4,868.5L290.1,866.0L290.9,863.9L291.7,862.0L292.4,860.3L293.2,858.8L293.2,863.9L293.9,862.4L294.7,861.0L295.5,859.7L296.2,858.6L296.2,862.6L297.0,861.4L297.0,865.1L297.7,863.9L298.5,862.8L299.2,861.8L300.0,860.8L300.8,859.9L300.8,862.9L301.5,862.0L302.3,861.1L303.0,860.3L303.8,859.6L304.6,858.8L304.6,861.4L305.3,860.7L306.1,860.0L306.8,859.3L307.6,858.7L307.6,861.0L308.3,860.3L309.1,859.7L309.9,859.1L309.9,861.2L309.9,863.2L310.6,862.6L311.4,862.0L312.1,861.4L312.9,860.9L313.7,860.3L314.4,859.8L315.2,859.3L315.9,858.8L316.7,858.4L317.4,857.9L318.2,857.5L319.0,857.1L319.7,856.7L319.7,858.3L320.5,857.9L321.2,857.5L322.0,857.1L322.0,858.6L322.8,858.2L322.8,859.7L322.8,861.1L323.5,860.7L324.3,860.3L325.0,859.9L325.8,859.6L325.8,860.9L326.5,860.5L327.3,860.1L328.1,859.8L328.8,859.4L329.6,859.1L330.3,858.7L330.3,860.0L331.1,859.6L331.1,860.8L331.9,860.5L331.9,861.7L331.9,862.8L332.6,862.4L333.4,862.1L333.4,863.2L333.4,864.2L334.1,863.9L334.9,863.5L335.6,863.2L336.4,862.9L337.2,862.6L337.9,862.2L337.9,863.2L338.7,862.9L339.4,862.6L340.2,862.3L341.0,862.0L341.0,863.0L341.0,863.9L341.0,864.8L341.0,865.7L341.0,866.6L341.7,866.3L342.5,866.0L343.2,865.6L344.0,865.3L344.7,865.0L344.7,865.9L344.7,866.7L345.5,866.4L346.3,866.1L347.0,865.8L347.8,865.5L348.5,865.2L349.3,865.0L350.1,864.7L350.1,865.5L350.1,866.2L350.8,866.0L351.6,865.7L352.3,865.4L353.1,865.2L353.1,865.9L353.1,866.6L353.1,867.3L353.1,868.1L353.1,868.8L353.8,868.5L354.6,868.2L354.6,868.9L355.4,868.6L356.1,868.3L356.9,868.1L357.6,867.8L358.4,867.6L358.4,868.2L358.4,868.9L358.4,869.5L358.4,870.1L358.4,870.7L359.2,870.5L359.9,870.2L360.7,870.0L361.4,869.7L361.4,870.3L361.4,870.9L361.4,871.5L362.2,871.2L362.9,871.0L362.9,871.5L362.9,872.1L362.9,872.7L363.7,872.4L364.5,872.2L365.2,871.9L366.0,871.7L366.0,872.2L366.0,872.7L366.0,873.3L366.0,873.8L366.7,873.5L367.5,873.3L368.3,873.1L369.0,872.8L369.8,872.6L370.5,872.3L370.5,872.8L370.5,873.3L370.5,873.8L370.5,874.3L371.3,874.1L372.0,873.9L372.0,874.3L372.8,874.1L372.8,874.6L372.8,875.1L372.8,875.5L372.8,876.0L372.8,876.4L372.8,876.9L372.8,877.3L373.6,877.1L373.6,877.5L373.6,878.0L374.3,877.7L375.1,877.5L375.8,877.3L376.6,877.0L377.4,876.8L378.1,876.6L378.9,876.3L379.6,876.1L380.4,875.9L381.2,875.7L381.2,876.1L381.2,876.5L381.2,876.9L381.2,877.3L381.2,877.7L381.2,878.1L381.2,878.5L381.2,878.9L381.9,878.7L382.7,878.5L383.4,878.2L384.2,878.0L384.9,877.8L385.7,877.6L386.5,877.4L387.2,877.2L388.0,877.0L388.7,876.7L389.5,876.5L389.5,876.9L389.5,877.3L389.5,877.7L390.3,877.5L391.0,877.3L391.0,877.6L391.0,878.0L391.0,878.4L391.0,878.7L391.0,879.1L391.8,878.9L392.5,878.7L393.3,878.5L394.0,878.3L394.0,878.6L394.0,879.0L394.0,879.3L394.8,879.1L394.8,879.4L394.8,879.8L394.8,880.1L394.8,880.5L394.8,880.8L394.8,881.1L394.8,881.4L395.6,881.2L396.3,881.0L397.1,880.8L397.8,880.6L398.6,880.4L399.4,880.2L400.1,880.0L400.9,879.9L401.6,879.7L402.4,879.5L402.4,879.8L402.4,880.1L403.1,879.9L403.9,879.7L404.7,879.5L404.7,879.9L404.7,880.2L404.7,880.5L404.7,880.8L404.7,881.1L404.7,881.4L404.7,881.7L404.7,882.0L405.4,881.8L406.2,881.6L406.9,881.4L407.7,881.2L408.5,881.0L409.2,880.9L410.0,880.7L410.0,881.0L410.0,881.3L410.0,881.5L410.0,881.8L410.0,882.1L410.0,882.4L410.0,882.7L410.0,882.9L410.7,882.8L411.5,882.6L412.2,882.4L413.0,882.2L413.8,882.1L414.5,881.9L415.3,881.7L415.3,882.0L415.3,882.2L415.3,882.5L415.3,882.8L415.3,883.0L415.3,883.3L415.3,883.6L415.3,883.8L415.3,884.1L415.3,884.3L416.0,884.2L416.8,884.0L417.6,883.8L418.3,883.6L419.1,883.5L419.1,883.7L419.1,884.0L419.1,884.2L419.8,884.0L420.6,883.9L421.3,883.7L421.3,884.0L421.3,884.2L421.3,884.4L422.1,884.3L422.9,884.1L422.9,884.3L423.6,884.2L424.4,884.0L424.4,884.3L424.4,884.5L424.4,884.7L424.4,885.0L424.4,885.2L424.4,885.4L424.4,885.7L424.4,885.9L424.4,886.1L424.4,886.3L424.4,886.6L424.4,886.8L424.4,887.0L424.4,887.2L424.4,887.5L424.4,887.7L424.4,887.9L424.4,888.1L424.4,888.3L424.4,888.5L424.4,888.7L424.4,889.0L424.4,889.2L424.4,889.4L425.1,889.2L425.9,889.0L426.7,888.9L427.4,888.7L428.2,888.5L428.9,888.4L429.7,888.2L430.4,888.1L431.2,887.9L432.0,887.7L432.7,887.6L433.5,887.4L434.2,887.3L435.0,887.1L435.8,886.9L435.8,887.2L435.8,887.4L435.8,887.6L435.8,887.8L435.8,888.0L435.8,888.2L435.8,888.4L435.8,888.6L435.8,888.7L435.8,888.9L435.8,889.1L435.8,889.3L435.8,889.5L436.5,889.4L437.3,889.2L438.0,889.1L438.8,888.9L439.5,888.8L440.3,888.6L441.1,888.4L441.8,888.3L442.6,888.1L442.6,888.3L442.6,888.5L442.6,888.7L442.6,888.9L442.6,889.1L442.6,889.3L442.6,889.5L443.3,889.3L444.1,889.2L444.9,889.0L444.9,889.2L444.9,889.4L444.9,889.6L444.9,889.7L444.9,889.9L445.6,889.8L446.4,889.6L446.4,889.8L446.4,890.0L446.4,890.2L446.4,890.3L447.1,890.2L447.9,890.0L447.9,890.2L447.9,890.4L448.6,890.2L449.4,890.1L449.4,890.3L449.4,890.4L449.4,890.6L450.2,890.5L450.9,890.3L451.7,890.2L451.7,890.3L451.7,890.5L451.7,890.7L451.7,890.9L451.7,891.0L451.7,891.2L451.7,891.3L451.7,891.5L452.4,891.4L452.4,891.5L452.4,891.7L452.4,891.9L452.4,892.0L452.4,892.2L452.4,892.3L452.4,892.5L452.4,892.7L452.4,892.8L452.4,893.0L453.2,892.8L454.0,892.7L454.7,892.5L455.5,892.4L456.2,892.3L456.2,892.4L456.2,892.6L456.2,892.7L456.2,892.9L456.2,893.0L456.2,893.2L456.2,893.3L456.2,893.5L456.2,893.6L456.2,893.8L456.2,893.9L456.2,894.1L456.2,894.2L456.2,894.4L456.2,894.5L456.2,894.7L456.2,894.8L456.2,895.0L456.2,895.1L457.0,895.0L457.7,894.8L458.5,894.7L459.3,894.6L460.0,894.4L460.8,894.3L461.5,894.1L462.3,894.0L463.1,893.9L463.1,894.0L463.1,894.2L463.1,894.3L463.1,894.4L463.1,894.6L463.1,894.7L463.1,894.9L463.1,895.0L463.1,895.1L463.1,895.3L463.1,895.4L463.1,895.5L463.1,895.7L463.1,895.8L463.1,896.0L463.8,895.8L464.6,895.7L465.3,895.6L466.1,895.4L466.8,895.3L466.8,895.4L466.8,895.6L466.8,895.7L466.8,895.8L466.8,896.0L466.8,896.1L467.6,896.0L467.6,896.1L467.6,896.2L467.6,896.3L468.4,896.2L468.4,896.3L468.4,896.5L468.4,896.6L468.4,896.7L468.4,896.8L468.4,897.0L468.4,897.1L468.4,897.2L468.4,897.4L468.4,897.5L469.1,897.3L469.9,897.2L470.6,897.1L471.4,897.0" fill="none" stroke="#ff7f0e" stroke-width="1.3" stroke-linejoin="miter"/>
<path d="M281.8,831.8L282.6,831.8L283.3,831.8L284.1,831.8L284.8,831.8L285.6,831.8L286.4,831.8L287.1,831.8L287.9,831.8L287.9,846.1L288.6,844.7L288.6,855.2L288.6,863.9L289.4,861.4L289.4,868.5L290.1,866.0L290.1,871.9L290.9,869.6L291.7,867.5L292.4,865.6L292.4,870.3L293.2,868.5L293.9,866.8L294.7,865.3L294.7,869.2L295.5,867.7L296.2,866.4L297.0,865.1L297.7,863.9L298.5,862.8L299.2,861.8L299.2,864.9L300.0,863.9L300.8,862.9L301.5,862.0L302.3,861.1L302.3,863.9L303.0,863.0L303.8,862.2L304.6,861.4L305.3,860.7L306.1,860.0L306.8,859.3L307.6,858.7L308.3,858.1L308.3,860.3L309.1,859.7L309.9,859.1L310.6,858.6L310.6,860.6L311.4,860.0L312.1,859.5L312.9,859.0L313.7,858.4L314.4,858.0L314.4,859.8L315.2,859.3L315.9,858.8L316.7,858.4L317.4,857.9L318.2,857.5L319.0,857.1L319.0,858.7L319.7,858.3L320.5,857.9L321.2,857.5L322.0,857.1L322.8,856.7L323.5,856.4L324.3,856.0L325.0,855.7L325.8,855.3L326.5,855.0L327.3,854.7L328.1,854.4L328.1,855.8L328.1,857.1L328.8,856.8L329.6,856.5L330.3,856.2L331.1,855.9L331.9,855.6L331.9,856.9L332.6,856.6L333.4,856.3L334.1,856.0L334.9,855.7L334.9,856.9L334.9,858.1L334.9,859.2L335.6,858.9L336.4,858.6L337.2,858.3L337.9,858.0L338.7,857.8L339.4,857.5L340.2,857.2L340.2,858.3L340.2,859.3L341.0,859.0L341.0,860.0L341.0,861.0L341.7,860.8L342.5,860.5L343.2,860.2L343.2,861.1L343.2,862.1L343.2,863.0L343.2,863.9L343.2,864.8L344.0,864.5L344.7,864.2L345.5,863.9L346.3,863.6L346.3,864.5L347.0,864.2L347.8,863.9L348.5,863.6L349.3,863.4L349.3,864.2L349.3,865.0L350.1,864.7L350.8,864.4L351.6,864.2L352.3,863.9L352.3,864.7L352.3,865.4L353.1,865.2L353.8,864.9L353.8,865.6L353.8,866.4L354.6,866.1L355.4,865.8L356.1,865.6L356.9,865.3L357.6,865.1L357.6,865.8L357.6,866.5L358.4,866.2L358.4,866.9L358.4,867.6L358.4,868.2L359.2,868.0L359.9,867.7L359.9,868.3L360.7,868.1L360.7,868.7L360.7,869.3L360.7,870.0L360.7,870.6L360.7,871.2L361.4,870.9L362.2,870.6L362.9,870.4L363.7,870.1L364.5,869.9L365.2,869.6L366.0,869.4L366.7,869.2L367.5,868.9L367.5,869.5L367.5,870.1L368.3,869.8L369.0,869.6L369.8,869.4L369.8,869.9L369.8,870.5L370.5,870.2L371.3,870.0L371.3,870.5L371.3,871.1L371.3,871.6L372.0,871.3L372.8,871.1L373.6,870.9L374.3,870.7L374.3,871.2L374.3,871.7L374.3,872.2L374.3,872.7L375.1,872.4L375.8,872.2L375.8,872.7L376.6,872.5L377.4,872.3L377.4,872.7L377.4,873.2L377.4,873.7L377.4,874.1L377.4,874.6L377.4,875.0L377.4,875.5L377.4,875.9L377.4,876.4L378.1,876.1L378.9,875.9L379.6,875.7L380.4,875.4L380.4,875.9L380.4,876.3L381.2,876.1L381.9,875.9L382.7,875.6L383.4,875.4L384.2,875.2L384.9,875.0L384.9,875.4L384.9,875.8L385.7,875.6L386.5,875.4L387.2,875.2L388.0,875.0L388.7,874.8L389.5,874.6L389.5,875.0L389.5,875.4L390.3,875.2L391.0,875.0L391.8,874.8L391.8,875.2L391.8,875.6L391.8,875.9L391.8,876.3L392.5,876.1L393.3,875.9L394.0,875.7L394.0,876.1L394.0,876.5L394.0,876.8L394.0,877.2L394.0,877.6L394.0,877.9L394.0,878.3L394.0,878.6L394.8,878.4L395.6,878.2L396.3,878.0L397.1,877.8L397.8,877.6L397.8,878.0L397.8,878.3L398.6,878.1L399.4,877.9L400.1,877.7L400.9,877.6L401.6,877.4L401.6,877.7L401.6,878.0L401.6,878.4L401.6,878.7L401.6,879.0L401.6,879.3L401.6,879.7L401.6,880.0L401.6,880.3L401.6,880.6L401.6,880.9L402.4,880.7L403.1,880.5L403.9,880.4L404.7,880.2L405.4,880.0L405.4,880.3L405.4,880.6L405.4,880.9L405.4,881.2L405.4,881.5L405.4,881.8L405.4,882.1L405.4,882.4L405.4,882.7L405.4,882.9L405.4,883.2L405.4,883.5L405.4,883.8L405.4,884.1L405.4,884.3L405.4,884.6L406.2,884.4L406.9,884.2L407.7,884.0L408.5,883.9L408.5,884.1L408.5,884.4L409.2,884.2L410.0,884.0L410.7,883.8L411.5,883.7L412.2,883.5L413.0,883.3L413.8,883.1L414.5,883.0L415.3,882.8L416.0,882.6L416.8,882.4L417.6,882.3L418.3,882.1L419.1,881.9L419.8,881.8L419.8,882.0L419.8,882.3L419.8,882.5L419.8,882.8L419.8,883.0L419.8,883.3L420.6,883.1L421.3,883.0L422.1,882.8L422.9,882.6L423.6,882.5L424.4,882.3L424.4,882.6L424.4,882.8L424.4,883.0L424.4,883.3L424.4,883.5L424.4,883.8L424.4,884.0L425.1,883.9L425.9,883.7L425.9,883.9L425.9,884.2L425.9,884.4L425.9,884.6L425.9,884.9L425.9,885.1L425.9,885.3L425.9,885.6L425.9,885.8L426.7,885.6L427.4,885.5L428.2,885.3L428.9,885.1L429.7,885.0L430.4,884.8L431.2,884.7L432.0,884.5L432.7,884.3L433.5,884.2L433.5,884.4L434.2,884.3L434.2,884.5L434.2,884.7L434.2,884.9L434.2,885.1L434.2,885.4L434.2,885.6L434.2,885.8L435.0,885.6L435.8,885.5L436.5,885.3L436.5,885.5L436.5,885.8L436.5,886.0L436.5,886.2L436.5,886.4L436.5,886.6L436.5,886.8L436.5,887.0L436.5,887.2L437.3,887.0L438.0,886.9L438.8,886.7L438.8,886.9L438.8,887.1L438.8,887.3L438.8,887.5L438.8,887.7L438.8,887.9L438.8,888.1L439.5,888.0L440.3,887.8L441.1,887.7L441.8,887.5L441.8,887.7L441.8,887.9L441.8,888.1L441.8,888.3L441.8,888.5L441.8,888.7L442.6,888.5L443.3,888.4L443.3,888.6L443.3,888.8L443.3,888.9L443.3,889.1L444.1,889.0L444.9,888.8L445.6,888.7L446.4,888.5L447.1,888.4L447.1,888.6L447.1,888.8L447.1,888.9L447.1,889.1L447.1,889.3L447.1,889.5L447.1,889.7L447.1,889.8L447.1,890.0L447.1,890.2L447.9,890.0L447.9,890.2L447.9,890.4L447.9,890.6L448.6,890.4L449.4,890.3L449.4,890.4L449.4,890.6L449.4,890.8L450.2,890.6L450.9,890.5L451.7,890.3L452.4,890.2L453.2,890.1L454.0,889.9L454.7,889.8L455.5,889.6L455.5,889.8L455.5,890.0L455.5,890.1L455.5,890.3L455.5,890.5L455.5,890.6L455.5,890.8L455.5,891.0L455.5,891.1L455.5,891.3L455.5,891.5L455.5,891.6L456.2,891.5L456.2,891.6L456.2,891.8L456.2,892.0L456.2,892.1L456.2,892.3L456.2,892.4L456.2,892.6L456.2,892.7L456.2,892.9L456.2,893.0L456.2,893.2L456.2,893.3L456.2,893.5L456.2,893.6L456.2,893.8L456.2,893.9L456.2,894.1L456.2,894.2L456.2,894.4L456.2,894.5L456.2,894.7L456.2,894.8L456.2,895.0L456.2,895.1L456.2,895.2L456.2,895.4L456.2,895.5L456.2,895.7L456.2,895.8L456.2,896.0L456.2,896.1L456.2,896.2L456.2,896.4L456.2,896.5L456.2,896.6L456.2,896.8L456.2,896.9L456.2,897.0L456.2,897.2L457.0,897.0L457.7,896.9L458.5,896.8L459.3,896.6L460.0,896.5L460.8,896.4L461.5,896.2L462.3,896.1L463.1,896.0L463.8,895.8L464.6,895.7L465.3,895.6L466.1,895.4L466.8,895.3L467.6,895.2L467.6,895.3L468.4,895.2L469.1,895.0L469.1,895.2L469.1,895.3L469.1,895.4L469.1,895.6L469.1,895.7L469.1,895.8L469.1,896.0L469.1,896.1L469.1,896.2L469.1,896.3L469.1,896.5L469.1,896.6L469.1,896.7L469.1,896.8L469.1,897.0L469.9,896.8L470.6,896.7L470.6,896.8L470.6,897.0L470.6,897.1L470.6,897.2L470.6,897.3L470.6,897.5L470.6,897.6L470.6,897.7L471.4,897.6" fill="none" stroke="#2ca02c" stroke-width="1.3" stroke-linejoin="miter"/>
<path d="M281.8,831.8L282.6,831.8L283.3,831.8L284.1,831.8L284.8,831.8L284.8,857.5L285.6,853.2L285.6,868.5L286.4,863.9L287.1,860.3L287.1,870.3L287.9,866.8L288.6,863.9L289.4,861.4L289.4,868.5L290.1,866.0L290.9,863.9L291.7,862.0L292.4,860.3L292.4,865.6L293.2,863.9L293.9,862.4L293.9,866.8L294.7,865.3L295.5,863.9L296.2,862.6L297.0,861.4L297.7,860.3L298.5,859.3L299.2,858.4L299.2,861.8L300.0,860.8L300.8,859.9L301.5,859.0L302.3,858.2L303.0,857.5L303.8,856.8L303.8,859.6L304.6,858.8L305.3,858.1L306.1,857.5L306.1,860.0L306.8,859.3L307.6,858.7L308.3,858.1L309.1,857.5L309.9,856.9L309.9,859.1L310.6,858.6L311.4,858.0L312.1,857.5L312.1,859.5L312.1,861.4L312.9,860.9L313.7,860.3L314.4,859.8L315.2,859.3L315.9,858.8L316.7,858.4L317.4,857.9L318.2,857.5L319.0,857.1L319.0,858.7L319.7,858.3L320.5,857.9L321.2,857.5L322.0,857.1L322.0,858.6L322.0,860.1L322.8,859.7L323.5,859.3L324.3,858.9L324.3,860.3L325.0,859.9L325.8,859.6L326.5,859.2L326.5,860.5L327.3,860.1L328.1,859.8L328.8,859.4L329.6,859.1L330.3,858.7L331.1,858.4L331.1,859.6L331.1,860.8L331.9,860.5L331.9,861.7L331.9,862.8L331.9,863.9L332.6,863.5L333.4,863.2L334.1,862.8L334.9,862.5L335.6,862.2L336.4,861.8L337.2,861.5L337.9,861.2L338.7,860.9L339.4,860.6L340.2,860.3L341.0,860.0L341.7,859.8L342.5,859.5L342.5,860.5L343.2,860.2L344.0,859.9L344.7,859.7L344.7,860.6L345.5,860.3L346.3,860.1L347.0,859.8L347.8,859.6L348.5,859.3L349.3,859.1L350.1,858.8L350.8,858.6L351.6,858.4L351.6,859.2L351.6,860.1L352.3,859.9L353.1,859.6L353.8,859.4L354.6,859.2L354.6,860.0L354.6,860.8L355.4,860.6L356.1,860.3L356.9,860.1L357.6,859.9L358.4,859.7L358.4,860.4L358.4,861.2L358.4,862.0L358.4,862.7L359.2,862.5L359.9,862.2L360.7,862.0L361.4,861.8L362.2,861.6L362.9,861.4L362.9,862.1L363.7,861.8L364.5,861.6L364.5,862.3L364.5,863.0L365.2,862.8L366.0,862.6L366.7,862.4L366.7,863.0L367.5,862.8L368.3,862.6L369.0,862.4L369.8,862.2L369.8,862.8L369.8,863.5L369.8,864.1L370.5,863.9L370.5,864.5L370.5,865.1L371.3,864.9L372.0,864.7L372.0,865.3L372.0,865.9L372.0,866.5L372.0,867.0L372.0,867.6L372.0,868.1L372.0,868.7L372.0,869.2L372.8,869.0L373.6,868.8L374.3,868.6L375.1,868.4L375.8,868.2L376.6,867.9L377.4,867.7L378.1,867.5L378.9,867.3L379.6,867.1L380.4,866.9L381.2,866.7L381.2,867.3L381.2,867.8L381.2,868.3L381.2,868.8L381.2,869.3L381.9,869.1L382.7,868.9L383.4,868.7L384.2,868.5L384.2,869.0L384.2,869.4L384.2,869.9L384.2,870.4L384.9,870.2L385.7,870.0L386.5,869.8L387.2,869.6L388.0,869.4L388.7,869.2L389.5,869.0L389.5,869.5L389.5,869.9L389.5,870.4L389.5,870.8L389.5,871.2L389.5,871.7L390.3,871.5L391.0,871.3L391.8,871.1L392.5,870.9L393.3,870.7L394.0,870.5L394.8,870.4L394.8,870.8L394.8,871.2L394.8,871.6L394.8,872.0L395.6,871.8L396.3,871.7L397.1,871.5L397.8,871.3L398.6,871.1L398.6,871.5L398.6,871.9L398.6,872.3L398.6,872.7L398.6,873.1L398.6,873.5L398.6,873.8L398.6,874.2L398.6,874.6L398.6,874.9L398.6,875.3L398.6,875.7L398.6,876.0L398.6,876.4L398.6,876.7L398.6,877.1L398.6,877.4L398.6,877.8L399.4,877.6L400.1,877.4L400.9,877.2L401.6,877.0L402.4,876.8L403.1,876.7L403.9,876.5L404.7,876.3L404.7,876.6L404.7,877.0L405.4,876.8L406.2,876.6L406.2,876.9L406.2,877.3L406.2,877.6L406.2,877.9L406.2,878.2L406.2,878.6L406.9,878.4L407.7,878.2L408.5,878.0L408.5,878.3L408.5,878.6L408.5,879.0L408.5,879.3L409.2,879.1L410.0,878.9L410.7,878.7L411.5,878.6L411.5,878.9L411.5,879.2L411.5,879.5L411.5,879.7L411.5,880.0L411.5,880.3L411.5,880.6L411.5,880.9L411.5,881.2L412.2,881.0L413.0,880.8L413.8,880.7L414.5,880.5L415.3,880.3L415.3,880.6L415.3,880.9L415.3,881.2L415.3,881.4L415.3,881.7L415.3,882.0L416.0,881.8L416.8,881.6L417.6,881.5L418.3,881.3L419.1,881.1L419.1,881.4L419.1,881.7L419.1,881.9L419.1,882.2L419.8,882.0L420.6,881.8L421.3,881.7L422.1,881.5L422.9,881.3L423.6,881.2L424.4,881.0L424.4,881.3L424.4,881.5L424.4,881.8L424.4,882.0L424.4,882.3L424.4,882.6L424.4,882.8L424.4,883.0L424.4,883.3L424.4,883.5L424.4,883.8L424.4,884.0L424.4,884.3L425.1,884.1L425.9,883.9L426.7,883.8L427.4,883.6L428.2,883.4L428.9,883.3L429.7,883.1L430.4,883.0L431.2,882.8L432.0,882.7L432.7,882.5L433.5,882.4L434.2,882.2L434.2,882.4L434.2,882.7L434.2,882.9L434.2,883.1L434.2,883.4L435.0,883.2L435.8,883.1L436.5,882.9L436.5,883.1L436.5,883.4L437.3,883.2L437.3,883.4L437.3,883.6L438.0,883.5L438.8,883.3L438.8,883.6L438.8,883.8L438.8,884.0L438.8,884.2L439.5,884.1L440.3,883.9L441.1,883.8L441.8,883.6L442.6,883.5L443.3,883.3L443.3,883.6L444.1,883.4L444.9,883.3L445.6,883.1L445.6,883.3L445.6,883.6L445.6,883.8L445.6,884.0L445.6,884.2L445.6,884.4L445.6,884.6L445.6,884.8L445.6,885.0L445.6,885.2L445.6,885.4L445.6,885.6L446.4,885.5L447.1,885.3L447.9,885.2L448.6,885.0L448.6,885.2L448.6,885.4L448.6,885.6L448.6,885.8L448.6,886.0L448.6,886.2L448.6,886.4L448.6,886.6L448.6,886.8L448.6,887.0L448.6,887.2L448.6,887.4L448.6,887.5L448.6,887.7L448.6,887.9L448.6,888.1L448.6,888.3L448.6,888.5L448.6,888.6L448.6,888.8L448.6,889.0L448.6,889.2L448.6,889.4L448.6,889.5L449.4,889.4L450.2,889.3L450.2,889.4L450.2,889.6L450.2,889.8L450.2,889.9L450.2,890.1L450.2,890.3L450.2,890.5L450.9,890.3L451.7,890.2L452.4,890.0L453.2,889.9L453.2,890.1L453.2,890.2L453.2,890.4L453.2,890.6L453.2,890.7L453.2,890.9L453.2,891.1L453.2,891.2L453.2,891.4L454.0,891.3L454.7,891.1L455.5,891.0L456.2,890.8L457.0,890.7L457.0,890.9L457.0,891.0L457.0,891.2L457.0,891.3L457.0,891.5L457.0,891.7L457.0,891.8L457.0,892.0L457.0,892.1L457.0,892.3L457.0,892.4L457.0,892.6L457.0,892.7L457.0,892.9L457.0,893.0L457.0,893.2L457.0,893.4L457.0,893.5L457.0,893.6L457.0,893.8L457.0,893.9L457.7,893.8L458.5,893.7L459.3,893.5L460.0,893.4L460.8,893.3L460.8,893.4L460.8,893.6L460.8,893.7L460.8,893.8L460.8,894.0L460.8,894.1L460.8,894.3L460.8,894.4L460.8,894.6L460.8,894.7L460.8,894.8L460.8,895.0L460.8,895.1L460.8,895.3L460.8,895.4L460.8,895.5L460.8,895.7L460.8,895.8L461.5,895.7L462.3,895.5L463.1,895.4L463.8,895.3L464.6,895.1L465.3,895.0L466.1,894.9L466.1,895.0L466.1,895.1L466.1,895.3L466.8,895.2L466.8,895.3L466.8,895.4L466.8,895.6L466.8,895.7L466.8,895.8L466.8,896.0L466.8,896.1L466.8,896.2L466.8,896.3L466.8,896.5L466.8,896.6L466.8,896.7L466.8,896.9L466.8,897.0L466.8,897.1L466.8,897.2L466.8,897.4L466.8,897.5L466.8,897.6L466.8,897.7L466.8,897.9L466.8,898.0L466.8,898.1L466.8,898.2L466.8,898.4L466.8,898.5L466.8,898.6L467.6,898.5L468.4,898.3L469.1,898.2L469.9,898.1L470.6,897.9L471.4,897.8" fill="none" stroke="#d62728" stroke-width="1.3" stroke-linejoin="miter"/>
<path d="M281.8,831.8L282.6,831.8L283.3,831.8L284.1,831.8L284.8,831.8L285.6,831.8L286.4,831.8L287.1,831.8L287.9,831.8L288.6,831.8L289.4,831.8L290.1,831.8L290.1,842.5L290.1,851.6L290.1,859.3L290.9,857.5L290.9,863.9L290.9,869.6L291.7,867.5L292.4,865.6L293.2,863.9L293.9,862.4L293.9,866.8L294.7,865.3L295.5,863.9L296.2,862.6L297.0,861.4L297.0,865.1L297.7,863.9L298.5,862.8L299.2,861.8L299.2,864.9L300.0,863.9L300.8,862.9L301.5,862.0L301.5,864.8L302.3,863.9L303.0,863.0L303.8,862.2L304.6,861.4L305.3,860.7L306.1,860.0L306.8,859.3L307.6,858.7L308.3,858.1L308.3,860.3L309.1,859.7L309.9,859.1L310.6,858.6L311.4,858.0L312.1,857.5L312.9,857.0L313.7,856.5L314.4,856.0L315.2,855.6L315.9,855.2L315.9,857.0L315.9,858.8L316.7,858.4L317.4,857.9L318.2,857.5L319.0,857.1L319.0,858.7L319.0,860.3L319.7,859.9L320.5,859.5L321.2,859.0L322.0,858.6L322.8,858.2L323.5,857.9L324.3,857.5L325.0,857.1L325.0,858.6L325.8,858.2L326.5,857.8L327.3,857.5L327.3,858.8L328.1,858.5L328.1,859.8L328.8,859.4L329.6,859.1L330.3,858.7L331.1,858.4L331.9,858.1L332.6,857.8L333.4,857.5L334.1,857.2L334.9,856.9L335.6,856.6L336.4,856.3L337.2,856.1L337.9,855.8L337.9,856.9L338.7,856.7L339.4,856.4L340.2,856.1L341.0,855.9L341.7,855.6L342.5,855.4L343.2,855.2L344.0,854.9L344.0,856.0L344.0,857.0L344.7,856.7L345.5,856.5L346.3,856.3L346.3,857.2L347.0,857.0L347.8,856.8L347.8,857.7L347.8,858.6L348.5,858.4L349.3,858.2L350.1,857.9L350.1,858.8L350.1,859.7L350.1,860.6L350.8,860.3L351.6,860.1L352.3,859.9L353.1,859.6L353.8,859.4L354.6,859.2L355.4,858.9L356.1,858.7L356.1,859.5L356.9,859.3L356.9,860.1L357.6,859.9L358.4,859.7L359.2,859.5L359.2,860.2L359.9,860.0L359.9,860.8L359.9,861.5L360.7,861.3L361.4,861.1L362.2,860.9L362.9,860.6L363.7,860.4L364.5,860.2L365.2,860.0L365.2,860.7L365.2,861.4L365.2,862.1L365.2,862.8L365.2,863.5L365.2,864.1L366.0,863.9L366.7,863.7L367.5,863.5L368.3,863.3L369.0,863.0L369.8,862.8L370.5,862.6L371.3,862.4L372.0,862.2L372.8,862.1L373.6,861.9L374.3,861.7L374.3,862.3L375.1,862.1L375.8,861.9L376.6,861.7L377.4,861.5L377.4,862.1L378.1,862.0L378.1,862.5L378.1,863.1L378.1,863.7L378.9,863.5L379.6,863.3L380.4,863.1L381.2,863.0L381.9,862.8L382.7,862.6L383.4,862.4L384.2,862.3L384.2,862.8L384.2,863.4L384.2,863.9L384.9,863.7L385.7,863.5L386.5,863.4L386.5,863.9L386.5,864.4L386.5,864.9L386.5,865.4L387.2,865.3L387.2,865.8L387.2,866.3L387.2,866.7L387.2,867.2L387.2,867.7L387.2,868.2L387.2,868.7L388.0,868.5L388.7,868.3L389.5,868.1L390.3,867.9L391.0,867.7L391.0,868.2L391.8,868.0L392.5,867.8L393.3,867.7L394.0,867.5L394.8,867.3L395.6,867.1L395.6,867.6L395.6,868.0L396.3,867.9L397.1,867.7L397.8,867.5L398.6,867.4L399.4,867.2L400.1,867.0L400.9,866.9L400.9,867.3L400.9,867.7L400.9,868.1L400.9,868.6L401.6,868.4L401.6,868.8L402.4,868.6L403.1,868.5L403.1,868.9L403.1,869.3L403.1,869.7L403.1,870.1L403.9,869.9L404.7,869.7L405.4,869.6L406.2,869.4L406.9,869.3L407.7,869.1L408.5,868.9L409.2,868.8L409.2,869.2L409.2,869.6L409.2,869.9L409.2,870.3L409.2,870.7L409.2,871.0L409.2,871.4L409.2,871.8L409.2,872.1L410.0,872.0L410.7,871.8L411.5,871.6L412.2,871.5L413.0,871.3L413.8,871.2L414.5,871.0L414.5,871.4L414.5,871.7L415.3,871.6L416.0,871.4L416.8,871.3L416.8,871.6L416.8,871.9L416.8,872.3L416.8,872.6L416.8,872.9L417.6,872.8L418.3,872.6L419.1,872.5L419.8,872.3L420.6,872.2L420.6,872.5L420.6,872.8L420.6,873.2L420.6,873.5L420.6,873.8L420.6,874.1L420.6,874.4L420.6,874.7L420.6,875.0L420.6,875.4L421.3,875.2L422.1,875.0L422.9,874.9L423.6,874.7L424.4,874.6L425.1,874.4L425.9,874.3L426.7,874.1L427.4,874.0L428.2,873.8L428.9,873.7L428.9,874.0L428.9,874.3L428.9,874.6L428.9,874.9L428.9,875.2L428.9,875.5L428.9,875.7L429.7,875.6L430.4,875.4L430.4,875.7L430.4,876.0L430.4,876.3L430.4,876.6L430.4,876.8L430.4,877.1L430.4,877.4L430.4,877.7L430.4,877.9L430.4,878.2L430.4,878.5L430.4,878.7L430.4,879.0L430.4,879.3L430.4,879.5L430.4,879.8L430.4,880.0L430.4,880.3L430.4,880.5L430.4,880.8L430.4,881.0L430.4,881.3L430.4,881.5L430.4,881.8L430.4,882.0L430.4,882.3L430.4,882.5L430.4,882.7L430.4,883.0L430.4,883.2L430.4,883.4L431.2,883.3L432.0,883.1L432.7,883.0L433.5,882.8L434.2,882.7L435.0,882.5L435.8,882.4L436.5,882.2L437.3,882.1L438.0,881.9L438.8,881.8L439.5,881.6L440.3,881.5L441.1,881.3L441.8,881.2L442.6,881.0L443.3,880.9L443.3,881.1L443.3,881.4L443.3,881.6L443.3,881.8L443.3,882.0L443.3,882.3L443.3,882.5L443.3,882.7L443.3,882.9L443.3,883.1L443.3,883.3L444.1,883.2L444.1,883.4L444.1,883.6L444.1,883.8L444.1,884.1L444.1,884.3L444.1,884.5L444.1,884.7L444.1,884.9L444.1,885.1L444.1,885.3L444.1,885.5L444.1,885.7L444.1,885.9L444.1,886.1L444.9,886.0L445.6,885.8L446.4,885.7L447.1,885.5L447.9,885.4L448.6,885.2L449.4,885.1L450.2,885.0L450.9,884.8L450.9,885.0L450.9,885.2L450.9,885.4L450.9,885.6L450.9,885.8L450.9,886.0L450.9,886.2L450.9,886.4L450.9,886.6L450.9,886.7L450.9,886.9L450.9,887.1L450.9,887.3L451.7,887.2L452.4,887.0L453.2,886.9L454.0,886.7L454.0,886.9L454.0,887.1L454.7,887.0L455.5,886.8L456.2,886.7L457.0,886.6L457.7,886.4L457.7,886.6L457.7,886.8L458.5,886.7L459.3,886.5L460.0,886.4L460.0,886.6L460.0,886.7L460.0,886.9L460.0,887.1L460.0,887.3L460.0,887.5L460.0,887.6L460.0,887.8L460.0,888.0L460.8,887.8L461.5,887.7L462.3,887.6L463.1,887.4L463.8,887.3L464.6,887.2L465.3,887.0L466.1,886.9L466.8,886.8L466.8,887.0L466.8,887.1L466.8,887.3L466.8,887.5L466.8,887.6L466.8,887.8L466.8,888.0L466.8,888.1L466.8,888.3L466.8,888.5L466.8,888.6L467.6,888.5L468.4,888.4L469.1,888.2L469.9,888.1L469.9,888.3L469.9,888.4L469.9,888.6L470.6,888.5L470.6,888.6L470.6,888.8L470.6,889.0L470.6,889.1L470.6,889.3L470.6,889.4L470.6,889.6L470.6,889.7L470.6,889.9L470.6,890.0L470.6,890.2L470.6,890.4L470.6,890.5L470.6,890.7L470.6,890.8L471.4,890.7" fill="none" stroke="#9467bd" stroke-width="1.3" stroke-linejoin="miter"/>
<path d="M281.8,831.8L282.6,831.8L283.3,831.8L284.1,831.8L284.8,831.8L285.6,831.8L286.4,831.8L286.4,850.2L286.4,863.9L287.1,860.3L287.1,870.3L287.9,866.8L287.9,874.6L288.6,871.3L289.4,868.5L290.1,866.0L290.9,863.9L290.9,869.6L291.7,867.5L292.4,865.6L292.4,870.3L293.2,868.5L293.9,866.8L294.7,865.3L295.5,863.9L295.5,867.7L296.2,866.4L297.0,865.1L297.7,863.9L298.5,862.8L299.2,861.8L300.0,860.8L300.8,859.9L301.5,859.0L302.3,858.2L303.0,857.5L303.8,856.8L304.6,856.1L305.3,855.5L306.1,854.9L306.8,854.3L307.6,853.7L308.3,853.2L308.3,855.7L309.1,855.2L309.9,854.6L309.9,856.9L310.6,856.4L311.4,855.9L311.4,858.0L312.1,857.5L312.9,857.0L313.7,856.5L313.7,858.4L314.4,858.0L314.4,859.8L314.4,861.6L315.2,861.1L315.9,860.6L316.7,860.1L317.4,859.6L317.4,861.3L318.2,860.8L319.0,860.3L319.7,859.9L320.5,859.5L321.2,859.0L321.2,860.5L321.2,862.0L321.2,863.4L322.0,863.0L322.8,862.5L323.5,862.1L324.3,861.7L325.0,861.3L325.0,862.6L325.8,862.2L325.8,863.5L325.8,864.7L326.5,864.3L327.3,863.9L328.1,863.5L328.8,863.1L328.8,864.3L329.6,863.9L330.3,863.5L330.3,864.6L331.1,864.3L331.9,863.9L332.6,863.5L332.6,864.6L332.6,865.7L333.4,865.3L334.1,864.9L334.9,864.6L335.6,864.2L336.4,863.9L336.4,864.9L336.4,865.9L337.2,865.5L337.2,866.5L337.2,867.4L337.9,867.0L338.7,866.7L339.4,866.4L340.2,866.0L340.2,866.9L340.2,867.8L340.2,868.6L341.0,868.3L341.0,869.1L341.0,870.0L341.0,870.8L341.7,870.4L342.5,870.1L343.2,869.7L344.0,869.4L344.7,869.1L345.5,868.8L346.3,868.5L346.3,869.2L347.0,868.9L347.8,868.6L348.5,868.3L349.3,868.0L350.1,867.7L350.1,868.5L350.8,868.2L350.8,868.9L350.8,869.6L350.8,870.3L350.8,871.0L350.8,871.7L351.6,871.4L352.3,871.1L353.1,870.8L353.8,870.5L354.6,870.2L354.6,870.9L354.6,871.5L355.4,871.2L356.1,870.9L356.9,870.7L356.9,871.3L357.6,871.0L358.4,870.7L359.2,870.5L359.2,871.1L359.2,871.7L359.9,871.4L359.9,872.0L359.9,872.6L359.9,873.2L359.9,873.7L359.9,874.3L359.9,874.9L360.7,874.6L360.7,875.1L360.7,875.7L360.7,876.2L360.7,876.7L361.4,876.4L362.2,876.2L362.9,875.9L363.7,875.6L364.5,875.4L365.2,875.1L366.0,874.8L366.7,874.6L367.5,874.3L368.3,874.1L369.0,873.8L369.8,873.6L369.8,874.1L369.8,874.6L369.8,875.1L369.8,875.6L369.8,876.0L369.8,876.5L369.8,877.0L370.5,876.7L371.3,876.5L372.0,876.2L372.8,876.0L373.6,875.7L374.3,875.5L374.3,876.0L374.3,876.4L374.3,876.9L374.3,877.3L374.3,877.7L374.3,878.2L374.3,878.6L374.3,879.0L375.1,878.8L375.8,878.5L376.6,878.3L377.4,878.1L377.4,878.5L377.4,878.9L377.4,879.3L377.4,879.7L377.4,880.1L377.4,880.5L377.4,880.9L377.4,881.3L377.4,881.6L377.4,882.0L378.1,881.8L378.9,881.5L379.6,881.3L380.4,881.1L381.2,880.8L381.9,880.6L382.7,880.4L383.4,880.1L384.2,879.9L384.9,879.7L384.9,880.1L384.9,880.4L384.9,880.8L385.7,880.6L386.5,880.4L387.2,880.1L388.0,879.9L388.7,879.7L389.5,879.5L390.3,879.3L390.3,879.6L390.3,880.0L390.3,880.3L391.0,880.1L391.8,879.9L392.5,879.7L393.3,879.5L394.0,879.3L394.0,879.7L394.0,880.0L394.8,879.8L395.6,879.6L396.3,879.4L397.1,879.2L397.8,879.0L398.6,878.8L399.4,878.6L399.4,878.9L399.4,879.3L399.4,879.6L399.4,879.9L399.4,880.2L400.1,880.0L400.1,880.4L400.1,880.7L400.1,881.0L400.1,881.3L400.1,881.6L400.1,881.9L400.1,882.2L400.1,882.5L400.1,882.8L400.1,883.1L400.1,883.4L400.9,883.2L401.6,883.0L402.4,882.8L402.4,883.1L402.4,883.4L402.4,883.7L402.4,884.0L403.1,883.8L403.1,884.1L403.1,884.4L403.1,884.6L403.1,884.9L403.1,885.2L403.1,885.5L403.1,885.7L403.1,886.0L403.9,885.8L404.7,885.6L405.4,885.4L406.2,885.2L406.9,885.0L407.7,884.8L408.5,884.7L409.2,884.5L410.0,884.3L410.7,884.1L411.5,883.9L412.2,883.7L413.0,883.6L413.8,883.4L414.5,883.2L415.3,883.0L416.0,882.9L416.8,882.7L417.6,882.5L418.3,882.4L418.3,882.6L418.3,882.9L418.3,883.1L418.3,883.4L418.3,883.6L418.3,883.9L418.3,884.1L418.3,884.4L418.3,884.6L419.1,884.5L419.8,884.3L420.6,884.1L421.3,884.0L422.1,883.8L422.9,883.6L423.6,883.5L424.4,883.3L425.1,883.1L425.1,883.4L425.1,883.6L425.1,883.9L425.1,884.1L425.1,884.3L425.1,884.6L425.1,884.8L425.1,885.0L425.1,885.3L425.1,885.5L425.1,885.7L425.1,886.0L425.1,886.2L425.1,886.4L425.1,886.6L425.1,886.8L425.1,887.1L425.1,887.3L425.1,887.5L425.1,887.7L425.1,887.9L425.1,888.1L425.1,888.4L425.1,888.6L425.9,888.4L426.7,888.2L427.4,888.1L428.2,887.9L428.9,887.7L429.7,887.6L430.4,887.4L431.2,887.3L432.0,887.1L432.7,886.9L433.5,886.8L434.2,886.6L435.0,886.5L435.0,886.7L435.0,886.9L435.0,887.1L435.0,887.3L435.0,887.5L435.0,887.7L435.0,887.9L435.0,888.1L435.0,888.3L435.8,888.2L436.5,888.0L437.3,887.8L438.0,887.7L438.8,887.5L439.5,887.4L440.3,887.2L441.1,887.1L441.8,886.9L442.6,886.8L442.6,887.0L442.6,887.2L442.6,887.4L442.6,887.6L442.6,887.8L442.6,888.0L442.6,888.1L442.6,888.3L442.6,888.5L442.6,888.7L442.6,888.9L443.3,888.8L444.1,888.6L444.1,888.8L444.1,889.0L444.1,889.2L444.1,889.3L444.1,889.5L444.1,889.7L444.1,889.9L444.1,890.1L444.1,890.2L444.1,890.4L444.1,890.6L444.1,890.8L444.1,890.9L444.1,891.1L444.1,891.3L444.1,891.5L444.1,891.6L444.1,891.8L444.9,891.7L445.6,891.5L446.4,891.4L447.1,891.2L447.9,891.1L448.6,890.9L449.4,890.8L450.2,890.6L450.9,890.5L450.9,890.7L450.9,890.8L450.9,891.0L450.9,891.2L450.9,891.3L450.9,891.5L450.9,891.7L450.9,891.8L450.9,892.0L450.9,892.1L450.9,892.3L450.9,892.5L450.9,892.6L450.9,892.8L451.7,892.6L452.4,892.5L453.2,892.4L454.0,892.2L454.7,892.1L455.5,891.9L456.2,891.8L457.0,891.7L457.7,891.5L458.5,891.4L459.3,891.2L460.0,891.1L460.8,891.0L460.8,891.1L460.8,891.3L460.8,891.4L460.8,891.6L460.8,891.8L460.8,891.9L460.8,892.1L460.8,892.2L460.8,892.4L460.8,892.5L460.8,892.7L460.8,892.8L460.8,893.0L460.8,893.1L460.8,893.3L460.8,893.4L460.8,893.6L460.8,893.7L460.8,893.8L461.5,893.7L462.3,893.6L463.1,893.4L463.1,893.6L463.1,893.7L463.1,893.9L463.1,894.0L463.1,894.2L463.1,894.3L463.1,894.4L463.1,894.6L463.1,894.7L463.1,894.9L463.8,894.7L464.6,894.6L465.3,894.5L466.1,894.3L466.8,894.2L467.6,894.1L468.4,893.9L469.1,893.8L469.1,893.9L469.9,893.8L470.6,893.7L470.6,893.8L470.6,894.0L470.6,894.1L470.6,894.2L470.6,894.4L470.6,894.5L470.6,894.6L470.6,894.8L470.6,894.9L470.6,895.0L470.6,895.2L470.6,895.3L470.6,895.4L470.6,895.6L470.6,895.7L470.6,895.8L470.6,896.0L470.6,896.1L470.6,896.2L470.6,896.3L470.6,896.5L470.6,896.6L470.6,896.7L470.6,896.8L470.6,897.0L470.6,897.1L470.6,897.2L470.6,897.3L470.6,897.5L470.6,897.6L471.4,897.5" fill="none" stroke="#8c564b" stroke-width="1.3" stroke-linejoin="miter"/>
<path d="M281.8,831.8L282.6,831.8L283.3,831.8L284.1,831.8L284.8,831.8L285.6,831.8L286.4,831.8L287.1,831.8L287.9,831.8L288.6,831.8L289.4,831.8L290.1,831.8L290.9,831.8L291.7,831.8L292.4,831.8L293.2,831.8L293.9,831.8L294.7,831.8L294.7,839.0L294.7,845.3L295.5,844.7L295.5,850.2L295.5,855.2L295.5,859.7L295.5,863.9L296.2,862.6L297.0,861.4L297.0,865.1L297.7,863.9L298.5,862.8L299.2,861.8L300.0,860.8L300.8,859.9L301.5,859.0L302.3,858.2L302.3,861.1L303.0,860.3L303.8,859.6L304.6,858.8L305.3,858.1L306.1,857.5L306.8,856.9L307.6,856.3L307.6,858.7L308.3,858.1L309.1,857.5L309.9,856.9L310.6,856.4L311.4,855.9L311.4,858.0L311.4,860.0L312.1,859.5L312.9,859.0L313.7,858.4L313.7,860.3L314.4,859.8L315.2,859.3L315.9,858.8L315.9,860.6L315.9,862.3L315.9,863.9L315.9,865.5L315.9,867.0L316.7,866.4L317.4,865.9L318.2,865.4L318.2,866.8L319.0,866.3L319.7,865.8L319.7,867.1L320.5,866.6L321.2,866.2L321.2,867.5L321.2,868.7L321.2,870.0L321.2,871.2L322.0,870.6L322.8,870.1L323.5,869.6L323.5,870.8L324.3,870.3L325.0,869.8L325.8,869.4L325.8,870.5L326.5,870.0L326.5,871.1L326.5,872.1L327.3,871.6L327.3,872.6L328.1,872.2L328.8,871.7L329.6,871.3L330.3,870.9L331.1,870.4L331.1,871.4L331.1,872.3L331.1,873.2L331.9,872.8L332.6,872.4L333.4,872.0L334.1,871.6L334.9,871.2L334.9,872.1L334.9,872.9L334.9,873.8L334.9,874.6L334.9,875.4L335.6,875.0L336.4,874.6L337.2,874.2L337.9,873.8L338.7,873.4L339.4,873.1L339.4,873.8L340.2,873.5L341.0,873.1L341.0,873.8L341.0,874.6L341.0,875.3L341.7,874.9L342.5,874.6L343.2,874.2L344.0,873.9L344.7,873.5L344.7,874.2L344.7,874.9L344.7,875.6L344.7,876.3L345.5,875.9L346.3,875.6L347.0,875.2L347.8,874.9L348.5,874.6L349.3,874.3L350.1,873.9L350.8,873.6L351.6,873.3L352.3,873.0L353.1,872.7L353.8,872.4L354.6,872.1L354.6,872.8L354.6,873.4L354.6,874.0L354.6,874.6L354.6,875.2L355.4,874.9L356.1,874.6L356.9,874.3L357.6,874.0L358.4,873.7L359.2,873.4L359.2,874.0L359.9,873.7L360.7,873.5L361.4,873.2L362.2,872.9L362.9,872.7L363.7,872.4L364.5,872.2L365.2,871.9L365.2,872.5L366.0,872.2L366.7,872.0L367.5,871.7L368.3,871.5L369.0,871.2L369.8,871.0L370.5,870.8L371.3,870.5L372.0,870.3L372.8,870.1L372.8,870.6L373.6,870.4L373.6,870.9L373.6,871.4L373.6,871.9L373.6,872.4L373.6,872.9L373.6,873.4L374.3,873.2L375.1,872.9L375.8,872.7L376.6,872.5L377.4,872.3L378.1,872.0L378.9,871.8L378.9,872.3L378.9,872.8L378.9,873.2L378.9,873.7L378.9,874.1L378.9,874.6L378.9,875.0L379.6,874.8L380.4,874.6L381.2,874.4L381.9,874.1L381.9,874.6L381.9,875.0L382.7,874.8L383.4,874.6L384.2,874.4L384.9,874.2L385.7,874.0L386.5,873.7L387.2,873.5L388.0,873.3L388.7,873.1L389.5,872.9L390.3,872.7L391.0,872.6L391.0,873.0L391.0,873.4L391.0,873.8L391.0,874.2L391.0,874.6L391.0,875.0L391.0,875.4L391.0,875.7L391.0,876.1L391.0,876.5L391.8,876.3L392.5,876.1L393.3,875.9L394.0,875.7L394.8,875.5L395.6,875.3L396.3,875.1L397.1,875.0L397.8,874.8L398.6,874.6L399.4,874.4L400.1,874.2L400.1,874.6L400.9,874.4L401.6,874.2L401.6,874.6L401.6,874.9L401.6,875.3L402.4,875.1L403.1,874.9L403.9,874.8L403.9,875.1L403.9,875.5L403.9,875.8L403.9,876.1L403.9,876.5L404.7,876.3L405.4,876.1L406.2,875.9L406.9,875.8L406.9,876.1L406.9,876.4L406.9,876.8L406.9,877.1L406.9,877.4L406.9,877.7L406.9,878.1L406.9,878.4L406.9,878.7L407.7,878.5L408.5,878.3L409.2,878.2L410.0,878.0L410.7,877.8L410.7,878.1L410.7,878.4L410.7,878.7L411.5,878.6L411.5,878.9L412.2,878.7L413.0,878.5L413.8,878.3L414.5,878.2L415.3,878.0L415.3,878.3L415.3,878.6L415.3,878.9L415.3,879.2L415.3,879.5L415.3,879.8L416.0,879.6L416.8,879.4L416.8,879.7L417.6,879.5L418.3,879.4L419.1,879.2L419.1,879.5L419.1,879.8L419.1,880.0L419.1,880.3L419.1,880.6L419.1,880.9L419.1,881.1L419.1,881.4L419.8,881.2L420.6,881.1L421.3,880.9L421.3,881.2L421.3,881.4L421.3,881.7L421.3,881.9L421.3,882.2L421.3,882.5L421.3,882.7L421.3,883.0L421.3,883.2L422.1,883.0L422.9,882.9L423.6,882.7L423.6,883.0L423.6,883.2L423.6,883.5L423.6,883.7L423.6,883.9L423.6,884.2L423.6,884.4L423.6,884.7L424.4,884.5L425.1,884.3L425.9,884.2L426.7,884.0L426.7,884.2L426.7,884.5L426.7,884.7L426.7,884.9L426.7,885.2L426.7,885.4L426.7,885.6L426.7,885.8L426.7,886.1L426.7,886.3L427.4,886.1L428.2,886.0L428.2,886.2L428.2,886.4L428.2,886.6L428.9,886.5L429.7,886.3L430.4,886.1L431.2,886.0L432.0,885.8L432.7,885.7L433.5,885.5L433.5,885.7L433.5,885.9L433.5,886.2L434.2,886.0L435.0,885.8L435.0,886.1L435.0,886.3L435.0,886.5L435.0,886.7L435.8,886.5L436.5,886.4L437.3,886.2L438.0,886.1L438.0,886.3L438.0,886.5L438.0,886.7L438.0,886.9L438.0,887.1L438.0,887.3L438.0,887.5L438.0,887.7L438.0,887.9L438.0,888.1L438.8,887.9L438.8,888.1L438.8,888.3L438.8,888.5L438.8,888.7L438.8,888.9L438.8,889.1L438.8,889.3L439.5,889.1L440.3,889.0L441.1,888.8L441.8,888.7L442.6,888.5L443.3,888.4L443.3,888.6L443.3,888.8L443.3,888.9L443.3,889.1L443.3,889.3L443.3,889.5L443.3,889.7L443.3,889.9L443.3,890.0L443.3,890.2L443.3,890.4L443.3,890.6L443.3,890.7L443.3,890.9L443.3,891.1L443.3,891.3L443.3,891.4L443.3,891.6L443.3,891.8L443.3,892.0L443.3,892.1L443.3,892.3L443.3,892.5L443.3,892.6L443.3,892.8L444.1,892.6L444.9,892.5L445.6,892.3L446.4,892.2L447.1,892.1L447.9,891.9L448.6,891.8L449.4,891.6L450.2,891.5L450.9,891.3L451.7,891.2L452.4,891.0L453.2,890.9L454.0,890.8L454.7,890.6L455.5,890.5L455.5,890.6L455.5,890.8L455.5,891.0L455.5,891.1L455.5,891.3L455.5,891.5L455.5,891.6L455.5,891.8L455.5,891.9L455.5,892.1L455.5,892.2L455.5,892.4L455.5,892.6L455.5,892.7L455.5,892.9L455.5,893.0L455.5,893.2L455.5,893.3L455.5,893.5L455.5,893.6L455.5,893.8L455.5,893.9L455.5,894.1L456.2,893.9L457.0,893.8L457.0,893.9L457.0,894.1L457.0,894.2L457.0,894.4L457.0,894.5L457.0,894.7L457.0,894.8L457.0,895.0L457.0,895.1L457.0,895.2L457.0,895.4L457.7,895.3L458.5,895.1L459.3,895.0L460.0,894.8L460.8,894.7L461.5,894.6L462.3,894.4L463.1,894.3L463.8,894.2L464.6,894.0L465.3,893.9L466.1,893.8L466.8,893.6L467.6,893.5L468.4,893.4L468.4,893.5L468.4,893.7L468.4,893.8L468.4,893.9L468.4,894.1L468.4,894.2L468.4,894.3L468.4,894.5L468.4,894.6L468.4,894.8L468.4,894.9L468.4,895.0L468.4,895.2L468.4,895.3L468.4,895.4L468.4,895.6L468.4,895.7L468.4,895.8L468.4,896.0L469.1,895.8L469.9,895.7L470.6,895.6L471.4,895.4" fill="none" stroke="#e377c2" stroke-width="1.3" stroke-linejoin="miter"/>
<path d="M281.8,831.8L282.6,831.8L283.3,831.8L284.1,831.8L284.8,831.8L285.6,831.8L286.4,831.8L287.1,831.8L287.9,831.8L287.9,846.1L288.6,844.7L288.6,855.2L288.6,863.9L289.4,861.4L290.1,859.3L290.9,857.5L291.7,855.9L291.7,862.0L292.4,860.3L293.2,858.8L293.9,857.5L293.9,862.4L294.7,861.0L294.7,865.3L295.5,863.9L296.2,862.6L297.0,861.4L297.7,860.3L298.5,859.3L299.2,858.4L299.2,861.8L300.0,860.8L300.8,859.9L301.5,859.0L302.3,858.2L303.0,857.5L303.8,856.8L304.6,856.1L305.3,855.5L306.1,854.9L306.1,857.5L306.1,860.0L306.8,859.3L307.6,858.7L308.3,858.1L309.1,857.5L309.9,856.9L310.6,856.4L311.4,855.9L312.1,855.4L312.9,854.9L313.7,854.5L314.4,854.0L314.4,856.0L314.4,858.0L315.2,857.5L315.9,857.0L316.7,856.6L317.4,856.2L318.2,855.7L319.0,855.3L319.7,855.0L320.5,854.6L321.2,854.2L322.0,853.9L322.0,855.5L322.8,855.2L323.5,854.8L323.5,856.4L324.3,856.0L325.0,855.7L325.8,855.3L326.5,855.0L327.3,854.7L328.1,854.4L328.1,855.8L328.8,855.5L329.6,855.2L330.3,854.9L331.1,854.6L331.9,854.3L331.9,855.6L331.9,856.9L332.6,856.6L333.4,856.3L333.4,857.5L333.4,858.7L334.1,858.4L334.9,858.1L335.6,857.8L336.4,857.5L337.2,857.2L337.9,856.9L338.7,856.7L339.4,856.4L340.2,856.1L341.0,855.9L341.0,857.0L341.7,856.7L342.5,856.4L343.2,856.2L344.0,856.0L344.7,855.7L345.5,855.5L346.3,855.3L346.3,856.3L346.3,857.2L346.3,858.2L346.3,859.1L346.3,860.1L347.0,859.8L347.8,859.6L348.5,859.3L349.3,859.1L350.1,858.8L350.8,858.6L351.6,858.4L352.3,858.1L353.1,857.9L353.8,857.7L353.8,858.6L353.8,859.4L353.8,860.2L353.8,861.0L354.6,860.8L355.4,860.6L355.4,861.3L355.4,862.1L356.1,861.9L356.9,861.7L356.9,862.4L357.6,862.2L358.4,862.0L359.2,861.7L359.9,861.5L360.7,861.3L361.4,861.1L361.4,861.8L361.4,862.5L362.2,862.3L362.9,862.1L363.7,861.8L364.5,861.6L365.2,861.4L366.0,861.2L366.0,861.9L366.7,861.7L367.5,861.5L368.3,861.3L369.0,861.1L369.8,860.9L370.5,860.7L370.5,861.4L370.5,862.0L370.5,862.6L370.5,863.3L370.5,863.9L370.5,864.5L371.3,864.3L372.0,864.1L372.8,863.9L373.6,863.7L374.3,863.5L375.1,863.3L375.8,863.1L376.6,862.9L376.6,863.5L376.6,864.1L376.6,864.7L376.6,865.2L376.6,865.8L377.4,865.6L378.1,865.4L378.9,865.2L379.6,865.0L380.4,864.8L381.2,864.6L381.9,864.4L382.7,864.3L383.4,864.1L384.2,863.9L384.9,863.7L385.7,863.5L385.7,864.1L386.5,863.9L387.2,863.7L388.0,863.5L388.7,863.4L389.5,863.2L389.5,863.7L389.5,864.2L390.3,864.1L391.0,863.9L391.0,864.4L391.8,864.2L392.5,864.1L393.3,863.9L393.3,864.4L393.3,864.9L393.3,865.3L394.0,865.2L394.8,865.0L395.6,864.8L395.6,865.3L395.6,865.8L395.6,866.2L395.6,866.7L395.6,867.1L396.3,867.0L397.1,866.8L397.8,866.6L398.6,866.5L399.4,866.3L399.4,866.8L399.4,867.2L399.4,867.6L399.4,868.0L399.4,868.5L399.4,868.9L399.4,869.3L399.4,869.7L400.1,869.6L400.9,869.4L401.6,869.2L402.4,869.0L403.1,868.9L403.1,869.3L403.1,869.7L403.1,870.1L403.9,869.9L404.7,869.7L404.7,870.1L404.7,870.5L404.7,870.9L404.7,871.3L404.7,871.7L404.7,872.0L405.4,871.9L406.2,871.7L406.9,871.5L407.7,871.4L408.5,871.2L409.2,871.0L409.2,871.4L409.2,871.8L410.0,871.6L410.7,871.5L411.5,871.3L411.5,871.6L412.2,871.5L412.2,871.8L412.2,872.2L412.2,872.5L412.2,872.9L413.0,872.7L413.8,872.6L413.8,872.9L413.8,873.2L414.5,873.1L415.3,872.9L415.3,873.3L415.3,873.6L416.0,873.4L416.8,873.3L417.6,873.1L418.3,873.0L418.3,873.3L418.3,873.6L418.3,873.9L418.3,874.3L418.3,874.6L418.3,874.9L418.3,875.2L418.3,875.5L418.3,875.8L418.3,876.1L418.3,876.4L418.3,876.7L418.3,877.0L418.3,877.3L418.3,877.6L418.3,877.9L419.1,877.8L419.8,877.6L420.6,877.4L421.3,877.3L422.1,877.1L422.9,877.0L423.6,876.8L424.4,876.6L424.4,876.9L424.4,877.2L424.4,877.5L424.4,877.8L424.4,878.1L424.4,878.3L424.4,878.6L424.4,878.9L424.4,879.2L424.4,879.4L425.1,879.3L425.9,879.1L426.7,879.0L426.7,879.2L427.4,879.1L428.2,878.9L428.9,878.8L429.7,878.6L430.4,878.5L431.2,878.3L431.2,878.6L431.2,878.8L431.2,879.1L432.0,878.9L432.7,878.8L433.5,878.6L434.2,878.5L435.0,878.4L435.8,878.2L436.5,878.1L436.5,878.3L436.5,878.6L436.5,878.8L436.5,879.1L436.5,879.3L436.5,879.6L436.5,879.8L436.5,880.1L436.5,880.3L436.5,880.6L436.5,880.8L437.3,880.6L437.3,880.9L437.3,881.1L437.3,881.4L437.3,881.6L437.3,881.8L438.0,881.7L438.8,881.5L439.5,881.4L440.3,881.2L440.3,881.5L440.3,881.7L440.3,881.9L440.3,882.2L441.1,882.0L441.8,881.9L442.6,881.7L443.3,881.6L443.3,881.8L443.3,882.0L443.3,882.3L443.3,882.5L443.3,882.7L443.3,882.9L443.3,883.1L443.3,883.3L443.3,883.6L443.3,883.8L443.3,884.0L444.1,883.8L444.9,883.7L445.6,883.6L445.6,883.8L445.6,884.0L445.6,884.2L445.6,884.4L445.6,884.6L445.6,884.8L445.6,885.0L445.6,885.2L445.6,885.4L445.6,885.6L445.6,885.8L445.6,886.0L445.6,886.2L445.6,886.4L445.6,886.6L445.6,886.8L445.6,887.0L445.6,887.2L445.6,887.4L445.6,887.6L445.6,887.7L445.6,887.9L445.6,888.1L445.6,888.3L445.6,888.5L445.6,888.7L445.6,888.9L446.4,888.7L447.1,888.6L447.9,888.4L448.6,888.3L449.4,888.1L450.2,888.0L450.9,887.9L451.7,887.7L452.4,887.6L453.2,887.4L454.0,887.3L454.0,887.5L454.7,887.3L454.7,887.5L454.7,887.7L454.7,887.9L454.7,888.1L454.7,888.2L454.7,888.4L454.7,888.6L454.7,888.8L454.7,888.9L454.7,889.1L454.7,889.3L455.5,889.1L456.2,889.0L457.0,888.9L457.7,888.7L458.5,888.6L458.5,888.8L458.5,888.9L458.5,889.1L458.5,889.3L458.5,889.4L458.5,889.6L459.3,889.5L459.3,889.6L460.0,889.5L460.8,889.4L461.5,889.2L461.5,889.4L461.5,889.6L462.3,889.4L463.1,889.3L463.8,889.2L464.6,889.0L465.3,888.9L466.1,888.8L466.1,888.9L466.8,888.8L466.8,889.0L466.8,889.1L466.8,889.3L466.8,889.4L466.8,889.6L466.8,889.8L466.8,889.9L466.8,890.1L466.8,890.2L466.8,890.4L466.8,890.5L466.8,890.7L466.8,890.8L466.8,891.0L466.8,891.1L466.8,891.3L466.8,891.5L466.8,891.6L466.8,891.8L466.8,891.9L466.8,892.0L466.8,892.2L466.8,892.3L466.8,892.5L467.6,892.4L468.4,892.2L469.1,892.1L469.9,892.0L470.6,891.8L471.4,891.7" fill="none" stroke="#7f7f7f" stroke-width="1.3" stroke-linejoin="miter"/>
<path d="M281.8,831.8L282.6,831.8L283.3,831.8L284.1,831.8L284.1,863.9L284.8,857.5L284.8,874.6L285.6,868.5L285.6,879.9L286.4,874.6L287.1,870.3L287.9,866.8L288.6,863.9L288.6,871.3L289.4,868.5L290.1,866.0L290.9,863.9L290.9,869.6L291.7,867.5L291.7,872.3L292.4,870.3L293.2,868.5L293.9,866.8L294.7,865.3L295.5,863.9L296.2,862.6L296.2,866.4L297.0,865.1L297.7,863.9L297.7,867.2L298.5,866.0L299.2,864.9L300.0,863.9L300.8,862.9L301.5,862.0L302.3,861.1L303.0,860.3L303.8,859.6L304.6,858.8L305.3,858.1L306.1,857.5L306.8,856.9L307.6,856.3L307.6,858.7L308.3,858.1L309.1,857.5L309.9,856.9L310.6,856.4L311.4,855.9L312.1,855.4L312.9,854.9L313.7,854.5L314.4,854.0L315.2,853.6L315.9,853.2L315.9,855.2L315.9,857.0L316.7,856.6L317.4,856.2L318.2,855.7L319.0,855.3L319.7,855.0L320.5,854.6L321.2,854.2L321.2,855.9L322.0,855.5L322.8,855.2L323.5,854.8L324.3,854.5L325.0,854.1L325.0,855.7L325.0,857.1L325.8,856.8L326.5,856.4L327.3,856.1L328.1,855.8L328.1,857.1L328.1,858.5L328.8,858.1L328.8,859.4L329.6,859.1L330.3,858.7L331.1,858.4L331.1,859.6L331.9,859.3L332.6,859.0L332.6,860.2L333.4,859.8L334.1,859.5L334.9,859.2L335.6,858.9L336.4,858.6L337.2,858.3L337.9,858.0L337.9,859.1L338.7,858.8L338.7,859.9L338.7,860.9L338.7,861.9L338.7,862.9L338.7,863.9L339.4,863.6L340.2,863.3L341.0,863.0L341.7,862.7L342.5,862.4L343.2,862.1L344.0,861.8L344.0,862.7L344.0,863.6L344.7,863.3L345.5,863.0L345.5,863.9L346.3,863.6L347.0,863.3L347.8,863.1L347.8,863.9L347.8,864.7L348.5,864.4L349.3,864.2L350.1,863.9L350.8,863.6L351.6,863.4L352.3,863.1L353.1,862.9L353.1,863.6L353.1,864.4L353.1,865.2L353.1,865.9L353.8,865.6L353.8,866.4L353.8,867.1L354.6,866.8L354.6,867.5L355.4,867.2L356.1,867.0L356.9,866.7L356.9,867.4L356.9,868.1L356.9,868.7L356.9,869.4L357.6,869.1L358.4,868.9L358.4,869.5L358.4,870.1L358.4,870.7L359.2,870.5L359.9,870.2L360.7,870.0L361.4,869.7L361.4,870.3L361.4,870.9L361.4,871.5L361.4,872.1L362.2,871.8L362.9,871.5L363.7,871.3L363.7,871.9L363.7,872.4L363.7,873.0L363.7,873.5L363.7,874.0L364.5,873.8L365.2,873.5L366.0,873.3L366.7,873.0L366.7,873.5L366.7,874.1L366.7,874.6L367.5,874.3L368.3,874.1L369.0,873.8L369.8,873.6L369.8,874.1L369.8,874.6L370.5,874.3L370.5,874.8L370.5,875.3L370.5,875.8L371.3,875.5L372.0,875.3L372.8,875.1L373.6,874.8L374.3,874.6L375.1,874.3L375.8,874.1L375.8,874.6L375.8,875.0L375.8,875.5L375.8,875.9L375.8,876.4L375.8,876.8L375.8,877.3L375.8,877.7L375.8,878.1L375.8,878.5L376.6,878.3L376.6,878.7L376.6,879.1L376.6,879.5L377.4,879.3L378.1,879.0L378.9,878.8L379.6,878.6L380.4,878.4L381.2,878.1L381.9,877.9L382.7,877.7L383.4,877.5L384.2,877.2L384.9,877.0L385.7,876.8L386.5,876.6L386.5,877.0L386.5,877.4L386.5,877.8L386.5,878.1L387.2,877.9L388.0,877.7L388.7,877.5L389.5,877.3L390.3,877.1L391.0,876.9L391.8,876.7L391.8,877.1L391.8,877.4L391.8,877.8L391.8,878.2L391.8,878.5L391.8,878.9L391.8,879.2L391.8,879.6L391.8,879.9L391.8,880.3L391.8,880.6L392.5,880.4L393.3,880.2L394.0,880.0L394.8,879.8L395.6,879.6L396.3,879.4L397.1,879.2L397.8,879.0L398.6,878.8L399.4,878.6L400.1,878.4L400.9,878.2L400.9,878.6L400.9,878.9L400.9,879.2L400.9,879.5L401.6,879.3L402.4,879.2L402.4,879.5L402.4,879.8L402.4,880.1L402.4,880.4L403.1,880.2L403.9,880.0L404.7,879.9L405.4,879.7L405.4,880.0L406.2,879.8L406.9,879.6L407.7,879.4L408.5,879.3L409.2,879.1L410.0,878.9L410.0,879.2L410.7,879.0L411.5,878.9L412.2,878.7L413.0,878.5L413.0,878.8L413.0,879.1L413.0,879.4L413.0,879.7L413.0,880.0L413.0,880.3L413.8,880.1L413.8,880.4L413.8,880.7L413.8,880.9L413.8,881.2L413.8,881.5L413.8,881.8L413.8,882.1L413.8,882.3L414.5,882.1L414.5,882.4L414.5,882.7L414.5,883.0L414.5,883.2L414.5,883.5L414.5,883.7L414.5,884.0L415.3,883.8L416.0,883.6L416.8,883.5L417.6,883.3L418.3,883.1L419.1,883.0L419.8,882.8L420.6,882.6L421.3,882.5L422.1,882.3L422.9,882.1L422.9,882.4L422.9,882.6L422.9,882.9L422.9,883.1L422.9,883.4L423.6,883.2L424.4,883.0L424.4,883.3L424.4,883.5L424.4,883.8L424.4,884.0L424.4,884.3L424.4,884.5L424.4,884.7L424.4,885.0L424.4,885.2L425.1,885.0L425.1,885.3L425.1,885.5L425.1,885.7L425.1,886.0L425.1,886.2L425.1,886.4L425.1,886.6L425.1,886.8L425.1,887.1L425.1,887.3L425.1,887.5L425.1,887.7L425.1,887.9L425.1,888.1L425.1,888.4L425.9,888.2L426.7,888.0L427.4,887.9L428.2,887.7L428.9,887.5L429.7,887.4L430.4,887.2L431.2,887.1L432.0,886.9L432.0,887.1L432.0,887.3L432.7,887.2L433.5,887.0L434.2,886.8L435.0,886.7L435.0,886.9L435.0,887.1L435.0,887.3L435.0,887.5L435.0,887.7L435.0,887.9L435.0,888.1L435.0,888.3L435.0,888.5L435.0,888.7L435.0,888.9L435.0,889.1L435.0,889.3L435.0,889.5L435.0,889.7L435.0,889.9L435.0,890.1L435.0,890.2L435.0,890.4L435.0,890.6L435.0,890.8L435.0,891.0L435.0,891.2L435.0,891.4L435.0,891.5L435.0,891.7L435.8,891.6L436.5,891.4L437.3,891.3L438.0,891.1L438.8,890.9L439.5,890.8L440.3,890.6L441.1,890.5L441.8,890.3L442.6,890.2L443.3,890.0L444.1,889.9L444.1,890.1L444.1,890.2L444.1,890.4L444.1,890.6L444.1,890.8L444.1,890.9L444.1,891.1L444.1,891.3L444.1,891.5L444.1,891.6L444.9,891.5L445.6,891.3L446.4,891.2L447.1,891.0L447.9,890.9L448.6,890.8L448.6,890.9L448.6,891.1L448.6,891.3L448.6,891.4L448.6,891.6L448.6,891.8L448.6,891.9L448.6,892.1L448.6,892.3L448.6,892.4L448.6,892.6L448.6,892.7L448.6,892.9L448.6,893.1L449.4,892.9L450.2,892.8L450.9,892.6L451.7,892.5L452.4,892.3L453.2,892.2L454.0,892.1L454.7,891.9L455.5,891.8L456.2,891.6L457.0,891.5L457.7,891.4L458.5,891.2L458.5,891.4L458.5,891.5L458.5,891.7L458.5,891.9L458.5,892.0L458.5,892.2L458.5,892.3L458.5,892.5L458.5,892.6L459.3,892.5L460.0,892.3L460.8,892.2L461.5,892.1L462.3,891.9L462.3,892.1L462.3,892.2L462.3,892.4L462.3,892.5L462.3,892.7L462.3,892.8L462.3,893.0L462.3,893.1L462.3,893.3L462.3,893.4L462.3,893.6L462.3,893.7L462.3,893.9L462.3,894.0L462.3,894.1L462.3,894.3L462.3,894.4L462.3,894.6L462.3,894.7L462.3,894.9L462.3,895.0L462.3,895.1L462.3,895.3L462.3,895.4L462.3,895.5L462.3,895.7L462.3,895.8L462.3,896.0L462.3,896.1L462.3,896.2L462.3,896.4L462.3,896.5L462.3,896.6L462.3,896.7L462.3,896.9L462.3,897.0L463.1,896.9L463.8,896.7L464.6,896.6L465.3,896.5L466.1,896.3L466.8,896.2L467.6,896.1L468.4,896.0L469.1,895.8L469.9,895.7L470.6,895.6L470.6,895.7L470.6,895.8L470.6,896.0L470.6,896.1L470.6,896.2L470.6,896.3L470.6,896.5L470.6,896.6L470.6,896.7L470.6,896.8L470.6,897.0L471.4,896.8" fill="none" stroke="#bcbd22" stroke-width="1.3" stroke-linejoin="miter"/>
<path d="M281.8,831.8L281.8,960.1L282.6,928.0L283.3,908.8L284.1,896.0L284.8,886.8L285.6,879.9L286.4,874.6L287.1,870.3L287.9,866.8L288.6,863.9L289.4,861.4L290.1,859.3L290.9,857.5L291.7,855.9L292.4,854.5L293.2,853.2L293.9,852.1L293.9,857.5L294.7,856.3L295.5,855.2L295.5,859.7L296.2,858.6L297.0,857.5L297.7,856.5L298.5,855.6L299.2,854.7L300.0,853.9L300.8,853.2L300.8,856.7L301.5,855.9L302.3,855.2L303.0,854.5L303.8,853.8L304.6,853.2L304.6,856.1L305.3,855.5L306.1,854.9L306.8,854.3L307.6,853.7L307.6,856.3L307.6,858.7L308.3,858.1L309.1,857.5L309.9,856.9L310.6,856.4L311.4,855.9L312.1,855.4L312.9,854.9L313.7,854.5L314.4,854.0L315.2,853.6L315.9,853.2L315.9,855.2L316.7,854.7L317.4,854.3L318.2,853.9L319.0,853.6L319.7,853.2L320.5,852.9L321.2,852.5L322.0,852.2L322.8,851.9L323.5,851.6L324.3,851.3L325.0,851.0L325.8,850.7L325.8,852.3L326.5,852.0L327.3,851.7L328.1,851.4L328.8,851.2L329.6,850.9L330.3,850.6L331.1,850.4L331.1,851.8L331.1,853.2L331.9,852.9L332.6,852.7L333.4,852.4L334.1,852.2L334.9,851.9L334.9,853.2L334.9,854.5L335.6,854.2L336.4,853.9L336.4,855.2L337.2,854.9L337.9,854.6L337.9,855.8L338.7,855.5L339.4,855.3L340.2,855.0L341.0,854.8L341.7,854.5L342.5,854.3L343.2,854.1L344.0,853.9L344.7,853.6L345.5,853.4L345.5,854.5L345.5,855.5L346.3,855.3L347.0,855.0L347.0,856.0L347.0,857.0L347.0,858.0L347.8,857.7L348.5,857.5L349.3,857.3L350.1,857.0L350.8,856.8L350.8,857.7L351.6,857.5L351.6,858.4L351.6,859.2L352.3,859.0L353.1,858.8L353.8,858.6L354.6,858.3L354.6,859.2L354.6,860.0L354.6,860.8L354.6,861.6L355.4,861.3L356.1,861.1L356.9,860.9L357.6,860.7L358.4,860.4L359.2,860.2L359.9,860.0L360.7,859.8L361.4,859.6L361.4,860.3L361.4,861.1L361.4,861.8L362.2,861.6L362.9,861.4L363.7,861.1L363.7,861.8L363.7,862.5L363.7,863.2L364.5,863.0L365.2,862.8L366.0,862.6L366.7,862.4L367.5,862.2L367.5,862.8L367.5,863.5L368.3,863.3L369.0,863.0L369.8,862.8L370.5,862.6L371.3,862.4L371.3,863.1L371.3,863.7L371.3,864.3L372.0,864.1L372.0,864.7L372.0,865.3L372.0,865.9L372.8,865.7L373.6,865.5L374.3,865.3L375.1,865.1L375.8,864.9L376.6,864.7L377.4,864.5L378.1,864.3L378.9,864.1L379.6,863.9L380.4,863.7L381.2,863.5L381.9,863.3L381.9,863.9L381.9,864.4L381.9,865.0L382.7,864.8L382.7,865.3L382.7,865.8L382.7,866.4L382.7,866.9L383.4,866.7L384.2,866.5L384.2,867.0L384.2,867.5L384.2,868.0L384.2,868.5L384.9,868.3L385.7,868.1L385.7,868.6L385.7,869.0L386.5,868.9L387.2,868.7L388.0,868.5L388.7,868.3L389.5,868.1L390.3,867.9L390.3,868.4L390.3,868.8L391.0,868.7L391.0,869.1L391.8,868.9L391.8,869.4L392.5,869.2L393.3,869.0L394.0,868.8L394.0,869.3L394.0,869.7L394.0,870.1L394.0,870.5L394.8,870.4L395.6,870.2L396.3,870.0L397.1,869.8L397.8,869.7L397.8,870.1L397.8,870.5L397.8,870.9L397.8,871.3L397.8,871.7L398.6,871.5L399.4,871.3L400.1,871.2L400.9,871.0L401.6,870.8L401.6,871.2L401.6,871.6L401.6,872.0L401.6,872.4L401.6,872.7L401.6,873.1L401.6,873.5L401.6,873.9L402.4,873.7L402.4,874.0L403.1,873.9L403.9,873.7L404.7,873.5L405.4,873.3L406.2,873.2L406.2,873.5L406.2,873.9L406.2,874.2L406.2,874.6L406.2,874.9L406.2,875.3L406.2,875.6L406.9,875.4L407.7,875.3L408.5,875.1L409.2,874.9L410.0,874.7L410.7,874.6L411.5,874.4L411.5,874.7L411.5,875.1L411.5,875.4L412.2,875.2L413.0,875.1L413.8,874.9L413.8,875.2L413.8,875.6L414.5,875.4L415.3,875.2L416.0,875.1L416.0,875.4L416.0,875.7L416.0,876.0L416.0,876.3L416.0,876.6L416.0,876.9L416.0,877.2L416.0,877.5L416.0,877.8L416.8,877.7L417.6,877.5L418.3,877.3L419.1,877.2L419.8,877.0L420.6,876.9L420.6,877.1L420.6,877.4L420.6,877.7L420.6,878.0L420.6,878.3L420.6,878.6L420.6,878.9L420.6,879.1L420.6,879.4L420.6,879.7L420.6,880.0L421.3,879.8L422.1,879.7L422.9,879.5L423.6,879.3L424.4,879.2L425.1,879.0L425.9,878.9L426.7,878.7L427.4,878.5L428.2,878.4L428.9,878.2L429.7,878.1L430.4,877.9L431.2,877.8L432.0,877.6L432.7,877.5L432.7,877.8L432.7,878.0L432.7,878.3L432.7,878.5L432.7,878.8L432.7,879.1L432.7,879.3L432.7,879.6L433.5,879.4L434.2,879.3L434.2,879.5L434.2,879.8L435.0,879.6L435.8,879.5L436.5,879.3L437.3,879.2L438.0,879.0L438.8,878.9L438.8,879.1L438.8,879.4L438.8,879.6L438.8,879.9L438.8,880.1L438.8,880.4L438.8,880.6L438.8,880.8L438.8,881.1L438.8,881.3L438.8,881.5L438.8,881.8L438.8,882.0L438.8,882.2L438.8,882.5L438.8,882.7L438.8,882.9L438.8,883.1L438.8,883.3L438.8,883.6L438.8,883.8L438.8,884.0L438.8,884.2L438.8,884.4L438.8,884.7L439.5,884.5L440.3,884.4L441.1,884.2L441.8,884.1L442.6,883.9L443.3,883.8L444.1,883.6L444.9,883.5L445.6,883.3L446.4,883.2L447.1,883.1L447.9,882.9L448.6,882.8L449.4,882.6L450.2,882.5L450.2,882.7L450.2,882.9L450.2,883.1L450.2,883.3L450.2,883.5L450.2,883.7L450.2,884.0L450.2,884.2L450.2,884.4L450.2,884.6L450.2,884.8L450.2,885.0L450.2,885.2L450.2,885.3L450.2,885.5L450.2,885.7L450.2,885.9L450.2,886.1L450.2,886.3L450.2,886.5L450.2,886.7L450.2,886.9L450.2,887.1L450.2,887.3L450.2,887.4L450.2,887.6L450.2,887.8L450.2,888.0L450.2,888.2L450.2,888.4L450.2,888.5L450.2,888.7L450.2,888.9L450.2,889.1L450.2,889.3L450.2,889.4L450.2,889.6L450.2,889.8L450.2,889.9L450.2,890.1L450.2,890.3L450.2,890.5L450.2,890.6L450.2,890.8L450.2,891.0L450.2,891.1L450.2,891.3L450.2,891.5L450.9,891.3L451.7,891.2L452.4,891.0L453.2,890.9L453.2,891.1L453.2,891.2L453.2,891.4L453.2,891.6L453.2,891.7L453.2,891.9L453.2,892.0L453.2,892.2L453.2,892.4L453.2,892.5L453.2,892.7L453.2,892.8L453.2,893.0L453.2,893.1L453.2,893.3L453.2,893.4L453.2,893.6L453.2,893.7L453.2,893.9L453.2,894.1L453.2,894.2L453.2,894.4L453.2,894.5L453.2,894.6L453.2,894.8L453.2,894.9L454.0,894.8L454.7,894.7L455.5,894.5L456.2,894.4L457.0,894.2L457.7,894.1L458.5,894.0L459.3,893.8L460.0,893.7L460.8,893.6L461.5,893.4L462.3,893.3L463.1,893.2L463.8,893.0L464.6,892.9L465.3,892.8L465.3,892.9L465.3,893.0L465.3,893.2L465.3,893.3L465.3,893.5L465.3,893.6L465.3,893.8L465.3,893.9L465.3,894.0L465.3,894.2L465.3,894.3L466.1,894.2L466.1,894.3L466.1,894.5L466.1,894.6L466.1,894.7L466.1,894.9L466.1,895.0L466.1,895.1L466.1,895.3L466.8,895.2L467.6,895.0L468.4,894.9L469.1,894.8L469.1,894.9L469.1,895.0L469.1,895.2L469.1,895.3L469.1,895.4L469.1,895.6L469.9,895.4L469.9,895.6L469.9,895.7L469.9,895.8L469.9,896.0L469.9,896.1L469.9,896.2L469.9,896.3L469.9,896.5L469.9,896.6L469.9,896.7L469.9,896.8L470.6,896.7L471.4,896.6" fill="none" stroke="#17becf" stroke-width="1.3" stroke-linejoin="miter"/>
</g></svg>
<line x1="281.8" y1="898.77" x2="471.4" y2="898.77" stroke="#00007f" stroke-width="1.3" stroke-dasharray="3.6,2.2"/>
<rect x="285.0" y="875.9" width="68.1" height="86.7" rx="1.8" fill="#fff" fill-opacity="0.8" stroke="#d0d0d0" stroke-width="0.8"/>
<line x1="286.8" y1="881.30" x2="299.4" y2="881.30" stroke="#1f77b4" stroke-width="1.3"/>
<text x="303.20" y="883.60" font-size="6.4" fill="#111" stroke="#111" stroke-width="0.3">CV1,AUC=0.76</text>
<line x1="286.8" y1="889.61" x2="299.4" y2="889.61" stroke="#ff7f0e" stroke-width="1.3"/>
<text x="303.20" y="891.91" font-size="6.4" fill="#111" stroke="#111" stroke-width="0.3">CV2,AUC=0.69</text>
<line x1="286.8" y1="897.92" x2="299.4" y2="897.92" stroke="#2ca02c" stroke-width="1.3"/>
<text x="303.20" y="900.22" font-size="6.4" fill="#111" stroke="#111" stroke-width="0.3">CV3,AUC=0.68</text>
<line x1="286.8" y1="906.23" x2="299.4" y2="906.23" stroke="#d62728" stroke-width="1.3"/>
<text x="303.20" y="908.53" font-size="6.4" fill="#111" stroke="#111" stroke-width="0.3">CV4,AUC=0.71</text>
<line x1="286.8" y1="914.54" x2="299.4" y2="914.54" stroke="#9467bd" stroke-width="1.3"/>
<text x="303.20" y="916.84" font-size="6.4" fill="#111" stroke="#111" stroke-width="0.3">CV5,AUC=0.72</text>
<line x1="286.8" y1="922.85" x2="299.4" y2="922.85" stroke="#8c564b" stroke-width="1.3"/>
<text x="303.20" y="925.15" font-size="6.4" fill="#111" stroke="#111" stroke-width="0.3">CV6,AUC=0.66</text>
<line x1="286.8" y1="931.16" x2="299.4" y2="931.16" stroke="#e377c2" stroke-width="1.3"/>
<text x="303.20" y="933.46" font-size="6.4" fill="#111" stroke="#111" stroke-width="0.3">CV7,AUC=0.66</text>
<line x1="286.8" y1="939.47" x2="299.4" y2="939.47" stroke="#7f7f7f" stroke-width="1.3"/>
<text x="303.20" y="941.77" font-size="6.4" fill="#111" stroke="#111" stroke-width="0.3">CV8,AUC=0.74</text>
<line x1="286.8" y1="947.78" x2="299.4" y2="947.78" stroke="#bcbd22" stroke-width="1.3"/>
<text x="303.20" y="950.08" font-size="6.4" fill="#111" stroke="#111" stroke-width="0.3">CV9,AUC=0.68</text>
<line x1="286.8" y1="956.09" x2="299.4" y2="956.09" stroke="#17becf" stroke-width="1.3"/>
<text x="303.20" y="958.39" font-size="6.4" fill="#111" stroke="#111" stroke-width="0.3">CV10,AUC=0.71</text>
<rect x="281.8" y="825.4" width="189.60" height="141.10" fill="none" stroke="#000" stroke-width="0.8"/>
<line x1="281.80" y1="966.5" x2="281.80" y2="969.1" stroke="#000" stroke-width="0.7"/>
<text x="281.80" y="975.10" font-size="7.3" fill="#111" text-anchor="middle" stroke="#111" stroke-width="0.3">0.0</text>
<line x1="319.72" y1="966.5" x2="319.72" y2="969.1" stroke="#000" stroke-width="0.7"/>
<text x="319.72" y="975.10" font-size="7.3" fill="#111" text-anchor="middle" stroke="#111" stroke-width="0.3">0.2</text>
<line x1="357.64" y1="966.5" x2="357.64" y2="969.1" stroke="#000" stroke-width="0.7"/>
<text x="357.64" y="975.10" font-size="7.3" fill="#111" text-anchor="middle" stroke="#111" stroke-width="0.3">0.4</text>
<line x1="395.56" y1="966.5" x2="395.56" y2="969.1" stroke="#000" stroke-width="0.7"/>
<text x="395.56" y="975.10" font-size="7.3" fill="#111" text-anchor="middle" stroke="#111" stroke-width="0.3">0.6</text>
<line x1="433.48" y1="966.5" x2="433.48" y2="969.1" stroke="#000" stroke-width="0.7"/>
<text x="433.48" y="975.10" font-size="7.3" fill="#111" text-anchor="middle" stroke="#111" stroke-width="0.3">0.8</text>
<line x1="471.40" y1="966.5" x2="471.40" y2="969.1" stroke="#000" stroke-width="0.7"/>
<text x="471.40" y="975.10" font-size="7.3" fill="#111" text-anchor="middle" stroke="#111" stroke-width="0.3">1.0</text>
<line x1="279.2" y1="960.06" x2="281.8" y2="960.06" stroke="#000" stroke-width="0.7"/>
<text x="278.20" y="962.76" font-size="7.3" fill="#111" text-anchor="end" stroke="#111" stroke-width="0.3">0.0</text>
<line x1="279.2" y1="934.42" x2="281.8" y2="934.42" stroke="#000" stroke-width="0.7"/>
<text x="278.20" y="937.12" font-size="7.3" fill="#111" text-anchor="end" stroke="#111" stroke-width="0.3">0.2</text>
<line x1="279.2" y1="908.77" x2="281.8" y2="908.77" stroke="#000" stroke-width="0.7"/>
<text x="278.20" y="911.47" font-size="7.3" fill="#111" text-anchor="end" stroke="#111" stroke-width="0.3">0.4</text>
<line x1="279.2" y1="883.13" x2="281.8" y2="883.13" stroke="#000" stroke-width="0.7"/>
<text x="278.20" y="885.83" font-size="7.3" fill="#111" text-anchor="end" stroke="#111" stroke-width="0.3">0.6</text>
<line x1="279.2" y1="857.48" x2="281.8" y2="857.48" stroke="#000" stroke-width="0.7"/>
<text x="278.20" y="860.18" font-size="7.3" fill="#111" text-anchor="end" stroke="#111" stroke-width="0.3">0.8</text>
<line x1="279.2" y1="831.84" x2="281.8" y2="831.84" stroke="#000" stroke-width="0.7"/>
<text x="278.20" y="834.54" font-size="7.3" fill="#111" text-anchor="end" stroke="#111" stroke-width="0.3">1.0</text>
<text x="265.50" y="895.95" font-size="7.9" fill="#111" text-anchor="middle" transform="rotate(-90 265.50 895.95)" stroke="#111" stroke-width="0.3">Precision</text>
<text x="376.60" y="983.50" font-size="7.9" fill="#111" text-anchor="middle" stroke="#111" stroke-width="0.3">Recall</text>
</svg>
</body></html>
